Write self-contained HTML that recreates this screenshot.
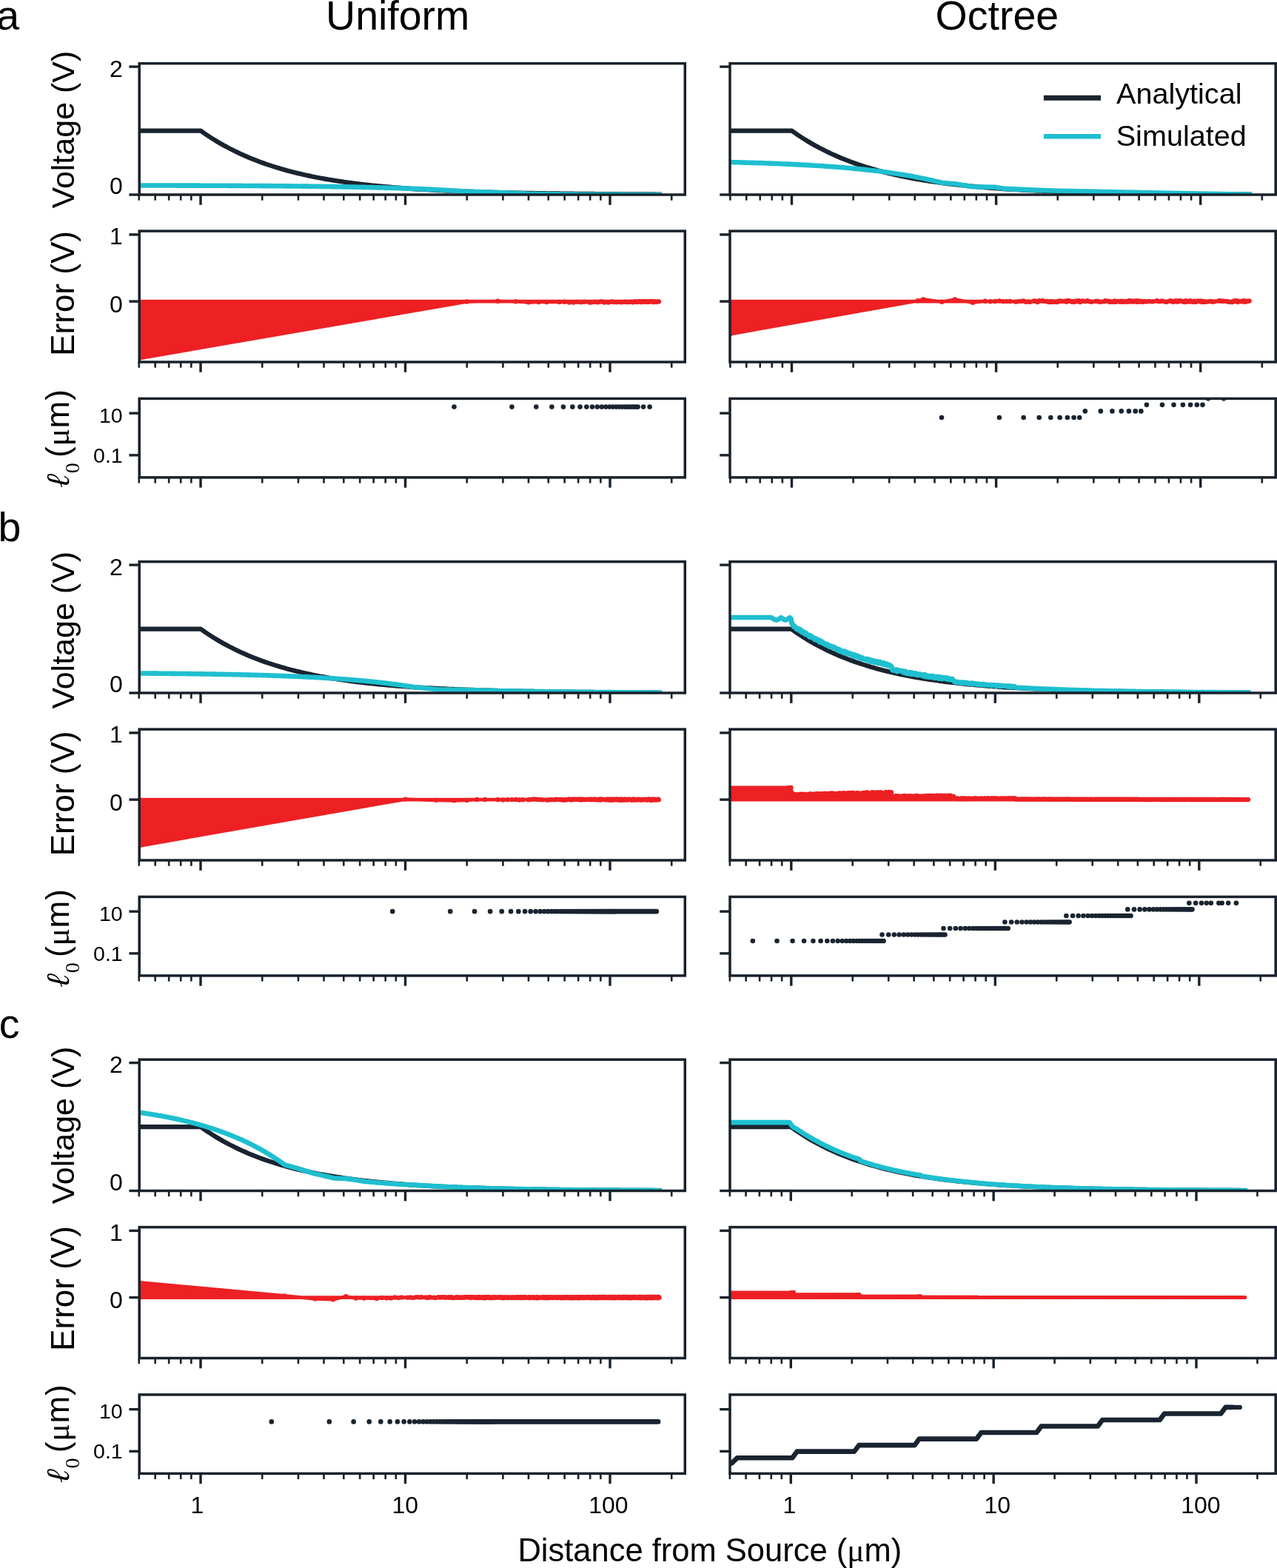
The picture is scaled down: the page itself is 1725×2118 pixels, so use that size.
<!DOCTYPE html>
<html><head><meta charset="utf-8"><title>Figure</title>
<style>html,body{margin:0;padding:0;background:#fff;overflow:hidden}svg{display:block}</style>
</head><body>
<svg width="1725" height="2118" viewBox="0 0 1725 2118"><defs><clipPath id="c00V"><rect x="188.2" y="85.7" width="737.1" height="177.3"/></clipPath><clipPath id="c00E"><rect x="188.2" y="312.1" width="737.1" height="176.9"/></clipPath><clipPath id="c00L"><rect x="188.2" y="538.4" width="737.1" height="106.5"/></clipPath><clipPath id="c01V"><rect x="188.2" y="758.7" width="737.1" height="177.3"/></clipPath><clipPath id="c01E"><rect x="188.2" y="985.1" width="737.1" height="176.9"/></clipPath><clipPath id="c01L"><rect x="188.2" y="1211.4" width="737.1" height="106.5"/></clipPath><clipPath id="c02V"><rect x="188.2" y="1431.2" width="737.1" height="177.3"/></clipPath><clipPath id="c02E"><rect x="188.2" y="1657.6" width="737.1" height="176.9"/></clipPath><clipPath id="c02L"><rect x="188.2" y="1883.9" width="737.1" height="106.5"/></clipPath><clipPath id="c10V"><rect x="986" y="85.7" width="737.2" height="177.3"/></clipPath><clipPath id="c10E"><rect x="986" y="312.1" width="737.2" height="176.9"/></clipPath><clipPath id="c10L"><rect x="986" y="538.4" width="737.2" height="106.5"/></clipPath><clipPath id="c11V"><rect x="986" y="758.7" width="737.2" height="177.3"/></clipPath><clipPath id="c11E"><rect x="986" y="985.1" width="737.2" height="176.9"/></clipPath><clipPath id="c11L"><rect x="986" y="1211.4" width="737.2" height="106.5"/></clipPath><clipPath id="c12V"><rect x="986" y="1431.2" width="737.2" height="177.3"/></clipPath><clipPath id="c12E"><rect x="986" y="1657.6" width="737.2" height="176.9"/></clipPath><clipPath id="c12L"><rect x="986" y="1883.9" width="737.2" height="106.5"/></clipPath></defs><rect width="100%" height="100%" fill="#fff"/><g clip-path="url(#c00V)">
<polyline points="187.77,176.55 271,176.55 274.87,179.29 278.74,181.95 282.62,184.52 286.49,187.01 290.36,189.42 294.23,191.76 298.1,194.02 301.98,196.21 305.85,198.33 309.72,200.38 313.59,202.36 317.46,204.29 321.34,206.15 325.21,207.96 329.08,209.7 332.95,211.39 336.82,213.03 340.7,214.62 344.57,216.15 348.44,217.64 352.31,219.08 356.18,220.47 360.05,221.82 363.93,223.13 367.8,224.39 371.67,225.62 375.54,226.8 379.41,227.95 383.29,229.06 387.16,230.14 391.03,231.18 394.9,232.19 398.77,233.17 402.65,234.12 406.52,235.03 410.39,235.92 414.26,236.78 418.13,237.61 422.01,238.42 425.88,239.2 429.75,239.95 433.62,240.68 437.49,241.39 441.37,242.08 445.24,242.74 449.11,243.38 452.98,244.01 456.85,244.61 460.73,245.19 464.6,245.76 468.47,246.3 472.34,246.83 476.21,247.35 480.09,247.84 483.96,248.33 487.83,248.79 491.7,249.24 495.57,249.68 499.45,250.1 503.32,250.51 507.19,250.91 511.06,251.29 514.93,251.66 518.8,252.02 522.68,252.37 526.55,252.71 530.42,253.03 534.29,253.35 538.16,253.66 542.04,253.95 545.91,254.24 549.78,254.52 553.65,254.79 557.52,255.05 561.4,255.3 565.27,255.54 569.14,255.78 573.01,256.01 576.88,256.23 580.76,256.45 584.63,256.65 588.5,256.86 592.37,257.05 596.24,257.24 600.12,257.42 603.99,257.6 607.86,257.77 611.73,257.94 615.6,258.1 619.48,258.25 623.35,258.4 627.22,258.55 631.09,258.69 634.96,258.83 638.84,258.96 642.71,259.09 646.58,259.21 650.45,259.33 654.32,259.45 658.19,259.56 662.07,259.67 665.94,259.78 669.81,259.88 673.68,259.98 677.55,260.07 681.43,260.17 685.3,260.26 689.17,260.34 693.04,260.43 696.91,260.51 700.79,260.59 704.66,260.66 708.53,260.74 712.4,260.81 716.27,260.88 720.15,260.95 724.02,261.01 727.89,261.08 731.76,261.14 735.63,261.2 739.51,261.25 743.38,261.31 747.25,261.36 751.12,261.41 754.99,261.46 758.87,261.51 762.74,261.56 766.61,261.61 770.48,261.65 774.35,261.69 778.23,261.73 782.1,261.77 785.97,261.81 789.84,261.85 793.71,261.89 797.59,261.92 801.46,261.96 805.33,261.99 809.2,262.02 813.07,262.05 816.94,262.08 820.82,262.11 824.69,262.14 828.56,262.17 832.43,262.19 836.3,262.22 840.18,262.24 844.05,262.27 847.92,262.29 851.79,262.31 855.66,262.34 859.54,262.36 863.41,262.38 867.28,262.4 871.15,262.42 875.02,262.43 878.9,262.45 882.77,262.47 886.64,262.49 890.51,262.5" fill="none" stroke="#1a2430" stroke-width="6.2" stroke-linejoin="round" stroke-linecap="square"/>
<polyline points="187.77,250.46 188.94,250.47 190.11,250.47 191.28,250.47 192.46,250.47 193.63,250.48 194.8,250.48 195.98,250.48 197.15,250.48 198.32,250.48 199.5,250.49 200.67,250.49 201.84,250.49 203.02,250.49 204.19,250.5 205.36,250.5 206.54,250.5 207.71,250.5 208.88,250.51 210.06,250.51 211.23,250.51 212.4,250.51 213.58,250.52 214.75,250.52 215.92,250.52 217.1,250.52 218.27,250.53 219.44,250.53 220.61,250.53 221.79,250.53 222.96,250.54 224.13,250.54 225.31,250.54 226.48,250.54 227.65,250.55 228.83,250.55 230,250.55 231.17,250.56 232.35,250.56 233.52,250.56 234.69,250.57 235.87,250.57 237.04,250.57 238.21,250.57 239.39,250.58 240.56,250.58 241.73,250.58 242.91,250.59 244.08,250.59 245.25,250.59 246.43,250.6 247.6,250.6 248.77,250.6 249.94,250.61 251.12,250.61 252.29,250.61 253.46,250.62 254.64,250.62 255.81,250.63 256.98,250.63 258.16,250.63 259.33,250.64 260.5,250.64 261.68,250.64 262.85,250.65 264.02,250.65 265.2,250.66 266.37,250.66 267.54,250.66 268.72,250.67 269.89,250.67 271.06,250.68 272.24,250.68 273.41,250.68 274.58,250.69 275.76,250.69 276.93,250.7 278.1,250.7 279.27,250.71 280.45,250.71 281.62,250.71 282.79,250.72 283.97,250.72 285.14,250.73 286.31,250.73 287.49,250.74 288.66,250.74 289.83,250.75 291.01,250.75 292.18,250.76 293.35,250.76 294.53,250.77 295.7,250.77 296.87,250.78 298.05,250.78 299.22,250.79 300.39,250.79 301.57,250.8 302.74,250.8 303.91,250.81 305.09,250.81 306.26,250.82 307.43,250.82 308.6,250.83 309.78,250.84 310.95,250.84 312.12,250.85 313.3,250.85 314.47,250.86 315.64,250.86 316.82,250.87 317.99,250.88 319.16,250.88 320.34,250.89 321.51,250.9 322.68,250.9 323.86,250.91 325.03,250.91 326.2,250.92 327.38,250.93 328.55,250.93 329.72,250.94 330.9,250.95 332.07,250.95 333.24,250.96 334.42,250.97 335.59,250.98 336.76,250.98 337.93,250.99 339.11,251 340.28,251 341.45,251.01 342.63,251.02 343.8,251.03 344.97,251.03 346.15,251.04 347.32,251.05 348.49,251.06 349.67,251.07 350.84,251.07 352.01,251.08 353.19,251.09 354.36,251.1 355.53,251.11 356.71,251.11 357.88,251.12 359.05,251.13 360.23,251.14 361.4,251.15 362.57,251.16 363.75,251.17 364.92,251.17 366.09,251.18 367.26,251.19 368.44,251.2 369.61,251.21 370.78,251.22 371.96,251.23 373.13,251.24 374.3,251.25 375.48,251.26 376.65,251.27 377.82,251.28 379,251.29 380.17,251.3 381.34,251.31 382.52,251.32 383.69,251.33 384.86,251.34 386.04,251.35 387.21,251.36 388.38,251.37 389.56,251.38 390.73,251.4 391.9,251.41 393.08,251.42 394.25,251.43 395.42,251.44 396.59,251.45 397.77,251.46 398.94,251.48 400.11,251.49 401.29,251.5 402.46,251.51 403.63,251.53 404.81,251.54 405.98,251.55 407.15,251.56 408.33,251.58 409.5,251.59 410.67,251.6 411.85,251.62 413.02,251.63 414.19,251.64 415.37,251.66 416.54,251.67 417.71,251.68 418.89,251.7 420.06,251.71 421.23,251.73 422.41,251.74 423.58,251.75 424.75,251.77 425.92,251.78 427.1,251.8 428.27,251.81 429.44,251.83 430.62,251.85 431.79,251.86 432.96,251.88 434.14,251.89 435.31,251.91 436.48,251.93 437.66,251.94 438.83,251.96 440,251.97 441.18,251.99 442.35,252.01 443.52,252.03 444.7,252.04 445.87,252.06 447.04,252.08 448.22,252.1 449.39,252.11 450.56,252.13 451.74,252.15 452.91,252.17 454.08,252.19 455.25,252.21 456.43,252.23 457.6,252.25 458.77,252.27 459.95,252.29 461.12,252.31 462.29,252.33 463.47,252.35 464.64,252.37 465.81,252.39 466.99,252.41 468.16,252.43 469.33,252.45 470.51,252.47 471.68,252.49 472.85,252.52 474.03,252.54 475.2,252.56 476.37,252.58 477.55,252.61 478.72,252.63 479.89,252.65 481.07,252.68 482.24,252.7 483.41,252.72 484.58,252.75 485.76,252.77 486.93,252.8 488.1,252.82 489.28,252.85 490.45,252.87 491.62,252.9 492.8,252.92 493.97,252.95 495.14,252.98 496.32,253 497.49,253.03 498.66,253.06 499.84,253.09 501.01,253.11 502.18,253.14 503.36,253.17 504.53,253.2 505.7,253.23 506.88,253.26 508.05,253.29 509.22,253.32 510.4,253.35 511.57,253.38 512.74,253.41 513.91,253.44 515.09,253.47 516.26,253.5 517.43,253.53 518.61,253.57 519.78,253.6 520.95,253.63 522.13,253.66 523.3,253.7 524.47,253.73 525.65,253.77 526.82,253.8 527.99,253.83 529.17,253.87 530.34,253.9 531.51,253.94 532.69,253.98 533.86,254.01 535.03,254.05 536.21,254.09 537.38,254.13 538.55,254.16 539.73,254.2 540.9,254.24 542.07,254.28 543.24,254.32 544.42,254.36 545.59,254.4 546.76,254.44 547.94,254.48 549.11,254.52 550.28,254.56 551.46,254.61 552.63,254.65 553.8,254.69 554.98,254.74 556.15,254.78 557.32,254.82 558.5,254.87 559.67,254.92 560.84,254.96 562.02,255.01 563.19,255.05 564.36,255.1 565.54,255.15 566.71,255.2 567.88,255.24 569.06,255.29 570.23,255.34 571.4,255.39 572.57,255.44 573.75,255.49 574.92,255.55 576.09,255.6 577.27,255.65 578.44,255.7 579.61,255.76 580.79,255.81 581.96,255.87 583.13,255.92 584.31,255.98 585.48,256.03 586.65,256.09 587.83,256.15 589,256.2 590.17,256.26 591.35,256.32 592.52,256.38 593.69,256.44 594.87,256.5 596.04,256.56 597.21,256.63 598.39,256.69 599.56,256.75 600.73,256.82 601.9,256.88 603.08,256.94 604.25,257.01 605.42,257.08 606.6,257.14 607.77,257.21 608.94,257.28 610.12,257.35 611.29,257.42 612.46,257.49 613.64,257.56 614.81,257.63 615.98,257.7 617.16,257.78 618.33,257.85 619.5,257.93 620.68,258 621.85,258.08 623.02,258.15 624.2,258.23 625.37,258.31 626.54,258.39 627.72,258.47 628.89,258.55 630.06,258.63 630.73,258.68 631.23,258.69 632.41,258.72 633.58,258.75 634.75,258.78 635.93,258.82 637.1,258.85 638.27,258.88 639.45,258.91 640.62,258.94 641.79,258.98 642.97,259.01 644.14,259.05 645.31,259.08 646.49,259.11 647.66,259.15 648.83,259.18 650.01,259.22 651.18,259.26 652.35,259.29 653.53,259.33 654.7,259.36 655.87,259.4 657.05,259.44 658.22,259.48 659.39,259.52 660.56,259.56 661.74,259.59 662.91,259.63 664.08,259.67 665.26,259.71 666.43,259.75 667.6,259.8 668.78,259.84 669.95,259.88 671.12,259.92 672.3,259.96 673.47,260.01 674.64,260.05 675.82,260.1 676.99,260.14 678.16,260.18 679.34,260.23 680.51,260.28 681.68,260.32 682.86,260.37 684.03,260.42 685.2,260.46 686.38,260.51 687.55,260.56 688.72,260.61 689.89,260.66 691.07,260.71 692.24,260.76 693.41,260.81 694.59,260.86 695.76,260.91 696.93,260.97 698.11,261.02 699.28,261.07 700.45,261.13 701.63,261.18 702.8,261.24 703.97,261.29 705.15,261.35 706.32,261.41 707.49,261.46 708.67,261.52 709.84,261.58 711.01,261.64 712.19,261.7 713.36,261.76 713.97,261.79 714.53,261.8 715.71,261.81 716.88,261.83 718.05,261.84 719.22,261.85 720.4,261.87 721.57,261.88 722.74,261.9 723.92,261.91 725.09,261.93 726.26,261.95 727.44,261.96 728.61,261.98 729.78,261.99 730.96,262.01 732.13,262.02 733.3,262.04 734.48,262.06 735.65,262.07 736.82,262.09 738,262.11 739.17,262.13 740.34,262.14 741.52,262.16 742.69,262.18 743.86,262.2 745.04,262.22 746.21,262.23 747.38,262.25 748.55,262.27 749.73,262.29 750.9,262.31 752.07,262.33 753.25,262.35 754.42,262.37 755.59,262.39 756.77,262.41 757.94,262.43 759.11,262.45 760.29,262.47 761.46,262.49 762.63,262.51 763.81,262.52 764.98,262.53 766.15,262.54 767.33,262.55 768.5,262.56 769.67,262.58 770.85,262.59 772.02,262.6 773.19,262.61 774.37,262.62 775.54,262.63 776.71,262.64 777.88,262.66 779.06,262.67 780.23,262.68 781.4,262.69 782.58,262.71 783.75,262.72 784.92,262.73 786.1,262.74 787.27,262.76 788.44,262.77 789.62,262.78 790.79,262.8 791.96,262.81 793.14,262.82 794.31,262.84 795.48,262.85 796.66,262.86 797.2,262.87 797.83,262.87 799,262.87 800.18,262.87 801.35,262.88 802.52,262.88 803.7,262.88 804.87,262.88 806.04,262.88 807.21,262.89 808.39,262.89 809.56,262.89 810.73,262.89 811.91,262.89 813.08,262.89 814.25,262.9 815.43,262.9 816.6,262.9 817.77,262.9 818.95,262.9 820.12,262.91 821.29,262.91 822.47,262.91 823.64,262.91 824.81,262.91 825.99,262.91 827.16,262.92 828.33,262.92 829.51,262.92 830.68,262.92 831.85,262.92 833.03,262.92 834.2,262.92 835.37,262.92 836.54,262.92 837.72,262.92 838.89,262.92 840.06,262.92 841.24,262.92 842.41,262.93 843.58,262.93 844.76,262.93 845.89,262.93 847.1,262.93 848.28,262.93 849.45,262.93 850.62,262.93 851.8,262.93 852.97,262.93 854.14,262.93 855.32,262.93 856.49,262.93 857.66,262.93 858.84,262.93 860.01,262.94 861.18,262.94 862.36,262.94 863.53,262.94 864.4,262.94 865.87,262.94 867.05,262.94 868.22,262.94 869.39,262.94 870.57,262.94 871.74,262.94 872.91,262.94 874.09,262.94 875.26,262.94 876.43,262.94 877.61,262.94 878.78,262.95 879.95,262.95 880.44,262.95 881.13,262.95 882.3,262.95 883.47,262.95 884.65,262.95 885.82,262.95 886.99,262.95 888.17,262.95 889.34,262.95 890.51,262.95" fill="none" stroke="#1ebfcf" stroke-width="6.6" stroke-linejoin="round" stroke-linecap="square"/>
</g>
<g clip-path="url(#c00E)">
<polygon points="187.77,407.1 187.77,484.22 630.73,407.5 672.35,406.75 696.7,407.29 713.97,408.36 727.37,408.04 738.31,408.07 755.59,407.89 762.66,407.78 768.98,408.52 774.71,408.58 779.93,407.7 784.74,408.14 789.19,407.79 797.2,408.63 800.84,408.12 804.28,407.8 807.52,408.31 810.6,407.51 813.53,407.54 816.32,408.47 821.55,408.44 824,407.87 826.35,407.42 828.62,408.01 832.91,408.16 834.95,407.92 838.82,408.33 840.67,408.11 842.46,407.86 844.2,407.79 845.89,408.07 847.54,408.06 849.14,408.06 852.22,407.79 853.7,407.96 855.15,408.24 856.56,407.35 857.94,407.65 859.29,407.55 860.61,408.04 863.17,407.15 864.4,407.29 865.62,408.08 866.81,407.85 867.97,407.42 869.12,407.43 870.24,407.18 872.42,407.73 873.48,407.28 874.53,407.45 875.56,407.84 877.56,407.52 878.53,407.2 880.44,407.23 881.37,407.6 882.29,407.5 883.19,408.1 884.08,407.87 884.96,407.27 885.82,407.68 887.51,407.93 888.34,407.52 889.16,407.35 889.96,407.38 889.96,407.1" fill="#ed2024" stroke="#ed2024" stroke-width="4.6" stroke-linejoin="round"/>
<circle cx="187.77" cy="484.22" r="3.2" fill="#ed2024"/>
<circle cx="630.73" cy="407.5" r="3.2" fill="#ed2024"/>
<circle cx="672.35" cy="406.75" r="3.2" fill="#ed2024"/>
<circle cx="696.7" cy="407.29" r="3.2" fill="#ed2024"/>
<circle cx="713.97" cy="408.36" r="3.2" fill="#ed2024"/>
<circle cx="727.37" cy="408.04" r="3.2" fill="#ed2024"/>
<circle cx="738.31" cy="408.07" r="3.2" fill="#ed2024"/>
<circle cx="755.59" cy="407.89" r="3.2" fill="#ed2024"/>
<circle cx="762.66" cy="407.78" r="3.2" fill="#ed2024"/>
<circle cx="768.98" cy="408.52" r="3.2" fill="#ed2024"/>
<circle cx="774.71" cy="408.58" r="3.2" fill="#ed2024"/>
<circle cx="779.93" cy="407.7" r="3.2" fill="#ed2024"/>
<circle cx="784.74" cy="408.14" r="3.2" fill="#ed2024"/>
<circle cx="789.19" cy="407.79" r="3.2" fill="#ed2024"/>
<circle cx="797.2" cy="408.63" r="3.2" fill="#ed2024"/>
<circle cx="800.84" cy="408.12" r="3.2" fill="#ed2024"/>
<circle cx="804.28" cy="407.8" r="3.2" fill="#ed2024"/>
<circle cx="807.52" cy="408.31" r="3.2" fill="#ed2024"/>
<circle cx="810.6" cy="407.51" r="3.2" fill="#ed2024"/>
<circle cx="813.53" cy="407.54" r="3.2" fill="#ed2024"/>
<circle cx="816.32" cy="408.47" r="3.2" fill="#ed2024"/>
<circle cx="821.55" cy="408.44" r="3.2" fill="#ed2024"/>
<circle cx="824" cy="407.87" r="3.2" fill="#ed2024"/>
<circle cx="826.35" cy="407.42" r="3.2" fill="#ed2024"/>
<circle cx="828.62" cy="408.01" r="3.2" fill="#ed2024"/>
<circle cx="832.91" cy="408.16" r="3.2" fill="#ed2024"/>
<circle cx="834.95" cy="407.92" r="3.2" fill="#ed2024"/>
<circle cx="838.82" cy="408.33" r="3.2" fill="#ed2024"/>
<circle cx="840.67" cy="408.11" r="3.2" fill="#ed2024"/>
<circle cx="842.46" cy="407.86" r="3.2" fill="#ed2024"/>
<circle cx="844.2" cy="407.79" r="3.2" fill="#ed2024"/>
<circle cx="845.89" cy="408.07" r="3.2" fill="#ed2024"/>
<circle cx="847.54" cy="408.06" r="3.2" fill="#ed2024"/>
<circle cx="849.14" cy="408.06" r="3.2" fill="#ed2024"/>
<circle cx="852.22" cy="407.79" r="3.2" fill="#ed2024"/>
<circle cx="853.7" cy="407.96" r="3.2" fill="#ed2024"/>
<circle cx="855.15" cy="408.24" r="3.2" fill="#ed2024"/>
<circle cx="856.56" cy="407.35" r="3.2" fill="#ed2024"/>
<circle cx="857.94" cy="407.65" r="3.2" fill="#ed2024"/>
<circle cx="859.29" cy="407.55" r="3.2" fill="#ed2024"/>
<circle cx="860.61" cy="408.04" r="3.2" fill="#ed2024"/>
<circle cx="863.17" cy="407.15" r="3.2" fill="#ed2024"/>
<circle cx="864.4" cy="407.29" r="3.2" fill="#ed2024"/>
<circle cx="865.62" cy="408.08" r="3.2" fill="#ed2024"/>
<circle cx="866.81" cy="407.85" r="3.2" fill="#ed2024"/>
<circle cx="867.97" cy="407.42" r="3.2" fill="#ed2024"/>
<circle cx="869.12" cy="407.43" r="3.2" fill="#ed2024"/>
<circle cx="870.24" cy="407.18" r="3.2" fill="#ed2024"/>
<circle cx="872.42" cy="407.73" r="3.2" fill="#ed2024"/>
<circle cx="873.48" cy="407.28" r="3.2" fill="#ed2024"/>
<circle cx="874.53" cy="407.45" r="3.2" fill="#ed2024"/>
<circle cx="875.56" cy="407.84" r="3.2" fill="#ed2024"/>
<circle cx="877.56" cy="407.52" r="3.2" fill="#ed2024"/>
<circle cx="878.53" cy="407.2" r="3.2" fill="#ed2024"/>
<polyline points="880.44,407.23 881.37,407.6 882.29,407.5" fill="none" stroke="#ed2024" stroke-width="6.4" stroke-linecap="round" stroke-linejoin="round"/>
<polyline points="883.19,408.1 884.08,407.87" fill="none" stroke="#ed2024" stroke-width="6.4" stroke-linecap="round" stroke-linejoin="round"/>
<polyline points="884.96,407.27 885.82,407.68" fill="none" stroke="#ed2024" stroke-width="6.4" stroke-linecap="round" stroke-linejoin="round"/>
<polyline points="887.51,407.93 888.34,407.52 889.16,407.35 889.96,407.38" fill="none" stroke="#ed2024" stroke-width="6.4" stroke-linecap="round" stroke-linejoin="round"/>
</g>
<g clip-path="url(#c00L)">
<circle cx="613.46" cy="549.62" r="3.3" fill="#1a2430"/>
<circle cx="691.47" cy="549.62" r="3.3" fill="#1a2430"/>
<circle cx="724.29" cy="549.62" r="3.3" fill="#1a2430"/>
<circle cx="745.39" cy="549.62" r="3.3" fill="#1a2430"/>
<circle cx="760.97" cy="549.62" r="3.3" fill="#1a2430"/>
<circle cx="773.33" cy="549.62" r="3.3" fill="#1a2430"/>
<circle cx="783.57" cy="549.62" r="3.3" fill="#1a2430"/>
<circle cx="792.32" cy="549.62" r="3.3" fill="#1a2430"/>
<circle cx="799.95" cy="549.62" r="3.3" fill="#1a2430"/>
<circle cx="806.73" cy="549.62" r="3.3" fill="#1a2430"/>
<circle cx="812.81" cy="549.62" r="3.3" fill="#1a2430"/>
<circle cx="818.34" cy="549.62" r="3.3" fill="#1a2430"/>
<circle cx="823.4" cy="549.62" r="3.3" fill="#1a2430"/>
<circle cx="828.06" cy="549.62" r="3.3" fill="#1a2430"/>
<circle cx="832.39" cy="549.62" r="3.3" fill="#1a2430"/>
<circle cx="836.43" cy="549.62" r="3.3" fill="#1a2430"/>
<circle cx="840.21" cy="549.62" r="3.3" fill="#1a2430"/>
<circle cx="843.77" cy="549.62" r="3.3" fill="#1a2430"/>
<circle cx="847.13" cy="549.62" r="3.3" fill="#1a2430"/>
<circle cx="850.31" cy="549.62" r="3.3" fill="#1a2430"/>
<circle cx="853.33" cy="549.62" r="3.3" fill="#1a2430"/>
<circle cx="856.21" cy="549.62" r="3.3" fill="#1a2430"/>
<circle cx="858.96" cy="549.62" r="3.3" fill="#1a2430"/>
<circle cx="861.58" cy="549.62" r="3.3" fill="#1a2430"/>
<circle cx="869.11" cy="549.62" r="3.3" fill="#1a2430"/>
<circle cx="877.63" cy="549.62" r="3.3" fill="#1a2430"/>
</g>
<g clip-path="url(#c01V)">
<polyline points="187.77,849.55 271,849.55 274.87,852.29 278.74,854.95 282.62,857.52 286.49,860.01 290.36,862.42 294.23,864.76 298.1,867.02 301.98,869.21 305.85,871.33 309.72,873.38 313.59,875.36 317.46,877.29 321.34,879.15 325.21,880.96 329.08,882.7 332.95,884.39 336.82,886.03 340.7,887.62 344.57,889.15 348.44,890.64 352.31,892.08 356.18,893.47 360.05,894.82 363.93,896.13 367.8,897.39 371.67,898.62 375.54,899.8 379.41,900.95 383.29,902.06 387.16,903.14 391.03,904.18 394.9,905.19 398.77,906.17 402.65,907.12 406.52,908.03 410.39,908.92 414.26,909.78 418.13,910.61 422.01,911.42 425.88,912.2 429.75,912.95 433.62,913.68 437.49,914.39 441.37,915.08 445.24,915.74 449.11,916.38 452.98,917.01 456.85,917.61 460.73,918.19 464.6,918.76 468.47,919.3 472.34,919.83 476.21,920.35 480.09,920.84 483.96,921.33 487.83,921.79 491.7,922.24 495.57,922.68 499.45,923.1 503.32,923.51 507.19,923.91 511.06,924.29 514.93,924.66 518.8,925.02 522.68,925.37 526.55,925.71 530.42,926.03 534.29,926.35 538.16,926.66 542.04,926.95 545.91,927.24 549.78,927.52 553.65,927.79 557.52,928.05 561.4,928.3 565.27,928.54 569.14,928.78 573.01,929.01 576.88,929.23 580.76,929.45 584.63,929.65 588.5,929.86 592.37,930.05 596.24,930.24 600.12,930.42 603.99,930.6 607.86,930.77 611.73,930.94 615.6,931.1 619.48,931.25 623.35,931.4 627.22,931.55 631.09,931.69 634.96,931.83 638.84,931.96 642.71,932.09 646.58,932.21 650.45,932.33 654.32,932.45 658.19,932.56 662.07,932.67 665.94,932.78 669.81,932.88 673.68,932.98 677.55,933.07 681.43,933.17 685.3,933.26 689.17,933.34 693.04,933.43 696.91,933.51 700.79,933.59 704.66,933.66 708.53,933.74 712.4,933.81 716.27,933.88 720.15,933.95 724.02,934.01 727.89,934.08 731.76,934.14 735.63,934.2 739.51,934.25 743.38,934.31 747.25,934.36 751.12,934.41 754.99,934.46 758.87,934.51 762.74,934.56 766.61,934.61 770.48,934.65 774.35,934.69 778.23,934.73 782.1,934.77 785.97,934.81 789.84,934.85 793.71,934.89 797.59,934.92 801.46,934.96 805.33,934.99 809.2,935.02 813.07,935.05 816.94,935.08 820.82,935.11 824.69,935.14 828.56,935.17 832.43,935.19 836.3,935.22 840.18,935.24 844.05,935.27 847.92,935.29 851.79,935.31 855.66,935.34 859.54,935.36 863.41,935.38 867.28,935.4 871.15,935.42 875.02,935.43 878.9,935.45 882.77,935.47 886.64,935.49 890.51,935.5" fill="none" stroke="#1a2430" stroke-width="6.2" stroke-linejoin="round" stroke-linecap="square"/>
<polyline points="187.77,909.46 188.94,909.47 190.11,909.48 191.28,909.49 192.46,909.5 193.63,909.5 194.8,909.51 195.98,909.52 197.15,909.53 198.32,909.54 199.5,909.55 200.67,909.56 201.84,909.57 203.02,909.58 204.19,909.59 205.36,909.6 206.54,909.61 207.71,909.62 208.88,909.63 210.06,909.64 211.23,909.65 212.4,909.66 213.58,909.67 214.75,909.68 215.92,909.69 217.1,909.7 218.27,909.72 219.44,909.73 220.61,909.74 221.79,909.75 222.96,909.76 224.13,909.77 225.31,909.78 226.48,909.8 227.65,909.81 228.83,909.82 230,909.83 231.17,909.85 232.35,909.86 233.52,909.87 234.69,909.88 235.87,909.9 237.04,909.91 238.21,909.92 239.39,909.94 240.56,909.95 241.73,909.96 242.91,909.98 244.08,909.99 245.25,910 246.43,910.02 247.6,910.03 248.77,910.05 249.94,910.06 251.12,910.07 252.29,910.09 253.46,910.1 254.64,910.12 255.81,910.13 256.98,910.15 258.16,910.17 259.33,910.18 260.5,910.2 261.68,910.21 262.85,910.23 264.02,910.24 265.2,910.26 266.37,910.28 267.54,910.29 268.72,910.31 269.89,910.33 271.06,910.35 272.24,910.36 273.41,910.38 274.58,910.4 275.76,910.42 276.93,910.43 278.1,910.45 279.27,910.47 280.45,910.49 281.62,910.51 282.79,910.53 283.97,910.55 285.14,910.57 286.31,910.59 287.49,910.61 288.66,910.63 289.83,910.65 291.01,910.67 292.18,910.69 293.35,910.71 294.53,910.73 295.7,910.75 296.87,910.77 298.05,910.79 299.22,910.81 300.39,910.84 301.57,910.86 302.74,910.88 303.91,910.9 305.09,910.93 306.26,910.95 307.43,910.97 308.6,911 309.78,911.02 310.95,911.04 312.12,911.07 313.3,911.09 314.47,911.12 315.64,911.14 316.82,911.17 317.99,911.19 319.16,911.22 320.34,911.24 321.51,911.27 322.68,911.3 323.86,911.32 325.03,911.35 326.2,911.38 327.38,911.41 328.55,911.43 329.72,911.46 330.9,911.49 332.07,911.52 333.24,911.55 334.42,911.58 335.59,911.61 336.76,911.64 337.93,911.67 339.11,911.7 340.28,911.73 341.45,911.76 342.63,911.79 343.8,911.82 344.97,911.85 346.15,911.88 347.32,911.92 348.49,911.95 349.67,911.98 350.84,912.02 352.01,912.05 353.19,912.08 354.36,912.12 355.53,912.15 356.71,912.19 357.88,912.22 359.05,912.26 360.23,912.3 361.4,912.33 362.57,912.37 363.75,912.41 364.92,912.44 366.09,912.48 367.26,912.52 368.44,912.56 369.61,912.6 370.78,912.64 371.96,912.68 373.13,912.72 374.3,912.76 375.48,912.8 376.65,912.84 377.82,912.88 379,912.93 380.17,912.97 381.34,913.01 382.52,913.05 383.69,913.1 384.86,913.14 386.04,913.19 387.21,913.23 388.38,913.28 389.56,913.32 390.73,913.37 391.9,913.42 393.08,913.47 394.25,913.51 395.42,913.56 396.59,913.61 397.77,913.66 398.94,913.71 400.11,913.76 401.29,913.81 402.46,913.86 403.63,913.92 404.81,913.97 405.98,914.02 407.15,914.07 408.33,914.13 409.5,914.18 410.67,914.24 411.85,914.29 413.02,914.35 414.19,914.41 415.37,914.46 416.54,914.52 417.71,914.58 418.89,914.64 420.06,914.7 421.23,914.76 422.41,914.82 423.58,914.88 424.75,914.94 425.92,915.01 427.1,915.07 428.27,915.13 429.44,915.2 430.62,915.26 431.79,915.33 432.96,915.39 434.14,915.46 435.31,915.53 436.48,915.6 437.66,915.67 438.83,915.73 440,915.81 441.18,915.88 442.35,915.95 443.52,916.02 444.7,916.09 445.87,916.17 447.04,916.24 448.22,916.32 449.39,916.39 450.56,916.47 451.74,916.55 452.91,916.63 454.08,916.7 455.25,916.78 456.43,916.86 457.6,916.95 458.77,917.03 459.95,917.11 461.12,917.2 462.29,917.28 463.47,917.37 464.64,917.45 465.81,917.54 466.99,917.63 468.16,917.72 469.33,917.81 470.51,917.9 471.68,917.99 472.85,918.08 474.03,918.17 475.2,918.27 476.37,918.36 477.55,918.46 478.72,918.56 479.89,918.65 481.07,918.75 482.24,918.85 483.41,918.95 484.58,919.06 485.76,919.16 486.93,919.26 488.1,919.37 489.28,919.47 490.45,919.58 491.62,919.69 492.8,919.8 493.97,919.91 495.14,920.02 496.32,920.13 497.49,920.24 498.66,920.36 499.84,920.47 501.01,920.59 502.18,920.71 503.36,920.83 504.53,920.95 505.7,921.07 506.88,921.19 508.05,921.32 509.22,921.44 510.4,921.57 511.57,921.7 512.74,921.82 513.91,921.95 515.09,922.09 516.26,922.22 517.43,922.35 518.61,922.49 519.78,922.62 520.95,922.76 522.13,922.9 523.3,923.04 524.47,923.18 525.65,923.33 526.82,923.47 527.99,923.62 529.17,923.77 530.34,923.92 531.51,924.07 532.69,924.22 533.86,924.37 535.03,924.53 536.21,924.68 537.38,924.84 538.55,925 539.73,925.16 540.9,925.33 542.07,925.49 543.24,925.66 544.42,925.82 545.59,925.99 546.76,926.16 547.94,926.34 549.11,926.51 550.28,926.69 551.46,926.87 552.63,927.05 553.8,927.23 554.98,927.41 556.15,927.59 557.32,927.78 558.5,927.97 559.67,928.16 560.84,928.29 562.02,928.39 563.19,928.5 564.36,928.6 565.54,928.71 566.71,928.82 567.88,928.92 569.06,929.03 570.23,929.14 571.4,929.26 572.57,929.37 573.75,929.48 574.92,929.6 576.09,929.71 577.27,929.83 578.44,929.95 579.61,930.07 580.79,930.19 581.96,930.31 583.13,930.43 584.31,930.56 585.48,930.68 586.65,930.81 587.83,930.94 589,931.07 590.17,931.2 591.35,931.33 592.12,931.42 592.52,931.42 593.69,931.44 594.87,931.46 596.04,931.47 597.21,931.49 598.39,931.5 599.56,931.52 600.73,931.54 601.9,931.55 603.08,931.57 604.25,931.59 605.42,931.61 606.6,931.62 607.77,931.64 608.94,931.66 610.12,931.68 611.29,931.69 612.46,931.71 613.64,931.73 614.81,931.75 615.98,931.77 617.16,931.79 618.33,931.81 619.5,931.83 620.68,931.85 621.85,931.87 623.02,931.89 624.2,931.91 625.37,931.93 626.54,931.95 627.72,931.97 628.89,931.99 630.06,932.01 630.73,932.02 631.23,932.03 632.41,932.06 633.58,932.09 634.75,932.11 635.93,932.14 637.1,932.16 638.27,932.19 639.45,932.22 640.62,932.25 641.79,932.27 642.97,932.3 644.14,932.33 645.31,932.36 646.49,932.39 647.66,932.42 648.83,932.45 650.01,932.47 651.18,932.5 652.35,932.53 653.53,932.57 654.7,932.6 655.87,932.63 657.05,932.66 658.22,932.69 659.39,932.72 660.56,932.75 661.74,932.79 662.91,932.82 664.08,932.85 665.26,932.89 666.43,932.92 667.6,932.96 668.78,932.99 669.95,933.02 671.12,933.06 672.3,933.1 673.47,933.13 674.64,933.17 675.82,933.2 676.99,933.24 678.16,933.28 679.34,933.32 680.51,933.33 681.68,933.35 682.86,933.37 684.03,933.38 685.2,933.4 686.38,933.41 687.55,933.43 688.72,933.45 689.89,933.46 691.07,933.48 692.24,933.5 693.41,933.51 694.59,933.53 695.76,933.55 696.93,933.56 698.11,933.58 699.28,933.6 700.45,933.62 701.63,933.64 702.8,933.65 703.97,933.67 705.15,933.69 706.32,933.71 707.49,933.73 708.67,933.75 709.84,933.77 711.01,933.79 712.19,933.81 713.36,933.83 713.97,933.84 714.53,933.85 715.71,933.86 716.88,933.88 718.05,933.9 719.22,933.92 720.4,933.93 721.57,933.95 722.74,933.97 723.92,933.99 725.09,934.01 726.26,934.03 727.44,934.04 728.61,934.06 729.78,934.08 730.96,934.1 732.13,934.12 733.3,934.14 734.48,934.16 735.65,934.18 736.82,934.2 738,934.22 739.17,934.24 740.34,934.26 740.77,934.27 741.52,934.28 742.69,934.29 743.86,934.31 745.04,934.32 746.21,934.34 747.38,934.35 748.55,934.37 749.73,934.38 750.9,934.4 752.07,934.41 753.25,934.43 754.42,934.44 755.59,934.46 756.77,934.48 757.94,934.49 759.11,934.51 760.29,934.53 761.46,934.54 762.63,934.56 763.81,934.57 764.98,934.58 766.15,934.6 767.33,934.61 768.5,934.62 769.67,934.63 770.85,934.65 772.02,934.66 773.19,934.67 774.37,934.69 775.54,934.7 776.71,934.71 777.88,934.73 779.06,934.74 780.23,934.75 781.17,934.76 782.58,934.78 783.75,934.79 784.92,934.8 786.1,934.81 787.27,934.82 788.44,934.83 789.62,934.84 790.79,934.86 791.96,934.87 793.14,934.88 794.31,934.89 795.48,934.9 796.66,934.91 797.2,934.92 797.83,934.92 799,934.93 800.18,934.94 801.35,934.95 802.52,934.96 803.7,934.97 804.87,934.98 806.04,934.99 807.21,935 808.39,935.01 809.56,935.02 810.73,935.03 811.35,935.04 811.91,935.04 813.08,935.05 814.25,935.06 815.43,935.07 816.6,935.08 817.77,935.09 818.95,935.1 820.12,935.1 821.29,935.11 822.47,935.12 823.64,935.13 824.81,935.14 825.99,935.15 827.16,935.16 828.33,935.16 829.51,935.17 830.68,935.18 831.85,935.19 833.03,935.2 834.2,935.21 835.37,935.21 836.54,935.22 837.72,935.23 838.89,935.24 840.06,935.24 841.24,935.25 842.41,935.26 843.58,935.26 844.76,935.27 845.89,935.28 847.1,935.29 848.28,935.29 849.45,935.3 850.62,935.31 851.8,935.31 852.97,935.32 854.14,935.33 855.32,935.33 856.49,935.34 857.66,935.35 858.84,935.35 860.01,935.36 861.18,935.36 862.36,935.37 863.53,935.38 864.4,935.38 865.87,935.39 867.05,935.4 868.22,935.4 869.39,935.41 870.57,935.41 871.74,935.42 872.69,935.42 874.09,935.43 875.26,935.44 876.43,935.44 877.61,935.45 878.78,935.45 879.95,935.46 880.44,935.46 881.13,935.46 882.3,935.47 883.47,935.47 884.65,935.48 885.82,935.48 886.99,935.49 887.72,935.49 888.17,935.49 889.34,935.5 890.51,935.5" fill="none" stroke="#1ebfcf" stroke-width="6.6" stroke-linejoin="round" stroke-linecap="square"/>
</g>
<g clip-path="url(#c01E)">
<polygon points="187.77,1080.1 187.77,1142.61 547.5,1079.61 589.12,1080.86 613.46,1081.33 630.73,1080.91 644.13,1079.94 655.08,1079.99 672.35,1080.08 679.42,1080.52 685.75,1080.13 691.47,1080.08 696.7,1080.07 701.5,1080.5 705.95,1080.19 713.97,1080.22 717.61,1079.85 721.04,1079.54 724.29,1079.59 727.37,1080.03 730.3,1080.14 733.09,1080.33 738.31,1080.59 740.77,1080.61 743.12,1080.13 745.39,1080.29 749.68,1080.22 751.71,1079.66 755.59,1080.06 757.43,1080.02 759.23,1080.38 760.97,1080.61 762.66,1080.29 764.3,1080.49 765.91,1080.08 768.98,1079.55 770.47,1079.9 771.91,1080.44 773.33,1079.67 774.71,1079.77 776.06,1079.84 777.38,1079.65 779.93,1079.81 781.17,1079.79 782.38,1080.26 783.57,1079.58 784.74,1079.6 785.88,1080.46 787,1079.82 789.19,1079.86 790.25,1080.14 791.29,1080.06 792.32,1080.11 794.32,1079.64 795.3,1080.1 797.2,1079.74 798.14,1080.26 799.05,1079.68 799.95,1079.67 800.84,1080.14 801.72,1080.02 802.58,1079.64 804.28,1079.85 805.1,1080.11 805.92,1080.4 806.73,1080.29 807.52,1079.88 808.31,1080.46 809.08,1079.66 810.6,1080.35 811.35,1079.65 812.08,1080.31 812.81,1079.6 813.53,1079.88 814.24,1080.09 814.94,1080.08 816.32,1079.93 817,1080 817.67,1080.3 818.34,1080.41 819.64,1080.08 820.28,1079.63 821.55,1079.96 822.17,1080.56 822.79,1079.75 823.4,1079.85 824,1079.66 824.6,1080.43 825.19,1079.83 826.35,1080.58 826.93,1079.93 827.5,1080.34 828.06,1080.39 828.62,1079.69 829.17,1080.52 829.72,1080.07 831.34,1079.72 831.87,1080.37 832.39,1080.41 832.91,1079.69 833.43,1080.18 833.94,1079.86 834.95,1080.61 835.45,1080.25 835.94,1080.45 836.43,1079.91 837.4,1080.55 837.88,1079.61 838.82,1080.61 839.29,1079.85 839.75,1080.62 840.21,1080.36 840.67,1079.76 841.12,1080.47 841.57,1080.44 842.46,1079.89 842.9,1080.22 843.34,1080.59 843.77,1079.57 844.2,1080.48 844.63,1080.6 845.05,1080.27 845.89,1079.98 846.31,1079.84 846.72,1080.52 847.13,1080.28 847.54,1080.61 847.94,1080.15 848.34,1079.81 849.14,1079.84 849.92,1079.82 851.08,1079.88 852.22,1080.4 852.59,1079.92 853.33,1080.53 854.07,1079.69 854.43,1080.5 855.15,1080.01 855.86,1080.08 856.21,1080.49 856.56,1079.6 856.91,1080.36 857.94,1080.19 858.28,1080.62 858.62,1080.04 858.96,1080.49 859.62,1080.6 860.61,1080.54 860.94,1079.95 861.58,1079.58 862.22,1079.63 863.17,1080.39 863.79,1080.37 864.4,1079.97 865.01,1079.87 865.62,1080.36 866.21,1080.07 866.51,1080.64 867.1,1080.2 867.97,1079.86 868.26,1080.38 868.83,1080.44 869.4,1080.41 870.24,1080.14 870.79,1079.95 871.07,1080.41 871.61,1079.66 872.42,1079.85 872.96,1080.09 873.48,1080.59 874.01,1080.07 874.53,1080.44 875.04,1079.77 875.3,1080.24 875.81,1079.64 876.81,1080.33 877.06,1079.58 877.31,1080.24 877.8,1079.9 878.05,1080.53 878.53,1080.31 878.77,1079.73 879.25,1080.62 879.73,1080.15 880.44,1080.12 880.91,1080 881.14,1080.56 881.6,1080.24 881.83,1079.63 882.29,1080.56 882.51,1079.82 882.74,1080.43 882.97,1080.02 883.41,1080.14 884.08,1080.21 884.52,1080.51 884.96,1079.72 885.39,1079.6 885.82,1079.89 886.03,1080.61 886.25,1079.93 886.88,1079.86 887.51,1080.25 887.93,1079.78 888.13,1080.35 888.54,1080.12 888.75,1079.61 889.16,1079.77 889.56,1079.74 889.76,1080.32 890.16,1080.11 890.16,1080.1" fill="#ed2024" stroke="#ed2024" stroke-width="4.6" stroke-linejoin="round"/>
<circle cx="187.77" cy="1142.61" r="3.2" fill="#ed2024"/>
<circle cx="547.5" cy="1079.61" r="3.2" fill="#ed2024"/>
<circle cx="589.12" cy="1080.86" r="3.2" fill="#ed2024"/>
<circle cx="613.46" cy="1081.33" r="3.2" fill="#ed2024"/>
<circle cx="630.73" cy="1080.91" r="3.2" fill="#ed2024"/>
<circle cx="644.13" cy="1079.94" r="3.2" fill="#ed2024"/>
<circle cx="655.08" cy="1079.99" r="3.2" fill="#ed2024"/>
<circle cx="672.35" cy="1080.08" r="3.2" fill="#ed2024"/>
<circle cx="679.42" cy="1080.52" r="3.2" fill="#ed2024"/>
<circle cx="685.75" cy="1080.13" r="3.2" fill="#ed2024"/>
<circle cx="691.47" cy="1080.08" r="3.2" fill="#ed2024"/>
<circle cx="696.7" cy="1080.07" r="3.2" fill="#ed2024"/>
<circle cx="701.5" cy="1080.5" r="3.2" fill="#ed2024"/>
<circle cx="705.95" cy="1080.19" r="3.2" fill="#ed2024"/>
<circle cx="713.97" cy="1080.22" r="3.2" fill="#ed2024"/>
<circle cx="717.61" cy="1079.85" r="3.2" fill="#ed2024"/>
<circle cx="721.04" cy="1079.54" r="3.2" fill="#ed2024"/>
<circle cx="724.29" cy="1079.59" r="3.2" fill="#ed2024"/>
<circle cx="727.37" cy="1080.03" r="3.2" fill="#ed2024"/>
<circle cx="730.3" cy="1080.14" r="3.2" fill="#ed2024"/>
<circle cx="733.09" cy="1080.33" r="3.2" fill="#ed2024"/>
<circle cx="738.31" cy="1080.59" r="3.2" fill="#ed2024"/>
<circle cx="740.77" cy="1080.61" r="3.2" fill="#ed2024"/>
<circle cx="743.12" cy="1080.13" r="3.2" fill="#ed2024"/>
<circle cx="745.39" cy="1080.29" r="3.2" fill="#ed2024"/>
<circle cx="749.68" cy="1080.22" r="3.2" fill="#ed2024"/>
<circle cx="751.71" cy="1079.66" r="3.2" fill="#ed2024"/>
<circle cx="755.59" cy="1080.06" r="3.2" fill="#ed2024"/>
<circle cx="757.43" cy="1080.02" r="3.2" fill="#ed2024"/>
<circle cx="759.23" cy="1080.38" r="3.2" fill="#ed2024"/>
<circle cx="760.97" cy="1080.61" r="3.2" fill="#ed2024"/>
<circle cx="762.66" cy="1080.29" r="3.2" fill="#ed2024"/>
<circle cx="764.3" cy="1080.49" r="3.2" fill="#ed2024"/>
<circle cx="765.91" cy="1080.08" r="3.2" fill="#ed2024"/>
<circle cx="768.98" cy="1079.55" r="3.2" fill="#ed2024"/>
<circle cx="770.47" cy="1079.9" r="3.2" fill="#ed2024"/>
<circle cx="771.91" cy="1080.44" r="3.2" fill="#ed2024"/>
<circle cx="773.33" cy="1079.67" r="3.2" fill="#ed2024"/>
<circle cx="774.71" cy="1079.77" r="3.2" fill="#ed2024"/>
<circle cx="776.06" cy="1079.84" r="3.2" fill="#ed2024"/>
<circle cx="777.38" cy="1079.65" r="3.2" fill="#ed2024"/>
<circle cx="779.93" cy="1079.81" r="3.2" fill="#ed2024"/>
<circle cx="781.17" cy="1079.79" r="3.2" fill="#ed2024"/>
<circle cx="782.38" cy="1080.26" r="3.2" fill="#ed2024"/>
<circle cx="783.57" cy="1079.58" r="3.2" fill="#ed2024"/>
<circle cx="784.74" cy="1079.6" r="3.2" fill="#ed2024"/>
<circle cx="785.88" cy="1080.46" r="3.2" fill="#ed2024"/>
<circle cx="787" cy="1079.82" r="3.2" fill="#ed2024"/>
<circle cx="789.19" cy="1079.86" r="3.2" fill="#ed2024"/>
<circle cx="790.25" cy="1080.14" r="3.2" fill="#ed2024"/>
<circle cx="791.29" cy="1080.06" r="3.2" fill="#ed2024"/>
<circle cx="792.32" cy="1080.11" r="3.2" fill="#ed2024"/>
<circle cx="794.32" cy="1079.64" r="3.2" fill="#ed2024"/>
<circle cx="795.3" cy="1080.1" r="3.2" fill="#ed2024"/>
<circle cx="797.2" cy="1079.74" r="3.2" fill="#ed2024"/>
<circle cx="798.14" cy="1080.26" r="3.2" fill="#ed2024"/>
<polyline points="799.05,1079.68 799.95,1079.67 800.84,1080.14 801.72,1080.02 802.58,1079.64" fill="none" stroke="#ed2024" stroke-width="6.4" stroke-linecap="round" stroke-linejoin="round"/>
<polyline points="804.28,1079.85 805.1,1080.11 805.92,1080.4 806.73,1080.29 807.52,1079.88 808.31,1080.46" fill="none" stroke="#ed2024" stroke-width="6.4" stroke-linecap="round" stroke-linejoin="round"/>
<circle cx="809.08" cy="1079.66" r="3.2" fill="#ed2024"/>
<polyline points="810.6,1080.35 811.35,1079.65 812.08,1080.31 812.81,1079.6 813.53,1079.88 814.24,1080.09 814.94,1080.08" fill="none" stroke="#ed2024" stroke-width="6.4" stroke-linecap="round" stroke-linejoin="round"/>
<polyline points="816.32,1079.93 817,1080 817.67,1080.3 818.34,1080.41" fill="none" stroke="#ed2024" stroke-width="6.4" stroke-linecap="round" stroke-linejoin="round"/>
<polyline points="819.64,1080.08 820.28,1079.63" fill="none" stroke="#ed2024" stroke-width="6.4" stroke-linecap="round" stroke-linejoin="round"/>
<polyline points="821.55,1079.96 822.17,1080.56 822.79,1079.75 823.4,1079.85 824,1079.66 824.6,1080.43 825.19,1079.83" fill="none" stroke="#ed2024" stroke-width="6.4" stroke-linecap="round" stroke-linejoin="round"/>
<polyline points="826.35,1080.58 826.93,1079.93 827.5,1080.34 828.06,1080.39 828.62,1079.69 829.17,1080.52 829.72,1080.07" fill="none" stroke="#ed2024" stroke-width="6.4" stroke-linecap="round" stroke-linejoin="round"/>
<polyline points="831.34,1079.72 831.87,1080.37 832.39,1080.41 832.91,1079.69 833.43,1080.18 833.94,1079.86" fill="none" stroke="#ed2024" stroke-width="6.4" stroke-linecap="round" stroke-linejoin="round"/>
<polyline points="834.95,1080.61 835.94,1080.45 836.43,1079.91" fill="none" stroke="#ed2024" stroke-width="6.4" stroke-linecap="round" stroke-linejoin="round"/>
<circle cx="837.4" cy="1080.55" r="3.2" fill="#ed2024"/>
<circle cx="837.88" cy="1079.61" r="3.2" fill="#ed2024"/>
<polyline points="838.82,1080.61 839.29,1079.85 839.75,1080.62" fill="none" stroke="#ed2024" stroke-width="6.4" stroke-linecap="round" stroke-linejoin="round"/>
<polyline points="840.67,1079.76 841.12,1080.47" fill="none" stroke="#ed2024" stroke-width="6.4" stroke-linecap="round" stroke-linejoin="round"/>
<circle cx="842.46" cy="1079.89" r="3.2" fill="#ed2024"/>
<circle cx="843.34" cy="1080.59" r="3.2" fill="#ed2024"/>
<polyline points="843.77,1079.57 844.2,1080.48 845.05,1080.27 845.89,1079.98 846.72,1080.52 847.54,1080.61" fill="none" stroke="#ed2024" stroke-width="6.4" stroke-linecap="round" stroke-linejoin="round"/>
<polyline points="848.34,1079.81 849.14,1079.84 849.92,1079.82" fill="none" stroke="#ed2024" stroke-width="6.4" stroke-linecap="round" stroke-linejoin="round"/>
<circle cx="851.08" cy="1079.88" r="3.2" fill="#ed2024"/>
<circle cx="852.22" cy="1080.4" r="3.2" fill="#ed2024"/>
<circle cx="853.33" cy="1080.53" r="3.2" fill="#ed2024"/>
<polyline points="854.07,1079.69 854.43,1080.5 855.15,1080.01 855.86,1080.08 856.56,1079.6 856.91,1080.36" fill="none" stroke="#ed2024" stroke-width="6.4" stroke-linecap="round" stroke-linejoin="round"/>
<polyline points="857.94,1080.19 858.62,1080.04" fill="none" stroke="#ed2024" stroke-width="6.4" stroke-linecap="round" stroke-linejoin="round"/>
<polyline points="859.62,1080.6 860.61,1080.54 860.94,1079.95 861.58,1079.58 862.22,1079.63" fill="none" stroke="#ed2024" stroke-width="6.4" stroke-linecap="round" stroke-linejoin="round"/>
<polyline points="863.17,1080.39 863.79,1080.37 864.4,1079.97 865.01,1079.87 865.62,1080.36 866.21,1080.07 866.51,1080.64 867.1,1080.2 867.97,1079.86 868.26,1080.38 868.83,1080.44 869.4,1080.41 870.24,1080.14 870.79,1079.95 871.61,1079.66 872.42,1079.85 872.96,1080.09 873.48,1080.59 874.01,1080.07 874.53,1080.44 875.04,1079.77 875.81,1079.64" fill="none" stroke="#ed2024" stroke-width="6.4" stroke-linecap="round" stroke-linejoin="round"/>
<polyline points="876.81,1080.33 877.06,1079.58 877.31,1080.24 878.05,1080.53" fill="none" stroke="#ed2024" stroke-width="6.4" stroke-linecap="round" stroke-linejoin="round"/>
<polyline points="878.77,1079.73 879.25,1080.62" fill="none" stroke="#ed2024" stroke-width="6.4" stroke-linecap="round" stroke-linejoin="round"/>
<polyline points="880.44,1080.12 881.14,1080.56" fill="none" stroke="#ed2024" stroke-width="6.4" stroke-linecap="round" stroke-linejoin="round"/>
<circle cx="881.83" cy="1079.63" r="3.2" fill="#ed2024"/>
<polyline points="882.29,1080.56 882.51,1079.82 882.74,1080.43 883.41,1080.14 884.08,1080.21 884.96,1079.72 885.82,1079.89 886.03,1080.61 886.25,1079.93 886.88,1079.86 887.51,1080.25 888.13,1080.35 888.75,1079.61 889.56,1079.74 889.76,1080.32" fill="none" stroke="#ed2024" stroke-width="6.4" stroke-linecap="round" stroke-linejoin="round"/>
</g>
<g clip-path="url(#c01L)">
<circle cx="530.23" cy="1231.15" r="3.3" fill="#1a2430"/>
<circle cx="608.24" cy="1231.15" r="3.3" fill="#1a2430"/>
<circle cx="641.05" cy="1231.15" r="3.3" fill="#1a2430"/>
<circle cx="662.15" cy="1231.15" r="3.3" fill="#1a2430"/>
<circle cx="677.73" cy="1231.15" r="3.3" fill="#1a2430"/>
<circle cx="690.09" cy="1231.15" r="3.3" fill="#1a2430"/>
<circle cx="700.34" cy="1231.15" r="3.3" fill="#1a2430"/>
<circle cx="709.09" cy="1231.15" r="3.3" fill="#1a2430"/>
<circle cx="716.72" cy="1231.15" r="3.3" fill="#1a2430"/>
<circle cx="723.49" cy="1231.15" r="3.3" fill="#1a2430"/>
<circle cx="729.58" cy="1231.15" r="3.3" fill="#1a2430"/>
<circle cx="735.1" cy="1231.15" r="3.3" fill="#1a2430"/>
<circle cx="740.16" cy="1231.15" r="3.3" fill="#1a2430"/>
<circle cx="744.83" cy="1231.15" r="3.3" fill="#1a2430"/>
<circle cx="749.16" cy="1231.15" r="3.3" fill="#1a2430"/>
<circle cx="753.19" cy="1231.15" r="3.3" fill="#1a2430"/>
<circle cx="756.98" cy="1231.15" r="3.3" fill="#1a2430"/>
<circle cx="760.54" cy="1231.15" r="3.3" fill="#1a2430"/>
<circle cx="763.9" cy="1231.15" r="3.3" fill="#1a2430"/>
<circle cx="767.08" cy="1231.15" r="3.3" fill="#1a2430"/>
<circle cx="770.1" cy="1231.15" r="3.3" fill="#1a2430"/>
<circle cx="772.98" cy="1231.15" r="3.3" fill="#1a2430"/>
<circle cx="775.72" cy="1231.15" r="3.3" fill="#1a2430"/>
<circle cx="778.35" cy="1231.15" r="3.3" fill="#1a2430"/>
<circle cx="780.86" cy="1231.15" r="3.3" fill="#1a2430"/>
<circle cx="783.28" cy="1231.15" r="3.3" fill="#1a2430"/>
<circle cx="785.6" cy="1231.15" r="3.3" fill="#1a2430"/>
<circle cx="787.83" cy="1231.15" r="3.3" fill="#1a2430"/>
<circle cx="789.99" cy="1231.15" r="3.3" fill="#1a2430"/>
<circle cx="792.07" cy="1231.15" r="3.3" fill="#1a2430"/>
<circle cx="794.08" cy="1231.15" r="3.3" fill="#1a2430"/>
<circle cx="796.02" cy="1231.15" r="3.3" fill="#1a2430"/>
<circle cx="797.9" cy="1231.15" r="3.3" fill="#1a2430"/>
<circle cx="799.73" cy="1231.15" r="3.3" fill="#1a2430"/>
<circle cx="801.5" cy="1231.15" r="3.3" fill="#1a2430"/>
<circle cx="803.22" cy="1231.15" r="3.3" fill="#1a2430"/>
<circle cx="804.9" cy="1231.15" r="3.3" fill="#1a2430"/>
<circle cx="806.53" cy="1231.15" r="3.3" fill="#1a2430"/>
<circle cx="808.11" cy="1231.15" r="3.3" fill="#1a2430"/>
<circle cx="809.66" cy="1231.15" r="3.3" fill="#1a2430"/>
<circle cx="811.16" cy="1231.15" r="3.3" fill="#1a2430"/>
<circle cx="812.63" cy="1231.15" r="3.3" fill="#1a2430"/>
<circle cx="814.07" cy="1231.15" r="3.3" fill="#1a2430"/>
<circle cx="815.47" cy="1231.15" r="3.3" fill="#1a2430"/>
<circle cx="816.83" cy="1231.15" r="3.3" fill="#1a2430"/>
<circle cx="818.17" cy="1231.15" r="3.3" fill="#1a2430"/>
<circle cx="819.48" cy="1231.15" r="3.3" fill="#1a2430"/>
<circle cx="820.76" cy="1231.15" r="3.3" fill="#1a2430"/>
<circle cx="822.02" cy="1231.15" r="3.3" fill="#1a2430"/>
<circle cx="823.24" cy="1231.15" r="3.3" fill="#1a2430"/>
<circle cx="824.45" cy="1231.15" r="3.3" fill="#1a2430"/>
<circle cx="825.63" cy="1231.15" r="3.3" fill="#1a2430"/>
<circle cx="826.79" cy="1231.15" r="3.3" fill="#1a2430"/>
<circle cx="827.92" cy="1231.15" r="3.3" fill="#1a2430"/>
<circle cx="829.04" cy="1231.15" r="3.3" fill="#1a2430"/>
<circle cx="830.13" cy="1231.15" r="3.3" fill="#1a2430"/>
<polyline points="831.21,1231.15 832.26,1231.15 833.3,1231.15 834.32,1231.15 835.32,1231.15 836.31,1231.15 837.28,1231.15 838.23,1231.15 839.17,1231.15 840.1,1231.15 841.01,1231.15 841.91,1231.15 842.79,1231.15 843.66,1231.15 844.52,1231.15 845.37,1231.15 846.21,1231.15 847.03,1231.15 847.84,1231.15 848.64,1231.15 849.44,1231.15 850.22,1231.15 850.99,1231.15 851.75,1231.15 852.5,1231.15 853.24,1231.15 853.98,1231.15 854.7,1231.15 855.42,1231.15 856.12,1231.15 856.82,1231.15 857.51,1231.15 858.2,1231.15 858.87,1231.15 859.54,1231.15 860.2,1231.15 860.86,1231.15 861.5,1231.15 862.14,1231.15 862.77,1231.15 863.4,1231.15 864.02,1231.15 864.63,1231.15 865.24,1231.15 865.84,1231.15 866.44,1231.15 867.03,1231.15 867.61,1231.15 868.19,1231.15 868.76,1231.15 869.33,1231.15 869.89,1231.15 870.45,1231.15 871,1231.15 871.54,1231.15 872.09,1231.15 872.62,1231.15 873.15,1231.15 873.68,1231.15 874.2,1231.15 874.72,1231.15 875.24,1231.15 875.75,1231.15 876.25,1231.15 876.75,1231.15 877.74,1231.15 878.71,1231.15 879.67,1231.15 880.61,1231.15 881.54,1231.15 882.46,1231.15 883.36,1231.15 884.24,1231.15 885.12,1231.15 885.98,1231.15 886.83,1231.15" fill="none" stroke="#1a2430" stroke-width="6.6" stroke-linecap="round" stroke-linejoin="round"/>
</g>
<g clip-path="url(#c02V)">
<polyline points="187.77,1522.05 271,1522.05 274.87,1524.79 278.74,1527.45 282.62,1530.02 286.49,1532.51 290.36,1534.92 294.23,1537.26 298.1,1539.52 301.98,1541.71 305.85,1543.83 309.72,1545.88 313.59,1547.86 317.46,1549.79 321.34,1551.65 325.21,1553.46 329.08,1555.2 332.95,1556.89 336.82,1558.53 340.7,1560.12 344.57,1561.65 348.44,1563.14 352.31,1564.58 356.18,1565.97 360.05,1567.32 363.93,1568.63 367.8,1569.89 371.67,1571.12 375.54,1572.3 379.41,1573.45 383.29,1574.56 387.16,1575.64 391.03,1576.68 394.9,1577.69 398.77,1578.67 402.65,1579.62 406.52,1580.53 410.39,1581.42 414.26,1582.28 418.13,1583.11 422.01,1583.92 425.88,1584.7 429.75,1585.45 433.62,1586.18 437.49,1586.89 441.37,1587.58 445.24,1588.24 449.11,1588.88 452.98,1589.51 456.85,1590.11 460.73,1590.69 464.6,1591.26 468.47,1591.8 472.34,1592.33 476.21,1592.85 480.09,1593.34 483.96,1593.83 487.83,1594.29 491.7,1594.74 495.57,1595.18 499.45,1595.6 503.32,1596.01 507.19,1596.41 511.06,1596.79 514.93,1597.16 518.8,1597.52 522.68,1597.87 526.55,1598.21 530.42,1598.53 534.29,1598.85 538.16,1599.16 542.04,1599.45 545.91,1599.74 549.78,1600.02 553.65,1600.29 557.52,1600.55 561.4,1600.8 565.27,1601.04 569.14,1601.28 573.01,1601.51 576.88,1601.73 580.76,1601.95 584.63,1602.15 588.5,1602.36 592.37,1602.55 596.24,1602.74 600.12,1602.92 603.99,1603.1 607.86,1603.27 611.73,1603.44 615.6,1603.6 619.48,1603.75 623.35,1603.9 627.22,1604.05 631.09,1604.19 634.96,1604.33 638.84,1604.46 642.71,1604.59 646.58,1604.71 650.45,1604.83 654.32,1604.95 658.19,1605.06 662.07,1605.17 665.94,1605.28 669.81,1605.38 673.68,1605.48 677.55,1605.57 681.43,1605.67 685.3,1605.76 689.17,1605.84 693.04,1605.93 696.91,1606.01 700.79,1606.09 704.66,1606.16 708.53,1606.24 712.4,1606.31 716.27,1606.38 720.15,1606.45 724.02,1606.51 727.89,1606.58 731.76,1606.64 735.63,1606.7 739.51,1606.75 743.38,1606.81 747.25,1606.86 751.12,1606.91 754.99,1606.96 758.87,1607.01 762.74,1607.06 766.61,1607.11 770.48,1607.15 774.35,1607.19 778.23,1607.23 782.1,1607.27 785.97,1607.31 789.84,1607.35 793.71,1607.39 797.59,1607.42 801.46,1607.46 805.33,1607.49 809.2,1607.52 813.07,1607.55 816.94,1607.58 820.82,1607.61 824.69,1607.64 828.56,1607.67 832.43,1607.69 836.3,1607.72 840.18,1607.74 844.05,1607.77 847.92,1607.79 851.79,1607.81 855.66,1607.84 859.54,1607.86 863.41,1607.88 867.28,1607.9 871.15,1607.92 875.02,1607.93 878.9,1607.95 882.77,1607.97 886.64,1607.99 890.51,1608" fill="none" stroke="#1a2430" stroke-width="6.2" stroke-linejoin="round" stroke-linecap="square"/>
<polyline points="187.77,1502.6 188.94,1502.77 190.11,1502.94 191.28,1503.11 192.46,1503.28 193.63,1503.45 194.8,1503.63 195.98,1503.81 197.15,1503.99 198.32,1504.17 199.5,1504.35 200.67,1504.53 201.84,1504.72 203.02,1504.91 204.19,1505.1 205.36,1505.29 206.54,1505.49 207.71,1505.68 208.88,1505.88 210.06,1506.08 211.23,1506.28 212.4,1506.48 213.58,1506.69 214.75,1506.9 215.92,1507.11 217.1,1507.32 218.27,1507.53 219.44,1507.75 220.61,1507.97 221.79,1508.19 222.96,1508.41 224.13,1508.63 225.31,1508.86 226.48,1509.09 227.65,1509.32 228.83,1509.55 230,1509.79 231.17,1510.03 232.35,1510.27 233.52,1510.51 234.69,1510.76 235.87,1511 237.04,1511.25 238.21,1511.51 239.39,1511.76 240.56,1512.02 241.73,1512.28 242.91,1512.54 244.08,1512.81 245.25,1513.07 246.43,1513.35 247.6,1513.62 248.77,1513.89 249.94,1514.17 251.12,1514.45 252.29,1514.74 253.46,1515.02 254.64,1515.31 255.81,1515.61 256.98,1515.9 258.16,1516.2 259.33,1516.5 260.5,1516.8 261.68,1517.11 262.85,1517.42 264.02,1517.73 265.2,1518.05 266.37,1518.37 267.54,1518.69 268.72,1519.02 269.89,1519.35 271.06,1519.68 272.24,1520.01 273.41,1520.35 274.58,1520.69 275.76,1521.04 276.93,1521.39 278.1,1521.74 279.27,1522.09 280.45,1522.45 281.62,1522.82 282.79,1523.18 283.97,1523.55 285.14,1523.92 286.31,1524.3 287.49,1524.68 288.66,1525.07 289.83,1525.45 291.01,1525.85 292.18,1526.24 293.35,1526.64 294.53,1527.05 295.7,1527.45 296.87,1527.86 298.05,1528.28 299.22,1528.7 300.39,1529.12 301.57,1529.55 302.74,1529.98 303.91,1530.42 305.09,1530.86 306.26,1531.31 307.43,1531.75 308.6,1532.21 309.78,1532.67 310.95,1533.13 312.12,1533.6 313.3,1534.07 314.47,1534.54 315.64,1535.03 316.82,1535.51 317.99,1536 319.16,1536.5 320.34,1537 321.51,1537.5 322.68,1538.01 323.86,1538.53 325.03,1539.05 326.2,1539.57 327.38,1540.11 328.55,1540.64 329.72,1541.18 330.9,1541.73 332.07,1542.28 333.24,1542.84 334.42,1543.4 335.59,1543.97 336.76,1544.54 337.93,1545.12 339.11,1545.71 340.28,1546.3 341.45,1546.89 342.63,1547.5 343.8,1548.1 344.97,1548.72 346.15,1549.34 347.32,1549.96 348.49,1550.6 349.67,1551.24 350.84,1551.88 352.01,1552.53 353.19,1553.19 354.36,1553.85 355.53,1554.52 356.71,1555.2 357.88,1555.89 359.05,1556.58 360.23,1557.27 361.4,1557.98 362.57,1558.69 363.75,1559.41 364.92,1560.13 366.09,1560.87 367.26,1561.6 368.44,1562.35 369.61,1563.11 370.78,1563.87 371.96,1564.64 373.13,1565.41 374.3,1566.2 375.48,1566.99 376.65,1567.79 377.82,1568.6 379,1569.41 380.17,1570.24 381.34,1571.07 382.52,1571.91 383.69,1572.75 384.81,1573.57 386.04,1573.88 387.21,1574.19 388.38,1574.49 389.56,1574.8 390.73,1575.11 391.9,1575.42 393.08,1575.74 394.25,1576.06 395.42,1576.38 396.59,1576.7 397.77,1577.03 398.94,1577.36 400.11,1577.7 401.29,1578.04 402.46,1578.38 403.63,1578.72 404.81,1579.07 405.98,1579.43 407.15,1579.78 408.33,1580.14 409.5,1580.5 410.67,1580.87 411.85,1581.24 413.02,1581.61 414.19,1581.99 415.37,1582.37 416.54,1582.75 417.71,1583.14 418.89,1583.53 420.06,1583.93 421.23,1584.33 422.41,1584.73 423.14,1584.99 423.58,1585.08 424.75,1585.32 425.92,1585.57 427.1,1585.82 428.27,1586.07 429.44,1586.32 430.62,1586.58 431.79,1586.83 432.96,1587.1 434.14,1587.36 435.31,1587.63 436.48,1587.89 437.66,1588.17 438.83,1588.44 440,1588.72 441.18,1589 442.35,1589.28 443.52,1589.56 444.7,1589.85 445.87,1590.14 447.04,1590.44 448.22,1590.73 449.39,1591.03 450.56,1591.34 451.08,1591.47 451.74,1591.49 452.91,1591.52 454.08,1591.55 455.25,1591.58 456.43,1591.61 457.6,1591.64 458.77,1591.68 459.95,1591.71 461.12,1591.74 462.29,1591.78 463.47,1591.81 464.64,1591.84 465.81,1591.88 466.64,1591.9 468.16,1592.11 469.33,1592.28 470.51,1592.44 471.68,1592.61 472.85,1592.78 474.03,1592.95 475.2,1593.12 476.37,1593.3 477.55,1593.47 478.72,1593.65 479.89,1593.83 481.07,1594.01 482.24,1594.19 483.41,1594.38 484.58,1594.57 485.76,1594.75 486.93,1594.94 488.1,1595.14 489.28,1595.33 490.45,1595.53 491.62,1595.72 492.8,1595.86 493.97,1595.96 495.14,1596.06 496.32,1596.17 497.49,1596.27 498.66,1596.38 499.84,1596.49 501.01,1596.6 502.18,1596.71 503.36,1596.82 504.53,1596.93 505.7,1597.04 506.88,1597.15 508.05,1597.27 509.22,1597.39 509.71,1597.43 510.4,1597.48 511.57,1597.57 512.74,1597.65 513.91,1597.73 515.09,1597.82 516.26,1597.91 517.43,1597.99 518.61,1598.08 519.78,1598.17 520.95,1598.26 522.13,1598.35 523.3,1598.44 524.47,1598.54 525.65,1598.63 526.82,1598.72 527.98,1598.82 529.17,1598.89 530.34,1598.96 531.51,1599.04 532.69,1599.11 533.86,1599.19 535.03,1599.26 536.21,1599.34 537.38,1599.42 538.55,1599.49 539.73,1599.57 540.9,1599.65 542.07,1599.73 543.24,1599.81 544.42,1599.9 545.59,1599.98 546.76,1600.06 547.94,1600.15 549.11,1600.23 549.88,1600.29 550.28,1600.15 551.46,1600.12 552.63,1600.19 553.8,1600.26 554.98,1600.32 556.15,1600.39 557.32,1600.46 558.5,1600.53 559.67,1600.6 560.84,1600.68 562.02,1600.75 563.19,1600.82 564.36,1600.89 565.54,1600.97 566.71,1601.04 567.88,1601.12 569.06,1601.2 570.23,1601.27 571.4,1601.35 572.57,1601.43 573.75,1601.51 574.92,1601.59 576.09,1601.67 577.27,1601.75 578.44,1601.81 579.61,1601.86 580.79,1601.92 581.96,1601.98 583.13,1602.03 584.31,1602.09 585.48,1602.15 586.65,1602.21 587.83,1602.27 589,1602.33 590.17,1602.39 591.35,1602.45 592.52,1602.51 593.69,1602.58 594.87,1602.64 596.04,1602.7 597.21,1602.77 598.39,1602.83 599.22,1602.88 600.73,1602.94 601.9,1602.99 603.08,1603.04 604.25,1603.09 605.42,1603.14 606.6,1603.19 607.77,1603.24 608.94,1603.29 610.12,1603.34 611.29,1603.39 612.46,1603.44 613.64,1603.49 614.81,1603.55 615.98,1603.6 617.16,1603.66 617.74,1603.68 618.33,1603.7 619.5,1603.75 620.68,1603.79 621.85,1603.83 623.02,1603.87 624.2,1603.92 625.37,1603.96 626.54,1604 627.72,1604.05 628.89,1604.09 630.06,1604.14 631.23,1604.18 632.41,1604.23 633.58,1604.28 634.75,1604.32 635.93,1604.35 637.1,1604.39 638.27,1604.43 639.45,1604.47 640.62,1604.51 641.79,1604.54 642.97,1604.58 644.14,1604.62 645.31,1604.66 646.49,1604.7 647.66,1604.74 648.83,1604.78 650.01,1604.81 651.18,1604.85 652.35,1604.88 653.53,1604.91 654.7,1604.95 655.87,1604.98 657.05,1605.02 658.22,1605.06 659.39,1605.09 660.56,1605.13 661.74,1605.16 662.91,1605.19 664.08,1605.22 665.26,1605.25 666.43,1605.28 667.6,1605.31 668.78,1605.35 669.95,1605.38 671.12,1605.41 672.01,1605.43 673.47,1605.47 674.64,1605.5 675.82,1605.53 676.99,1605.55 678.16,1605.58 679.34,1605.61 680.51,1605.64 681.68,1605.67 682.46,1605.69 684.03,1605.72 685.2,1605.75 686.38,1605.78 687.55,1605.8 688.72,1605.83 689.89,1605.86 691.07,1605.88 692.07,1605.91 693.41,1605.93 694.59,1605.96 695.76,1605.98 696.93,1606.01 698.11,1606.03 699.28,1606.06 700.45,1606.08 700.97,1606.09 701.63,1606.1 702.8,1606.13 703.97,1606.15 705.15,1606.17 706.32,1606.19 707.49,1606.22 708.67,1606.24 709.26,1606.25 709.84,1606.26 711.01,1606.28 712.19,1606.3 713.36,1606.33 714.53,1606.35 715.71,1606.37 716.88,1606.39 718.05,1606.41 719.22,1606.43 720.4,1606.45 721.57,1606.47 722.74,1606.49 723.92,1606.51 725.09,1606.53 726.26,1606.55 727.44,1606.57 728.61,1606.59 729.78,1606.6 730.96,1606.62 732.13,1606.64 733.3,1606.66 734.48,1606.68 735.65,1606.69 736.82,1606.71 737.64,1606.73 739.17,1606.75 740.34,1606.76 741.52,1606.78 742.69,1606.8 743.8,1606.81 745.04,1606.83 746.21,1606.85 747.38,1606.86 748.55,1606.88 749.66,1606.89 750.9,1606.91 752.07,1606.93 753.25,1606.94 754.42,1606.96 755.25,1606.97 756.77,1606.99 757.94,1607 759.11,1607.02 760.29,1607.03 761.46,1607.04 762.63,1607.06 763.81,1607.07 764.98,1607.09 765.69,1607.1 766.15,1607.1 767.33,1607.11 768.5,1607.13 769.67,1607.14 770.6,1607.15 772.02,1607.17 773.19,1607.18 774.37,1607.19 775.31,1607.2 776.71,1607.22 777.88,1607.23 779.06,1607.24 779.84,1607.25 781.4,1607.27 782.58,1607.28 783.75,1607.29 784.21,1607.3 784.92,1607.3 786.1,1607.31 787.27,1607.33 788.42,1607.34 789.62,1607.35 790.79,1607.36 791.96,1607.37 792.49,1607.38 793.14,1607.38 794.31,1607.39 795.48,1607.4 796.43,1607.41 797.83,1607.42 799,1607.44 800.18,1607.45 801.35,1607.46 802.52,1607.47 803.7,1607.48 804.87,1607.49 806.04,1607.5 807.21,1607.51 808.39,1607.52 809.56,1607.52 810.73,1607.53 811.91,1607.54 813.08,1607.55 814.25,1607.56 815.43,1607.57 816.6,1607.58 817.67,1607.59 818.95,1607.6 820.12,1607.61 820.88,1607.61 821.29,1607.62 822.47,1607.62 823.64,1607.63 824.81,1607.64 825.99,1607.65 827.04,1607.66 828.33,1607.67 829.51,1607.67 830,1607.68 830.68,1607.68 831.85,1607.69 832.89,1607.7 834.2,1607.71 835.37,1607.71 836.54,1607.72 837.72,1607.73 838.48,1607.73 838.89,1607.74 840.06,1607.74 841.18,1607.75 842.41,1607.76 843.58,1607.77 844.76,1607.77 845.93,1607.78 846.4,1607.78 847.1,1607.79 848.28,1607.79 848.93,1607.8 849.45,1607.8 850.62,1607.81 851.41,1607.81 852.97,1607.82 853.83,1607.83 855.32,1607.83 856.21,1607.84 857.66,1607.85 858.54,1607.85 860.01,1607.86 860.83,1607.86 862.36,1607.87 863.07,1607.88 863.53,1607.88 864.7,1607.88 865.28,1607.89 865.87,1607.89 867.05,1607.9 868.22,1607.9 869.39,1607.91 870.57,1607.91 871.65,1607.92 872.91,1607.92 873.71,1607.93 875.26,1607.94 875.72,1607.94 876.43,1607.94 877.61,1607.95 878.78,1607.95 879.66,1607.96 881.13,1607.96 881.58,1607.96 882.3,1607.97 883.47,1607.97 884.65,1607.98 885.34,1607.98 885.82,1607.98 886.99,1607.99 888.17,1607.99 888.98,1608 890.51,1608" fill="none" stroke="#1ebfcf" stroke-width="6.6" stroke-linejoin="round" stroke-linecap="square"/>
</g>
<g clip-path="url(#c02E)">
<polygon points="187.77,1752.6 187.77,1732.31 384.07,1750.35 425.68,1754.4 450.03,1755.31 467.3,1751.25 480.7,1753.5 491.65,1753.5 508.92,1753.94 515.99,1752.89 522.32,1753.41 528.04,1753.4 533.26,1752.46 538.07,1752.96 542.52,1752.52 550.54,1752.63 554.18,1752.4 557.61,1752.9 560.85,1752.36 563.93,1752.1 566.86,1752.48 569.66,1752.26 574.88,1752.38 577.33,1753.07 579.69,1752.3 581.95,1752.47 586.24,1752.76 588.28,1753.05 592.15,1752.16 594,1752.59 595.79,1752.33 597.53,1752.17 599.22,1752.37 600.87,1752.13 602.47,1752.7 605.55,1752.25 607.03,1752.63 608.48,1752.1 609.89,1752.16 611.27,1753.01 612.62,1752.97 613.94,1752.89 616.5,1752.09 617.74,1752.67 618.95,1752.46 620.14,1752.8 621.3,1752.58 622.45,1752.71 623.57,1752.74 625.75,1752.49 626.82,1752.49 627.86,1752.14 628.89,1752.39 630.89,1752.12 631.86,1752.21 633.77,1752.07 634.7,1752.41 635.62,1752.96 636.52,1752.2 637.41,1752.09 638.29,1752.15 639.15,1752.51 640.84,1752.35 641.67,1752.9 642.49,1752.23 643.29,1752.51 644.09,1752.82 644.87,1753.06 645.65,1752.21 647.17,1752.07 647.91,1753.05 648.65,1752.27 649.38,1752.69 650.1,1752.97 650.81,1752.82 651.51,1752.3 652.89,1752.19 653.57,1753.08 654.24,1752.47 654.9,1753.08 656.21,1752.35 656.85,1752.77 658.11,1752.18 658.74,1752.07 659.35,1752.59 659.96,1752.06 660.57,1752.81 661.16,1753.06 661.75,1752.49 662.92,1753.1 663.5,1752.92 664.06,1752.69 664.63,1752.47 665.19,1752.96 665.74,1753.09 666.29,1752.19 667.9,1752.79 668.43,1752.1 668.96,1752.16 669.48,1752.73 669.99,1752.64 670.5,1752.57 671.51,1752.44 672.01,1752.5 672.51,1752.53 673,1752.47 673.96,1752.12 674.44,1752.59 675.39,1752.67 675.85,1752.36 676.32,1752.88 676.78,1752.81 677.24,1752.08 677.69,1752.57 678.14,1752.54 679.03,1753.12 679.47,1752.69 679.9,1752.51 680.34,1753.12 680.77,1752.47 681.2,1752.45 681.62,1753.07 682.46,1752.46 682.87,1752.64 683.29,1752.4 683.7,1752.76 684.1,1752.37 684.51,1752.34 684.91,1753.11 685.71,1753.07 686.1,1752.41 686.88,1752.86 687.65,1752.64 688.79,1752.79 689.53,1752.8 690.27,1752.49 691,1752.73 691.71,1752.3 692.07,1753.11 692.43,1752.52 693.13,1752.8 693.82,1752.27 694.51,1752.88 695.19,1752.67 695.86,1753.03 696.52,1752.78 697.18,1752.24 697.5,1752.66 697.83,1752.21 698.15,1752.95 698.79,1752.77 699.73,1752.18 700.04,1752.65 700.66,1753.01 700.97,1752.57 701.58,1752.27 702.18,1752.23 702.48,1752.94 703.08,1752.27 703.67,1752.27 703.96,1752.76 704.54,1753 705.11,1752.28 705.4,1752.84 705.96,1752.69 706.8,1752.7 707.08,1752.14 707.36,1752.97 708.18,1752.12 708.99,1752.07 709.26,1752.67 709.52,1752.11 710.05,1752.9 710.31,1752.33 711.09,1752.42 711.61,1752.83 712.12,1752.89 712.63,1752.5 713.38,1752.83 713.63,1752.26 713.88,1753.09 714.12,1752.16 714.61,1752.14 715.1,1752.17 715.58,1752.52 715.82,1753.13 716.3,1752.33 716.53,1752.95 717.01,1752.82 717.47,1752.57 717.94,1752.12 718.4,1752.77 718.85,1752.87 719.08,1752.21 719.31,1752.62 719.76,1752.76 720.2,1752.56 720.64,1752.26 720.87,1752.95 721.08,1752.28 721.52,1752.27 721.96,1753.13 722.39,1752.46 722.81,1753.09 723.45,1752.85 724.08,1752.68 724.49,1752.3 724.7,1753.14 725.11,1753 725.72,1753.07 725.92,1752.08 726.33,1753.05 726.53,1752.6 727.32,1752.76 727.91,1752.75 728.5,1753.01 728.88,1752.54 729.46,1753.05 730.03,1752.74 730.59,1752.29 730.78,1752.73 730.96,1752.27 731.33,1752.67 731.89,1752.6 732.43,1752.39 732.79,1752.87 733.33,1752.39 733.51,1753.06 734.04,1752.19 734.39,1752.73 734.75,1752.17 735.09,1752.86 735.61,1753.01 735.78,1752.26 736.3,1752.18 736.8,1752.35 737.14,1753.03 737.47,1752.5 737.64,1753.14 737.97,1752.3 738.14,1753.09 738.96,1752.19 739.12,1752.95 739.44,1752.23 739.6,1753.01 739.77,1752.23 740.25,1752.23 740.88,1752.28 741.04,1753.1 741.35,1752.31 741.82,1753.02 741.97,1752.33 742.28,1753.07 742.74,1752.53 743.2,1752.95 743.5,1752.47 743.95,1752.71 744.4,1752.76 744.99,1752.6 745.14,1752.09 745.28,1752.69 745.72,1752.97 745.87,1752.39 746.3,1752.41 746.73,1752.44 747.02,1752.98 747.44,1752.33 747.86,1752.66 748.42,1752.85 748.84,1752.8 749.11,1752.39 749.52,1752.82 749.66,1752.38 750.2,1752.51 750.74,1752.91 751.27,1752.95 751.8,1752.3 751.93,1752.98 752.06,1752.07 752.19,1752.62 752.71,1752.24 753.23,1752.36 753.74,1752.35 754.12,1752.89 754.5,1752.36 755,1752.22 755.12,1752.88 755.74,1752.38 756.11,1752.86 756.23,1752.2 756.35,1752.8 756.84,1752.35 756.96,1753.05 757.2,1752.24 757.32,1752.82 757.8,1752.41 757.91,1753.13 758.27,1752.67 758.74,1752.51 758.86,1752.11 758.97,1752.72 759.55,1752.42 759.67,1753.02 759.78,1752.18 760.01,1753.04 760.13,1752.12 760.24,1752.74 760.47,1752.31 760.7,1752.82 760.81,1752.41 761.15,1752.85 761.37,1752.32 761.93,1753.02 762.04,1752.61 762.48,1752.41 762.7,1752.94 762.81,1752.44 763.14,1752.95 763.25,1752.18 763.46,1753.01 763.57,1752.13 763.68,1752.99 764,1752.36 764.43,1752.65 764.85,1753.07 764.96,1752.37 765.38,1752.34 765.49,1752.75 765.9,1752.2 766.01,1753.1 766.11,1752.59 766.52,1752.76 766.93,1752.31 767.03,1752.76 767.14,1752.22 767.34,1753.02 767.74,1752.3 767.94,1752.94 768.35,1752.34 768.94,1752.98 769.24,1752.57 769.73,1752.29 769.82,1753.11 769.92,1752.27 770.21,1752.73 770.69,1752.46 771.26,1752.62 771.55,1753.14 771.74,1752.31 772.21,1752.64 772.49,1753.1 772.58,1752.6 773.04,1752.1 773.23,1752.99 773.32,1752.28 773.59,1753.09 773.96,1752.56 774.05,1752.13 774.23,1752.79 774.32,1752.2 774.5,1753 774.68,1752.21 775.13,1752.34 775.22,1752.77 775.31,1752.27 775.75,1752.32 775.92,1753.02 776.36,1752.97 776.54,1752.38 776.88,1752.81 777.14,1752.32 777.31,1752.95 777.49,1752.17 777.74,1752.74 778.17,1753.14 778.42,1752.29 778.51,1752.99 778.93,1752.7 779.18,1753.11 779.42,1752.61 779.51,1753.08 779.76,1752.66 780,1753.09 780.41,1753.11 780.49,1752.1 780.57,1752.9 780.9,1752.47 781.14,1753.01 781.3,1752.35 781.38,1752.84 781.46,1752.29 781.86,1752.82 782.1,1752.26 782.34,1752.77 782.57,1752.09 782.73,1752.5 782.81,1753.14 783.28,1753.08 783.36,1752.43 783.59,1752.92 783.67,1752.09 783.74,1752.62 783.9,1752.15 784.05,1753.1 784.28,1752.48 784.43,1753.05 784.59,1752.22 784.66,1753.02 784.97,1752.4 785.19,1752.95 785.27,1752.34 785.72,1752.75 786.02,1752.3 786.16,1752.85 786.31,1752.36 786.75,1752.97 786.83,1752.37 786.9,1753.12 786.97,1752.64 787.27,1753.04 787.41,1752.23 787.85,1752.65 787.92,1752.17 788.06,1752.78 788.42,1752.11 788.49,1753.03 788.56,1752.53 788.63,1753.02 788.77,1752.44 788.92,1752.88 789.13,1752.44 789.27,1753.13 789.48,1752.09 789.55,1752.9 789.83,1752.3 790.18,1752.94 790.39,1752.25 790.45,1753.02 790.66,1752.09 790.73,1752.93 790.8,1752.17 790.87,1753.05 790.94,1752.64 791.34,1752.45 791.75,1752.66 791.89,1752.24 792.22,1752.92 792.42,1752.35 792.49,1753.06 792.62,1752.62 792.76,1753.06 792.82,1752.54 793.29,1752.76 793.35,1752.06 793.42,1752.78 793.81,1752.13 794.33,1752.56 794.46,1752.11 794.65,1752.62 794.91,1752.06 795.04,1752.82 795.1,1752.13 795.16,1752.94 795.36,1752.36 795.42,1752.82 795.67,1752.33 795.74,1752.84 795.99,1752.34 796.18,1752.83 796.61,1752.98 796.68,1752.32 797.05,1752.74 797.48,1752.75 797.54,1752.22 797.6,1752.83 797.73,1752.18 797.91,1752.82 798.03,1752.27 798.15,1753.13 798.33,1752.57 798.51,1753.09 798.64,1752.31 799,1753.1 799.18,1752.67 799.41,1753.09 799.47,1752.55 799.53,1753.04 799.77,1752.27 799.83,1752.69 799.95,1753.09 800.06,1752.68 800.3,1752.15 800.42,1752.87 800.53,1752.32 800.88,1752.84 801.17,1752.17 801.29,1752.63 801.4,1752.14 801.63,1752.69 801.97,1752.07 802.09,1752.55 802.43,1752.1 802.54,1752.97 802.77,1752.22 803.05,1753.11 803.1,1752.52 803.49,1753.03 803.55,1752.42 803.99,1752.93 804.05,1752.14 804.1,1752.95 804.21,1752.24 804.32,1752.8 804.43,1752.11 804.54,1752.8 804.86,1752.08 804.92,1753.06 805.19,1752.57 805.51,1753.14 805.67,1752.1 805.73,1753.07 805.83,1752.62 806.05,1753.09 806.15,1752.1 806.21,1752.98 806.26,1752.16 806.31,1752.95 806.37,1752.07 806.63,1752.99 806.74,1752.32 806.79,1752.95 806.95,1752.25 807.05,1753.09 807.16,1752.1 807.21,1752.56 807.36,1753.03 807.47,1752.07 807.52,1752.84 807.83,1752.15 807.88,1753.06 807.99,1752.12 808.19,1752.87 808.29,1752.11 808.35,1752.62 808.55,1753.12 808.65,1752.33 809.06,1752.56 809.26,1752.13 809.41,1752.95 809.46,1752.1 809.56,1752.96 809.81,1752.08 809.86,1752.7 809.91,1752.2 809.96,1753.02 810.06,1752.2 810.46,1753.04 810.56,1752.56 810.66,1752.98 810.71,1752.49 811.1,1752.08 811.34,1752.83 811.39,1752.08 811.44,1752.85 811.59,1752.35 811.63,1752.77 811.83,1752.09 811.88,1752.65 812.12,1752.19 812.26,1752.66 812.36,1753.07 812.5,1752.22 812.6,1753.08 812.64,1752.22 812.69,1752.73 812.74,1752.08 812.79,1752.74 813.02,1752.18 813.07,1752.67 813.12,1752.2 813.26,1752.75 813.64,1752.19 813.73,1752.98 813.87,1752.48 813.92,1752.99 814.2,1752.56 814.24,1752.14 814.29,1752.56 814.52,1752.15 814.57,1752.66 814.75,1752.19 814.8,1752.73 814.89,1752.18 814.98,1752.83 815.12,1752.25 815.21,1753.05 815.39,1752.24 815.49,1752.94 815.71,1752.46 815.89,1753.04 815.94,1752.08 816.03,1753.05 816.12,1752.33 816.25,1753.07 816.34,1752.62 816.48,1752.17 816.61,1752.78 816.75,1752.18 816.79,1752.92 816.97,1752.45 817.01,1753.11 817.06,1752.13 817.1,1752.57 817.19,1753.05 817.32,1752.63 817.37,1752.21 817.45,1752.83 817.5,1752.08 817.63,1752.57 817.76,1752.17 817.85,1753 817.89,1752.57 818.11,1752.16 818.24,1752.92 818.5,1752.2 818.54,1752.91 818.59,1752.25 818.76,1753.01 818.8,1752.15 818.85,1752.71 819.15,1752.22 819.27,1753.08 819.57,1752.39 819.7,1753.02 819.83,1752.53 820.12,1752.95 820.16,1752.33 820.46,1753.08 820.5,1752.29 820.75,1752.85 820.79,1752.17 820.88,1752.9 820.92,1752.26 821.04,1752.77 821.08,1752.06 821.12,1752.62 821.41,1753.02 821.46,1752.57 821.91,1752.92 822.07,1752.32 822.15,1752.81 822.19,1752.18 822.48,1752.83 822.56,1752.41 822.8,1752.87 822.84,1752.39 823,1753.02 823.04,1752.54 823.2,1752.95 823.4,1752.52 823.44,1753.03 823.52,1752.62 823.72,1753.03 823.76,1752.56 823.8,1752.14 823.88,1752.58 824.03,1753.07 824.15,1752.12 824.19,1753.01 824.27,1752.12 824.31,1752.63 824.47,1752.1 824.51,1752.94 824.58,1752.52 824.66,1752.93 824.74,1752.07 824.94,1753.03 824.97,1752.38 825.05,1752.9 825.13,1752.09 825.21,1752.79 825.25,1752.32 825.28,1752.96 825.32,1752.42 825.36,1752.85 825.52,1752.2 825.71,1752.68 825.75,1752.27 825.82,1752.86 826.05,1752.45 826.13,1752.91 826.17,1752.32 826.36,1752.74 826.51,1752.33 826.58,1752.92 826.66,1752.08 826.77,1752.62 827.19,1752.18 827.22,1752.99 827.37,1752.29 827.41,1752.72 827.48,1752.07 827.52,1752.48 827.67,1753.14 827.74,1752.38 827.78,1752.96 827.97,1752.09 828,1753.03 828.04,1752.27 828.11,1752.72 828.15,1752.27 828.3,1752.79 828.41,1752.27 828.44,1752.77 828.85,1752.83 829.14,1752.32 829.43,1752.81 829.5,1752.28 829.57,1753.03 829.61,1752.14 829.75,1752.67 829.82,1752.06 829.86,1752.96 829.96,1752.06 830,1753.01 830.04,1752.6 830.14,1752.14 830.18,1752.69 830.25,1753.13 830.29,1752.63 830.32,1753.14 830.36,1752.37 830.53,1753.09 830.57,1752.41 830.6,1752.81 830.89,1752.1 830.92,1753.09 830.96,1752.1 830.99,1752.93 831.1,1752.33 831.27,1753.05 831.31,1752.41 831.45,1753.13 831.55,1752.41 831.86,1753.11 831.97,1752.34 832,1752.86 832.14,1752.44 832.31,1752.92 832.48,1752.51 832.59,1752.94 832.83,1752.18 832.89,1752.77 833.03,1752.35 833.17,1752.85 833.4,1752.45 833.47,1753.03 833.5,1752.31 833.6,1752.73 833.94,1752.15 833.97,1752.93 834.01,1752.18 834.17,1752.99 834.21,1752.3 834.27,1753.01 834.31,1752.5 834.54,1752.98 834.64,1752.24 834.67,1752.68 834.8,1752.14 834.84,1752.87 834.94,1752.11 834.97,1752.8 835.03,1752.08 835.07,1752.84 835.17,1752.18 835.2,1752.88 835.26,1752.13 835.3,1752.89 835.33,1752.17 835.36,1752.78 835.69,1752.23 835.85,1753.06 836.01,1752.09 836.11,1752.54 836.14,1753.02 836.27,1752.16 836.3,1752.85 836.37,1752.12 836.4,1752.92 836.46,1752.14 836.49,1752.8 836.59,1752.17 836.62,1752.71 836.91,1753.11 836.97,1752.2 837,1752.77 837.35,1752.3 837.54,1753.01 837.61,1752.22 837.67,1752.73 837.76,1752.23 837.79,1752.73 838.23,1752.08 838.26,1753.02 838.29,1752.2 838.33,1752.95 838.36,1752.28 838.39,1752.86 838.51,1752.23 838.64,1753.08 838.76,1752.32 839.07,1753.05 839.1,1752.18 839.13,1753.04 839.22,1752.24 839.25,1752.84 839.28,1752.42 839.31,1753.11 839.37,1752.37 839.4,1753.1 839.46,1752.59 839.5,1752.13 839.53,1752.91 839.56,1752.38 839.74,1753.13 839.8,1752.56 839.86,1752.09 839.89,1752.91 839.98,1752.51 840.01,1753 840.04,1752.22 840.07,1752.66 840.28,1752.21 840.31,1752.84 840.43,1752.17 840.46,1752.67 840.82,1752.14 840.94,1752.7 840.97,1752.1 841,1752.68 841.21,1752.12 841.27,1752.65 841.53,1752.24 841.56,1752.93 841.62,1752.29 841.65,1752.82 841.68,1752.22 841.71,1753.06 841.77,1752.62 842.03,1753.14 842.15,1752.11 842.18,1752.65 842.38,1753.14 842.41,1752.67 842.47,1753.09 842.5,1752.29 842.56,1752.8 842.73,1752.21 842.82,1752.77 843.13,1752.22 843.19,1752.88 843.25,1752.37 843.31,1753.07 843.33,1752.33 843.36,1752.89 843.39,1752.06 843.42,1752.99 843.53,1752.21 843.65,1752.98 843.73,1752.38 843.76,1753.08 843.79,1752.14 843.99,1752.85 844.1,1752.28 844.16,1753.04 844.19,1752.34 844.38,1753.1 844.47,1752.68 844.55,1752.19 844.69,1752.76 844.75,1752.33 844.83,1752.74 844.94,1752.19 844.97,1753.14 845,1752.44 845.11,1752.93 845.14,1752.52 845.19,1752.1 845.28,1752.51 845.36,1752.96 845.41,1752.25 845.55,1752.72 845.74,1752.25 845.77,1752.76 845.83,1752.16 845.88,1752.73 846.07,1752.08 846.18,1752.84 846.24,1752.35 846.37,1752.91 846.4,1752.36 846.65,1753.02 846.67,1752.52 846.7,1752.12 846.83,1753.11 846.86,1752.28 846.94,1752.8 847.1,1752.13 847.18,1752.63 847.34,1752.21 847.45,1753.05 847.48,1752.25 847.51,1753.13 847.53,1752.53 847.59,1753.08 847.66,1752.18 847.72,1752.8 847.74,1752.26 847.77,1752.76 847.8,1752.17 847.82,1752.71 847.9,1752.09 847.93,1753.06 848.01,1752.31 848.04,1753.02 848.09,1752.55 848.38,1752.07 848.43,1753.14 848.56,1752.28 848.59,1752.92 848.64,1752.31 848.67,1752.96 848.72,1752.08 848.75,1752.65 848.77,1752.17 848.85,1752.92 848.88,1752.29 848.93,1752.69 849.09,1752.24 849.14,1752.93 849.24,1752.18 849.27,1752.6 849.42,1752.18 849.45,1753.08 849.47,1752.2 849.58,1752.76 849.78,1752.29 850.04,1753.11 850.12,1752.64 850.19,1752.09 850.22,1752.52 850.37,1752.1 850.4,1752.85 850.45,1752.28 850.57,1752.7 850.78,1752.14 850.8,1753.11 850.83,1752.09 850.85,1752.88 850.88,1752.25 851.03,1752.83 851.05,1752.24 851.08,1753.02 851.1,1752.18 851.18,1753.07 851.2,1752.12 851.23,1752.8 851.41,1752.37 851.6,1752.87 851.7,1752.34 851.73,1752.79 852.03,1752.1 852.05,1752.72 852.1,1752.1 852.2,1752.57 852.42,1752.16 852.5,1752.99 852.52,1752.38 852.62,1753.14 852.67,1752.09 852.69,1752.74 852.89,1752.07 852.91,1752.56 853.11,1753.05 853.15,1752.09 853.2,1752.86 853.3,1752.23 853.4,1752.97 853.49,1752.37 853.54,1752.82 853.57,1752.34 853.61,1752.83 853.66,1752.29 853.69,1753.06 853.76,1752.5 853.78,1752.94 853.88,1752.48 854,1752.97 854.05,1752.1 854.07,1752.7 854.33,1752.11 854.45,1752.81 854.59,1752.33 854.62,1752.92 854.64,1752.37 854.71,1753.1 854.76,1752.07 854.78,1753.05 854.81,1752.26 854.9,1753.07 854.93,1752.46 854.95,1753.13 854.97,1752.22 855,1752.81 855.02,1752.14 855.09,1752.99 855.18,1752.32 855.21,1753.04 855.3,1752.21 855.33,1752.87 855.47,1752.12 855.49,1752.77 855.54,1752.21 855.56,1752.88 855.63,1752.24 855.65,1752.8 855.68,1752.18 855.72,1752.74 855.82,1752.2 855.84,1752.66 855.95,1752.2 856,1753 856.02,1752.54 856.32,1752.96 856.37,1752.46 856.44,1753.02 856.46,1752.08 856.49,1752.97 856.55,1752.07 856.62,1753.06 856.67,1752.22 856.69,1752.71 856.74,1753.13 856.76,1752.29 856.81,1753.09 856.83,1752.65 856.85,1752.17 856.87,1752.78 856.94,1752.3 857.1,1752.93 857.13,1752.4 857.22,1752.81 857.28,1752.15 857.31,1752.74 857.35,1752.08 857.4,1752.59 857.58,1752.15 857.6,1752.81 857.65,1752.17 857.67,1752.95 857.94,1752.17 857.96,1753.05 858.03,1752.22 858.07,1752.86 858.12,1752.06 858.14,1753.02 858.25,1752.21 858.27,1752.84 858.32,1752.28 858.36,1753.06 858.41,1752.42 858.43,1753.05 858.45,1752.57 858.47,1752.98 858.5,1752.49 858.65,1753.08 858.74,1752.59 858.85,1752.16 858.89,1752.76 859.01,1752.19 859.03,1752.69 859.09,1752.1 859.16,1752.88 859.33,1752.33 859.49,1753.12 859.53,1752.23 859.55,1752.64 859.62,1752.1 859.66,1752.76 859.86,1752.32 859.9,1752.82 859.95,1752.25 859.97,1752.66 860.03,1753.08 860.05,1752.68 860.08,1752.16 860.16,1752.97 860.29,1752.45 860.31,1753.12 860.33,1752.61 860.55,1753.08 860.57,1752.58 860.98,1752.49 861,1753.04 861.02,1752.5 861.06,1752.08 861.11,1753 861.15,1752.39 861.19,1753.02 861.21,1752.19 861.44,1752.81 861.59,1752.21 861.72,1752.93 861.74,1752.27 861.76,1753 861.78,1752.16 861.85,1752.84 861.93,1752.39 861.95,1753.04 861.99,1752.19 862.01,1752.68 862.18,1753.11 862.22,1752.25 862.26,1753.01 862.33,1752.22 862.35,1752.74 862.45,1752.31 862.49,1753.14 862.51,1752.22 862.53,1752.81 862.6,1752.33 862.62,1752.73 862.7,1752.24 862.74,1752.92 862.76,1752.32 862.83,1752.88 862.87,1752.13 862.93,1753 862.95,1752.3 863.01,1752.86 863.03,1752.3 863.05,1752.82 863.07,1752.29 863.16,1753.01 863.18,1752.43 863.24,1753.09 863.34,1752.06 863.42,1753 863.48,1752.11 863.67,1752.68 863.69,1753.11 863.77,1752.5 863.85,1753.04 863.89,1752.58 863.93,1752.12 863.97,1753.06 864.03,1752.13 864.13,1753.14 864.15,1752.16 864.17,1752.78 864.26,1752.33 864.3,1752.81 864.36,1752.36 864.4,1752.97 864.46,1752.53 864.64,1752.12 864.66,1752.57 864.68,1753.12 864.72,1752.32 864.84,1753.02 864.88,1752.49 864.9,1752.06 864.96,1752.92 864.98,1752.48 865.06,1752.88 865.1,1752.35 865.3,1752.92 865.34,1752.36 865.38,1753.09 865.47,1752.35 865.51,1752.94 865.53,1752.51 865.73,1752.94 865.75,1752.11 865.79,1752.55 865.91,1753.06 865.93,1752.55 865.97,1753.03 865.99,1752.08 866.01,1752.74 866.05,1752.06 866.08,1752.85 866.14,1752.18 866.32,1752.83 866.36,1752.25 866.42,1753.13 866.46,1752.44 866.57,1752.98 866.59,1752.57 866.63,1752.15 866.69,1752.86 866.73,1752.08 866.77,1753.04 866.84,1752.35 866.86,1752.79 866.88,1752.38 866.94,1753.1 866.98,1752.4 867.15,1753.02 867.19,1752.13 867.21,1752.78 867.25,1752.2 867.32,1752.63 867.38,1753.06 867.46,1752.56 867.5,1753.06 867.52,1752.45 867.54,1753.03 867.61,1752.63 867.65,1752.12 867.67,1752.75 867.69,1752.24 867.71,1752.66 867.76,1752.23 867.78,1752.84 867.84,1752.07 867.9,1753.09 867.92,1752.65 867.94,1752.11 867.99,1752.74 868.07,1752.32 868.09,1752.95 868.11,1752.18 868.13,1752.85 868.14,1752.39 868.2,1752.88 868.24,1752.46 868.39,1752.95 868.43,1752.5 868.5,1752.92 868.67,1752.3 868.73,1752.91 868.77,1752.11 868.8,1753.05 868.86,1752.1 868.88,1752.59 868.91,1753.03 868.95,1752.18 869.05,1752.8 869.21,1752.17 869.29,1752.76 869.34,1752.29 869.36,1752.81 869.44,1752.23 869.45,1752.76 869.51,1752.18 869.55,1752.95 869.57,1752.46 869.58,1753 869.62,1752.47 869.64,1753.03 869.69,1752.51 870.1,1752.53 870.15,1752.94 870.17,1752.42 870.19,1753.02 870.21,1752.56 870.3,1752.08 870.32,1752.89 870.34,1752.16 870.37,1752.63 870.43,1753.1 870.45,1752.21 870.46,1752.89 870.63,1752.32 870.68,1752.74 870.83,1752.32 870.88,1752.76 870.95,1752.29 871.03,1753.02 871.04,1752.39 871.08,1752.99 871.1,1752.48 871.12,1752.94 871.21,1752.22 871.3,1752.98 871.31,1752.22 871.37,1752.78 871.6,1752.37 871.76,1752.77 871.81,1752.36 871.87,1752.81 871.96,1752.31 872.01,1753.08 872.03,1752.1 872.05,1752.96 872.06,1752.1 872.12,1752.9 872.19,1752.16 872.26,1752.75 872.29,1752.3 872.31,1752.76 872.45,1752.28 872.49,1752.69 872.61,1753.1 872.63,1752.69 872.66,1752.22 872.77,1752.82 872.91,1752.36 872.93,1752.87 872.96,1752.33 873.01,1752.93 873.03,1752.17 873.1,1752.61 873.15,1753.08 873.17,1752.11 873.19,1752.9 873.24,1752.13 873.27,1752.56 873.31,1752.15 873.34,1752.86 873.38,1752.43 873.43,1752.9 873.5,1752.27 873.55,1752.98 873.57,1752.51 873.6,1753.04 873.64,1752.28 873.71,1752.89 873.72,1752.06 873.78,1752.54 873.79,1753.13 873.86,1752.67 874.03,1752.11 874.1,1753.02 874.12,1752.43 874.14,1752.88 874.15,1752.13 874.17,1752.6 874.26,1753.03 874.27,1752.26 874.32,1752.67 874.34,1753.11 874.41,1752.27 874.44,1752.74 874.48,1752.27 874.51,1753.13 874.53,1752.33 874.65,1753.02 874.66,1752.28 874.7,1752.7 874.78,1752.14 874.8,1752.63 874.82,1752.2 874.83,1752.94 874.94,1752.28 874.95,1752.74 875.02,1752.19 875.09,1752.68 875.14,1752.07 875.21,1752.53 875.24,1753.06 875.26,1752.21 875.29,1752.7 875.47,1753.13 875.52,1752.37 875.56,1753.12 875.62,1752.31 875.64,1752.89 875.66,1752.08 875.67,1752.83 875.77,1752.3 875.82,1753.08 875.86,1752.14 875.87,1752.87 875.96,1752.43 876.01,1752.86 876.06,1752.37 876.07,1753.01 876.12,1752.33 876.16,1752.99 876.17,1752.07 876.22,1752.79 876.26,1752.1 876.27,1752.66 876.31,1752.08 876.34,1752.95 876.42,1752.18 876.47,1752.63 876.59,1752.2 876.67,1752.95 876.7,1752.23 876.72,1752.76 876.78,1752.25 876.8,1752.78 876.83,1752.26 876.85,1753.04 876.96,1752.31 877.06,1753.06 877.09,1752.66 877.11,1753.11 877.13,1752.3 877.14,1752.84 877.17,1752.3 877.21,1752.85 877.37,1752.29 877.4,1752.7 877.43,1753.11 877.45,1752.31 877.47,1752.86 877.52,1752.33 877.56,1752.86 877.6,1752.18 877.63,1752.76 877.69,1752.18 877.73,1752.94 877.74,1752.44 877.76,1752.93 877.77,1752.33 877.79,1752.73 877.98,1752.08 878,1752.66 878.03,1752.21 878.08,1752.85 878.11,1752.23 878.18,1752.98 878.22,1752.58 878.34,1753.03 878.35,1752.29 878.4,1752.7 878.5,1752.11 878.51,1752.74 878.64,1752.25 878.65,1752.81 878.69,1752.09 878.72,1753.13 878.73,1752.69 878.77,1752.07 878.78,1752.76 878.88,1752.17 878.89,1752.59 878.97,1752.15 878.99,1752.89 879,1752.11 879.02,1752.83 879.05,1752.36 879.19,1753.08 879.24,1752.56 879.27,1753.08 879.29,1752.26 879.3,1752.79 879.32,1752.16 879.36,1752.74 879.41,1752.25 879.47,1752.87 879.62,1752.13 879.65,1752.88 879.66,1752.47 879.68,1753.1 879.69,1752.24 879.76,1752.68 879.79,1752.26 879.8,1752.8 879.86,1752.15 879.88,1752.84 879.97,1752.3 879.99,1752.89 880.02,1752.13 880.1,1753.1 880.11,1752.09 880.13,1752.53 880.14,1752.98 880.16,1752.07 880.18,1753.01 880.19,1752.08 880.22,1753.11 880.25,1752.63 880.38,1752.11 880.42,1753 880.44,1752.15 880.47,1752.83 880.52,1752.29 880.55,1752.79 880.65,1752.37 880.68,1752.91 880.71,1752.43 880.76,1752.94 880.79,1752.07 880.84,1752.85 880.85,1752.34 880.9,1752.75 880.99,1752.34 881.04,1752.83 881.1,1752.32 881.11,1752.76 881.14,1752.23 881.16,1752.67 881.23,1752.22 881.3,1752.73 881.34,1752.27 881.39,1752.91 881.4,1752.46 881.42,1753.06 881.45,1752.21 881.46,1752.95 881.48,1752.52 881.58,1753.07 881.6,1752.07 881.61,1752.81 881.63,1752.21 881.64,1752.7 881.72,1752.3 881.75,1752.96 881.81,1752.22 881.83,1752.95 881.86,1752.5 882.13,1752.91 882.19,1752.14 882.2,1753.04 882.23,1752.63 882.38,1753.14 882.44,1752.24 882.45,1752.76 882.54,1752.18 882.56,1753.1 882.6,1752.45 882.62,1753 882.66,1752.53 882.68,1753.07 882.72,1752.16 882.74,1753.13 882.78,1752.48 882.8,1752.89 882.84,1752.07 882.86,1752.53 882.9,1752.95 882.93,1752.3 883.03,1752.71 883.06,1752.11 883.09,1752.63 883.27,1753.06 883.3,1752.07 883.31,1752.87 883.33,1752.27 883.36,1753.13 883.39,1752.58 883.43,1752.12 883.47,1752.82 883.5,1752.15 883.53,1752.58 883.55,1753.08 883.59,1752.4 883.65,1752.84 883.77,1752.43 883.8,1752.94 883.83,1752.31 883.85,1752.89 883.9,1752.24 883.91,1752.98 883.97,1752.26 883.99,1752.73 884,1753.14 884.03,1752.58 884.07,1752.98 884.09,1752.22 884.12,1752.85 884.22,1752.43 884.26,1752.83 884.41,1752.24 884.45,1753.06 884.46,1752.35 884.54,1752.88 884.55,1752.33 884.58,1752.76 884.59,1752.28 884.61,1752.78 884.72,1752.3 884.75,1752.84 884.77,1752.21 884.82,1752.9 884.84,1752.12 884.91,1752.8 884.94,1752.17 884.95,1752.83 885.04,1752.12 885.05,1753.13 885.07,1752.71 885.14,1752.24 885.24,1752.71 885.38,1752.08 885.39,1752.78 885.46,1752.3 885.52,1752.74 885.58,1752.1 885.59,1753 885.62,1752.31 885.63,1752.88 885.85,1752.14 885.89,1752.73 885.96,1752.12 885.97,1753.06 886,1752.65 886.03,1753.13 886.04,1752.51 886.14,1753.05 886.16,1752.43 886.23,1752.92 886.28,1752.11 886.3,1752.89 886.31,1752.21 886.34,1752.98 886.35,1752.39 886.41,1753 886.48,1752.23 886.53,1752.97 886.59,1752.18 886.6,1752.61 886.63,1752.09 886.64,1752.79 886.7,1752.22 886.71,1752.68 886.78,1752.16 886.81,1752.67 886.84,1752.2 886.85,1752.64 886.92,1753.05 886.93,1752.33 886.95,1753.03 886.96,1752.13 886.98,1752.96 887.05,1752.44 887.07,1753.04 887.14,1752.58 887.22,1752.14 887.25,1752.81 887.27,1752.3 887.29,1752.94 887.31,1752.29 887.33,1753.1 887.35,1752.41 887.44,1753.02 887.49,1752.26 887.55,1752.78 887.57,1752.17 887.6,1753.12 887.61,1752.55 887.62,1753.04 887.68,1752.38 887.69,1752.95 887.81,1752.07 887.83,1752.94 887.84,1752.32 887.91,1753.07 887.95,1752.24 888,1753.11 888.02,1752.23 888.03,1752.71 888.05,1752.29 888.07,1752.76 888.13,1752.13 888.21,1752.67 888.25,1752.08 888.29,1752.96 888.34,1752.53 888.44,1752.95 888.47,1752.08 888.53,1752.9 888.6,1752.08 888.61,1752.52 888.67,1753.04 888.77,1752.46 888.79,1753 888.83,1752.31 888.86,1752.84 888.9,1752.39 888.91,1753.13 888.94,1752.21 888.96,1752.82 889.11,1752.32 889.15,1752.81 889.18,1752.31 889.24,1752.77 889.26,1752.36 889.31,1752.82 889.34,1752.2 889.42,1752.75 889.43,1752.21 889.46,1752.7 889.56,1752.1 889.57,1752.53 889.61,1753.13 889.63,1752.39 889.93,1753.03 889.94,1752.16 889.97,1753.11 890,1752.23 890.05,1752.7 890.1,1752.16 890.14,1753.09 890.18,1752.2 890.23,1752.68 890.36,1752.21 890.38,1752.73 890.39,1752.26 890.4,1752.82 890.44,1752.28 890.46,1753.04 890.48,1752.07 890.51,1752.63 890.51,1752.6" fill="#ed2024" stroke="#ed2024" stroke-width="4.6" stroke-linejoin="round"/>
<circle cx="187.77" cy="1732.31" r="3.2" fill="#ed2024"/>
<circle cx="384.07" cy="1750.35" r="3.2" fill="#ed2024"/>
<circle cx="425.68" cy="1754.4" r="3.2" fill="#ed2024"/>
<circle cx="450.03" cy="1755.31" r="3.2" fill="#ed2024"/>
<circle cx="467.3" cy="1751.25" r="3.2" fill="#ed2024"/>
<circle cx="480.7" cy="1753.5" r="3.2" fill="#ed2024"/>
<circle cx="491.65" cy="1753.5" r="3.2" fill="#ed2024"/>
<circle cx="508.92" cy="1753.94" r="3.2" fill="#ed2024"/>
<circle cx="515.99" cy="1752.89" r="3.2" fill="#ed2024"/>
<circle cx="522.32" cy="1753.41" r="3.2" fill="#ed2024"/>
<circle cx="528.04" cy="1753.4" r="3.2" fill="#ed2024"/>
<circle cx="533.26" cy="1752.46" r="3.2" fill="#ed2024"/>
<circle cx="538.07" cy="1752.96" r="3.2" fill="#ed2024"/>
<circle cx="542.52" cy="1752.52" r="3.2" fill="#ed2024"/>
<circle cx="550.54" cy="1752.63" r="3.2" fill="#ed2024"/>
<circle cx="554.18" cy="1752.4" r="3.2" fill="#ed2024"/>
<circle cx="557.61" cy="1752.9" r="3.2" fill="#ed2024"/>
<circle cx="560.85" cy="1752.36" r="3.2" fill="#ed2024"/>
<circle cx="563.93" cy="1752.1" r="3.2" fill="#ed2024"/>
<circle cx="566.86" cy="1752.48" r="3.2" fill="#ed2024"/>
<circle cx="569.66" cy="1752.26" r="3.2" fill="#ed2024"/>
<circle cx="574.88" cy="1752.38" r="3.2" fill="#ed2024"/>
<circle cx="577.33" cy="1753.07" r="3.2" fill="#ed2024"/>
<circle cx="579.69" cy="1752.3" r="3.2" fill="#ed2024"/>
<circle cx="581.95" cy="1752.47" r="3.2" fill="#ed2024"/>
<circle cx="586.24" cy="1752.76" r="3.2" fill="#ed2024"/>
<circle cx="588.28" cy="1753.05" r="3.2" fill="#ed2024"/>
<circle cx="592.15" cy="1752.16" r="3.2" fill="#ed2024"/>
<circle cx="594" cy="1752.59" r="3.2" fill="#ed2024"/>
<circle cx="595.79" cy="1752.33" r="3.2" fill="#ed2024"/>
<circle cx="597.53" cy="1752.17" r="3.2" fill="#ed2024"/>
<circle cx="599.22" cy="1752.37" r="3.2" fill="#ed2024"/>
<circle cx="600.87" cy="1752.13" r="3.2" fill="#ed2024"/>
<circle cx="602.47" cy="1752.7" r="3.2" fill="#ed2024"/>
<circle cx="605.55" cy="1752.25" r="3.2" fill="#ed2024"/>
<circle cx="607.03" cy="1752.63" r="3.2" fill="#ed2024"/>
<circle cx="608.48" cy="1752.1" r="3.2" fill="#ed2024"/>
<circle cx="609.89" cy="1752.16" r="3.2" fill="#ed2024"/>
<circle cx="611.27" cy="1753.01" r="3.2" fill="#ed2024"/>
<circle cx="612.62" cy="1752.97" r="3.2" fill="#ed2024"/>
<circle cx="613.94" cy="1752.89" r="3.2" fill="#ed2024"/>
<circle cx="616.5" cy="1752.09" r="3.2" fill="#ed2024"/>
<circle cx="617.74" cy="1752.67" r="3.2" fill="#ed2024"/>
<circle cx="618.95" cy="1752.46" r="3.2" fill="#ed2024"/>
<circle cx="620.14" cy="1752.8" r="3.2" fill="#ed2024"/>
<circle cx="621.3" cy="1752.58" r="3.2" fill="#ed2024"/>
<circle cx="622.45" cy="1752.71" r="3.2" fill="#ed2024"/>
<circle cx="623.57" cy="1752.74" r="3.2" fill="#ed2024"/>
<circle cx="625.75" cy="1752.49" r="3.2" fill="#ed2024"/>
<circle cx="626.82" cy="1752.49" r="3.2" fill="#ed2024"/>
<circle cx="627.86" cy="1752.14" r="3.2" fill="#ed2024"/>
<circle cx="628.89" cy="1752.39" r="3.2" fill="#ed2024"/>
<polyline points="630.89,1752.12 631.86,1752.21" fill="none" stroke="#ed2024" stroke-width="6.4" stroke-linecap="round" stroke-linejoin="round"/>
<polyline points="633.77,1752.07 634.7,1752.41" fill="none" stroke="#ed2024" stroke-width="6.4" stroke-linecap="round" stroke-linejoin="round"/>
<circle cx="635.62" cy="1752.96" r="3.2" fill="#ed2024"/>
<polyline points="636.52,1752.2 637.41,1752.09 638.29,1752.15 639.15,1752.51" fill="none" stroke="#ed2024" stroke-width="6.4" stroke-linecap="round" stroke-linejoin="round"/>
<polyline points="640.84,1752.35 641.67,1752.9" fill="none" stroke="#ed2024" stroke-width="6.4" stroke-linecap="round" stroke-linejoin="round"/>
<polyline points="642.49,1752.23 643.29,1752.51 644.09,1752.82 644.87,1753.06" fill="none" stroke="#ed2024" stroke-width="6.4" stroke-linecap="round" stroke-linejoin="round"/>
<circle cx="645.65" cy="1752.21" r="3.2" fill="#ed2024"/>
<circle cx="647.17" cy="1752.07" r="3.2" fill="#ed2024"/>
<circle cx="647.91" cy="1753.05" r="3.2" fill="#ed2024"/>
<polyline points="648.65,1752.27 649.38,1752.69 650.1,1752.97 650.81,1752.82 651.51,1752.3" fill="none" stroke="#ed2024" stroke-width="6.4" stroke-linecap="round" stroke-linejoin="round"/>
<circle cx="652.89" cy="1752.19" r="3.2" fill="#ed2024"/>
<polyline points="653.57,1753.08 654.24,1752.47 654.9,1753.08" fill="none" stroke="#ed2024" stroke-width="6.4" stroke-linecap="round" stroke-linejoin="round"/>
<polyline points="656.21,1752.35 656.85,1752.77" fill="none" stroke="#ed2024" stroke-width="6.4" stroke-linecap="round" stroke-linejoin="round"/>
<polyline points="658.11,1752.18 658.74,1752.07 659.35,1752.59 659.96,1752.06 660.57,1752.81 661.16,1753.06 661.75,1752.49" fill="none" stroke="#ed2024" stroke-width="6.4" stroke-linecap="round" stroke-linejoin="round"/>
<polyline points="662.92,1753.1 663.5,1752.92 664.06,1752.69 664.63,1752.47 665.19,1752.96 665.74,1753.09" fill="none" stroke="#ed2024" stroke-width="6.4" stroke-linecap="round" stroke-linejoin="round"/>
<circle cx="666.29" cy="1752.19" r="3.2" fill="#ed2024"/>
<polyline points="667.9,1752.79 668.43,1752.1 668.96,1752.16 669.48,1752.73 669.99,1752.64 670.5,1752.57 671.51,1752.44 672.51,1752.53" fill="none" stroke="#ed2024" stroke-width="6.4" stroke-linecap="round" stroke-linejoin="round"/>
<circle cx="673.96" cy="1752.12" r="3.2" fill="#ed2024"/>
<polyline points="675.39,1752.67 676.32,1752.88" fill="none" stroke="#ed2024" stroke-width="6.4" stroke-linecap="round" stroke-linejoin="round"/>
<polyline points="677.24,1752.08 678.14,1752.54" fill="none" stroke="#ed2024" stroke-width="6.4" stroke-linecap="round" stroke-linejoin="round"/>
<circle cx="679.03" cy="1753.12" r="3.2" fill="#ed2024"/>
<polyline points="679.9,1752.51 680.34,1753.12 680.77,1752.47" fill="none" stroke="#ed2024" stroke-width="6.4" stroke-linecap="round" stroke-linejoin="round"/>
<circle cx="681.62" cy="1753.07" r="3.2" fill="#ed2024"/>
<polyline points="682.46,1752.46 683.29,1752.4 684.1,1752.37" fill="none" stroke="#ed2024" stroke-width="6.4" stroke-linecap="round" stroke-linejoin="round"/>
<polyline points="684.91,1753.11 685.71,1753.07 686.1,1752.41 686.88,1752.86 687.65,1752.64" fill="none" stroke="#ed2024" stroke-width="6.4" stroke-linecap="round" stroke-linejoin="round"/>
<polyline points="688.79,1752.79 689.53,1752.8 690.27,1752.49 691,1752.73 691.71,1752.3 692.07,1753.11 692.43,1752.52 693.13,1752.8 693.82,1752.27 694.51,1752.88 695.19,1752.67 695.86,1753.03 696.52,1752.78 697.18,1752.24 697.83,1752.21 698.15,1752.95 698.79,1752.77" fill="none" stroke="#ed2024" stroke-width="6.4" stroke-linecap="round" stroke-linejoin="round"/>
<circle cx="699.73" cy="1752.18" r="3.2" fill="#ed2024"/>
<circle cx="700.66" cy="1753.01" r="3.2" fill="#ed2024"/>
<polyline points="701.58,1752.27 702.18,1752.23 702.48,1752.94 703.08,1752.27 703.67,1752.27" fill="none" stroke="#ed2024" stroke-width="6.4" stroke-linecap="round" stroke-linejoin="round"/>
<polyline points="704.54,1753 705.11,1752.28 705.4,1752.84 705.96,1752.69 706.8,1752.7 707.08,1752.14 707.36,1752.97" fill="none" stroke="#ed2024" stroke-width="6.4" stroke-linecap="round" stroke-linejoin="round"/>
<polyline points="708.18,1752.12 708.99,1752.07 709.26,1752.67 709.52,1752.11 710.05,1752.9 710.31,1752.33 711.09,1752.42 711.61,1752.83 712.12,1752.89 712.63,1752.5 713.38,1752.83 713.63,1752.26 713.88,1753.09 714.12,1752.16 715.1,1752.17" fill="none" stroke="#ed2024" stroke-width="6.4" stroke-linecap="round" stroke-linejoin="round"/>
<polyline points="715.82,1753.13 716.3,1752.33 716.53,1752.95 717.47,1752.57 718.4,1752.77 719.08,1752.21 719.76,1752.76 720.64,1752.26 720.87,1752.95 721.08,1752.28" fill="none" stroke="#ed2024" stroke-width="6.4" stroke-linecap="round" stroke-linejoin="round"/>
<polyline points="721.96,1753.13 722.39,1752.46 722.81,1753.09 723.45,1752.85 724.08,1752.68 724.7,1753.14" fill="none" stroke="#ed2024" stroke-width="6.4" stroke-linecap="round" stroke-linejoin="round"/>
<polyline points="725.72,1753.07 725.92,1752.08" fill="none" stroke="#ed2024" stroke-width="6.4" stroke-linecap="round" stroke-linejoin="round"/>
<circle cx="726.33" cy="1753.05" r="3.2" fill="#ed2024"/>
<polyline points="727.32,1752.76 727.91,1752.75 728.5,1753.01 729.46,1753.05 730.03,1752.74 730.59,1752.29 731.33,1752.67 731.89,1752.6 732.43,1752.39 733.33,1752.39 733.51,1753.06 734.04,1752.19 734.39,1752.73 734.75,1752.17 735.09,1752.86 735.61,1753.01 735.78,1752.26 736.3,1752.18 736.8,1752.35 737.14,1753.03 737.47,1752.5 737.64,1753.14 737.97,1752.3 738.14,1753.09" fill="none" stroke="#ed2024" stroke-width="6.4" stroke-linecap="round" stroke-linejoin="round"/>
<polyline points="738.96,1752.19 739.12,1752.95 739.44,1752.23 739.6,1753.01 739.77,1752.23" fill="none" stroke="#ed2024" stroke-width="6.4" stroke-linecap="round" stroke-linejoin="round"/>
<polyline points="740.88,1752.28 741.04,1753.1 741.35,1752.31 741.82,1753.02 741.97,1752.33 742.28,1753.07 742.74,1752.53 743.5,1752.47 744.4,1752.76 744.99,1752.6 745.14,1752.09 745.28,1752.69 745.87,1752.39 746.73,1752.44 747.02,1752.98 747.44,1752.33" fill="none" stroke="#ed2024" stroke-width="6.4" stroke-linecap="round" stroke-linejoin="round"/>
<polyline points="748.42,1752.85 749.11,1752.39 749.66,1752.38 750.2,1752.51 750.74,1752.91 751.27,1752.95 751.8,1752.3 751.93,1752.98 752.06,1752.07 752.19,1752.62 752.71,1752.24 753.23,1752.36 753.74,1752.35 754.12,1752.89 754.5,1752.36 755,1752.22 755.12,1752.88 755.74,1752.38 756.35,1752.8 756.96,1753.05 757.2,1752.24 757.32,1752.82 757.91,1753.13" fill="none" stroke="#ed2024" stroke-width="6.4" stroke-linecap="round" stroke-linejoin="round"/>
<polyline points="758.74,1752.51 759.55,1752.42 759.67,1753.02 759.78,1752.18 760.01,1753.04 760.13,1752.12 760.24,1752.74 760.81,1752.41 761.37,1752.32 761.93,1753.02 762.48,1752.41 762.7,1752.94 762.81,1752.44 763.14,1752.95 763.25,1752.18 763.46,1753.01 763.57,1752.13 763.68,1752.99 764,1752.36" fill="none" stroke="#ed2024" stroke-width="6.4" stroke-linecap="round" stroke-linejoin="round"/>
<polyline points="764.85,1753.07 764.96,1752.37 765.49,1752.75 765.9,1752.2 766.01,1753.1 766.11,1752.59 766.93,1752.31 767.34,1753.02 767.74,1752.3 767.94,1752.94 768.35,1752.34 768.94,1752.98" fill="none" stroke="#ed2024" stroke-width="6.4" stroke-linecap="round" stroke-linejoin="round"/>
<polyline points="769.73,1752.29 769.82,1753.11 769.92,1752.27 770.69,1752.46 771.26,1752.62 771.55,1753.14 771.74,1752.31" fill="none" stroke="#ed2024" stroke-width="6.4" stroke-linecap="round" stroke-linejoin="round"/>
<polyline points="772.49,1753.1 772.58,1752.6 773.23,1752.99 773.32,1752.28 773.59,1753.09 773.96,1752.56 774.5,1753 774.68,1752.21 775.22,1752.77 775.31,1752.27 775.92,1753.02 776.54,1752.38 777.14,1752.32 777.31,1752.95 777.49,1752.17 777.74,1752.74 778.42,1752.29 778.51,1752.99 779.18,1753.11 779.42,1752.61 780,1753.09" fill="none" stroke="#ed2024" stroke-width="6.4" stroke-linecap="round" stroke-linejoin="round"/>
<polyline points="780.49,1752.1 780.57,1752.9 781.14,1753.01 781.3,1752.35 781.86,1752.82 782.1,1752.26 782.34,1752.77 782.57,1752.09" fill="none" stroke="#ed2024" stroke-width="6.4" stroke-linecap="round" stroke-linejoin="round"/>
<polyline points="782.81,1753.14 783.36,1752.43 783.9,1752.15 784.05,1753.1 784.28,1752.48 784.43,1753.05 784.59,1752.22 784.66,1753.02 784.97,1752.4 785.19,1752.95 785.27,1752.34 786.02,1752.3 786.16,1752.85 786.75,1752.97 786.83,1752.37 786.9,1753.12" fill="none" stroke="#ed2024" stroke-width="6.4" stroke-linecap="round" stroke-linejoin="round"/>
<polyline points="787.41,1752.23 787.92,1752.17 788.06,1752.78 788.42,1752.11 788.49,1753.03 788.56,1752.53 789.13,1752.44 789.27,1753.13" fill="none" stroke="#ed2024" stroke-width="6.4" stroke-linecap="round" stroke-linejoin="round"/>
<polyline points="789.48,1752.09 789.55,1752.9 789.83,1752.3 790.18,1752.94 790.39,1752.25 790.45,1753.02 790.66,1752.09 790.73,1752.93 790.8,1752.17 790.87,1753.05 791.34,1752.45 791.89,1752.24 792.22,1752.92 792.42,1752.35 792.49,1753.06 792.82,1752.54 793.35,1752.06 793.42,1752.78 793.81,1752.13 794.33,1752.56 794.91,1752.06 795.04,1752.82 795.1,1752.13 795.16,1752.94 795.36,1752.36 795.99,1752.34 796.61,1752.98 796.68,1752.32 797.48,1752.75 797.54,1752.22 797.6,1752.83 797.73,1752.18 797.91,1752.82 798.03,1752.27 798.15,1753.13 798.33,1752.57 798.51,1753.09 798.64,1752.31 799,1753.1 799.47,1752.55 799.95,1753.09 800.3,1752.15 800.42,1752.87 800.53,1752.32 800.88,1752.84 801.17,1752.17 801.63,1752.69 801.97,1752.07" fill="none" stroke="#ed2024" stroke-width="6.4" stroke-linecap="round" stroke-linejoin="round"/>
<polyline points="802.54,1752.97 802.77,1752.22 803.05,1753.11 803.1,1752.52 803.49,1753.03 803.55,1752.42 803.99,1752.93 804.05,1752.14 804.1,1752.95 804.21,1752.24 804.32,1752.8 804.43,1752.11 804.54,1752.8 804.86,1752.08 804.92,1753.06 805.51,1753.14" fill="none" stroke="#ed2024" stroke-width="6.4" stroke-linecap="round" stroke-linejoin="round"/>
<polyline points="805.67,1752.1 805.73,1753.07" fill="none" stroke="#ed2024" stroke-width="6.4" stroke-linecap="round" stroke-linejoin="round"/>
<polyline points="806.15,1752.1 806.21,1752.98 806.26,1752.16 806.31,1752.95 806.37,1752.07 806.63,1752.99 806.74,1752.32 806.79,1752.95 806.95,1752.25 807.05,1753.09 807.16,1752.1 807.36,1753.03 807.47,1752.07 807.52,1752.84 807.83,1752.15 807.88,1753.06 807.99,1752.12 808.19,1752.87 808.29,1752.11 808.35,1752.62 808.55,1753.12 808.65,1752.33 809.26,1752.13 809.41,1752.95 809.46,1752.1 809.56,1752.96 809.81,1752.08 809.86,1752.7 809.91,1752.2 809.96,1753.02 810.06,1752.2 810.46,1753.04 810.71,1752.49 811.34,1752.83 811.39,1752.08 811.44,1752.85 811.59,1752.35 812.12,1752.19 812.36,1753.07 812.5,1752.22 812.6,1753.08 812.64,1752.22 812.69,1752.73 812.74,1752.08 812.79,1752.74 813.02,1752.18 813.26,1752.75 813.64,1752.19 813.73,1752.98 813.87,1752.48 813.92,1752.99 814.24,1752.14 814.57,1752.66 815.12,1752.25 815.21,1753.05 815.39,1752.24 815.49,1752.94 815.94,1752.08 816.03,1753.05 816.12,1752.33 816.25,1753.07 816.48,1752.17 816.61,1752.78 816.75,1752.18 816.79,1752.92 817.06,1752.13 817.19,1753.05 817.37,1752.21 817.45,1752.83 817.5,1752.08 817.85,1753 818.11,1752.16 818.24,1752.92 818.5,1752.2 818.54,1752.91 818.59,1752.25 818.76,1753.01 818.8,1752.15 818.85,1752.71 819.57,1752.39 819.7,1753.02 820.16,1752.33 820.46,1753.08 820.5,1752.29 820.75,1752.85 820.79,1752.17 820.88,1752.9 820.92,1752.26 821.04,1752.77 821.08,1752.06 821.12,1752.62 821.91,1752.92 822.07,1752.32 822.48,1752.83 823,1753.02 823.4,1752.52 823.44,1753.03 823.8,1752.14 824.03,1753.07 824.15,1752.12 824.19,1753.01 824.27,1752.12 824.31,1752.63 824.47,1752.1 824.51,1752.94 824.74,1752.07 824.94,1753.03 824.97,1752.38 825.05,1752.9 825.13,1752.09 825.21,1752.79 825.52,1752.2 825.82,1752.86 826.17,1752.32 826.58,1752.92 826.66,1752.08 826.77,1752.62 827.37,1752.29 827.67,1753.14 827.74,1752.38 827.78,1752.96 827.97,1752.09 828,1753.03 828.04,1752.27 828.3,1752.79 828.41,1752.27 828.85,1752.83 829.14,1752.32 829.57,1753.03 829.61,1752.14 829.75,1752.67 829.82,1752.06 829.86,1752.96 829.96,1752.06 830,1753.01 830.14,1752.14 830.18,1752.69 830.89,1752.1 830.92,1753.09 830.96,1752.1 830.99,1752.93 831.1,1752.33 831.27,1753.05 831.31,1752.41 831.45,1753.13 831.55,1752.41 831.86,1753.11 831.97,1752.34 832,1752.86 832.59,1752.94 832.83,1752.18 832.89,1752.77 833.4,1752.45 833.47,1753.03 833.5,1752.31 833.97,1752.93 834.01,1752.18 834.17,1752.99 834.21,1752.3 834.27,1753.01 834.31,1752.5 834.84,1752.87 834.94,1752.11 834.97,1752.8 835.03,1752.08 835.07,1752.84 835.17,1752.18 835.2,1752.88 835.26,1752.13 835.3,1752.89 835.33,1752.17 835.36,1752.78 835.69,1752.23 835.85,1753.06 836.01,1752.09 836.14,1753.02 836.27,1752.16 836.3,1752.85 836.37,1752.12 836.4,1752.92 836.46,1752.14 836.49,1752.8 836.59,1752.17 836.62,1752.71 836.97,1752.2 837,1752.77 837.54,1753.01 837.61,1752.22 837.67,1752.73 837.76,1752.23 837.79,1752.73 838.23,1752.08 838.26,1753.02 838.29,1752.2 838.33,1752.95 838.36,1752.28 838.39,1752.86 838.51,1752.23 838.64,1753.08 838.76,1752.32 839.07,1753.05 839.1,1752.18 839.13,1753.04 839.22,1752.24 839.25,1752.84 839.5,1752.13 839.53,1752.91 839.56,1752.38 839.74,1753.13 839.8,1752.56 840.31,1752.84 840.43,1752.17 840.94,1752.7 840.97,1752.1 841,1752.68 841.21,1752.12 841.27,1752.65 841.77,1752.62 842.03,1753.14" fill="none" stroke="#ed2024" stroke-width="6.4" stroke-linecap="round" stroke-linejoin="round"/>
<polyline points="842.15,1752.11 842.18,1752.65 842.73,1752.21 842.82,1752.77 843.13,1752.22 843.19,1752.88 843.25,1752.37 843.31,1753.07 843.33,1752.33 843.36,1752.89 843.39,1752.06 843.42,1752.99 843.53,1752.21 843.65,1752.98 843.73,1752.38 843.76,1753.08 843.79,1752.14 843.99,1752.85 844.1,1752.28 844.16,1753.04 844.19,1752.34 844.38,1753.1 844.55,1752.19 844.69,1752.76 844.94,1752.19 844.97,1753.14 845,1752.44 845.36,1752.96 845.41,1752.25 845.77,1752.76 845.83,1752.16 845.88,1752.73 846.07,1752.08 846.18,1752.84 846.7,1752.12 846.83,1753.11 846.86,1752.28 846.94,1752.8 847.1,1752.13 847.45,1753.05 847.48,1752.25 847.51,1753.13 847.53,1752.53 847.59,1753.08 847.66,1752.18 847.72,1752.8 847.74,1752.26 847.93,1753.06 848.01,1752.31 848.04,1753.02 848.38,1752.07" fill="none" stroke="#ed2024" stroke-width="6.4" stroke-linecap="round" stroke-linejoin="round"/>
<polyline points="848.43,1753.14 848.56,1752.28 848.59,1752.92 848.64,1752.31 848.67,1752.96 848.72,1752.08 848.75,1752.65 849.27,1752.6 849.78,1752.29 850.04,1753.11" fill="none" stroke="#ed2024" stroke-width="6.4" stroke-linecap="round" stroke-linejoin="round"/>
<polyline points="850.19,1752.09 850.4,1752.85 850.45,1752.28 850.8,1753.11 850.83,1752.09 850.85,1752.88 850.88,1752.25 851.03,1752.83 851.05,1752.24 851.08,1753.02 851.1,1752.18 851.18,1753.07 851.2,1752.12 851.23,1752.8" fill="none" stroke="#ed2024" stroke-width="6.4" stroke-linecap="round" stroke-linejoin="round"/>
<polyline points="852.03,1752.1 852.05,1752.72 852.1,1752.1 852.5,1752.99 852.52,1752.38 852.62,1753.14" fill="none" stroke="#ed2024" stroke-width="6.4" stroke-linecap="round" stroke-linejoin="round"/>
<polyline points="852.67,1752.09 852.69,1752.74 852.89,1752.07 853.11,1753.05 853.15,1752.09 853.2,1752.86 853.3,1752.23 853.4,1752.97 853.49,1752.37 853.69,1753.06 853.76,1752.5 854.33,1752.11 854.45,1752.81 854.76,1752.07 854.78,1753.05 854.81,1752.26 854.9,1753.07 854.93,1752.46 854.95,1753.13 854.97,1752.22 855,1752.81 855.02,1752.14 855.09,1752.99 855.18,1752.32 855.21,1753.04 855.3,1752.21 855.33,1752.87 855.47,1752.12 855.49,1752.77 855.54,1752.21 855.56,1752.88 855.63,1752.24 855.65,1752.8 855.68,1752.18 855.72,1752.74 855.82,1752.2 856,1753 856.37,1752.46 856.44,1753.02 856.46,1752.08 856.49,1752.97 856.55,1752.07 856.62,1753.06 856.67,1752.22 856.74,1753.13 856.76,1752.29 856.81,1753.09 856.85,1752.17 856.87,1752.78 857.28,1752.15 857.31,1752.74 857.35,1752.08 857.4,1752.59 857.94,1752.17 857.96,1753.05 858.03,1752.22 858.07,1752.86 858.12,1752.06 858.14,1753.02 858.25,1752.21 858.27,1752.84 858.32,1752.28 858.36,1753.06 858.41,1752.42 858.43,1753.05 858.5,1752.49 858.65,1753.08 858.85,1752.16 858.89,1752.76 859.01,1752.19 859.03,1752.69 859.09,1752.1 859.16,1752.88 859.33,1752.33 859.49,1753.12 859.53,1752.23 859.66,1752.76 859.95,1752.25 860.03,1753.08 860.08,1752.16 860.16,1752.97 860.29,1752.45 860.31,1753.12 860.33,1752.61 860.98,1752.49 861,1753.04 861.02,1752.5 861.19,1753.02 861.21,1752.19 861.44,1752.81 861.59,1752.21 861.72,1752.93 861.74,1752.27 861.76,1753 861.78,1752.16 861.85,1752.84 861.99,1752.19 862.18,1753.11 862.22,1752.25 862.26,1753.01 862.33,1752.22 862.35,1752.74 862.51,1752.22 862.53,1752.81 862.7,1752.24 862.74,1752.92 862.76,1752.32 862.83,1752.88 862.87,1752.13 862.93,1753 862.95,1752.3 863.01,1752.86 863.03,1752.3 863.05,1752.82 863.07,1752.29 863.16,1753.01 863.18,1752.43 863.24,1753.09" fill="none" stroke="#ed2024" stroke-width="6.4" stroke-linecap="round" stroke-linejoin="round"/>
<polyline points="863.34,1752.06 863.42,1753 863.48,1752.11 863.67,1752.68 863.93,1752.12 863.97,1753.06 864.03,1752.13 864.13,1753.14 864.15,1752.16 864.17,1752.78 864.64,1752.12 864.68,1753.12 864.72,1752.32 864.84,1753.02 864.88,1752.49 865.38,1753.09 865.47,1752.35 865.51,1752.94 865.75,1752.11 865.91,1753.06 865.93,1752.55 866.42,1753.13 866.46,1752.44 866.57,1752.98 866.63,1752.15 866.69,1752.86 866.73,1752.08 866.77,1753.04 866.84,1752.35 866.94,1753.1 866.98,1752.4 867.15,1753.02 867.19,1752.13 867.21,1752.78 867.25,1752.2 867.38,1753.06 867.52,1752.45 867.54,1753.03 867.65,1752.12 867.67,1752.75 867.69,1752.24 867.78,1752.84 867.84,1752.07 867.9,1753.09 867.94,1752.11 867.99,1752.74 868.11,1752.18 868.13,1752.85 868.67,1752.3 868.73,1752.91 868.77,1752.11 868.8,1753.05 868.86,1752.1 868.91,1753.03 868.95,1752.18 869.05,1752.8 869.21,1752.17 869.29,1752.76 869.44,1752.23 869.45,1752.76 869.51,1752.18 869.55,1752.95 870.1,1752.53 870.43,1753.1 870.45,1752.21 870.46,1752.89 870.63,1752.32 871.03,1753.02 871.04,1752.39 871.08,1752.99 871.1,1752.48 871.6,1752.37 872.01,1753.08 872.03,1752.1 872.05,1752.96 872.06,1752.1 872.12,1752.9 872.19,1752.16 872.26,1752.75 872.66,1752.22 872.77,1752.82 873.03,1752.17 873.15,1753.08 873.17,1752.11 873.19,1752.9 873.24,1752.13 873.34,1752.86 873.5,1752.27 873.55,1752.98 873.64,1752.28 873.71,1752.89 873.72,1752.06" fill="none" stroke="#ed2024" stroke-width="6.4" stroke-linecap="round" stroke-linejoin="round"/>
<circle cx="873.79" cy="1753.13" r="3.2" fill="#ed2024"/>
<polyline points="874.03,1752.11 874.1,1753.02 874.12,1752.43 874.26,1753.03 874.27,1752.26 874.34,1753.11 874.41,1752.27 874.51,1753.13 874.53,1752.33 874.65,1753.02 874.66,1752.28 874.83,1752.94 874.94,1752.28 875.24,1753.06 875.26,1752.21 875.47,1753.13 875.52,1752.37 875.56,1753.12 875.62,1752.31 875.64,1752.89 875.66,1752.08 875.67,1752.83 875.77,1752.3 875.82,1753.08 875.86,1752.14 875.87,1752.87 876.06,1752.37 876.07,1753.01 876.12,1752.33 876.16,1752.99 876.17,1752.07 876.22,1752.79 876.26,1752.1 876.27,1752.66 876.31,1752.08 876.34,1752.95 876.42,1752.18 876.67,1752.95 876.7,1752.23 876.72,1752.76 876.78,1752.25 876.8,1752.78 876.83,1752.26 876.85,1753.04 876.96,1752.31 877.06,1753.06 877.13,1752.3 877.14,1752.84 877.17,1752.3 877.21,1752.85 877.37,1752.29 877.43,1753.11 877.45,1752.31 877.47,1752.86 877.52,1752.33 877.56,1752.86 877.6,1752.18 877.63,1752.76 877.69,1752.18 877.73,1752.94 877.74,1752.44 878.18,1752.98 878.35,1752.29 878.65,1752.81 878.69,1752.09" fill="none" stroke="#ed2024" stroke-width="6.4" stroke-linecap="round" stroke-linejoin="round"/>
<circle cx="878.72" cy="1753.13" r="3.2" fill="#ed2024"/>
<polyline points="878.77,1752.07 878.78,1752.76 878.88,1752.17 878.99,1752.89 879,1752.11 879.02,1752.83 879.29,1752.26 879.3,1752.79 879.32,1752.16 879.36,1752.74 879.62,1752.13 879.65,1752.88 879.69,1752.24 879.8,1752.8 879.86,1752.15 879.88,1752.84 879.97,1752.3 879.99,1752.89 880.02,1752.13 880.1,1753.1 880.11,1752.09 880.14,1752.98 880.16,1752.07 880.18,1753.01 880.19,1752.08" fill="none" stroke="#ed2024" stroke-width="6.4" stroke-linecap="round" stroke-linejoin="round"/>
<polyline points="880.22,1753.11 880.38,1752.11 880.42,1753 880.44,1752.15 880.47,1752.83 880.52,1752.29 880.68,1752.91 880.79,1752.07 880.84,1752.85 880.85,1752.34 881.39,1752.91 881.45,1752.21 881.46,1752.95 881.6,1752.07 881.61,1752.81 881.63,1752.21 881.75,1752.96 881.81,1752.22 881.83,1752.95 882.19,1752.14 882.2,1753.04 882.44,1752.24 882.45,1752.76 882.54,1752.18 882.56,1753.1 882.6,1752.45 882.62,1753 882.72,1752.16 882.74,1753.13 882.78,1752.48 883.27,1753.06 883.3,1752.07 883.31,1752.87 883.33,1752.27 883.36,1753.13 883.39,1752.58 883.9,1752.24 883.91,1752.98 883.97,1752.26 884,1753.14 884.03,1752.58 884.54,1752.88 884.55,1752.33 884.75,1752.84 884.77,1752.21 884.82,1752.9 884.84,1752.12 884.91,1752.8 884.94,1752.17 884.95,1752.83 885.04,1752.12 885.05,1753.13 885.14,1752.24 885.39,1752.78 885.58,1752.1 885.59,1753 885.62,1752.31 885.63,1752.88 885.85,1752.14 885.89,1752.73 885.96,1752.12 885.97,1753.06 886.04,1752.51 886.14,1753.05 886.16,1752.43 886.34,1752.98 886.35,1752.39 886.41,1753 886.48,1752.23 886.53,1752.97 886.59,1752.18 886.64,1752.79 886.7,1752.22 886.92,1753.05 886.93,1752.33 886.95,1753.03 886.96,1752.13 886.98,1752.96 887.05,1752.44 887.07,1753.04 887.22,1752.14 887.25,1752.81 887.27,1752.3 887.29,1752.94 887.31,1752.29 887.33,1753.1 887.35,1752.41 887.44,1753.02 887.49,1752.26 887.55,1752.78 887.57,1752.17 887.6,1753.12 887.61,1752.55 887.91,1753.07 887.95,1752.24 888,1753.11 888.02,1752.23 888.07,1752.76 888.13,1752.13 888.21,1752.67 888.25,1752.08 888.29,1752.96 888.47,1752.08 888.53,1752.9 888.6,1752.08 888.67,1753.04 888.77,1752.46 888.79,1753 888.83,1752.31 888.86,1752.84 888.94,1752.21 888.96,1752.82 889.11,1752.32 889.61,1753.13 889.63,1752.39 889.93,1753.03 889.94,1752.16 889.97,1753.11 890,1752.23 890.14,1753.09 890.18,1752.2 890.38,1752.73 890.48,1752.07 890.51,1752.63" fill="none" stroke="#ed2024" stroke-width="6.4" stroke-linecap="round" stroke-linejoin="round"/>
</g>
<g clip-path="url(#c02L)">
<circle cx="366.79" cy="1920.41" r="3.3" fill="#1a2430"/>
<circle cx="444.8" cy="1920.41" r="3.3" fill="#1a2430"/>
<circle cx="477.62" cy="1920.41" r="3.3" fill="#1a2430"/>
<circle cx="498.72" cy="1920.41" r="3.3" fill="#1a2430"/>
<circle cx="514.3" cy="1920.41" r="3.3" fill="#1a2430"/>
<circle cx="526.66" cy="1920.41" r="3.3" fill="#1a2430"/>
<circle cx="536.9" cy="1920.41" r="3.3" fill="#1a2430"/>
<circle cx="545.65" cy="1920.41" r="3.3" fill="#1a2430"/>
<circle cx="553.29" cy="1920.41" r="3.3" fill="#1a2430"/>
<circle cx="560.06" cy="1920.41" r="3.3" fill="#1a2430"/>
<circle cx="566.14" cy="1920.41" r="3.3" fill="#1a2430"/>
<circle cx="571.67" cy="1920.41" r="3.3" fill="#1a2430"/>
<circle cx="576.73" cy="1920.41" r="3.3" fill="#1a2430"/>
<circle cx="581.39" cy="1920.41" r="3.3" fill="#1a2430"/>
<circle cx="585.72" cy="1920.41" r="3.3" fill="#1a2430"/>
<circle cx="589.76" cy="1920.41" r="3.3" fill="#1a2430"/>
<circle cx="593.54" cy="1920.41" r="3.3" fill="#1a2430"/>
<circle cx="597.1" cy="1920.41" r="3.3" fill="#1a2430"/>
<circle cx="600.46" cy="1920.41" r="3.3" fill="#1a2430"/>
<circle cx="603.64" cy="1920.41" r="3.3" fill="#1a2430"/>
<circle cx="606.67" cy="1920.41" r="3.3" fill="#1a2430"/>
<circle cx="609.54" cy="1920.41" r="3.3" fill="#1a2430"/>
<circle cx="612.29" cy="1920.41" r="3.3" fill="#1a2430"/>
<circle cx="614.91" cy="1920.41" r="3.3" fill="#1a2430"/>
<circle cx="617.43" cy="1920.41" r="3.3" fill="#1a2430"/>
<circle cx="619.84" cy="1920.41" r="3.3" fill="#1a2430"/>
<circle cx="622.16" cy="1920.41" r="3.3" fill="#1a2430"/>
<circle cx="624.4" cy="1920.41" r="3.3" fill="#1a2430"/>
<circle cx="626.55" cy="1920.41" r="3.3" fill="#1a2430"/>
<circle cx="628.63" cy="1920.41" r="3.3" fill="#1a2430"/>
<circle cx="630.64" cy="1920.41" r="3.3" fill="#1a2430"/>
<circle cx="632.59" cy="1920.41" r="3.3" fill="#1a2430"/>
<circle cx="634.47" cy="1920.41" r="3.3" fill="#1a2430"/>
<circle cx="636.3" cy="1920.41" r="3.3" fill="#1a2430"/>
<circle cx="638.07" cy="1920.41" r="3.3" fill="#1a2430"/>
<circle cx="639.79" cy="1920.41" r="3.3" fill="#1a2430"/>
<circle cx="641.46" cy="1920.41" r="3.3" fill="#1a2430"/>
<circle cx="643.09" cy="1920.41" r="3.3" fill="#1a2430"/>
<circle cx="644.68" cy="1920.41" r="3.3" fill="#1a2430"/>
<circle cx="646.22" cy="1920.41" r="3.3" fill="#1a2430"/>
<circle cx="647.73" cy="1920.41" r="3.3" fill="#1a2430"/>
<circle cx="649.2" cy="1920.41" r="3.3" fill="#1a2430"/>
<circle cx="650.63" cy="1920.41" r="3.3" fill="#1a2430"/>
<circle cx="652.03" cy="1920.41" r="3.3" fill="#1a2430"/>
<circle cx="653.4" cy="1920.41" r="3.3" fill="#1a2430"/>
<circle cx="654.74" cy="1920.41" r="3.3" fill="#1a2430"/>
<circle cx="656.05" cy="1920.41" r="3.3" fill="#1a2430"/>
<circle cx="657.33" cy="1920.41" r="3.3" fill="#1a2430"/>
<circle cx="658.58" cy="1920.41" r="3.3" fill="#1a2430"/>
<circle cx="659.81" cy="1920.41" r="3.3" fill="#1a2430"/>
<circle cx="661.01" cy="1920.41" r="3.3" fill="#1a2430"/>
<circle cx="662.19" cy="1920.41" r="3.3" fill="#1a2430"/>
<circle cx="663.35" cy="1920.41" r="3.3" fill="#1a2430"/>
<circle cx="664.49" cy="1920.41" r="3.3" fill="#1a2430"/>
<circle cx="665.6" cy="1920.41" r="3.3" fill="#1a2430"/>
<circle cx="666.7" cy="1920.41" r="3.3" fill="#1a2430"/>
<polyline points="667.77,1920.41 668.83,1920.41 669.86,1920.41 670.88,1920.41 671.89,1920.41 672.87,1920.41 673.84,1920.41 674.8,1920.41 675.74,1920.41 676.66,1920.41 677.58,1920.41 678.47,1920.41 679.36,1920.41 680.23,1920.41 681.09,1920.41 681.94,1920.41 682.77,1920.41 683.6,1920.41 684.41,1920.41 685.21,1920.41 686,1920.41 686.78,1920.41 687.55,1920.41 688.31,1920.41 689.07,1920.41 689.81,1920.41 690.54,1920.41 691.27,1920.41 691.98,1920.41 692.69,1920.41 693.39,1920.41 694.08,1920.41 694.76,1920.41 695.44,1920.41 696.11,1920.41 696.77,1920.41 697.42,1920.41 698.07,1920.41 698.71,1920.41 699.34,1920.41 699.97,1920.41 700.59,1920.41 701.2,1920.41 701.81,1920.41 702.41,1920.41 703,1920.41 703.59,1920.41 704.18,1920.41 704.75,1920.41 705.33,1920.41 705.89,1920.41 706.46,1920.41 707.01,1920.41 707.56,1920.41 708.11,1920.41 708.65,1920.41 709.19,1920.41 709.72,1920.41 710.25,1920.41 710.77,1920.41 711.29,1920.41 711.8,1920.41 712.31,1920.41 712.82,1920.41 713.32,1920.41 714.31,1920.41 715.28,1920.41 716.24,1920.41 717.18,1920.41 718.11,1920.41 719.02,1920.41 719.92,1920.41 720.81,1920.41 721.68,1920.41 722.55,1920.41 723.4,1920.41 724.23,1920.41 725.06,1920.41 725.87,1920.41 726.68,1920.41 727.47,1920.41 728.25,1920.41 729.03,1920.41 729.79,1920.41 730.54,1920.41 731.29,1920.41 732.02,1920.41 732.75,1920.41 733.47,1920.41 734.18,1920.41 734.88,1920.41 735.57,1920.41 736.25,1920.41 736.93,1920.41 737.6,1920.41 738.26,1920.41 738.92,1920.41 739.56,1920.41 740.21,1920.41 740.84,1920.41 741.47,1920.41 742.09,1920.41 742.7,1920.41 743.31,1920.41 743.91,1920.41 744.51,1920.41 745.1,1920.41 745.68,1920.41 746.26,1920.41 746.84,1920.41 747.41,1920.41 747.97,1920.41 748.53,1920.41 749.08,1920.41 749.63,1920.41 750.17,1920.41 750.71,1920.41 751.24,1920.41 751.77,1920.41 752.29,1920.41 752.81,1920.41 753.32,1920.41 753.83,1920.41 754.34,1920.41 754.84,1920.41 755.59,1920.41 756.32,1920.41 757.05,1920.41 757.77,1920.41 758.48,1920.41 759.18,1920.41 759.87,1920.41 760.56,1920.41 761.23,1920.41 761.9,1920.41 762.57,1920.41 763.22,1920.41 763.87,1920.41 764.51,1920.41 765.14,1920.41 765.77,1920.41 766.39,1920.41 767.01,1920.41 767.62,1920.41 768.22,1920.41 768.82,1920.41 769.41,1920.41 769.99,1920.41 770.57,1920.41 771.15,1920.41 771.71,1920.41 772.28,1920.41 772.84,1920.41 773.39,1920.41 773.94,1920.41 774.48,1920.41 775.02,1920.41 775.55,1920.41 776.08,1920.41 776.6,1920.41 777.12,1920.41 777.64,1920.41 778.15,1920.41 778.65,1920.41 779.15,1920.41 779.82,1920.41 780.47,1920.41 781.12,1920.41 781.76,1920.41 782.4,1920.41 783.03,1920.41 783.65,1920.41 784.26,1920.41 784.87,1920.41 785.47,1920.41 786.07,1920.41 786.66,1920.41 787.25,1920.41 787.83,1920.41 788.4,1920.41 788.97,1920.41 789.53,1920.41 790.09,1920.41 790.64,1920.41 791.19,1920.41 791.73,1920.41 792.27,1920.41 792.81,1920.41 793.33,1920.41 793.86,1920.41 794.38,1920.41 794.89,1920.41 795.4,1920.41 795.91,1920.41 796.41,1920.41 797.03,1920.41 797.65,1920.41 798.26,1920.41 798.86,1920.41 799.46,1920.41 800.05,1920.41 800.63,1920.41 801.21,1920.41 801.79,1920.41 802.36,1920.41 802.92,1920.41 803.48,1920.41 804.03,1920.41 804.58,1920.41 805.12,1920.41 805.66,1920.41 806.19,1920.41 806.72,1920.41 807.25,1920.41 807.77,1920.41 808.28,1920.41 808.79,1920.41 809.3,1920.41 809.8,1920.41 810.4,1920.41 810.99,1920.41 811.57,1920.41 812.15,1920.41 812.73,1920.41 813.3,1920.41 813.86,1920.41 814.42,1920.41 814.97,1920.41 815.52,1920.41 816.06,1920.41 816.6,1920.41 817.13,1920.41 817.66,1920.41 818.19,1920.41 818.71,1920.41 819.22,1920.41 819.73,1920.41 820.24,1920.41 820.74,1920.41 821.32,1920.41 821.9,1920.41 822.47,1920.41 823.03,1920.41 823.59,1920.41 824.14,1920.41 824.69,1920.41 825.24,1920.41 825.77,1920.41 826.31,1920.41 826.84,1920.41 827.36,1920.41 827.88,1920.41 828.4,1920.41 828.91,1920.41 829.42,1920.41 829.92,1920.41 830.49,1920.41 831.05,1920.41 831.61,1920.41 832.17,1920.41 832.72,1920.41 833.26,1920.41 833.8,1920.41 834.33,1920.41 834.86,1920.41 835.39,1920.41 835.91,1920.41 836.42,1920.41 836.93,1920.41 837.44,1920.41 837.94,1920.41 838.5,1920.41 839.06,1920.41 839.61,1920.41 840.15,1920.41 840.7,1920.41 841.23,1920.41 841.76,1920.41 842.29,1920.41 842.81,1920.41 843.33,1920.41 843.84,1920.41 844.35,1920.41 844.85,1920.41 845.41,1920.41 845.96,1920.41 846.5,1920.41 847.04,1920.41 847.58,1920.41 848.11,1920.41 848.64,1920.41 849.16,1920.41 849.67,1920.41 850.19,1920.41 850.69,1920.41 851.2,1920.41 851.75,1920.41 852.29,1920.41 852.83,1920.41 853.37,1920.41 853.9,1920.41 854.42,1920.41 854.94,1920.41 855.46,1920.41 855.97,1920.41 856.48,1920.41 856.98,1920.41 857.53,1920.41 858.07,1920.41 858.6,1920.41 859.13,1920.41 859.66,1920.41 860.18,1920.41 860.69,1920.41 861.21,1920.41 861.71,1920.41 862.22,1920.41 862.76,1920.41 863.29,1920.41 863.82,1920.41 864.35,1920.41 864.87,1920.41 865.39,1920.41 865.9,1920.41 866.41,1920.41 866.92,1920.41 867.42,1920.41 867.95,1920.41 868.48,1920.41 869,1920.41 869.52,1920.41 870.04,1920.41 870.55,1920.41 871.06,1920.41 871.56,1920.41 872.09,1920.41 872.62,1920.41 873.15,1920.41 873.67,1920.41 874.18,1920.41 874.69,1920.41 875.2,1920.41 875.7,1920.41 876.24,1920.41 876.76,1920.41 877.28,1920.41 877.8,1920.41 878.32,1920.41 878.82,1920.41 879.33,1920.41 879.83,1920.41 880.36,1920.41 880.88,1920.41 881.4,1920.41 881.91,1920.41 882.42,1920.41 882.93,1920.41 883.43,1920.41 883.95,1920.41 884.47,1920.41 884.99,1920.41 885.5,1920.41 886.01,1920.41 886.51,1920.41 887.04,1920.41 887.56,1920.41 888.08,1920.41 888.6,1920.41 889.11,1920.41" fill="none" stroke="#1a2430" stroke-width="6.6" stroke-linecap="round" stroke-linejoin="round"/>
</g>
<g clip-path="url(#c10V)">
<polyline points="986.39,176.55 1069.5,176.55 1073.37,179.29 1077.23,181.95 1081.1,184.52 1084.97,187.01 1088.83,189.42 1092.7,191.76 1096.56,194.02 1100.43,196.21 1104.3,198.33 1108.16,200.38 1112.03,202.36 1115.9,204.29 1119.76,206.15 1123.63,207.96 1127.5,209.7 1131.36,211.39 1135.23,213.03 1139.09,214.62 1142.96,216.15 1146.83,217.64 1150.69,219.08 1154.56,220.47 1158.43,221.82 1162.29,223.13 1166.16,224.39 1170.03,225.62 1173.89,226.8 1177.76,227.95 1181.62,229.06 1185.49,230.14 1189.36,231.18 1193.22,232.19 1197.09,233.17 1200.96,234.12 1204.82,235.03 1208.69,235.92 1212.55,236.78 1216.42,237.61 1220.29,238.42 1224.15,239.2 1228.02,239.95 1231.89,240.68 1235.75,241.39 1239.62,242.08 1243.49,242.74 1247.35,243.38 1251.22,244.01 1255.08,244.61 1258.95,245.19 1262.82,245.76 1266.68,246.3 1270.55,246.83 1274.42,247.35 1278.28,247.84 1282.15,248.33 1286.02,248.79 1289.88,249.24 1293.75,249.68 1297.61,250.1 1301.48,250.51 1305.35,250.91 1309.21,251.29 1313.08,251.66 1316.95,252.02 1320.81,252.37 1324.68,252.71 1328.55,253.03 1332.41,253.35 1336.28,253.66 1340.14,253.95 1344.01,254.24 1347.88,254.52 1351.74,254.79 1355.61,255.05 1359.48,255.3 1363.34,255.54 1367.21,255.78 1371.08,256.01 1374.94,256.23 1378.81,256.45 1382.67,256.65 1386.54,256.86 1390.41,257.05 1394.27,257.24 1398.14,257.42 1402.01,257.6 1405.87,257.77 1409.74,257.94 1413.6,258.1 1417.47,258.25 1421.34,258.4 1425.2,258.55 1429.07,258.69 1432.94,258.83 1436.8,258.96 1440.67,259.09 1444.54,259.21 1448.4,259.33 1452.27,259.45 1456.13,259.56 1460,259.67 1463.87,259.78 1467.73,259.88 1471.6,259.98 1475.47,260.07 1479.33,260.17 1483.2,260.26 1487.07,260.34 1490.93,260.43 1494.8,260.51 1498.66,260.59 1502.53,260.66 1506.4,260.74 1510.26,260.81 1514.13,260.88 1518,260.95 1521.86,261.01 1525.73,261.08 1529.6,261.14 1533.46,261.2 1537.33,261.25 1541.19,261.31 1545.06,261.36 1548.93,261.41 1552.79,261.46 1556.66,261.51 1560.53,261.56 1564.39,261.61 1568.26,261.65 1572.13,261.69 1575.99,261.73 1579.86,261.77 1583.72,261.81 1587.59,261.85 1591.46,261.89 1595.32,261.92 1599.19,261.96 1603.06,261.99 1606.92,262.02 1610.79,262.05 1614.66,262.08 1618.52,262.11 1622.39,262.14 1626.25,262.17 1630.12,262.19 1633.99,262.22 1637.85,262.24 1641.72,262.27 1645.59,262.29 1649.45,262.31 1653.32,262.34 1657.18,262.36 1661.05,262.38 1664.92,262.4 1668.78,262.42 1672.65,262.43 1676.52,262.45 1680.38,262.47 1684.25,262.49 1688.12,262.5" fill="none" stroke="#1a2430" stroke-width="6.2" stroke-linejoin="round" stroke-linecap="square"/>
<polyline points="986.39,219.08 991.24,219.2 996.1,219.32 1000.96,219.45 1005.82,219.58 1010.68,219.72 1015.54,219.86 1020.4,220.01 1025.25,220.16 1030.11,220.32 1034.97,220.49 1039.83,220.66 1044.69,220.85 1049.55,221.04 1054.41,221.23 1059.26,221.44 1064.12,221.65 1068.98,221.87 1073.84,222.11 1078.7,222.35 1083.56,222.6 1088.41,222.86 1093.27,223.13 1098.13,223.42 1102.99,223.71 1107.85,224.02 1112.71,224.34 1117.57,224.67 1122.42,225.02 1127.28,225.38 1132.14,225.76 1137,226.15 1141.86,226.56 1146.72,226.99 1151.58,227.43 1156.43,227.89 1161.29,228.37 1166.15,228.87 1171.01,229.39 1175.87,229.94 1180.73,230.5 1185.59,231.09 1190.44,231.7 1195.3,232.34 1200.16,233.01 1205.02,233.7 1209.88,234.42 1214.74,235.17 1219.6,235.95 1224.45,236.77 1229.31,237.61 1234.17,238.5 1239.03,239.42 1243.89,240.37 1248.75,241.37 1253.6,242.41 1258.46,243.49 1263.32,244.61 1268.18,245.79 1273.04,247.01 1290.3,248.2 1313.5,252.2 1343.6,252.8 1357.5,254.9 1395,256.6 1430,257.8 1480,258.7 1550,260.2 1620,261.6 1687.7,262.7" fill="none" stroke="#1ebfcf" stroke-width="6.6" stroke-linejoin="round" stroke-linecap="square"/>
</g>
<g clip-path="url(#c10E)">
<polygon points="986.39,407.1 986.39,451.3 1239.85,406.2 1247.16,404.39 1272.38,407.82 1289.82,404.39 1313.95,408.72 1330.82,406.74 1337.86,407.19 1344.18,406.99 1349.89,406.33 1355.11,407.16 1359.91,407.09 1364.35,406.94 1372.36,407.67 1375.99,407.08 1379.42,406.87 1382.66,406.57 1385.74,407.83 1388.66,407.45 1391.45,407.84 1396.67,406.54 1399.11,406.75 1401.47,407.93 1403.73,406.23 1408.01,406.26 1410.04,406.82 1413.91,406.89 1415.76,407.72 1417.55,407.97 1419.29,407.05 1420.98,407.89 1422.62,407.66 1424.22,407.57 1427.29,407.95 1428.77,407.17 1430.22,407.21 1431.63,406.48 1433.01,407.07 1434.35,406.85 1435.67,407.1 1438.22,406.81 1439.46,407.18 1440.67,407.5 1441.86,406.2 1443.02,406.21 1444.16,406.49 1445.29,406.73 1447.47,407.43 1448.53,407.59 1449.57,407.48 1450.59,407.88 1452.59,406.62 1453.57,407.28 1455.47,406.47 1456.4,407.3 1457.32,406.27 1458.22,406.47 1459.11,408 1459.98,407.62 1462.53,406.36 1465.77,407.15 1468.85,406.23 1471.77,407.29 1474.56,407.87 1479.78,406.87 1482.23,406.6 1484.58,407.52 1486.84,407.84 1491.13,407.4 1493.16,406.26 1497.03,406.63 1498.87,407.79 1500.66,407.56 1502.4,407.82 1504.09,407.89 1505.73,406.56 1507.33,407.68 1510.41,406.99 1511.89,407.19 1513.33,407.66 1514.74,406.68 1516.12,407.77 1517.47,406.84 1518.79,407.79 1521.34,407.24 1522.57,407.62 1523.79,407.52 1524.97,406.25 1526.14,406.55 1527.28,407.45 1528.4,406.41 1530.58,407.62 1531.64,407.29 1532.68,406.46 1533.71,406.84 1535.71,407.82 1536.68,406.22 1538.59,407.62 1539.52,407.54 1540.43,406.61 1541.33,407.41 1542.22,407.47 1543.1,407.87 1543.96,407.84 1545.65,406.95 1548.89,407.56 1551.96,406.92 1554.89,407.33 1557.68,407.18 1562.9,406.27 1565.34,407.13 1567.69,406.97 1569.96,406.44 1574.24,407.67 1576.27,407.72 1580.14,406.36 1581.99,406.53 1583.78,407.55 1585.52,407.66 1587.2,406.67 1588.85,406.31 1590.45,407.65 1593.52,406.29 1595,406.41 1596.45,406.91 1597.86,407.24 1599.24,407.81 1600.58,407.93 1601.9,406.27 1604.45,407.57 1605.69,406.73 1606.9,407.54 1608.09,406.52 1609.25,406.93 1610.39,407.47 1611.51,407.69 1613.69,406.7 1614.76,407.88 1615.8,407.59 1616.82,406.99 1618.82,406.46 1619.8,406.89 1621.7,407.5 1622.63,406.35 1623.54,407.63 1624.45,407.97 1625.33,407.52 1626.21,407.2 1627.07,407.89 1628.76,407.68 1632,407.34 1635.08,406.97 1638,407.76 1640.79,407.35 1646.01,406.39 1648.46,406.23 1650.81,406.82 1653.07,406.76 1657.36,406.95 1659.39,407.75 1663.26,407.94 1665.1,407.97 1666.89,406.36 1668.63,406.74 1670.32,406.27 1671.96,407.96 1673.56,406.85 1676.64,407.13 1678.12,406.68 1679.56,407.43 1680.97,406.2 1682.35,407.87 1683.7,407.02 1685.01,406.67 1687.57,406.38 1687.57,407.1" fill="#ed2024" stroke="#ed2024" stroke-width="4.6" stroke-linejoin="round"/>
<circle cx="986.39" cy="451.3" r="3.2" fill="#ed2024"/>
<circle cx="1239.85" cy="406.2" r="3.2" fill="#ed2024"/>
<circle cx="1247.16" cy="404.39" r="3.2" fill="#ed2024"/>
<circle cx="1272.38" cy="407.82" r="3.2" fill="#ed2024"/>
<circle cx="1289.82" cy="404.39" r="3.2" fill="#ed2024"/>
<circle cx="1313.95" cy="408.72" r="3.2" fill="#ed2024"/>
<circle cx="1330.82" cy="406.74" r="3.2" fill="#ed2024"/>
<circle cx="1337.86" cy="407.19" r="3.2" fill="#ed2024"/>
<circle cx="1344.18" cy="406.99" r="3.2" fill="#ed2024"/>
<circle cx="1349.89" cy="406.33" r="3.2" fill="#ed2024"/>
<circle cx="1355.11" cy="407.16" r="3.2" fill="#ed2024"/>
<circle cx="1359.91" cy="407.09" r="3.2" fill="#ed2024"/>
<circle cx="1364.35" cy="406.94" r="3.2" fill="#ed2024"/>
<circle cx="1372.36" cy="407.67" r="3.2" fill="#ed2024"/>
<circle cx="1375.99" cy="407.08" r="3.2" fill="#ed2024"/>
<circle cx="1379.42" cy="406.87" r="3.2" fill="#ed2024"/>
<circle cx="1382.66" cy="406.57" r="3.2" fill="#ed2024"/>
<circle cx="1385.74" cy="407.83" r="3.2" fill="#ed2024"/>
<circle cx="1388.66" cy="407.45" r="3.2" fill="#ed2024"/>
<circle cx="1391.45" cy="407.84" r="3.2" fill="#ed2024"/>
<circle cx="1396.67" cy="406.54" r="3.2" fill="#ed2024"/>
<circle cx="1399.11" cy="406.75" r="3.2" fill="#ed2024"/>
<circle cx="1401.47" cy="407.93" r="3.2" fill="#ed2024"/>
<circle cx="1403.73" cy="406.23" r="3.2" fill="#ed2024"/>
<circle cx="1408.01" cy="406.26" r="3.2" fill="#ed2024"/>
<circle cx="1410.04" cy="406.82" r="3.2" fill="#ed2024"/>
<circle cx="1413.91" cy="406.89" r="3.2" fill="#ed2024"/>
<circle cx="1415.76" cy="407.72" r="3.2" fill="#ed2024"/>
<circle cx="1417.55" cy="407.97" r="3.2" fill="#ed2024"/>
<circle cx="1419.29" cy="407.05" r="3.2" fill="#ed2024"/>
<circle cx="1420.98" cy="407.89" r="3.2" fill="#ed2024"/>
<circle cx="1422.62" cy="407.66" r="3.2" fill="#ed2024"/>
<circle cx="1424.22" cy="407.57" r="3.2" fill="#ed2024"/>
<circle cx="1427.29" cy="407.95" r="3.2" fill="#ed2024"/>
<circle cx="1428.77" cy="407.17" r="3.2" fill="#ed2024"/>
<circle cx="1430.22" cy="407.21" r="3.2" fill="#ed2024"/>
<circle cx="1431.63" cy="406.48" r="3.2" fill="#ed2024"/>
<circle cx="1433.01" cy="407.07" r="3.2" fill="#ed2024"/>
<circle cx="1434.35" cy="406.85" r="3.2" fill="#ed2024"/>
<circle cx="1435.67" cy="407.1" r="3.2" fill="#ed2024"/>
<circle cx="1438.22" cy="406.81" r="3.2" fill="#ed2024"/>
<circle cx="1439.46" cy="407.18" r="3.2" fill="#ed2024"/>
<circle cx="1440.67" cy="407.5" r="3.2" fill="#ed2024"/>
<circle cx="1441.86" cy="406.2" r="3.2" fill="#ed2024"/>
<circle cx="1443.02" cy="406.21" r="3.2" fill="#ed2024"/>
<circle cx="1444.16" cy="406.49" r="3.2" fill="#ed2024"/>
<circle cx="1445.29" cy="406.73" r="3.2" fill="#ed2024"/>
<circle cx="1447.47" cy="407.43" r="3.2" fill="#ed2024"/>
<circle cx="1448.53" cy="407.59" r="3.2" fill="#ed2024"/>
<circle cx="1449.57" cy="407.48" r="3.2" fill="#ed2024"/>
<circle cx="1450.59" cy="407.88" r="3.2" fill="#ed2024"/>
<circle cx="1452.59" cy="406.62" r="3.2" fill="#ed2024"/>
<circle cx="1453.57" cy="407.28" r="3.2" fill="#ed2024"/>
<circle cx="1455.47" cy="406.47" r="3.2" fill="#ed2024"/>
<circle cx="1456.4" cy="407.3" r="3.2" fill="#ed2024"/>
<polyline points="1457.32,406.27 1458.22,406.47" fill="none" stroke="#ed2024" stroke-width="6.4" stroke-linecap="round" stroke-linejoin="round"/>
<polyline points="1459.11,408 1459.98,407.62" fill="none" stroke="#ed2024" stroke-width="6.4" stroke-linecap="round" stroke-linejoin="round"/>
<circle cx="1462.53" cy="406.36" r="3.2" fill="#ed2024"/>
<circle cx="1465.77" cy="407.15" r="3.2" fill="#ed2024"/>
<circle cx="1468.85" cy="406.23" r="3.2" fill="#ed2024"/>
<circle cx="1471.77" cy="407.29" r="3.2" fill="#ed2024"/>
<circle cx="1474.56" cy="407.87" r="3.2" fill="#ed2024"/>
<circle cx="1479.78" cy="406.87" r="3.2" fill="#ed2024"/>
<circle cx="1482.23" cy="406.6" r="3.2" fill="#ed2024"/>
<circle cx="1484.58" cy="407.52" r="3.2" fill="#ed2024"/>
<circle cx="1486.84" cy="407.84" r="3.2" fill="#ed2024"/>
<circle cx="1491.13" cy="407.4" r="3.2" fill="#ed2024"/>
<circle cx="1493.16" cy="406.26" r="3.2" fill="#ed2024"/>
<circle cx="1497.03" cy="406.63" r="3.2" fill="#ed2024"/>
<circle cx="1498.87" cy="407.79" r="3.2" fill="#ed2024"/>
<circle cx="1500.66" cy="407.56" r="3.2" fill="#ed2024"/>
<circle cx="1502.4" cy="407.82" r="3.2" fill="#ed2024"/>
<circle cx="1504.09" cy="407.89" r="3.2" fill="#ed2024"/>
<circle cx="1505.73" cy="406.56" r="3.2" fill="#ed2024"/>
<circle cx="1507.33" cy="407.68" r="3.2" fill="#ed2024"/>
<circle cx="1510.41" cy="406.99" r="3.2" fill="#ed2024"/>
<circle cx="1511.89" cy="407.19" r="3.2" fill="#ed2024"/>
<circle cx="1513.33" cy="407.66" r="3.2" fill="#ed2024"/>
<circle cx="1514.74" cy="406.68" r="3.2" fill="#ed2024"/>
<circle cx="1516.12" cy="407.77" r="3.2" fill="#ed2024"/>
<circle cx="1517.47" cy="406.84" r="3.2" fill="#ed2024"/>
<circle cx="1518.79" cy="407.79" r="3.2" fill="#ed2024"/>
<circle cx="1521.34" cy="407.24" r="3.2" fill="#ed2024"/>
<circle cx="1522.57" cy="407.62" r="3.2" fill="#ed2024"/>
<circle cx="1523.79" cy="407.52" r="3.2" fill="#ed2024"/>
<circle cx="1524.97" cy="406.25" r="3.2" fill="#ed2024"/>
<circle cx="1526.14" cy="406.55" r="3.2" fill="#ed2024"/>
<circle cx="1527.28" cy="407.45" r="3.2" fill="#ed2024"/>
<circle cx="1528.4" cy="406.41" r="3.2" fill="#ed2024"/>
<circle cx="1530.58" cy="407.62" r="3.2" fill="#ed2024"/>
<circle cx="1531.64" cy="407.29" r="3.2" fill="#ed2024"/>
<circle cx="1532.68" cy="406.46" r="3.2" fill="#ed2024"/>
<circle cx="1533.71" cy="406.84" r="3.2" fill="#ed2024"/>
<circle cx="1535.71" cy="407.82" r="3.2" fill="#ed2024"/>
<circle cx="1536.68" cy="406.22" r="3.2" fill="#ed2024"/>
<polyline points="1538.59,407.62 1539.52,407.54" fill="none" stroke="#ed2024" stroke-width="6.4" stroke-linecap="round" stroke-linejoin="round"/>
<circle cx="1540.43" cy="406.61" r="3.2" fill="#ed2024"/>
<polyline points="1541.33,407.41 1542.22,407.47 1543.1,407.87 1543.96,407.84" fill="none" stroke="#ed2024" stroke-width="6.4" stroke-linecap="round" stroke-linejoin="round"/>
<circle cx="1545.65" cy="406.95" r="3.2" fill="#ed2024"/>
<circle cx="1548.89" cy="407.56" r="3.2" fill="#ed2024"/>
<circle cx="1551.96" cy="406.92" r="3.2" fill="#ed2024"/>
<circle cx="1554.89" cy="407.33" r="3.2" fill="#ed2024"/>
<circle cx="1557.68" cy="407.18" r="3.2" fill="#ed2024"/>
<circle cx="1562.9" cy="406.27" r="3.2" fill="#ed2024"/>
<circle cx="1565.34" cy="407.13" r="3.2" fill="#ed2024"/>
<circle cx="1567.69" cy="406.97" r="3.2" fill="#ed2024"/>
<circle cx="1569.96" cy="406.44" r="3.2" fill="#ed2024"/>
<circle cx="1574.24" cy="407.67" r="3.2" fill="#ed2024"/>
<circle cx="1576.27" cy="407.72" r="3.2" fill="#ed2024"/>
<circle cx="1580.14" cy="406.36" r="3.2" fill="#ed2024"/>
<circle cx="1581.99" cy="406.53" r="3.2" fill="#ed2024"/>
<circle cx="1583.78" cy="407.55" r="3.2" fill="#ed2024"/>
<circle cx="1585.52" cy="407.66" r="3.2" fill="#ed2024"/>
<circle cx="1587.2" cy="406.67" r="3.2" fill="#ed2024"/>
<circle cx="1588.85" cy="406.31" r="3.2" fill="#ed2024"/>
<circle cx="1590.45" cy="407.65" r="3.2" fill="#ed2024"/>
<circle cx="1593.52" cy="406.29" r="3.2" fill="#ed2024"/>
<circle cx="1595" cy="406.41" r="3.2" fill="#ed2024"/>
<circle cx="1596.45" cy="406.91" r="3.2" fill="#ed2024"/>
<circle cx="1597.86" cy="407.24" r="3.2" fill="#ed2024"/>
<circle cx="1599.24" cy="407.81" r="3.2" fill="#ed2024"/>
<circle cx="1600.58" cy="407.93" r="3.2" fill="#ed2024"/>
<circle cx="1601.9" cy="406.27" r="3.2" fill="#ed2024"/>
<circle cx="1604.45" cy="407.57" r="3.2" fill="#ed2024"/>
<circle cx="1605.69" cy="406.73" r="3.2" fill="#ed2024"/>
<circle cx="1606.9" cy="407.54" r="3.2" fill="#ed2024"/>
<circle cx="1608.09" cy="406.52" r="3.2" fill="#ed2024"/>
<circle cx="1609.25" cy="406.93" r="3.2" fill="#ed2024"/>
<circle cx="1610.39" cy="407.47" r="3.2" fill="#ed2024"/>
<circle cx="1611.51" cy="407.69" r="3.2" fill="#ed2024"/>
<circle cx="1613.69" cy="406.7" r="3.2" fill="#ed2024"/>
<circle cx="1614.76" cy="407.88" r="3.2" fill="#ed2024"/>
<circle cx="1615.8" cy="407.59" r="3.2" fill="#ed2024"/>
<circle cx="1616.82" cy="406.99" r="3.2" fill="#ed2024"/>
<circle cx="1618.82" cy="406.46" r="3.2" fill="#ed2024"/>
<circle cx="1619.8" cy="406.89" r="3.2" fill="#ed2024"/>
<circle cx="1621.7" cy="407.5" r="3.2" fill="#ed2024"/>
<circle cx="1622.63" cy="406.35" r="3.2" fill="#ed2024"/>
<polyline points="1623.54,407.63 1624.45,407.97 1625.33,407.52 1626.21,407.2" fill="none" stroke="#ed2024" stroke-width="6.4" stroke-linecap="round" stroke-linejoin="round"/>
<circle cx="1627.07" cy="407.89" r="3.2" fill="#ed2024"/>
<circle cx="1628.76" cy="407.68" r="3.2" fill="#ed2024"/>
<circle cx="1632" cy="407.34" r="3.2" fill="#ed2024"/>
<circle cx="1635.08" cy="406.97" r="3.2" fill="#ed2024"/>
<circle cx="1638" cy="407.76" r="3.2" fill="#ed2024"/>
<circle cx="1640.79" cy="407.35" r="3.2" fill="#ed2024"/>
<circle cx="1646.01" cy="406.39" r="3.2" fill="#ed2024"/>
<circle cx="1648.46" cy="406.23" r="3.2" fill="#ed2024"/>
<circle cx="1650.81" cy="406.82" r="3.2" fill="#ed2024"/>
<circle cx="1653.07" cy="406.76" r="3.2" fill="#ed2024"/>
<circle cx="1657.36" cy="406.95" r="3.2" fill="#ed2024"/>
<circle cx="1659.39" cy="407.75" r="3.2" fill="#ed2024"/>
<circle cx="1663.26" cy="407.94" r="3.2" fill="#ed2024"/>
<circle cx="1665.1" cy="407.97" r="3.2" fill="#ed2024"/>
<circle cx="1666.89" cy="406.36" r="3.2" fill="#ed2024"/>
<circle cx="1668.63" cy="406.74" r="3.2" fill="#ed2024"/>
<circle cx="1670.32" cy="406.27" r="3.2" fill="#ed2024"/>
<circle cx="1671.96" cy="407.96" r="3.2" fill="#ed2024"/>
<circle cx="1673.56" cy="406.85" r="3.2" fill="#ed2024"/>
<circle cx="1676.64" cy="407.13" r="3.2" fill="#ed2024"/>
<circle cx="1678.12" cy="406.68" r="3.2" fill="#ed2024"/>
<circle cx="1679.56" cy="407.43" r="3.2" fill="#ed2024"/>
<circle cx="1680.97" cy="406.2" r="3.2" fill="#ed2024"/>
<circle cx="1682.35" cy="407.87" r="3.2" fill="#ed2024"/>
<circle cx="1683.7" cy="407.02" r="3.2" fill="#ed2024"/>
<circle cx="1685.01" cy="406.67" r="3.2" fill="#ed2024"/>
<circle cx="1687.57" cy="406.38" r="3.2" fill="#ed2024"/>
</g>
<g clip-path="url(#c10L)">
<circle cx="1271.99" cy="563.94" r="3.3" fill="#1a2430"/>
<circle cx="1349.89" cy="563.94" r="3.3" fill="#1a2430"/>
<circle cx="1382.66" cy="563.94" r="3.3" fill="#1a2430"/>
<circle cx="1403.73" cy="563.94" r="3.3" fill="#1a2430"/>
<circle cx="1419.29" cy="563.94" r="3.3" fill="#1a2430"/>
<circle cx="1431.63" cy="563.94" r="3.3" fill="#1a2430"/>
<circle cx="1441.86" cy="563.94" r="3.3" fill="#1a2430"/>
<circle cx="1450.59" cy="563.94" r="3.3" fill="#1a2430"/>
<circle cx="1458.22" cy="563.94" r="3.3" fill="#1a2430"/>
<circle cx="1465.77" cy="555.4" r="3.3" fill="#1a2430"/>
<circle cx="1486.84" cy="555.4" r="3.3" fill="#1a2430"/>
<circle cx="1502.4" cy="555.4" r="3.3" fill="#1a2430"/>
<circle cx="1514.74" cy="555.4" r="3.3" fill="#1a2430"/>
<circle cx="1524.97" cy="555.4" r="3.3" fill="#1a2430"/>
<circle cx="1533.71" cy="555.4" r="3.3" fill="#1a2430"/>
<circle cx="1541.33" cy="555.4" r="3.3" fill="#1a2430"/>
<circle cx="1548.89" cy="546.87" r="3.3" fill="#1a2430"/>
<circle cx="1569.96" cy="546.87" r="3.3" fill="#1a2430"/>
<circle cx="1585.52" cy="546.87" r="3.3" fill="#1a2430"/>
<circle cx="1597.86" cy="546.87" r="3.3" fill="#1a2430"/>
<circle cx="1608.09" cy="546.87" r="3.3" fill="#1a2430"/>
<circle cx="1616.82" cy="546.87" r="3.3" fill="#1a2430"/>
<circle cx="1624.45" cy="546.87" r="3.3" fill="#1a2430"/>
<circle cx="1632" cy="538.33" r="3.3" fill="#1a2430"/>
<circle cx="1653.07" cy="538.33" r="3.3" fill="#1a2430"/>
</g>
<g clip-path="url(#c11V)">
<polyline points="985.87,849.55 1068.8,849.55 1072.66,852.29 1076.52,854.95 1080.37,857.52 1084.23,860.01 1088.09,862.42 1091.95,864.76 1095.81,867.02 1099.66,869.21 1103.52,871.33 1107.38,873.38 1111.24,875.36 1115.1,877.29 1118.95,879.15 1122.81,880.96 1126.67,882.7 1130.53,884.39 1134.39,886.03 1138.24,887.62 1142.1,889.15 1145.96,890.64 1149.82,892.08 1153.67,893.47 1157.53,894.82 1161.39,896.13 1165.25,897.39 1169.11,898.62 1172.96,899.8 1176.82,900.95 1180.68,902.06 1184.54,903.14 1188.4,904.18 1192.25,905.19 1196.11,906.17 1199.97,907.12 1203.83,908.03 1207.69,908.92 1211.54,909.78 1215.4,910.61 1219.26,911.42 1223.12,912.2 1226.98,912.95 1230.83,913.68 1234.69,914.39 1238.55,915.08 1242.41,915.74 1246.27,916.38 1250.12,917.01 1253.98,917.61 1257.84,918.19 1261.7,918.76 1265.56,919.3 1269.41,919.83 1273.27,920.35 1277.13,920.84 1280.99,921.33 1284.84,921.79 1288.7,922.24 1292.56,922.68 1296.42,923.1 1300.28,923.51 1304.13,923.91 1307.99,924.29 1311.85,924.66 1315.71,925.02 1319.57,925.37 1323.42,925.71 1327.28,926.03 1331.14,926.35 1335,926.66 1338.86,926.95 1342.71,927.24 1346.57,927.52 1350.43,927.79 1354.29,928.05 1358.15,928.3 1362,928.54 1365.86,928.78 1369.72,929.01 1373.58,929.23 1377.44,929.45 1381.29,929.65 1385.15,929.86 1389.01,930.05 1392.87,930.24 1396.73,930.42 1400.58,930.6 1404.44,930.77 1408.3,930.94 1412.16,931.1 1416.02,931.25 1419.87,931.4 1423.73,931.55 1427.59,931.69 1431.45,931.83 1435.3,931.96 1439.16,932.09 1443.02,932.21 1446.88,932.33 1450.74,932.45 1454.59,932.56 1458.45,932.67 1462.31,932.78 1466.17,932.88 1470.03,932.98 1473.88,933.07 1477.74,933.17 1481.6,933.26 1485.46,933.34 1489.32,933.43 1493.17,933.51 1497.03,933.59 1500.89,933.66 1504.75,933.74 1508.61,933.81 1512.46,933.88 1516.32,933.95 1520.18,934.01 1524.04,934.08 1527.9,934.14 1531.75,934.2 1535.61,934.25 1539.47,934.31 1543.33,934.36 1547.19,934.41 1551.04,934.46 1554.9,934.51 1558.76,934.56 1562.62,934.61 1566.48,934.65 1570.33,934.69 1574.19,934.73 1578.05,934.77 1581.91,934.81 1585.76,934.85 1589.62,934.89 1593.48,934.92 1597.34,934.96 1601.2,934.99 1605.05,935.02 1608.91,935.05 1612.77,935.08 1616.63,935.11 1620.49,935.14 1624.34,935.17 1628.2,935.19 1632.06,935.22 1635.92,935.24 1639.78,935.27 1643.63,935.29 1647.49,935.31 1651.35,935.34 1655.21,935.36 1659.07,935.38 1662.92,935.4 1666.78,935.42 1670.64,935.43 1674.5,935.45 1678.36,935.47 1682.21,935.49 1686.07,935.5" fill="none" stroke="#1a2430" stroke-width="6.2" stroke-linejoin="round" stroke-linecap="square"/>
<polyline points="985.87,833.99 986.5,833.99 987.14,833.99 987.78,833.99 988.41,833.99 989.05,833.99 989.69,833.99 990.33,833.99 990.96,833.99 991.6,833.99 992.24,833.99 992.87,833.99 993.51,833.99 994.15,833.99 994.79,833.99 995.42,833.99 996.06,833.99 996.7,833.99 997.33,833.99 997.97,833.99 998.61,833.99 999.25,833.99 999.88,833.99 1000.52,833.99 1001.16,833.99 1001.79,833.99 1002.43,833.99 1003.07,833.99 1003.71,833.99 1004.34,833.99 1004.98,833.99 1005.62,833.99 1006.25,833.99 1006.89,833.99 1007.53,833.99 1008.17,833.99 1008.8,833.99 1009.44,833.99 1010.08,833.99 1010.71,833.99 1011.35,833.99 1011.99,833.99 1012.63,833.99 1013.26,833.99 1013.9,833.99 1014.54,833.99 1015.17,833.99 1015.81,833.99 1016.45,833.99 1017.09,833.99 1017.72,833.99 1018.36,833.99 1019,833.99 1019.63,833.99 1020.27,833.99 1020.91,833.99 1021.55,833.99 1022.18,833.99 1022.82,833.99 1023.46,833.99 1024.09,833.99 1024.73,833.99 1025.37,833.99 1026.01,833.99 1026.64,833.99 1027.28,833.99 1027.92,833.99 1028.55,833.99 1029.19,833.99 1029.83,833.99 1030.47,833.99 1031.1,833.99 1031.74,833.99 1032.38,833.99 1033.01,833.99 1033.65,833.99 1034.29,833.99 1034.93,833.99 1035.56,833.99 1036.2,833.99 1036.84,833.99 1037.47,833.99 1038.11,833.99 1038.75,833.99 1039.39,833.99 1040.02,833.99 1040.66,833.99 1041.3,833.99 1041.93,833.99 1042.57,834.36 1043.21,834.87 1043.85,835.35 1044.48,835.81 1045.12,836.23 1045.76,836.6 1046.39,836.92 1047.03,837.16 1047.67,837.34 1048.3,837.43 1048.94,837.44 1049.58,837.37 1050.22,837.21 1050.85,836.98 1051.49,836.66 1052.13,836.28 1052.76,835.84 1053.4,835.35 1054.04,834.81 1054.68,834.26 1055.31,834.29 1055.95,834.85 1056.59,835.39 1057.22,835.89 1057.86,836.35 1058.5,836.74 1059.14,837.05 1059.77,837.28 1060.41,837.41 1061.05,837.45 1061.68,837.38 1062.32,837.2 1062.96,836.93 1063.6,836.57 1064.23,836.13 1064.87,835.61 1065.51,835.04 1066.14,834.44 1066.78,834.16 1067.42,834.78 1068.06,835.38 1068.69,835.93 1069.33,841.78 1069.97,841.77 1070.6,843.37 1071.24,845.13 1071.88,846.29 1072.52,845.13 1073.15,845.52 1073.79,846.76 1074.43,847.21 1075.06,848.38 1075.7,849.45 1076.34,848.85 1076.98,848.67 1077.61,850.51 1078.25,848.92 1078.89,850.89 1079.52,851.29 1080.16,852.22 1080.8,849.99 1081.44,851.1 1082.07,851.13 1082.71,852.24 1083.35,854.24 1083.98,853.82 1084.62,853.74 1085.26,855.19 1085.9,853.26 1086.53,855.26 1087.17,856.23 1087.81,854.78 1088.44,857.07 1089.08,855.23 1089.72,856.91 1090.36,857.01 1090.99,857.96 1091.63,857.93 1092.27,859.12 1092.9,859.9 1093.54,857.97 1094.18,860.07 1094.82,858.92 1095.45,860.86 1096.09,859.11 1096.73,859.67 1097.36,860.4 1098,860.73 1098.64,861.58 1099.28,861.51 1099.91,863.53 1100.55,862.89 1101.19,862.26 1101.82,864.33 1102.46,862.66 1103.1,863.1 1103.74,864.75 1104.37,865.2 1105.01,865.29 1105.65,865.8 1106.28,864.43 1106.92,866.44 1107.56,867.75 1108.2,867.89 1108.83,866.48 1109.47,866.03 1110.11,867.72 1110.74,868.04 1111.38,868.19 1112.02,867.95 1112.65,869.71 1113.29,868.94 1113.93,869.39 1114.57,869.51 1115.2,871.03 1115.84,871.36 1116.48,871.16 1117.11,869.85 1117.75,871.75 1118.39,871.35 1119.03,872.44 1119.66,873.29 1120.3,873.68 1120.94,871.9 1121.57,872.28 1122.21,873.68 1122.85,873.1 1123.49,873.4 1124.12,873.06 1124.76,873.17 1125.4,874.97 1126.03,873.63 1126.67,873.98 1127.31,875.27 1127.95,874.73 1128.58,876.08 1129.22,876.67 1129.86,877.28 1130.49,875.81 1131.13,878.04 1131.77,878.56 1132.41,876.78 1133.04,877.12 1133.68,878.18 1134.32,877.45 1134.95,879.88 1135.59,879.56 1136.23,879.72 1136.87,879.61 1137.5,880.54 1138.14,881.07 1138.78,880.57 1139.41,879.25 1140.05,879.26 1140.69,880.16 1141.33,881.13 1141.96,882 1142.6,880.28 1143.24,881.71 1143.87,881.38 1144.51,883.55 1145.15,883.27 1145.79,881.77 1146.42,882.11 1147.06,882.1 1147.7,883.1 1148.33,883.81 1148.97,883.6 1149.61,883.08 1150.25,884.8 1150.88,884.39 1151.52,885.32 1152.16,884.18 1152.79,886.49 1153.43,884.83 1154.07,884.3 1154.71,887.09 1155.34,885.72 1155.98,885.79 1156.62,885.42 1157.25,886.37 1157.89,887.48 1158.53,887.27 1159.17,885.95 1159.8,886.29 1160.44,888.63 1161.08,888.94 1161.71,889.14 1162.35,889.52 1162.99,888.55 1163.63,889.6 1164.26,887.78 1164.9,888.56 1165.54,890.21 1166.17,889.26 1166.81,890.05 1167.45,889.77 1168.09,890.71 1168.72,891.05 1169.36,891.18 1170,890.83 1170.63,890.09 1171.27,890.72 1171.91,892.29 1172.55,890.63 1173.18,890.36 1173.82,890.82 1174.46,890.95 1175.09,893.29 1175.73,892.2 1176.37,893.48 1177.01,891.72 1177.64,893.52 1178.28,892.21 1178.92,893.64 1179.55,892.59 1180.19,893.81 1180.83,894.73 1181.46,893.94 1182.1,894.32 1182.74,892.85 1183.38,894.69 1184.01,894.28 1184.65,894.31 1185.29,893.37 1185.92,895.88 1186.56,894.64 1187.2,895.06 1187.84,894.59 1188.47,894.1 1189.11,896.07 1189.75,895.15 1190.38,895.78 1191.02,895.84 1191.66,897.37 1192.3,895.44 1192.93,895.14 1193.57,897.01 1194.21,897.26 1194.84,895.54 1195.48,898.13 1196.12,898.37 1196.76,898.52 1197.39,896.61 1198.03,896.91 1198.67,897.91 1199.3,897.57 1199.94,899.38 1200.58,897.79 1201.22,898.48 1201.85,898.42 1202.49,898.91 1203.13,899.01 1203.76,899.63 1204.4,900.25 1205.04,904.6 1205.68,905.26 1206.31,904.14 1206.95,903.97 1207.59,904.36 1208.22,905.24 1208.86,905.99 1209.5,905.71 1210.14,905.57 1210.77,905.3 1211.41,904.52 1212.05,907.08 1212.68,906.13 1213.32,906.23 1213.96,905.73 1214.6,905.39 1215.23,905.82 1215.87,906.38 1216.51,906.14 1217.14,906.52 1217.78,906.12 1218.42,906.69 1219.06,906.86 1219.69,908.2 1220.33,906.46 1220.97,908.06 1221.6,907.55 1222.24,907.09 1222.88,906.83 1223.52,906.88 1224.15,909.72 1224.79,908.99 1225.43,909.11 1226.06,909.01 1226.7,909.81 1227.34,908.8 1227.98,910.22 1228.61,909.72 1229.25,908.07 1229.89,908.74 1230.52,909.63 1231.16,910.72 1231.8,908.49 1232.44,909.3 1233.07,910.79 1233.71,910.54 1234.35,909.8 1234.98,909.8 1235.62,911.07 1236.26,909.27 1236.9,911.12 1237.53,911.42 1238.17,909.89 1238.81,911.91 1239.44,910.55 1240.08,911.99 1240.72,910.99 1241.36,911.98 1241.99,911.81 1242.63,910.36 1243.27,911.77 1243.9,911.95 1244.54,911.56 1245.18,912.59 1245.81,912.98 1246.45,912.5 1247.09,912.91 1247.73,913.24 1248.36,911.2 1249,913.86 1249.64,911.81 1250.27,911.56 1250.91,912.29 1251.55,914.28 1252.19,913.04 1252.82,914.42 1253.46,912.94 1254.1,912.77 1254.73,914.14 1255.37,914.87 1256.01,913.48 1256.65,914.82 1257.28,914.31 1257.92,914 1258.56,912.87 1259.19,914.41 1259.83,915.15 1260.47,913.42 1261.11,913.42 1261.74,914.32 1262.38,915.74 1263.02,915.44 1263.65,914.93 1264.29,914.6 1264.93,915.59 1265.57,914.08 1266.2,914.05 1266.84,913.9 1267.48,914.1 1268.11,916.58 1268.75,915.1 1269.39,916.57 1270.03,914.38 1270.66,914.88 1271.3,914.93 1271.94,916.59 1272.57,917.02 1273.21,915.01 1273.85,915.67 1274.49,915.71 1275.12,916.2 1275.76,915.36 1276.4,916.72 1277.03,916.98 1277.67,916.83 1278.31,917.05 1278.95,916.22 1279.58,915.56 1280.22,917.9 1280.86,917.99 1281.49,916.83 1282.13,916.44 1282.77,917.87 1283.41,917.72 1284.04,918.37 1284.68,918.5 1285.32,917.3 1285.95,916.86 1286.59,917.01 1287.23,918.44 1287.87,918.66 1288.5,919.73 1289.14,920.89 1289.78,921.32 1290.41,920.61 1291.05,920.89 1291.69,921.24 1292.33,921.93 1292.96,920.96 1293.6,921.88 1294.24,922.18 1294.87,921.82 1295.51,921.64 1296.15,921.57 1296.79,922.27 1297.42,921.59 1298.06,921.96 1298.7,922.48 1299.33,921.6 1299.97,921.72 1300.61,921.65 1301.25,922.03 1301.88,922.73 1302.52,922.02 1303.16,921.91 1303.79,922.48 1304.43,922.02 1305.07,922 1305.71,922.87 1306.34,922.16 1306.98,922.23 1307.62,922.49 1308.25,923.63 1308.89,923.22 1309.53,922.92 1310.17,922.99 1310.8,922.84 1311.44,923.05 1312.08,923.78 1312.71,922.78 1313.35,923.38 1313.99,922.96 1314.62,923.95 1315.26,922.91 1315.9,923.58 1316.54,923.33 1317.17,923.44 1317.81,923.3 1318.45,924.07 1319.08,924.51 1319.72,924.12 1320.36,924.49 1321,924.04 1321.63,923.72 1322.27,924.4 1322.91,924.77 1323.54,924.97 1324.18,924.47 1324.82,924.31 1325.46,925.12 1326.09,924.29 1326.73,924.97 1327.37,925.17 1328,924.08 1328.64,924.69 1329.28,924.23 1329.92,924.81 1330.55,925.4 1331.19,925.28 1331.83,925.08 1332.46,924.83 1333.1,924.7 1333.74,924.77 1334.38,924.96 1335.01,925.56 1335.65,925.36 1336.29,925.48 1336.92,925.37 1337.56,925.73 1338.2,925.4 1338.84,925.55 1339.47,926.19 1340.11,925.14 1340.75,925.52 1341.38,925.26 1342.02,925.4 1342.66,925.45 1343.3,925.13 1343.93,926.03 1344.57,926.05 1345.21,926.63 1345.84,925.76 1346.48,925.92 1347.12,925.97 1347.76,925.43 1348.39,926.58 1349.03,926.58 1349.67,925.92 1350.3,925.86 1350.94,926.35 1351.58,926.99 1352.22,926.59 1352.85,926 1353.49,926.5 1354.13,926.59 1354.76,926.73 1355.4,926.44 1356.04,926.52 1356.68,926.43 1357.31,926.23 1357.95,926.43 1358.59,926.99 1359.22,927.2 1359.86,926.5 1360.5,926.52 1361.14,926.37 1361.77,927.42 1362.41,926.56 1363.05,926.54 1363.68,927.7 1364.32,927.42 1364.96,927.01 1365.6,927.72 1366.23,926.81 1366.87,927.63 1367.51,927.08 1368.14,927.66 1368.78,927.8 1369.42,927.85 1370.06,927.48 1370.69,927.22 1371.33,927.94 1371.97,928.56 1372.6,928.72 1373.24,928.64 1373.88,928.78 1374.52,928.87 1375.15,928.93 1375.79,928.99 1376.43,928.81 1377.06,928.94 1377.7,929.08 1378.34,928.85 1378.98,928.97 1379.61,929.22 1380.25,929.01 1380.89,929.09 1381.52,929.18 1382.16,929.19 1382.8,929.07 1383.43,929.3 1384.07,929.25 1384.71,929.28 1385.35,929.41 1385.98,929.45 1386.62,929.34 1387.26,929.41 1387.89,929.51 1388.53,929.52 1389.17,929.65 1389.81,929.49 1390.44,929.79 1391.08,929.6 1391.72,929.7 1392.35,929.81 1392.99,929.72 1393.63,929.75 1394.27,929.95 1394.9,929.85 1395.54,929.99 1396.18,929.8 1396.81,929.99 1397.45,930.02 1398.09,930.09 1398.73,930.18 1399.36,930.16 1400,930.2 1400.64,930.07 1401.27,930.02 1401.91,930.27 1402.55,930.33 1403.19,930.22 1403.82,930.39 1404.46,930.32 1405.1,930.23 1405.73,930.45 1406.37,930.3 1407.01,930.39 1407.65,930.57 1408.28,930.54 1408.92,930.45 1409.56,930.65 1410.19,930.64 1410.83,930.54 1411.47,930.48 1412.11,930.61 1412.74,930.59 1413.38,930.84 1414.02,930.77 1414.65,930.79 1415.29,930.61 1415.93,930.83 1416.57,930.7 1417.2,930.99 1417.84,930.85 1418.48,930.74 1419.11,930.81 1419.75,930.9 1420.39,931.07 1421.03,930.83 1421.66,931.15 1422.3,930.87 1422.94,930.96 1423.57,931 1424.21,931.09 1424.85,931.24 1425.49,931.21 1426.12,931.12 1426.76,931.15 1427.4,931.26 1428.03,931.14 1428.67,931.42 1429.31,931.37 1429.95,931.46 1430.58,931.4 1431.22,931.26 1431.86,931.3 1432.49,931.53 1433.13,931.5 1433.77,931.59 1434.41,931.42 1435.04,931.52 1435.68,931.61 1436.32,931.59 1436.95,931.44 1437.59,931.61 1438.23,931.54 1438.87,931.59 1439.5,931.66 1440.14,931.65 1440.78,931.74 1441.41,931.82 1442.05,931.74 1442.69,931.82 1443.33,931.84 1443.96,931.91 1444.6,931.68 1445.24,931.87 1445.87,931.96 1446.51,932.04 1447.15,932 1447.78,931.79 1448.42,932 1449.06,931.9 1449.7,932.07 1450.33,931.95 1450.97,932.04 1451.61,931.96 1452.24,932.05 1452.88,932.12 1453.52,932.17 1454.16,932.17 1454.79,932.11 1455.43,932.17 1456.07,932.27 1456.7,932.34 1457.34,932.16 1457.98,932.2 1458.62,932.46 1459.25,932.29 1459.89,932.28 1460.53,932.33 1461.16,932.25 1461.8,932.29 1462.44,932.53 1463.08,932.29 1463.71,932.54 1464.35,932.54 1464.99,932.35 1465.62,932.65 1466.26,932.58 1466.9,932.52 1467.54,932.66 1468.17,932.68 1468.81,932.51 1469.45,932.59 1470.08,932.57 1470.72,932.57 1471.36,932.55 1472,932.56 1472.63,932.6 1473.27,932.57 1473.91,932.75 1474.54,932.7 1475.18,932.78 1475.82,932.63 1476.46,932.76 1477.09,932.85 1477.73,932.79 1478.37,932.93 1479,933 1479.64,932.93 1480.28,933.03 1480.92,933.09 1481.55,933.08 1482.19,932.97 1482.83,932.88 1483.46,933.14 1484.1,932.95 1484.74,933.15 1485.38,933.02 1486.01,933.11 1486.65,933.08 1487.29,933 1487.92,933.12 1488.56,933.14 1489.2,933.04 1489.84,933.26 1490.47,933.2 1491.11,933.09 1491.75,933.06 1492.38,933.02 1493.02,933.28 1493.66,933.17 1494.3,933.29 1494.93,933.17 1495.57,933.14 1496.21,933.4 1496.84,933.34 1497.48,933.15 1498.12,933.36 1498.76,933.28 1499.39,933.23 1500.03,933.43 1500.67,933.27 1501.3,933.55 1501.94,933.44 1502.58,933.52 1503.22,933.47 1503.85,933.53 1504.49,933.6 1505.13,933.35 1505.76,933.58 1506.4,933.45 1507.04,933.47 1507.68,933.38 1508.31,933.4 1508.95,933.49 1509.59,933.65 1510.22,933.46 1510.86,933.7 1511.5,933.43 1512.14,933.66 1512.77,933.69 1513.41,933.71 1514.05,933.66 1514.68,933.54 1515.32,933.53 1515.96,933.57 1516.59,933.59 1517.23,933.77 1517.87,933.76 1518.51,933.77 1519.14,933.74 1519.78,933.6 1520.42,933.57 1521.05,933.89 1521.69,933.6 1522.33,933.63 1522.97,933.8 1523.6,933.73 1524.24,933.71 1524.88,933.93 1525.51,933.79 1526.15,933.67 1526.79,933.72 1527.43,933.72 1528.06,934.01 1528.7,933.81 1529.34,933.9 1529.97,933.76 1530.61,934.03 1531.25,933.91 1531.89,934.06 1532.52,933.84 1533.16,933.88 1533.8,934.13 1534.43,934.04 1535.07,934.11 1535.71,933.95 1536.35,933.96 1536.98,934.25 1537.62,933.95 1538.26,933.96 1538.89,934.15 1539.53,934.11 1540.17,934.2 1540.81,934.12 1541.44,934.2 1542.08,934.2 1542.72,934.1 1543.35,934.3 1543.99,934.28 1544.63,934.12 1545.27,934.32 1545.9,934.38 1546.54,934.1 1547.18,934.37 1547.81,934.29 1548.45,934.33 1549.09,934.36 1549.73,934.34 1550.36,934.28 1551,934.44 1551.64,934.3 1552.27,934.48 1552.91,934.48 1553.55,934.44 1554.19,934.44 1554.82,934.41 1555.46,934.44 1556.1,934.26 1556.73,934.33 1557.37,934.4 1558.01,934.31 1558.65,934.34 1559.28,934.48 1559.92,934.39 1560.56,934.35 1561.19,934.43 1561.83,934.36 1562.47,934.41 1563.11,934.32 1563.74,934.56 1564.38,934.42 1565.02,934.33 1565.65,934.49 1566.29,934.37 1566.93,934.65 1567.57,934.44 1568.2,934.61 1568.84,934.45 1569.48,934.57 1570.11,934.54 1570.75,934.65 1571.39,934.65 1572.03,934.45 1572.66,934.53 1573.3,934.55 1573.94,934.73 1574.57,934.68 1575.21,934.45 1575.85,934.72 1576.49,934.61 1577.12,934.57 1577.76,934.64 1578.4,934.63 1579.03,934.49 1579.67,934.57 1580.31,934.76 1580.94,934.7 1581.58,934.71 1582.22,934.63 1582.86,934.64 1583.49,934.79 1584.13,934.65 1584.77,934.74 1585.4,934.89 1586.04,934.8 1586.68,934.78 1587.32,934.85 1587.95,934.69 1588.59,934.59 1589.23,934.62 1589.86,934.73 1590.5,934.66 1591.14,934.79 1591.78,934.76 1592.41,934.66 1593.05,934.96 1593.69,934.86 1594.32,934.86 1594.96,934.88 1595.6,934.85 1596.24,934.99 1596.87,934.78 1597.51,934.69 1598.15,934.95 1598.78,934.97 1599.42,934.92 1600.06,934.77 1600.7,934.97 1601.33,934.79 1601.97,935 1602.61,934.86 1603.24,934.83 1603.88,934.85 1604.52,935.06 1605.16,934.76 1605.79,934.81 1606.43,934.94 1607.07,934.81 1607.7,934.91 1608.34,935.06 1608.98,934.99 1609.62,934.85 1610.25,934.98 1610.89,935.13 1611.53,935.09 1612.16,935.09 1612.8,934.96 1613.44,934.95 1614.08,935.02 1614.71,935.04 1615.35,934.85 1615.99,935.07 1616.62,934.96 1617.26,935.13 1617.9,935.03 1618.54,935.15 1619.17,935.18 1619.81,935.11 1620.45,935.19 1621.08,935.1 1621.72,935.01 1622.36,935.05 1623,934.97 1623.63,935.09 1624.27,935.23 1624.91,935.01 1625.54,935.13 1626.18,935.02 1626.82,934.94 1627.46,935.1 1628.09,935.2 1628.73,935.17 1629.37,935.13 1630,935.2 1630.64,935.28 1631.28,935.18 1631.92,935.09 1632.55,935.04 1633.19,935.07 1633.83,935.03 1634.46,935.06 1635.1,935.2 1635.74,935.13 1636.38,935.34 1637.01,935.09 1637.65,935.12 1638.29,935.28 1638.92,935.21 1639.56,935.29 1640.2,935.11 1640.84,935.24 1641.47,935.12 1642.11,935.08 1642.75,935.13 1643.38,935.28 1644.02,935.29 1644.66,935.09 1645.3,935.11 1645.93,935.36 1646.57,935.3 1647.21,935.16 1647.84,935.18 1648.48,935.35 1649.12,935.29 1649.75,935.12 1650.39,935.43 1651.03,935.37 1651.67,935.24 1652.3,935.16 1652.94,935.15 1653.58,935.32 1654.21,935.21 1654.85,935.15 1655.49,935.38 1656.13,935.42 1656.76,935.41 1657.4,935.23 1658.04,935.46 1658.67,935.32 1659.31,935.2 1659.95,935.45 1660.59,935.31 1661.22,935.35 1661.86,935.2 1662.5,935.36 1663.13,935.37 1663.77,935.23 1664.41,935.29 1665.05,935.5 1665.68,935.28 1666.32,935.42 1666.96,935.23 1667.59,935.24 1668.23,935.4 1668.87,935.43 1669.51,935.5 1670.14,935.49 1670.78,935.52 1671.42,935.53 1672.05,935.34 1672.69,935.58 1673.33,935.4 1673.97,935.4 1674.6,935.36 1675.24,935.42 1675.88,935.3 1676.51,935.53 1677.15,935.59 1677.79,935.43 1678.43,935.54 1679.06,935.3 1679.7,935.32 1680.34,935.41 1680.97,935.36 1681.61,935.57 1682.25,935.49 1682.89,935.53 1683.52,935.54 1684.16,935.54 1684.8,935.5 1685.43,935.45 1686.07,935.67" fill="none" stroke="#1ebfcf" stroke-width="6.6" stroke-linejoin="round" stroke-linecap="square"/>
</g>
<g clip-path="url(#c11E)">
<polygon points="985.87,1080.1 985.87,1064.77 986.65,1064.77 987.42,1064.77 988.2,1064.77 988.98,1064.77 989.76,1064.77 990.54,1064.77 991.32,1064.77 992.1,1064.77 992.88,1064.77 993.65,1064.77 994.43,1064.77 995.21,1064.77 995.99,1064.77 996.77,1064.77 997.55,1064.77 998.33,1064.77 999.11,1064.77 999.89,1064.77 1000.66,1064.77 1001.44,1064.77 1002.22,1064.77 1003,1064.77 1003.78,1064.77 1004.56,1064.77 1005.34,1064.77 1006.12,1064.77 1006.9,1064.77 1007.67,1064.77 1008.45,1064.77 1009.23,1064.77 1010.01,1064.77 1010.79,1064.77 1011.57,1064.77 1012.35,1064.77 1013.13,1064.77 1013.91,1064.77 1014.68,1064.77 1015.46,1064.77 1016.24,1064.77 1017.02,1064.77 1017.8,1064.77 1018.58,1064.77 1019.36,1064.77 1020.14,1064.77 1020.92,1064.77 1021.69,1064.77 1022.47,1064.77 1023.25,1064.77 1024.03,1064.77 1024.81,1064.77 1025.59,1064.77 1026.37,1064.77 1027.15,1064.77 1027.93,1064.77 1028.7,1064.77 1029.48,1064.77 1030.26,1064.77 1031.04,1064.77 1031.82,1064.77 1032.6,1064.77 1033.38,1064.77 1034.16,1064.77 1034.94,1064.77 1035.71,1064.77 1036.49,1064.77 1037.27,1064.77 1038.05,1064.77 1038.83,1064.77 1039.61,1064.77 1040.39,1064.77 1041.17,1064.77 1041.94,1064.77 1042.72,1064.77 1043.5,1064.77 1044.28,1064.77 1045.06,1064.77 1045.84,1064.77 1046.62,1064.77 1047.4,1064.77 1048.18,1064.77 1048.95,1064.77 1049.73,1064.77 1050.51,1064.77 1051.29,1064.77 1052.07,1064.77 1052.85,1064.77 1053.63,1064.77 1054.41,1064.77 1055.19,1064.77 1055.96,1064.77 1056.74,1064.77 1057.52,1064.77 1058.3,1064.77 1059.08,1064.77 1059.86,1064.77 1060.64,1064.77 1061.42,1064.77 1062.2,1064.77 1062.97,1064.77 1063.75,1064.77 1064.53,1064.77 1065.31,1063.86 1066.09,1063.86 1066.87,1063.86 1067.65,1063.86 1068.43,1063.86 1069.21,1070.82 1069.98,1072.48 1070.76,1072.14 1071.54,1073.85 1072.32,1074.24 1073.1,1074.05 1073.88,1073.97 1074.66,1072.89 1075.44,1074.06 1076.22,1073.88 1076.99,1074.17 1077.77,1073.51 1078.55,1073.94 1079.33,1073.69 1080.11,1072.99 1080.89,1072.65 1081.67,1072.79 1082.45,1074.15 1083.23,1073.54 1084,1072.71 1084.78,1074.1 1085.56,1073.79 1086.34,1073.27 1087.12,1073.44 1087.9,1072.79 1088.68,1072.83 1089.46,1073.25 1090.23,1073.6 1091.01,1073.62 1091.79,1073.54 1092.57,1073.87 1093.35,1072.81 1094.13,1073.67 1094.91,1072.39 1095.69,1072.79 1096.47,1073.79 1097.24,1073.01 1098.02,1072.81 1098.8,1073.76 1099.58,1072.98 1100.36,1073.75 1101.14,1072.46 1101.92,1073.76 1102.7,1072.65 1103.48,1072.02 1104.25,1072.25 1105.03,1073.29 1105.81,1072.75 1106.59,1073.41 1107.37,1073.05 1108.15,1072.13 1108.93,1072.19 1109.71,1073.57 1110.49,1072.91 1111.26,1072.44 1112.04,1073.23 1112.82,1072.12 1113.6,1071.95 1114.38,1072.52 1115.16,1072.83 1115.94,1071.97 1116.72,1072.54 1117.5,1073.08 1118.27,1072.91 1119.05,1073.09 1119.83,1071.9 1120.61,1072.45 1121.39,1072.11 1122.17,1071.88 1122.95,1071.59 1123.73,1072.93 1124.51,1072.54 1125.28,1071.71 1126.06,1071.89 1126.84,1072.52 1127.62,1072.04 1128.4,1072.82 1129.18,1072.86 1129.96,1073.03 1130.74,1072.44 1131.52,1072.68 1132.29,1072.17 1133.07,1071.37 1133.85,1072.77 1134.63,1072.05 1135.41,1071.5 1136.19,1071.94 1136.97,1072.05 1137.75,1071.61 1138.52,1072.89 1139.3,1071.26 1140.08,1071.7 1140.86,1071.47 1141.64,1071.42 1142.42,1072.66 1143.2,1072.7 1143.98,1072.49 1144.76,1071.91 1145.53,1071.14 1146.31,1071.17 1147.09,1072.01 1147.87,1071.63 1148.65,1071.41 1149.43,1072.1 1150.21,1070.97 1150.99,1071.01 1151.77,1071.36 1152.54,1071.04 1153.32,1071.2 1154.1,1071.44 1154.88,1071.99 1155.66,1072.04 1156.44,1072.1 1157.22,1072.39 1158,1070.87 1158.78,1071.94 1159.55,1072.4 1160.33,1071.87 1161.11,1072.22 1161.89,1071.61 1162.67,1071.79 1163.45,1072.05 1164.23,1071.51 1165.01,1071.6 1165.79,1071.68 1166.56,1070.87 1167.34,1071.73 1168.12,1071.31 1168.9,1070.7 1169.68,1070.55 1170.46,1071.54 1171.24,1072.1 1172.02,1070.51 1172.8,1071.24 1173.57,1071.74 1174.35,1071.88 1175.13,1071.67 1175.91,1071.53 1176.69,1071.81 1177.47,1071.94 1178.25,1070.29 1179.03,1070.57 1179.81,1071.78 1180.58,1071.12 1181.36,1070.55 1182.14,1071.05 1182.92,1071.78 1183.7,1071.3 1184.48,1071.21 1185.26,1070.26 1186.04,1070.82 1186.81,1071.02 1187.59,1070.7 1188.37,1071.69 1189.15,1070.57 1189.93,1070.34 1190.71,1070.56 1191.49,1071.08 1192.27,1071.19 1193.05,1071.65 1193.82,1071.51 1194.6,1071.37 1195.38,1070.83 1196.16,1070.25 1196.94,1071.2 1197.72,1070.74 1198.5,1070.44 1199.28,1070.44 1200.06,1071.47 1200.83,1069.9 1201.61,1070.46 1202.39,1070.93 1203.17,1071.02 1203.95,1070.23 1204.73,1075.29 1205.51,1076.31 1206.29,1076.2 1207.07,1075.92 1207.84,1076.58 1208.62,1076.17 1209.4,1075.28 1210.18,1075.89 1210.96,1075.43 1211.74,1076.39 1212.52,1075.33 1213.3,1075.48 1214.08,1076.43 1214.85,1075.9 1215.63,1075.63 1216.41,1075.81 1217.19,1075.76 1217.97,1076.38 1218.75,1075.83 1219.53,1076.16 1220.31,1075.39 1221.09,1076.12 1221.86,1075.06 1222.64,1075.75 1223.42,1076.35 1224.2,1076.02 1224.98,1076.51 1225.76,1075.45 1226.54,1076.64 1227.32,1075.66 1228.1,1076.17 1228.87,1075.35 1229.65,1076.47 1230.43,1075.51 1231.21,1075.44 1231.99,1076.27 1232.77,1076.44 1233.55,1076.01 1234.33,1075.53 1235.1,1076.19 1235.88,1076.62 1236.66,1075.87 1237.44,1075.22 1238.22,1076.34 1239,1074.98 1239.78,1075.72 1240.56,1076.32 1241.34,1076.42 1242.11,1075.94 1242.89,1075.75 1243.67,1076.27 1244.45,1076.42 1245.23,1075.69 1246.01,1076.11 1246.79,1075.77 1247.57,1075.76 1248.35,1075.32 1249.12,1075.52 1249.9,1076.12 1250.68,1076.2 1251.46,1075.02 1252.24,1076.41 1253.02,1076.28 1253.8,1076.36 1254.58,1075.05 1255.36,1075.53 1256.13,1074.86 1256.91,1075.37 1257.69,1075.87 1258.47,1075.7 1259.25,1075.17 1260.03,1076.03 1260.81,1075.03 1261.59,1075.71 1262.37,1076.34 1263.14,1075.81 1263.92,1075.43 1264.7,1076.14 1265.48,1074.81 1266.26,1074.77 1267.04,1075.48 1267.82,1074.8 1268.6,1075.16 1269.38,1075.42 1270.15,1076.07 1270.93,1074.69 1271.71,1074.74 1272.49,1075.54 1273.27,1075.65 1274.05,1076.18 1274.83,1075.23 1275.61,1074.82 1276.39,1075.62 1277.16,1075.78 1277.94,1075.21 1278.72,1074.9 1279.5,1075.97 1280.28,1075.77 1281.06,1075.14 1281.84,1076.17 1282.62,1074.82 1283.39,1075.68 1284.17,1074.78 1284.95,1075.43 1285.73,1075.92 1286.51,1076.17 1287.29,1076 1288.07,1075.74 1288.85,1078.3 1289.63,1078.23 1290.4,1078.51 1291.18,1078.91 1291.96,1078.59 1292.74,1078.53 1293.52,1078.85 1294.3,1079.09 1295.08,1078.75 1295.86,1078.96 1296.64,1078.99 1297.41,1078.81 1298.19,1079.08 1298.97,1078.37 1299.75,1078.9 1300.53,1078.36 1301.31,1078.5 1302.09,1079.13 1302.87,1078.35 1303.65,1078.43 1304.42,1078.67 1305.2,1078.36 1305.98,1078.71 1306.76,1079.1 1307.54,1078.99 1308.32,1078.85 1309.1,1078.37 1309.88,1078.39 1310.66,1079.01 1311.43,1078.8 1312.21,1079.01 1312.99,1078.9 1313.77,1078.79 1314.55,1078.74 1315.33,1078.96 1316.11,1078.52 1316.89,1078.88 1317.67,1078.31 1318.44,1078.67 1319.22,1078.71 1320,1078.41 1320.78,1078.78 1321.56,1078.85 1322.34,1078.96 1323.12,1078.81 1323.9,1078.86 1324.68,1078.43 1325.45,1078.75 1326.23,1078.45 1327.01,1078.82 1327.79,1078.99 1328.57,1078.79 1329.35,1078.71 1330.13,1078.26 1330.91,1078.87 1331.68,1078.86 1332.46,1078.9 1333.24,1078.82 1334.02,1078.2 1334.8,1078.22 1335.58,1078.83 1336.36,1078.98 1337.14,1078.6 1337.92,1078.51 1338.69,1078.92 1339.47,1078.65 1340.25,1078.35 1341.03,1079.01 1341.81,1078.38 1342.59,1078.41 1343.37,1078.32 1344.15,1078.58 1344.93,1078.6 1345.7,1078.55 1346.48,1078.87 1347.26,1078.54 1348.04,1078.78 1348.82,1078.71 1349.6,1078.94 1350.38,1078.84 1351.16,1078.93 1351.94,1078.51 1352.71,1078.77 1353.49,1078.49 1354.27,1078.53 1355.05,1078.76 1355.83,1078.85 1356.61,1078.44 1357.39,1078.37 1358.17,1078.36 1358.95,1078.51 1359.72,1078.45 1360.5,1078.93 1361.28,1078.68 1362.06,1078.25 1362.84,1078.61 1363.62,1078.85 1364.4,1078.57 1365.18,1078.21 1365.96,1078.84 1366.73,1078.83 1367.51,1078.49 1368.29,1078.17 1369.07,1078.58 1369.85,1078.7 1370.63,1078.25 1371.41,1078.83 1372.19,1079.6 1372.97,1079.54 1373.74,1079.49 1374.52,1079.48 1375.3,1079.6 1376.08,1079.61 1376.86,1079.59 1377.64,1079.65 1378.42,1079.62 1379.2,1079.51 1379.97,1079.46 1380.75,1079.62 1381.53,1079.66 1382.31,1079.52 1383.09,1079.47 1383.87,1079.51 1384.65,1079.59 1385.43,1079.52 1386.21,1079.52 1386.98,1079.52 1387.76,1079.58 1388.54,1079.47 1389.32,1079.52 1390.1,1079.64 1390.88,1079.59 1391.66,1079.67 1392.44,1079.61 1393.22,1079.51 1393.99,1079.59 1394.77,1079.58 1395.55,1079.52 1396.33,1079.67 1397.11,1079.62 1397.89,1079.59 1398.67,1079.59 1399.45,1079.55 1400.23,1079.5 1401,1079.53 1401.78,1079.58 1402.56,1079.55 1403.34,1079.59 1404.12,1079.49 1404.9,1079.57 1405.68,1079.58 1406.46,1079.62 1407.24,1079.62 1408.01,1079.54 1408.79,1079.63 1409.57,1079.51 1410.35,1079.55 1411.13,1079.5 1411.91,1079.56 1412.69,1079.59 1413.47,1079.63 1414.25,1079.71 1415.02,1079.57 1415.8,1079.55 1416.58,1079.56 1417.36,1079.55 1418.14,1079.71 1418.92,1079.57 1419.7,1079.66 1420.48,1079.64 1421.26,1079.53 1422.03,1079.63 1422.81,1079.62 1423.59,1079.71 1424.37,1079.69 1425.15,1079.68 1425.93,1079.68 1426.71,1079.61 1427.49,1079.72 1428.26,1079.71 1429.04,1079.71 1429.82,1079.57 1430.6,1079.52 1431.38,1079.57 1432.16,1079.62 1432.94,1079.71 1433.72,1079.57 1434.5,1079.71 1435.27,1079.72 1436.05,1079.63 1436.83,1079.55 1437.61,1079.67 1438.39,1079.55 1439.17,1079.67 1439.95,1079.53 1440.73,1079.58 1441.51,1079.56 1442.28,1079.53 1443.06,1079.57 1443.84,1079.7 1444.62,1079.64 1445.4,1079.63 1446.18,1079.59 1446.96,1079.7 1447.74,1079.63 1448.52,1079.69 1449.29,1079.71 1450.07,1079.66 1450.85,1079.58 1451.63,1079.63 1452.41,1079.68 1453.19,1079.71 1453.97,1079.77 1454.75,1079.76 1455.53,1079.79 1456.3,1079.78 1457.08,1079.8 1457.86,1079.79 1458.64,1079.71 1459.42,1079.72 1460.2,1079.72 1460.98,1079.66 1461.76,1079.71 1462.54,1079.83 1463.31,1079.77 1464.09,1079.75 1464.87,1079.7 1465.65,1079.75 1466.43,1079.84 1467.21,1079.76 1467.99,1079.72 1468.77,1079.69 1469.55,1079.77 1470.32,1079.82 1471.1,1079.86 1471.88,1079.76 1472.66,1079.71 1473.44,1079.84 1474.22,1079.76 1475,1079.74 1475.78,1079.75 1476.56,1079.82 1477.33,1079.85 1478.11,1079.87 1478.89,1079.81 1479.67,1079.68 1480.45,1079.79 1481.23,1079.66 1482.01,1079.7 1482.79,1079.75 1483.56,1079.78 1484.34,1079.76 1485.12,1079.7 1485.9,1079.81 1486.68,1079.85 1487.46,1079.69 1488.24,1079.75 1489.02,1079.8 1489.8,1079.8 1490.57,1079.87 1491.35,1079.77 1492.13,1079.72 1492.91,1079.78 1493.69,1079.74 1494.47,1079.73 1495.25,1079.82 1496.03,1079.76 1496.81,1079.68 1497.58,1079.74 1498.36,1079.86 1499.14,1079.75 1499.92,1079.76 1500.7,1079.73 1501.48,1079.75 1502.26,1079.7 1503.04,1079.69 1503.82,1079.86 1504.59,1079.8 1505.37,1079.89 1506.15,1079.69 1506.93,1079.88 1507.71,1079.81 1508.49,1079.77 1509.27,1079.81 1510.05,1079.87 1510.83,1079.8 1511.6,1079.86 1512.38,1079.8 1513.16,1079.76 1513.94,1079.85 1514.72,1079.82 1515.5,1079.78 1516.28,1079.8 1517.06,1079.74 1517.84,1079.72 1518.61,1079.71 1519.39,1079.88 1520.17,1079.82 1520.95,1079.89 1521.73,1079.77 1522.51,1079.84 1523.29,1079.74 1524.07,1079.82 1524.85,1079.75 1525.62,1079.92 1526.4,1079.79 1527.18,1079.84 1527.96,1079.75 1528.74,1079.91 1529.52,1079.91 1530.3,1079.78 1531.08,1079.86 1531.85,1079.84 1532.63,1079.85 1533.41,1079.72 1534.19,1079.8 1534.97,1079.76 1535.75,1079.75 1536.53,1079.75 1537.31,1079.93 1538.09,1079.97 1538.86,1079.92 1539.64,1079.84 1540.42,1079.84 1541.2,1079.93 1541.98,1079.84 1542.76,1079.87 1543.54,1080.03 1544.32,1079.9 1545.1,1079.86 1545.87,1080.03 1546.65,1079.96 1547.43,1079.9 1548.21,1079.93 1548.99,1079.93 1549.77,1080.02 1550.55,1079.99 1551.33,1079.86 1552.11,1079.97 1552.88,1079.94 1553.66,1079.92 1554.44,1079.99 1555.22,1079.96 1556,1079.94 1556.78,1079.86 1557.56,1079.87 1558.34,1080.01 1559.12,1079.94 1559.89,1079.89 1560.67,1079.86 1561.45,1079.94 1562.23,1079.92 1563.01,1079.92 1563.79,1079.91 1564.57,1079.86 1565.35,1079.85 1566.13,1079.85 1566.9,1080.03 1567.68,1079.91 1568.46,1079.98 1569.24,1080 1570.02,1080.04 1570.8,1079.87 1571.58,1079.87 1572.36,1079.95 1573.14,1079.96 1573.91,1080.02 1574.69,1079.87 1575.47,1079.91 1576.25,1080.03 1577.03,1079.95 1577.81,1079.86 1578.59,1080.02 1579.37,1079.99 1580.14,1080 1580.92,1080 1581.7,1080.05 1582.48,1079.94 1583.26,1080.03 1584.04,1079.93 1584.82,1079.98 1585.6,1079.9 1586.38,1079.92 1587.15,1079.9 1587.93,1080.05 1588.71,1079.91 1589.49,1079.92 1590.27,1080.02 1591.05,1080.09 1591.83,1080.07 1592.61,1079.92 1593.39,1079.88 1594.16,1080.08 1594.94,1080.04 1595.72,1080 1596.5,1080.08 1597.28,1079.95 1598.06,1079.91 1598.84,1079.91 1599.62,1080.06 1600.4,1079.9 1601.17,1079.93 1601.95,1080.06 1602.73,1079.91 1603.51,1079.9 1604.29,1079.91 1605.07,1079.94 1605.85,1079.93 1606.63,1079.99 1607.41,1080.1 1608.18,1079.96 1608.96,1080 1609.74,1080.07 1610.52,1080.08 1611.3,1079.92 1612.08,1079.91 1612.86,1080.1 1613.64,1080.11 1614.42,1079.96 1615.19,1080.05 1615.97,1079.93 1616.75,1080.01 1617.53,1079.96 1618.31,1080.11 1619.09,1079.95 1619.87,1080.07 1620.65,1080.03 1621.43,1080.02 1622.2,1080.05 1622.98,1080.07 1623.76,1080.03 1624.54,1080.11 1625.32,1080.09 1626.1,1080.1 1626.88,1079.94 1627.66,1080.06 1628.43,1079.92 1629.21,1079.94 1629.99,1080.1 1630.77,1079.95 1631.55,1079.92 1632.33,1080.04 1633.11,1080.03 1633.89,1079.99 1634.67,1080.03 1635.44,1080.08 1636.22,1079.98 1637,1080.09 1637.78,1080.06 1638.56,1080.14 1639.34,1080.07 1640.12,1079.97 1640.9,1080.12 1641.68,1080.11 1642.45,1080.06 1643.23,1080.09 1644.01,1080.15 1644.79,1080.14 1645.57,1080.11 1646.35,1079.98 1647.13,1079.99 1647.91,1079.98 1648.69,1080.01 1649.46,1079.94 1650.24,1080.1 1651.02,1080.01 1651.8,1080.06 1652.58,1079.95 1653.36,1080.07 1654.14,1080.01 1654.92,1080 1655.7,1079.96 1656.47,1080 1657.25,1080.1 1658.03,1080.03 1658.81,1080 1659.59,1079.97 1660.37,1080.12 1661.15,1080.02 1661.93,1080.02 1662.71,1080.14 1663.48,1080.15 1664.26,1080.06 1665.04,1080.05 1665.82,1080.11 1666.6,1080.05 1667.38,1080.15 1668.16,1080.06 1668.94,1080.07 1669.72,1080.01 1670.49,1080.03 1671.27,1080.17 1672.05,1080.07 1672.83,1080.16 1673.61,1080.08 1674.39,1080.05 1675.17,1080.04 1675.95,1080.19 1676.72,1080.08 1677.5,1080.16 1678.28,1080.09 1679.06,1080.09 1679.84,1080.09 1680.62,1080.04 1681.4,1080.14 1682.18,1080.1 1682.96,1080.15 1683.73,1080.16 1684.51,1080.07 1685.29,1080.17 1686.07,1080.04 1686.07,1080.1" fill="#ed2024" stroke="#ed2024" stroke-width="4.6" stroke-linejoin="round"/>
<polyline points="985.87,1064.77 986.65,1064.77 987.42,1064.77 988.2,1064.77 988.98,1064.77 989.76,1064.77 990.54,1064.77 991.32,1064.77 992.1,1064.77 992.88,1064.77 993.65,1064.77 994.43,1064.77 995.21,1064.77 995.99,1064.77 996.77,1064.77 997.55,1064.77 998.33,1064.77 999.11,1064.77 999.89,1064.77 1000.66,1064.77 1001.44,1064.77 1002.22,1064.77 1003,1064.77 1003.78,1064.77 1004.56,1064.77 1005.34,1064.77 1006.12,1064.77 1006.9,1064.77 1007.67,1064.77 1008.45,1064.77 1009.23,1064.77 1010.01,1064.77 1010.79,1064.77 1011.57,1064.77 1012.35,1064.77 1013.13,1064.77 1013.91,1064.77 1014.68,1064.77 1015.46,1064.77 1016.24,1064.77 1017.02,1064.77 1017.8,1064.77 1018.58,1064.77 1019.36,1064.77 1020.14,1064.77 1020.92,1064.77 1021.69,1064.77 1022.47,1064.77 1023.25,1064.77 1024.03,1064.77 1024.81,1064.77 1025.59,1064.77 1026.37,1064.77 1027.15,1064.77 1027.93,1064.77 1028.7,1064.77 1029.48,1064.77 1030.26,1064.77 1031.04,1064.77 1031.82,1064.77 1032.6,1064.77 1033.38,1064.77 1034.16,1064.77 1034.94,1064.77 1035.71,1064.77 1036.49,1064.77 1037.27,1064.77 1038.05,1064.77 1038.83,1064.77 1039.61,1064.77 1040.39,1064.77 1041.17,1064.77 1041.94,1064.77 1042.72,1064.77 1043.5,1064.77 1044.28,1064.77 1045.06,1064.77 1045.84,1064.77 1046.62,1064.77 1047.4,1064.77 1048.18,1064.77 1048.95,1064.77 1049.73,1064.77 1050.51,1064.77 1051.29,1064.77 1052.07,1064.77 1052.85,1064.77 1053.63,1064.77 1054.41,1064.77 1055.19,1064.77 1055.96,1064.77 1056.74,1064.77 1057.52,1064.77 1058.3,1064.77 1059.08,1064.77 1059.86,1064.77 1060.64,1064.77 1061.42,1064.77 1062.2,1064.77 1062.97,1064.77 1063.75,1064.77 1064.53,1064.77" fill="none" stroke="#ed2024" stroke-width="6.4" stroke-linecap="round" stroke-linejoin="round"/>
<polyline points="1065.31,1063.86 1066.09,1063.86 1066.87,1063.86 1067.65,1063.86 1068.43,1063.86" fill="none" stroke="#ed2024" stroke-width="6.4" stroke-linecap="round" stroke-linejoin="round"/>
<circle cx="1069.21" cy="1070.82" r="3.2" fill="#ed2024"/>
<polyline points="1069.98,1072.48 1070.76,1072.14" fill="none" stroke="#ed2024" stroke-width="6.4" stroke-linecap="round" stroke-linejoin="round"/>
<polyline points="1071.54,1073.85 1072.32,1074.24 1073.1,1074.05 1073.88,1073.97" fill="none" stroke="#ed2024" stroke-width="6.4" stroke-linecap="round" stroke-linejoin="round"/>
<circle cx="1074.66" cy="1072.89" r="3.2" fill="#ed2024"/>
<polyline points="1075.44,1074.06 1076.22,1073.88 1076.99,1074.17 1077.77,1073.51 1078.55,1073.94 1079.33,1073.69" fill="none" stroke="#ed2024" stroke-width="6.4" stroke-linecap="round" stroke-linejoin="round"/>
<polyline points="1080.11,1072.99 1080.89,1072.65 1081.67,1072.79" fill="none" stroke="#ed2024" stroke-width="6.4" stroke-linecap="round" stroke-linejoin="round"/>
<polyline points="1082.45,1074.15 1083.23,1073.54" fill="none" stroke="#ed2024" stroke-width="6.4" stroke-linecap="round" stroke-linejoin="round"/>
<circle cx="1084" cy="1072.71" r="3.2" fill="#ed2024"/>
<polyline points="1084.78,1074.1 1085.56,1073.79 1086.34,1073.27 1087.12,1073.44 1087.9,1072.79 1088.68,1072.83 1089.46,1073.25 1090.23,1073.6 1091.01,1073.62 1091.79,1073.54 1092.57,1073.87" fill="none" stroke="#ed2024" stroke-width="6.4" stroke-linecap="round" stroke-linejoin="round"/>
<circle cx="1093.35" cy="1072.81" r="3.2" fill="#ed2024"/>
<circle cx="1094.13" cy="1073.67" r="3.2" fill="#ed2024"/>
<polyline points="1094.91,1072.39 1095.69,1072.79" fill="none" stroke="#ed2024" stroke-width="6.4" stroke-linecap="round" stroke-linejoin="round"/>
<circle cx="1096.47" cy="1073.79" r="3.2" fill="#ed2024"/>
<polyline points="1097.24,1073.01 1098.02,1072.81" fill="none" stroke="#ed2024" stroke-width="6.4" stroke-linecap="round" stroke-linejoin="round"/>
<circle cx="1098.8" cy="1073.76" r="3.2" fill="#ed2024"/>
<circle cx="1099.58" cy="1072.98" r="3.2" fill="#ed2024"/>
<circle cx="1100.36" cy="1073.75" r="3.2" fill="#ed2024"/>
<circle cx="1101.14" cy="1072.46" r="3.2" fill="#ed2024"/>
<circle cx="1101.92" cy="1073.76" r="3.2" fill="#ed2024"/>
<polyline points="1102.7,1072.65 1103.48,1072.02 1104.25,1072.25" fill="none" stroke="#ed2024" stroke-width="6.4" stroke-linecap="round" stroke-linejoin="round"/>
<polyline points="1105.03,1073.29 1105.81,1072.75" fill="none" stroke="#ed2024" stroke-width="6.4" stroke-linecap="round" stroke-linejoin="round"/>
<polyline points="1106.59,1073.41 1107.37,1073.05" fill="none" stroke="#ed2024" stroke-width="6.4" stroke-linecap="round" stroke-linejoin="round"/>
<polyline points="1108.15,1072.13 1108.93,1072.19" fill="none" stroke="#ed2024" stroke-width="6.4" stroke-linecap="round" stroke-linejoin="round"/>
<polyline points="1109.71,1073.57 1110.49,1072.91 1111.26,1072.44" fill="none" stroke="#ed2024" stroke-width="6.4" stroke-linecap="round" stroke-linejoin="round"/>
<circle cx="1112.04" cy="1073.23" r="3.2" fill="#ed2024"/>
<polyline points="1112.82,1072.12 1113.6,1071.95 1114.38,1072.52 1115.16,1072.83" fill="none" stroke="#ed2024" stroke-width="6.4" stroke-linecap="round" stroke-linejoin="round"/>
<polyline points="1115.94,1071.97 1116.72,1072.54 1117.5,1073.08 1118.27,1072.91 1119.05,1073.09" fill="none" stroke="#ed2024" stroke-width="6.4" stroke-linecap="round" stroke-linejoin="round"/>
<polyline points="1119.83,1071.9 1120.61,1072.45 1121.39,1072.11 1122.17,1071.88 1122.95,1071.59" fill="none" stroke="#ed2024" stroke-width="6.4" stroke-linecap="round" stroke-linejoin="round"/>
<polyline points="1123.73,1072.93 1124.51,1072.54" fill="none" stroke="#ed2024" stroke-width="6.4" stroke-linecap="round" stroke-linejoin="round"/>
<polyline points="1125.28,1071.71 1126.06,1071.89 1126.84,1072.52 1127.62,1072.04" fill="none" stroke="#ed2024" stroke-width="6.4" stroke-linecap="round" stroke-linejoin="round"/>
<polyline points="1128.4,1072.82 1129.18,1072.86 1129.96,1073.03 1130.74,1072.44 1131.52,1072.68 1132.29,1072.17" fill="none" stroke="#ed2024" stroke-width="6.4" stroke-linecap="round" stroke-linejoin="round"/>
<circle cx="1133.07" cy="1071.37" r="3.2" fill="#ed2024"/>
<circle cx="1133.85" cy="1072.77" r="3.2" fill="#ed2024"/>
<polyline points="1134.63,1072.05 1135.41,1071.5 1136.19,1071.94 1136.97,1072.05 1137.75,1071.61" fill="none" stroke="#ed2024" stroke-width="6.4" stroke-linecap="round" stroke-linejoin="round"/>
<circle cx="1138.52" cy="1072.89" r="3.2" fill="#ed2024"/>
<polyline points="1139.3,1071.26 1140.08,1071.7 1140.86,1071.47 1141.64,1071.42" fill="none" stroke="#ed2024" stroke-width="6.4" stroke-linecap="round" stroke-linejoin="round"/>
<polyline points="1142.42,1072.66 1143.2,1072.7 1143.98,1072.49 1144.76,1071.91" fill="none" stroke="#ed2024" stroke-width="6.4" stroke-linecap="round" stroke-linejoin="round"/>
<polyline points="1145.53,1071.14 1146.31,1071.17" fill="none" stroke="#ed2024" stroke-width="6.4" stroke-linecap="round" stroke-linejoin="round"/>
<polyline points="1147.09,1072.01 1147.87,1071.63 1148.65,1071.41" fill="none" stroke="#ed2024" stroke-width="6.4" stroke-linecap="round" stroke-linejoin="round"/>
<circle cx="1149.43" cy="1072.1" r="3.2" fill="#ed2024"/>
<polyline points="1150.21,1070.97 1150.99,1071.01 1151.77,1071.36 1152.54,1071.04 1153.32,1071.2 1154.1,1071.44 1154.88,1071.99 1155.66,1072.04 1156.44,1072.1 1157.22,1072.39" fill="none" stroke="#ed2024" stroke-width="6.4" stroke-linecap="round" stroke-linejoin="round"/>
<circle cx="1158" cy="1070.87" r="3.2" fill="#ed2024"/>
<polyline points="1158.78,1071.94 1159.55,1072.4 1160.33,1071.87 1161.11,1072.22 1161.89,1071.61 1162.67,1071.79 1163.45,1072.05 1164.23,1071.51 1165.01,1071.6 1165.79,1071.68" fill="none" stroke="#ed2024" stroke-width="6.4" stroke-linecap="round" stroke-linejoin="round"/>
<circle cx="1166.56" cy="1070.87" r="3.2" fill="#ed2024"/>
<polyline points="1167.34,1071.73 1168.12,1071.31 1168.9,1070.7 1169.68,1070.55" fill="none" stroke="#ed2024" stroke-width="6.4" stroke-linecap="round" stroke-linejoin="round"/>
<polyline points="1170.46,1071.54 1171.24,1072.1" fill="none" stroke="#ed2024" stroke-width="6.4" stroke-linecap="round" stroke-linejoin="round"/>
<circle cx="1172.02" cy="1070.51" r="3.2" fill="#ed2024"/>
<polyline points="1172.8,1071.24 1173.57,1071.74 1174.35,1071.88 1175.13,1071.67 1175.91,1071.53 1176.69,1071.81 1177.47,1071.94" fill="none" stroke="#ed2024" stroke-width="6.4" stroke-linecap="round" stroke-linejoin="round"/>
<polyline points="1178.25,1070.29 1179.03,1070.57" fill="none" stroke="#ed2024" stroke-width="6.4" stroke-linecap="round" stroke-linejoin="round"/>
<polyline points="1179.81,1071.78 1180.58,1071.12 1181.36,1070.55 1182.14,1071.05" fill="none" stroke="#ed2024" stroke-width="6.4" stroke-linecap="round" stroke-linejoin="round"/>
<polyline points="1182.92,1071.78 1183.7,1071.3 1184.48,1071.21" fill="none" stroke="#ed2024" stroke-width="6.4" stroke-linecap="round" stroke-linejoin="round"/>
<polyline points="1185.26,1070.26 1186.04,1070.82 1186.81,1071.02 1187.59,1070.7" fill="none" stroke="#ed2024" stroke-width="6.4" stroke-linecap="round" stroke-linejoin="round"/>
<circle cx="1188.37" cy="1071.69" r="3.2" fill="#ed2024"/>
<polyline points="1189.15,1070.57 1189.93,1070.34 1190.71,1070.56 1191.49,1071.08 1192.27,1071.19 1193.05,1071.65 1193.82,1071.51 1194.6,1071.37 1195.38,1070.83 1196.16,1070.25" fill="none" stroke="#ed2024" stroke-width="6.4" stroke-linecap="round" stroke-linejoin="round"/>
<polyline points="1196.94,1071.2 1197.72,1070.74 1198.5,1070.44 1199.28,1070.44" fill="none" stroke="#ed2024" stroke-width="6.4" stroke-linecap="round" stroke-linejoin="round"/>
<circle cx="1200.06" cy="1071.47" r="3.2" fill="#ed2024"/>
<polyline points="1200.83,1069.9 1201.61,1070.46 1202.39,1070.93 1203.17,1071.02" fill="none" stroke="#ed2024" stroke-width="6.4" stroke-linecap="round" stroke-linejoin="round"/>
<circle cx="1203.95" cy="1070.23" r="3.2" fill="#ed2024"/>
<circle cx="1204.73" cy="1075.29" r="3.2" fill="#ed2024"/>
<polyline points="1205.51,1076.31 1206.29,1076.2 1207.07,1075.92 1207.84,1076.58 1208.62,1076.17" fill="none" stroke="#ed2024" stroke-width="6.4" stroke-linecap="round" stroke-linejoin="round"/>
<polyline points="1209.4,1075.28 1210.18,1075.89 1210.96,1075.43" fill="none" stroke="#ed2024" stroke-width="6.4" stroke-linecap="round" stroke-linejoin="round"/>
<circle cx="1211.74" cy="1076.39" r="3.2" fill="#ed2024"/>
<polyline points="1212.52,1075.33 1213.3,1075.48" fill="none" stroke="#ed2024" stroke-width="6.4" stroke-linecap="round" stroke-linejoin="round"/>
<polyline points="1214.08,1076.43 1214.85,1075.9 1215.63,1075.63 1216.41,1075.81 1217.19,1075.76 1217.97,1076.38 1218.75,1075.83 1219.53,1076.16" fill="none" stroke="#ed2024" stroke-width="6.4" stroke-linecap="round" stroke-linejoin="round"/>
<circle cx="1220.31" cy="1075.39" r="3.2" fill="#ed2024"/>
<circle cx="1221.09" cy="1076.12" r="3.2" fill="#ed2024"/>
<circle cx="1221.86" cy="1075.06" r="3.2" fill="#ed2024"/>
<polyline points="1222.64,1075.75 1223.42,1076.35 1224.2,1076.02 1224.98,1076.51" fill="none" stroke="#ed2024" stroke-width="6.4" stroke-linecap="round" stroke-linejoin="round"/>
<circle cx="1225.76" cy="1075.45" r="3.2" fill="#ed2024"/>
<circle cx="1226.54" cy="1076.64" r="3.2" fill="#ed2024"/>
<polyline points="1227.32,1075.66 1228.1,1076.17" fill="none" stroke="#ed2024" stroke-width="6.4" stroke-linecap="round" stroke-linejoin="round"/>
<circle cx="1228.87" cy="1075.35" r="3.2" fill="#ed2024"/>
<circle cx="1229.65" cy="1076.47" r="3.2" fill="#ed2024"/>
<polyline points="1230.43,1075.51 1231.21,1075.44" fill="none" stroke="#ed2024" stroke-width="6.4" stroke-linecap="round" stroke-linejoin="round"/>
<polyline points="1231.99,1076.27 1232.77,1076.44 1233.55,1076.01 1234.33,1075.53" fill="none" stroke="#ed2024" stroke-width="6.4" stroke-linecap="round" stroke-linejoin="round"/>
<polyline points="1235.1,1076.19 1235.88,1076.62" fill="none" stroke="#ed2024" stroke-width="6.4" stroke-linecap="round" stroke-linejoin="round"/>
<polyline points="1236.66,1075.87 1237.44,1075.22" fill="none" stroke="#ed2024" stroke-width="6.4" stroke-linecap="round" stroke-linejoin="round"/>
<circle cx="1238.22" cy="1076.34" r="3.2" fill="#ed2024"/>
<circle cx="1239" cy="1074.98" r="3.2" fill="#ed2024"/>
<polyline points="1239.78,1075.72 1240.56,1076.32 1241.34,1076.42 1242.11,1075.94 1242.89,1075.75 1243.67,1076.27 1244.45,1076.42" fill="none" stroke="#ed2024" stroke-width="6.4" stroke-linecap="round" stroke-linejoin="round"/>
<polyline points="1245.23,1075.69 1246.01,1076.11 1246.79,1075.77 1247.57,1075.76 1248.35,1075.32 1249.12,1075.52 1249.9,1076.12 1250.68,1076.2" fill="none" stroke="#ed2024" stroke-width="6.4" stroke-linecap="round" stroke-linejoin="round"/>
<circle cx="1251.46" cy="1075.02" r="3.2" fill="#ed2024"/>
<polyline points="1252.24,1076.41 1253.02,1076.28 1253.8,1076.36" fill="none" stroke="#ed2024" stroke-width="6.4" stroke-linecap="round" stroke-linejoin="round"/>
<polyline points="1254.58,1075.05 1255.36,1075.53" fill="none" stroke="#ed2024" stroke-width="6.4" stroke-linecap="round" stroke-linejoin="round"/>
<polyline points="1256.13,1074.86 1256.91,1075.37 1257.69,1075.87 1258.47,1075.7 1259.25,1075.17" fill="none" stroke="#ed2024" stroke-width="6.4" stroke-linecap="round" stroke-linejoin="round"/>
<circle cx="1260.03" cy="1076.03" r="3.2" fill="#ed2024"/>
<circle cx="1260.81" cy="1075.03" r="3.2" fill="#ed2024"/>
<polyline points="1261.59,1075.71 1262.37,1076.34 1263.14,1075.81 1263.92,1075.43" fill="none" stroke="#ed2024" stroke-width="6.4" stroke-linecap="round" stroke-linejoin="round"/>
<circle cx="1264.7" cy="1076.14" r="3.2" fill="#ed2024"/>
<polyline points="1265.48,1074.81 1266.26,1074.77" fill="none" stroke="#ed2024" stroke-width="6.4" stroke-linecap="round" stroke-linejoin="round"/>
<circle cx="1267.04" cy="1075.48" r="3.2" fill="#ed2024"/>
<polyline points="1267.82,1074.8 1268.6,1075.16 1269.38,1075.42 1270.15,1076.07" fill="none" stroke="#ed2024" stroke-width="6.4" stroke-linecap="round" stroke-linejoin="round"/>
<polyline points="1270.93,1074.69 1271.71,1074.74" fill="none" stroke="#ed2024" stroke-width="6.4" stroke-linecap="round" stroke-linejoin="round"/>
<polyline points="1272.49,1075.54 1273.27,1075.65 1274.05,1076.18" fill="none" stroke="#ed2024" stroke-width="6.4" stroke-linecap="round" stroke-linejoin="round"/>
<polyline points="1274.83,1075.23 1275.61,1074.82" fill="none" stroke="#ed2024" stroke-width="6.4" stroke-linecap="round" stroke-linejoin="round"/>
<polyline points="1276.39,1075.62 1277.16,1075.78 1277.94,1075.21 1278.72,1074.9" fill="none" stroke="#ed2024" stroke-width="6.4" stroke-linecap="round" stroke-linejoin="round"/>
<polyline points="1279.5,1075.97 1280.28,1075.77 1281.06,1075.14" fill="none" stroke="#ed2024" stroke-width="6.4" stroke-linecap="round" stroke-linejoin="round"/>
<circle cx="1281.84" cy="1076.17" r="3.2" fill="#ed2024"/>
<circle cx="1282.62" cy="1074.82" r="3.2" fill="#ed2024"/>
<circle cx="1283.39" cy="1075.68" r="3.2" fill="#ed2024"/>
<polyline points="1284.17,1074.78 1284.95,1075.43 1285.73,1075.92 1286.51,1076.17 1287.29,1076 1288.07,1075.74" fill="none" stroke="#ed2024" stroke-width="6.4" stroke-linecap="round" stroke-linejoin="round"/>
<polyline points="1288.85,1078.3 1289.63,1078.23 1290.4,1078.51 1291.18,1078.91 1291.96,1078.59 1292.74,1078.53 1293.52,1078.85 1294.3,1079.09 1295.08,1078.75 1295.86,1078.96 1296.64,1078.99 1297.41,1078.81 1298.19,1079.08" fill="none" stroke="#ed2024" stroke-width="6.4" stroke-linecap="round" stroke-linejoin="round"/>
<polyline points="1298.97,1078.37 1299.75,1078.9 1300.53,1078.36 1301.31,1078.5 1302.09,1079.13" fill="none" stroke="#ed2024" stroke-width="6.4" stroke-linecap="round" stroke-linejoin="round"/>
<polyline points="1302.87,1078.35 1303.65,1078.43 1304.42,1078.67 1305.2,1078.36 1305.98,1078.71 1306.76,1079.1 1307.54,1078.99 1308.32,1078.85 1309.1,1078.37 1309.88,1078.39 1310.66,1079.01 1311.43,1078.8 1312.21,1079.01 1312.99,1078.9 1313.77,1078.79 1314.55,1078.74 1315.33,1078.96 1316.11,1078.52 1316.89,1078.88 1317.67,1078.31 1318.44,1078.67 1319.22,1078.71 1320,1078.41 1320.78,1078.78 1321.56,1078.85 1322.34,1078.96 1323.12,1078.81 1323.9,1078.86 1324.68,1078.43 1325.45,1078.75 1326.23,1078.45 1327.01,1078.82 1327.79,1078.99 1328.57,1078.79 1329.35,1078.71 1330.13,1078.26 1330.91,1078.87 1331.68,1078.86 1332.46,1078.9 1333.24,1078.82 1334.02,1078.2 1334.8,1078.22 1335.58,1078.83 1336.36,1078.98 1337.14,1078.6 1337.92,1078.51 1338.69,1078.92 1339.47,1078.65 1340.25,1078.35 1341.03,1079.01 1341.81,1078.38 1342.59,1078.41 1343.37,1078.32 1344.15,1078.58 1344.93,1078.6 1345.7,1078.55 1346.48,1078.87 1347.26,1078.54 1348.04,1078.78 1348.82,1078.71 1349.6,1078.94 1350.38,1078.84 1351.16,1078.93 1351.94,1078.51 1352.71,1078.77 1353.49,1078.49 1354.27,1078.53 1355.05,1078.76 1355.83,1078.85 1356.61,1078.44 1357.39,1078.37 1358.17,1078.36 1358.95,1078.51 1359.72,1078.45 1360.5,1078.93 1361.28,1078.68 1362.06,1078.25 1362.84,1078.61 1363.62,1078.85 1364.4,1078.57 1365.18,1078.21 1365.96,1078.84 1366.73,1078.83 1367.51,1078.49 1368.29,1078.17 1369.07,1078.58 1369.85,1078.7 1370.63,1078.25 1371.41,1078.83" fill="none" stroke="#ed2024" stroke-width="6.4" stroke-linecap="round" stroke-linejoin="round"/>
<polyline points="1372.19,1079.6 1372.97,1079.54 1373.74,1079.49 1374.52,1079.48 1375.3,1079.6 1376.08,1079.61 1376.86,1079.59 1377.64,1079.65 1378.42,1079.62 1379.2,1079.51 1379.97,1079.46 1380.75,1079.62 1381.53,1079.66 1382.31,1079.52 1383.09,1079.47 1383.87,1079.51 1384.65,1079.59 1385.43,1079.52 1386.21,1079.52 1386.98,1079.52 1387.76,1079.58 1388.54,1079.47 1389.32,1079.52 1390.1,1079.64 1390.88,1079.59 1391.66,1079.67 1392.44,1079.61 1393.22,1079.51 1393.99,1079.59 1394.77,1079.58 1395.55,1079.52 1396.33,1079.67 1397.11,1079.62 1397.89,1079.59 1398.67,1079.59 1399.45,1079.55 1400.23,1079.5 1401,1079.53 1401.78,1079.58 1402.56,1079.55 1403.34,1079.59 1404.12,1079.49 1404.9,1079.57 1405.68,1079.58 1406.46,1079.62 1407.24,1079.62 1408.01,1079.54 1408.79,1079.63 1409.57,1079.51 1410.35,1079.55 1411.13,1079.5 1411.91,1079.56 1412.69,1079.59 1413.47,1079.63 1414.25,1079.71 1415.02,1079.57 1415.8,1079.55 1416.58,1079.56 1417.36,1079.55 1418.14,1079.71 1418.92,1079.57 1419.7,1079.66 1420.48,1079.64 1421.26,1079.53 1422.03,1079.63 1422.81,1079.62 1423.59,1079.71 1424.37,1079.69 1425.15,1079.68 1425.93,1079.68 1426.71,1079.61 1427.49,1079.72 1428.26,1079.71 1429.04,1079.71 1429.82,1079.57 1430.6,1079.52 1431.38,1079.57 1432.16,1079.62 1432.94,1079.71 1433.72,1079.57 1434.5,1079.71 1435.27,1079.72 1436.05,1079.63 1436.83,1079.55 1437.61,1079.67 1438.39,1079.55 1439.17,1079.67 1439.95,1079.53 1440.73,1079.58 1441.51,1079.56 1442.28,1079.53 1443.06,1079.57 1443.84,1079.7 1444.62,1079.64 1445.4,1079.63 1446.18,1079.59 1446.96,1079.7 1447.74,1079.63 1448.52,1079.69 1449.29,1079.71 1450.07,1079.66 1450.85,1079.58 1451.63,1079.63 1452.41,1079.68 1453.19,1079.71 1453.97,1079.77 1454.75,1079.76 1455.53,1079.79 1456.3,1079.78 1457.08,1079.8 1457.86,1079.79 1458.64,1079.71 1459.42,1079.72 1460.2,1079.72 1460.98,1079.66 1461.76,1079.71 1462.54,1079.83 1463.31,1079.77 1464.09,1079.75 1464.87,1079.7 1465.65,1079.75 1466.43,1079.84 1467.21,1079.76 1467.99,1079.72 1468.77,1079.69 1469.55,1079.77 1470.32,1079.82 1471.1,1079.86 1471.88,1079.76 1472.66,1079.71 1473.44,1079.84 1474.22,1079.76 1475,1079.74 1475.78,1079.75 1476.56,1079.82 1477.33,1079.85 1478.11,1079.87 1478.89,1079.81 1479.67,1079.68 1480.45,1079.79 1481.23,1079.66 1482.01,1079.7 1482.79,1079.75 1483.56,1079.78 1484.34,1079.76 1485.12,1079.7 1485.9,1079.81 1486.68,1079.85 1487.46,1079.69 1488.24,1079.75 1489.02,1079.8 1489.8,1079.8 1490.57,1079.87 1491.35,1079.77 1492.13,1079.72 1492.91,1079.78 1493.69,1079.74 1494.47,1079.73 1495.25,1079.82 1496.03,1079.76 1496.81,1079.68 1497.58,1079.74 1498.36,1079.86 1499.14,1079.75 1499.92,1079.76 1500.7,1079.73 1501.48,1079.75 1502.26,1079.7 1503.04,1079.69 1503.82,1079.86 1504.59,1079.8 1505.37,1079.89 1506.15,1079.69 1506.93,1079.88 1507.71,1079.81 1508.49,1079.77 1509.27,1079.81 1510.05,1079.87 1510.83,1079.8 1511.6,1079.86 1512.38,1079.8 1513.16,1079.76 1513.94,1079.85 1514.72,1079.82 1515.5,1079.78 1516.28,1079.8 1517.06,1079.74 1517.84,1079.72 1518.61,1079.71 1519.39,1079.88 1520.17,1079.82 1520.95,1079.89 1521.73,1079.77 1522.51,1079.84 1523.29,1079.74 1524.07,1079.82 1524.85,1079.75 1525.62,1079.92 1526.4,1079.79 1527.18,1079.84 1527.96,1079.75 1528.74,1079.91 1529.52,1079.91 1530.3,1079.78 1531.08,1079.86 1531.85,1079.84 1532.63,1079.85 1533.41,1079.72 1534.19,1079.8 1534.97,1079.76 1535.75,1079.75 1536.53,1079.75 1537.31,1079.93 1538.09,1079.97 1538.86,1079.92 1539.64,1079.84 1540.42,1079.84 1541.2,1079.93 1541.98,1079.84 1542.76,1079.87 1543.54,1080.03 1544.32,1079.9 1545.1,1079.86 1545.87,1080.03 1546.65,1079.96 1547.43,1079.9 1548.21,1079.93 1548.99,1079.93 1549.77,1080.02 1550.55,1079.99 1551.33,1079.86 1552.11,1079.97 1552.88,1079.94 1553.66,1079.92 1554.44,1079.99 1555.22,1079.96 1556,1079.94 1556.78,1079.86 1557.56,1079.87 1558.34,1080.01 1559.12,1079.94 1559.89,1079.89 1560.67,1079.86 1561.45,1079.94 1562.23,1079.92 1563.01,1079.92 1563.79,1079.91 1564.57,1079.86 1565.35,1079.85 1566.13,1079.85 1566.9,1080.03 1567.68,1079.91 1568.46,1079.98 1569.24,1080 1570.02,1080.04 1570.8,1079.87 1571.58,1079.87 1572.36,1079.95 1573.14,1079.96 1573.91,1080.02 1574.69,1079.87 1575.47,1079.91 1576.25,1080.03 1577.03,1079.95 1577.81,1079.86 1578.59,1080.02 1579.37,1079.99 1580.14,1080 1580.92,1080 1581.7,1080.05 1582.48,1079.94 1583.26,1080.03 1584.04,1079.93 1584.82,1079.98 1585.6,1079.9 1586.38,1079.92 1587.15,1079.9 1587.93,1080.05 1588.71,1079.91 1589.49,1079.92 1590.27,1080.02 1591.05,1080.09 1591.83,1080.07 1592.61,1079.92 1593.39,1079.88 1594.16,1080.08 1594.94,1080.04 1595.72,1080 1596.5,1080.08 1597.28,1079.95 1598.06,1079.91 1598.84,1079.91 1599.62,1080.06 1600.4,1079.9 1601.17,1079.93 1601.95,1080.06 1602.73,1079.91 1603.51,1079.9 1604.29,1079.91 1605.07,1079.94 1605.85,1079.93 1606.63,1079.99 1607.41,1080.1 1608.18,1079.96 1608.96,1080 1609.74,1080.07 1610.52,1080.08 1611.3,1079.92 1612.08,1079.91 1612.86,1080.1 1613.64,1080.11 1614.42,1079.96 1615.19,1080.05 1615.97,1079.93 1616.75,1080.01 1617.53,1079.96 1618.31,1080.11 1619.09,1079.95 1619.87,1080.07 1620.65,1080.03 1621.43,1080.02 1622.2,1080.05 1622.98,1080.07 1623.76,1080.03 1624.54,1080.11 1625.32,1080.09 1626.1,1080.1 1626.88,1079.94 1627.66,1080.06 1628.43,1079.92 1629.21,1079.94 1629.99,1080.1 1630.77,1079.95 1631.55,1079.92 1632.33,1080.04 1633.11,1080.03 1633.89,1079.99 1634.67,1080.03 1635.44,1080.08 1636.22,1079.98 1637,1080.09 1637.78,1080.06 1638.56,1080.14 1639.34,1080.07 1640.12,1079.97 1640.9,1080.12 1641.68,1080.11 1642.45,1080.06 1643.23,1080.09 1644.01,1080.15 1644.79,1080.14 1645.57,1080.11 1646.35,1079.98 1647.13,1079.99 1647.91,1079.98 1648.69,1080.01 1649.46,1079.94 1650.24,1080.1 1651.02,1080.01 1651.8,1080.06 1652.58,1079.95 1653.36,1080.07 1654.14,1080.01 1654.92,1080 1655.7,1079.96 1656.47,1080 1657.25,1080.1 1658.03,1080.03 1658.81,1080 1659.59,1079.97 1660.37,1080.12 1661.15,1080.02 1661.93,1080.02 1662.71,1080.14 1663.48,1080.15 1664.26,1080.06 1665.04,1080.05 1665.82,1080.11 1666.6,1080.05 1667.38,1080.15 1668.16,1080.06 1668.94,1080.07 1669.72,1080.01 1670.49,1080.03 1671.27,1080.17 1672.05,1080.07 1672.83,1080.16 1673.61,1080.08 1674.39,1080.05 1675.17,1080.04 1675.95,1080.19 1676.72,1080.08 1677.5,1080.16 1678.28,1080.09 1679.06,1080.09 1679.84,1080.09 1680.62,1080.04 1681.4,1080.14 1682.18,1080.1 1682.96,1080.15 1683.73,1080.16 1684.51,1080.07 1685.29,1080.17 1686.07,1080.04" fill="none" stroke="#ed2024" stroke-width="6.4" stroke-linecap="round" stroke-linejoin="round"/>
</g>
<g clip-path="url(#c11L)">
<circle cx="1016.85" cy="1271.07" r="3.3" fill="#1a2430"/>
<circle cx="1049.54" cy="1271.07" r="3.3" fill="#1a2430"/>
<circle cx="1070.57" cy="1271.07" r="3.3" fill="#1a2430"/>
<circle cx="1086.09" cy="1271.07" r="3.3" fill="#1a2430"/>
<circle cx="1098.41" cy="1271.07" r="3.3" fill="#1a2430"/>
<circle cx="1108.61" cy="1271.07" r="3.3" fill="#1a2430"/>
<circle cx="1117.33" cy="1271.07" r="3.3" fill="#1a2430"/>
<circle cx="1124.94" cy="1271.07" r="3.3" fill="#1a2430"/>
<circle cx="1131.69" cy="1271.07" r="3.3" fill="#1a2430"/>
<circle cx="1137.75" cy="1271.07" r="3.3" fill="#1a2430"/>
<circle cx="1143.25" cy="1271.07" r="3.3" fill="#1a2430"/>
<circle cx="1148.29" cy="1271.07" r="3.3" fill="#1a2430"/>
<circle cx="1152.94" cy="1271.07" r="3.3" fill="#1a2430"/>
<circle cx="1157.26" cy="1271.07" r="3.3" fill="#1a2430"/>
<circle cx="1161.28" cy="1271.07" r="3.3" fill="#1a2430"/>
<circle cx="1165.05" cy="1271.07" r="3.3" fill="#1a2430"/>
<circle cx="1168.6" cy="1271.07" r="3.3" fill="#1a2430"/>
<circle cx="1171.94" cy="1271.07" r="3.3" fill="#1a2430"/>
<circle cx="1175.11" cy="1271.07" r="3.3" fill="#1a2430"/>
<circle cx="1178.12" cy="1271.07" r="3.3" fill="#1a2430"/>
<circle cx="1180.99" cy="1271.07" r="3.3" fill="#1a2430"/>
<circle cx="1183.73" cy="1271.07" r="3.3" fill="#1a2430"/>
<circle cx="1186.34" cy="1271.07" r="3.3" fill="#1a2430"/>
<circle cx="1188.85" cy="1271.07" r="3.3" fill="#1a2430"/>
<circle cx="1191.25" cy="1271.07" r="3.3" fill="#1a2430"/>
<circle cx="1191.55" cy="1262.54" r="3.3" fill="#1a2430"/>
<circle cx="1193.57" cy="1271.07" r="3.3" fill="#1a2430"/>
<circle cx="1200.26" cy="1262.54" r="3.3" fill="#1a2430"/>
<circle cx="1207.87" cy="1262.54" r="3.3" fill="#1a2430"/>
<circle cx="1214.62" cy="1262.54" r="3.3" fill="#1a2430"/>
<circle cx="1220.68" cy="1262.54" r="3.3" fill="#1a2430"/>
<circle cx="1226.19" cy="1262.54" r="3.3" fill="#1a2430"/>
<circle cx="1231.23" cy="1262.54" r="3.3" fill="#1a2430"/>
<circle cx="1235.88" cy="1262.54" r="3.3" fill="#1a2430"/>
<circle cx="1240.19" cy="1262.54" r="3.3" fill="#1a2430"/>
<circle cx="1244.21" cy="1262.54" r="3.3" fill="#1a2430"/>
<circle cx="1247.98" cy="1262.54" r="3.3" fill="#1a2430"/>
<circle cx="1251.53" cy="1262.54" r="3.3" fill="#1a2430"/>
<circle cx="1254.88" cy="1262.54" r="3.3" fill="#1a2430"/>
<circle cx="1258.05" cy="1262.54" r="3.3" fill="#1a2430"/>
<circle cx="1261.06" cy="1262.54" r="3.3" fill="#1a2430"/>
<circle cx="1263.93" cy="1262.54" r="3.3" fill="#1a2430"/>
<circle cx="1266.66" cy="1262.54" r="3.3" fill="#1a2430"/>
<circle cx="1269.28" cy="1262.54" r="3.3" fill="#1a2430"/>
<circle cx="1271.78" cy="1262.54" r="3.3" fill="#1a2430"/>
<circle cx="1274.19" cy="1262.54" r="3.3" fill="#1a2430"/>
<circle cx="1274.48" cy="1254.01" r="3.3" fill="#1a2430"/>
<circle cx="1276.5" cy="1262.54" r="3.3" fill="#1a2430"/>
<circle cx="1283.2" cy="1254.01" r="3.3" fill="#1a2430"/>
<circle cx="1290.81" cy="1254.01" r="3.3" fill="#1a2430"/>
<circle cx="1297.55" cy="1254.01" r="3.3" fill="#1a2430"/>
<circle cx="1303.62" cy="1254.01" r="3.3" fill="#1a2430"/>
<circle cx="1309.12" cy="1254.01" r="3.3" fill="#1a2430"/>
<circle cx="1314.16" cy="1254.01" r="3.3" fill="#1a2430"/>
<circle cx="1318.81" cy="1254.01" r="3.3" fill="#1a2430"/>
<circle cx="1323.12" cy="1254.01" r="3.3" fill="#1a2430"/>
<circle cx="1327.15" cy="1254.01" r="3.3" fill="#1a2430"/>
<circle cx="1330.92" cy="1254.01" r="3.3" fill="#1a2430"/>
<circle cx="1334.46" cy="1254.01" r="3.3" fill="#1a2430"/>
<circle cx="1337.81" cy="1254.01" r="3.3" fill="#1a2430"/>
<circle cx="1340.98" cy="1254.01" r="3.3" fill="#1a2430"/>
<circle cx="1343.99" cy="1254.01" r="3.3" fill="#1a2430"/>
<circle cx="1346.86" cy="1254.01" r="3.3" fill="#1a2430"/>
<circle cx="1349.59" cy="1254.01" r="3.3" fill="#1a2430"/>
<circle cx="1352.21" cy="1254.01" r="3.3" fill="#1a2430"/>
<circle cx="1354.72" cy="1254.01" r="3.3" fill="#1a2430"/>
<circle cx="1357.12" cy="1254.01" r="3.3" fill="#1a2430"/>
<circle cx="1357.42" cy="1245.47" r="3.3" fill="#1a2430"/>
<circle cx="1359.43" cy="1254.01" r="3.3" fill="#1a2430"/>
<circle cx="1361.66" cy="1254.01" r="3.3" fill="#1a2430"/>
<circle cx="1366.13" cy="1245.47" r="3.3" fill="#1a2430"/>
<circle cx="1373.74" cy="1245.47" r="3.3" fill="#1a2430"/>
<circle cx="1380.49" cy="1245.47" r="3.3" fill="#1a2430"/>
<circle cx="1386.55" cy="1245.47" r="3.3" fill="#1a2430"/>
<circle cx="1392.06" cy="1245.47" r="3.3" fill="#1a2430"/>
<circle cx="1397.1" cy="1245.47" r="3.3" fill="#1a2430"/>
<circle cx="1401.75" cy="1245.47" r="3.3" fill="#1a2430"/>
<circle cx="1406.06" cy="1245.47" r="3.3" fill="#1a2430"/>
<circle cx="1410.08" cy="1245.47" r="3.3" fill="#1a2430"/>
<circle cx="1413.85" cy="1245.47" r="3.3" fill="#1a2430"/>
<circle cx="1417.4" cy="1245.47" r="3.3" fill="#1a2430"/>
<circle cx="1420.75" cy="1245.47" r="3.3" fill="#1a2430"/>
<circle cx="1423.92" cy="1245.47" r="3.3" fill="#1a2430"/>
<circle cx="1426.93" cy="1245.47" r="3.3" fill="#1a2430"/>
<circle cx="1429.79" cy="1245.47" r="3.3" fill="#1a2430"/>
<circle cx="1432.53" cy="1245.47" r="3.3" fill="#1a2430"/>
<circle cx="1435.14" cy="1245.47" r="3.3" fill="#1a2430"/>
<circle cx="1437.65" cy="1245.47" r="3.3" fill="#1a2430"/>
<circle cx="1440.05" cy="1245.47" r="3.3" fill="#1a2430"/>
<circle cx="1440.35" cy="1236.94" r="3.3" fill="#1a2430"/>
<circle cx="1442.37" cy="1245.47" r="3.3" fill="#1a2430"/>
<circle cx="1444.59" cy="1245.47" r="3.3" fill="#1a2430"/>
<circle cx="1449.07" cy="1236.94" r="3.3" fill="#1a2430"/>
<circle cx="1456.67" cy="1236.94" r="3.3" fill="#1a2430"/>
<circle cx="1463.42" cy="1236.94" r="3.3" fill="#1a2430"/>
<circle cx="1469.48" cy="1236.94" r="3.3" fill="#1a2430"/>
<circle cx="1474.99" cy="1236.94" r="3.3" fill="#1a2430"/>
<circle cx="1480.03" cy="1236.94" r="3.3" fill="#1a2430"/>
<circle cx="1484.68" cy="1236.94" r="3.3" fill="#1a2430"/>
<circle cx="1488.99" cy="1236.94" r="3.3" fill="#1a2430"/>
<circle cx="1493.02" cy="1236.94" r="3.3" fill="#1a2430"/>
<circle cx="1496.79" cy="1236.94" r="3.3" fill="#1a2430"/>
<circle cx="1500.33" cy="1236.94" r="3.3" fill="#1a2430"/>
<circle cx="1503.68" cy="1236.94" r="3.3" fill="#1a2430"/>
<circle cx="1506.85" cy="1236.94" r="3.3" fill="#1a2430"/>
<circle cx="1509.86" cy="1236.94" r="3.3" fill="#1a2430"/>
<circle cx="1512.73" cy="1236.94" r="3.3" fill="#1a2430"/>
<circle cx="1515.46" cy="1236.94" r="3.3" fill="#1a2430"/>
<circle cx="1518.08" cy="1236.94" r="3.3" fill="#1a2430"/>
<circle cx="1520.58" cy="1236.94" r="3.3" fill="#1a2430"/>
<circle cx="1522.99" cy="1236.94" r="3.3" fill="#1a2430"/>
<circle cx="1523.28" cy="1228.4" r="3.3" fill="#1a2430"/>
<circle cx="1525.3" cy="1236.94" r="3.3" fill="#1a2430"/>
<circle cx="1527.53" cy="1236.94" r="3.3" fill="#1a2430"/>
<circle cx="1532" cy="1228.4" r="3.3" fill="#1a2430"/>
<circle cx="1539.61" cy="1228.4" r="3.3" fill="#1a2430"/>
<circle cx="1546.35" cy="1228.4" r="3.3" fill="#1a2430"/>
<circle cx="1552.42" cy="1228.4" r="3.3" fill="#1a2430"/>
<circle cx="1557.92" cy="1228.4" r="3.3" fill="#1a2430"/>
<circle cx="1562.96" cy="1228.4" r="3.3" fill="#1a2430"/>
<circle cx="1567.61" cy="1228.4" r="3.3" fill="#1a2430"/>
<circle cx="1571.93" cy="1228.4" r="3.3" fill="#1a2430"/>
<circle cx="1575.95" cy="1228.4" r="3.3" fill="#1a2430"/>
<circle cx="1579.72" cy="1228.4" r="3.3" fill="#1a2430"/>
<circle cx="1583.27" cy="1228.4" r="3.3" fill="#1a2430"/>
<circle cx="1586.61" cy="1228.4" r="3.3" fill="#1a2430"/>
<circle cx="1589.78" cy="1228.4" r="3.3" fill="#1a2430"/>
<circle cx="1592.79" cy="1228.4" r="3.3" fill="#1a2430"/>
<circle cx="1595.66" cy="1228.4" r="3.3" fill="#1a2430"/>
<circle cx="1598.4" cy="1228.4" r="3.3" fill="#1a2430"/>
<circle cx="1601.01" cy="1228.4" r="3.3" fill="#1a2430"/>
<circle cx="1603.52" cy="1228.4" r="3.3" fill="#1a2430"/>
<circle cx="1605.92" cy="1228.4" r="3.3" fill="#1a2430"/>
<circle cx="1606.3" cy="1219.87" r="3.3" fill="#1a2430"/>
<circle cx="1608.23" cy="1228.4" r="3.3" fill="#1a2430"/>
<circle cx="1610.46" cy="1228.4" r="3.3" fill="#1a2430"/>
<circle cx="1615.2" cy="1219.87" r="3.3" fill="#1a2430"/>
<circle cx="1623" cy="1219.87" r="3.3" fill="#1a2430"/>
<circle cx="1629.7" cy="1219.87" r="3.3" fill="#1a2430"/>
<circle cx="1635.8" cy="1219.87" r="3.3" fill="#1a2430"/>
<circle cx="1646.3" cy="1219.87" r="3.3" fill="#1a2430"/>
<circle cx="1650.7" cy="1219.87" r="3.3" fill="#1a2430"/>
<circle cx="1659.2" cy="1219.87" r="3.3" fill="#1a2430"/>
<circle cx="1669.9" cy="1219.87" r="3.3" fill="#1a2430"/>
</g>
<g clip-path="url(#c12V)">
<polyline points="985.86,1522.05 1068.3,1522.05 1072.13,1524.79 1075.97,1527.45 1079.8,1530.02 1083.64,1532.51 1087.47,1534.92 1091.31,1537.26 1095.14,1539.52 1098.98,1541.71 1102.81,1543.83 1106.65,1545.88 1110.48,1547.86 1114.32,1549.79 1118.15,1551.65 1121.99,1553.46 1125.82,1555.2 1129.66,1556.89 1133.49,1558.53 1137.33,1560.12 1141.16,1561.65 1145,1563.14 1148.83,1564.58 1152.67,1565.97 1156.5,1567.32 1160.34,1568.63 1164.17,1569.89 1168.01,1571.12 1171.84,1572.3 1175.68,1573.45 1179.51,1574.56 1183.35,1575.64 1187.18,1576.68 1191.01,1577.69 1194.85,1578.67 1198.68,1579.62 1202.52,1580.53 1206.35,1581.42 1210.19,1582.28 1214.02,1583.11 1217.86,1583.92 1221.69,1584.7 1225.53,1585.45 1229.36,1586.18 1233.2,1586.89 1237.03,1587.58 1240.87,1588.24 1244.7,1588.88 1248.54,1589.51 1252.37,1590.11 1256.21,1590.69 1260.04,1591.26 1263.88,1591.8 1267.71,1592.33 1271.55,1592.85 1275.38,1593.34 1279.22,1593.83 1283.05,1594.29 1286.89,1594.74 1290.72,1595.18 1294.56,1595.6 1298.39,1596.01 1302.23,1596.41 1306.06,1596.79 1309.89,1597.16 1313.73,1597.52 1317.56,1597.87 1321.4,1598.21 1325.23,1598.53 1329.07,1598.85 1332.9,1599.16 1336.74,1599.45 1340.57,1599.74 1344.41,1600.02 1348.24,1600.29 1352.08,1600.55 1355.91,1600.8 1359.75,1601.04 1363.58,1601.28 1367.42,1601.51 1371.25,1601.73 1375.09,1601.95 1378.92,1602.15 1382.76,1602.36 1386.59,1602.55 1390.43,1602.74 1394.26,1602.92 1398.1,1603.1 1401.93,1603.27 1405.77,1603.44 1409.6,1603.6 1413.44,1603.75 1417.27,1603.9 1421.11,1604.05 1424.94,1604.19 1428.77,1604.33 1432.61,1604.46 1436.44,1604.59 1440.28,1604.71 1444.11,1604.83 1447.95,1604.95 1451.78,1605.06 1455.62,1605.17 1459.45,1605.28 1463.29,1605.38 1467.12,1605.48 1470.96,1605.57 1474.79,1605.67 1478.63,1605.76 1482.46,1605.84 1486.3,1605.93 1490.13,1606.01 1493.97,1606.09 1497.8,1606.16 1501.64,1606.24 1505.47,1606.31 1509.31,1606.38 1513.14,1606.45 1516.98,1606.51 1520.81,1606.58 1524.65,1606.64 1528.48,1606.7 1532.32,1606.75 1536.15,1606.81 1539.99,1606.86 1543.82,1606.91 1547.66,1606.96 1551.49,1607.01 1555.32,1607.06 1559.16,1607.11 1562.99,1607.15 1566.83,1607.19 1570.66,1607.23 1574.5,1607.27 1578.33,1607.31 1582.17,1607.35 1586,1607.39 1589.84,1607.42 1593.67,1607.46 1597.51,1607.49 1601.34,1607.52 1605.18,1607.55 1609.01,1607.58 1612.85,1607.61 1616.68,1607.64 1620.52,1607.67 1624.35,1607.69 1628.19,1607.72 1632.02,1607.74 1635.86,1607.77 1639.69,1607.79 1643.53,1607.81 1647.36,1607.84 1651.2,1607.86 1655.03,1607.88 1658.87,1607.9 1662.7,1607.92 1666.54,1607.93 1670.37,1607.95 1674.2,1607.97 1678.04,1607.99 1681.87,1608" fill="none" stroke="#1a2430" stroke-width="6.2" stroke-linejoin="round" stroke-linecap="square"/>
<polyline points="985.86,1516.08 986.86,1516.08 987.85,1516.08 988.85,1516.08 989.85,1516.08 990.84,1516.08 991.84,1516.08 992.83,1516.08 993.83,1516.08 994.82,1516.08 995.82,1516.08 996.82,1516.08 997.81,1516.08 998.81,1516.08 999.8,1516.08 1000.8,1516.08 1001.79,1516.08 1002.79,1516.08 1003.79,1516.08 1004.78,1516.08 1005.78,1516.08 1006.77,1516.08 1007.77,1516.08 1008.76,1516.08 1009.76,1516.08 1010.76,1516.08 1011.75,1516.08 1012.75,1516.08 1013.74,1516.08 1014.74,1516.08 1015.73,1516.08 1016.73,1516.08 1017.73,1516.08 1018.72,1516.08 1019.72,1516.08 1020.71,1516.08 1021.71,1516.08 1022.7,1516.08 1023.7,1516.08 1024.7,1516.08 1025.69,1516.08 1026.69,1516.08 1027.68,1516.08 1028.68,1516.08 1029.67,1516.08 1030.67,1516.08 1031.67,1516.08 1032.66,1516.08 1033.66,1516.08 1034.65,1516.08 1035.65,1516.08 1036.64,1516.08 1037.64,1516.08 1038.64,1516.08 1039.63,1516.08 1040.63,1516.08 1041.62,1516.08 1042.62,1516.08 1043.61,1516.08 1044.61,1516.08 1045.61,1516.08 1046.6,1516.08 1047.6,1516.08 1048.59,1516.08 1049.59,1516.08 1050.59,1516.08 1051.58,1516.08 1052.58,1516.08 1053.57,1516.08 1054.57,1516.08 1055.56,1516.08 1056.56,1516.08 1057.56,1516.08 1058.55,1516.08 1059.55,1516.08 1060.54,1516.08 1061.54,1516.08 1062.53,1516.08 1063.53,1516.08 1064.53,1516.08 1065.52,1516.08 1066.52,1516.11 1067.51,1517.61 1068.51,1519.05 1069.5,1520.36 1070.5,1521.5 1071.5,1522.43 1072.49,1523.16 1073.49,1523.69 1074.48,1524.09 1075.48,1524.46 1076.47,1525.13 1077.47,1525.81 1078.47,1526.47 1079.46,1527.14 1080.46,1527.79 1081.45,1528.44 1082.45,1529.09 1083.44,1529.73 1084.44,1530.36 1085.44,1530.99 1086.43,1531.62 1087.43,1532.23 1088.42,1532.85 1089.42,1533.46 1090.41,1534.06 1091.41,1534.66 1092.41,1535.25 1093.4,1535.84 1094.4,1536.42 1095.39,1537 1096.39,1537.58 1097.38,1538.15 1098.38,1538.71 1099.38,1539.27 1100.37,1539.83 1101.37,1540.38 1102.36,1540.92 1103.36,1541.46 1104.35,1542 1105.35,1542.53 1106.35,1543.06 1107.34,1543.58 1108.34,1544.1 1109.33,1544.62 1110.33,1545.13 1111.32,1545.63 1112.32,1546.14 1113.32,1546.63 1114.31,1547.13 1115.31,1547.62 1116.3,1548.1 1117.3,1548.58 1118.29,1549.06 1119.29,1549.53 1120.29,1550 1121.28,1550.47 1122.28,1550.93 1123.27,1551.39 1124.27,1551.84 1125.26,1552.29 1126.26,1552.74 1127.26,1553.18 1128.25,1553.62 1129.25,1554.06 1130.24,1554.49 1131.24,1554.92 1132.23,1555.34 1133.23,1555.76 1134.23,1556.18 1135.22,1556.59 1136.22,1557 1137.21,1557.41 1138.21,1557.81 1139.2,1558.22 1140.2,1558.61 1141.2,1559.01 1142.19,1559.4 1143.19,1559.78 1144.18,1560.17 1145.18,1560.55 1146.17,1560.93 1147.17,1561.3 1148.17,1561.67 1149.16,1562.04 1150.16,1562.41 1151.15,1562.77 1152.15,1563.13 1153.14,1563.48 1154.14,1563.84 1155.14,1564.19 1156.13,1564.53 1157.13,1564.62 1158.12,1564.96 1159.12,1565.3 1160.11,1565.63 1161.11,1565.97 1162.11,1568.11 1163.1,1568.44 1164.1,1568.77 1165.09,1569.09 1166.09,1569.41 1167.08,1569.72 1168.08,1570.04 1169.08,1570.35 1170.07,1570.66 1171.07,1570.96 1172.06,1571.27 1173.06,1571.57 1174.05,1571.87 1175.05,1572.16 1176.05,1572.46 1177.04,1572.75 1178.04,1573.04 1179.03,1573.33 1180.03,1573.61 1181.02,1573.89 1182.02,1574.17 1183.02,1574.45 1184.01,1574.72 1185.01,1574.99 1186,1575.26 1187,1575.53 1188,1575.8 1188.99,1576.06 1189.99,1576.32 1190.98,1576.58 1191.98,1576.84 1192.97,1577.09 1193.97,1577.35 1194.97,1577.6 1195.96,1577.85 1196.96,1578.09 1197.95,1578.34 1198.95,1578.58 1199.94,1578.82 1200.94,1579.06 1201.94,1579.29 1202.93,1579.53 1203.93,1579.76 1204.92,1579.99 1205.92,1580.22 1206.91,1580.45 1207.91,1580.67 1208.91,1580.89 1209.9,1581.11 1210.9,1581.33 1211.89,1581.55 1212.89,1581.77 1213.88,1581.98 1214.88,1582.19 1215.88,1582.4 1216.87,1582.61 1217.87,1582.82 1218.86,1583.02 1219.86,1583.22 1220.85,1583.43 1221.85,1583.63 1222.85,1583.82 1223.84,1584.02 1224.84,1584.22 1225.83,1584.41 1226.83,1584.6 1227.82,1584.79 1228.82,1584.98 1229.82,1585.17 1230.81,1585.35 1231.81,1585.54 1232.8,1585.72 1233.8,1585.9 1234.79,1586.08 1235.79,1586.26 1236.79,1586.43 1237.78,1586.61 1238.78,1586.78 1239.77,1586.76 1240.77,1586.93 1241.76,1587.1 1242.76,1587.26 1243.76,1587.43 1244.75,1588.57 1245.75,1588.73 1246.74,1588.89 1247.74,1589.05 1248.73,1589.21 1249.73,1589.37 1250.73,1589.53 1251.72,1589.68 1252.72,1589.84 1253.71,1589.99 1254.71,1590.14 1255.7,1590.29 1256.7,1590.44 1257.7,1590.59 1258.69,1590.74 1259.69,1590.88 1260.68,1591.03 1261.68,1591.17 1262.67,1591.31 1263.67,1591.45 1264.67,1591.59 1265.66,1591.73 1266.66,1591.87 1267.65,1592 1268.65,1592.14 1269.64,1592.27 1270.64,1592.4 1271.64,1592.54 1272.63,1592.67 1273.63,1592.79 1274.62,1592.92 1275.62,1593.05 1276.61,1593.18 1277.61,1593.3 1278.61,1593.43 1279.6,1593.55 1280.6,1593.67 1281.59,1593.79 1282.59,1593.91 1283.58,1594.03 1284.58,1594.15 1285.58,1594.27 1286.57,1594.38 1287.57,1594.5 1288.56,1594.61 1289.56,1594.72 1290.55,1594.84 1291.55,1594.95 1292.55,1595.06 1293.54,1595.17 1294.54,1595.27 1295.53,1595.38 1296.53,1595.49 1297.52,1595.59 1298.52,1595.7 1299.52,1595.8 1300.51,1595.91 1301.51,1596.01 1302.5,1596.11 1303.5,1596.21 1304.49,1596.31 1305.49,1596.41 1306.49,1596.51 1307.48,1596.61 1308.48,1596.7 1309.47,1596.8 1310.47,1596.89 1311.46,1596.99 1312.46,1597.08 1313.46,1597.17 1314.45,1597.26 1315.45,1597.35 1316.44,1597.44 1317.44,1597.53 1318.43,1597.62 1319.43,1597.71 1320.43,1597.8 1321.42,1598.08 1322.42,1598.17 1323.41,1598.25 1324.41,1598.34 1325.41,1598.42 1326.4,1598.5 1327.4,1598.59 1328.39,1598.67 1329.39,1598.75 1330.38,1598.83 1331.38,1598.91 1332.38,1598.99 1333.37,1599.07 1334.37,1599.15 1335.36,1599.22 1336.36,1599.3 1337.35,1599.38 1338.35,1599.45 1339.35,1599.53 1340.34,1599.6 1341.34,1599.67 1342.33,1599.75 1343.33,1599.82 1344.32,1599.89 1345.32,1599.96 1346.32,1600.03 1347.31,1600.1 1348.31,1600.17 1349.3,1600.24 1350.3,1600.31 1351.29,1600.38 1352.29,1600.44 1353.29,1600.51 1354.28,1600.58 1355.28,1600.64 1356.27,1600.71 1357.27,1600.77 1358.26,1600.83 1359.26,1600.9 1360.26,1600.96 1361.25,1601.02 1362.25,1601.08 1363.24,1601.15 1364.24,1601.21 1365.23,1601.27 1366.23,1601.33 1367.23,1601.39 1368.22,1601.44 1369.22,1601.5 1370.21,1601.56 1371.21,1601.62 1372.2,1601.67 1373.2,1601.73 1374.2,1601.79 1375.19,1601.84 1376.19,1601.9 1377.18,1601.95 1378.18,1602.01 1379.17,1602.06 1380.17,1602.11 1381.17,1602.16 1382.16,1602.22 1383.16,1602.27 1384.15,1602.32 1385.15,1602.37 1386.14,1602.42 1387.14,1602.47 1388.14,1602.52 1389.13,1602.57 1390.13,1602.62 1391.12,1602.67 1392.12,1602.72 1393.11,1602.76 1394.11,1602.81 1395.11,1602.86 1396.1,1602.9 1397.1,1602.95 1398.09,1603 1399.09,1603.04 1400.08,1603.09 1401.08,1603.13 1402.08,1603.18 1403.07,1603.22 1404.07,1603.26 1405.06,1603.31 1406.06,1603.35 1407.05,1603.39 1408.05,1603.43 1409.05,1603.48 1410.04,1603.52 1411.04,1603.56 1412.03,1603.6 1413.03,1603.64 1414.02,1603.68 1415.02,1603.72 1416.02,1603.76 1417.01,1603.8 1418.01,1603.84 1419,1603.88 1420,1603.91 1420.99,1603.95 1421.99,1603.99 1422.99,1604.03 1423.98,1604.06 1424.98,1604.1 1425.97,1604.14 1426.97,1604.17 1427.96,1604.21 1428.96,1604.24 1429.96,1604.28 1430.95,1604.31 1431.95,1604.35 1432.94,1604.38 1433.94,1604.42 1434.93,1604.45 1435.93,1604.48 1436.93,1604.52 1437.92,1604.55 1438.92,1604.58 1439.91,1604.61 1440.91,1604.65 1441.9,1604.68 1442.9,1604.71 1443.9,1604.74 1444.89,1604.77 1445.89,1604.8 1446.88,1604.83 1447.88,1604.86 1448.87,1604.89 1449.87,1604.92 1450.87,1604.95 1451.86,1604.98 1452.86,1605.01 1453.85,1605.04 1454.85,1605.07 1455.84,1605.1 1456.84,1605.12 1457.84,1605.15 1458.83,1605.18 1459.83,1605.21 1460.82,1605.23 1461.82,1605.26 1462.82,1605.29 1463.81,1605.31 1464.81,1605.34 1465.8,1605.37 1466.8,1605.39 1467.79,1605.42 1468.79,1605.44 1469.79,1605.47 1470.78,1605.49 1471.78,1605.52 1472.77,1605.54 1473.77,1605.57 1474.76,1605.59 1475.76,1605.61 1476.76,1605.64 1477.75,1605.66 1478.75,1605.69 1479.74,1605.71 1480.74,1605.73 1481.73,1605.75 1482.73,1605.78 1483.73,1605.8 1484.72,1605.82 1485.72,1605.84 1486.71,1605.87 1487.71,1605.89 1488.7,1605.91 1489.7,1605.93 1490.7,1605.95 1491.69,1605.97 1492.69,1605.99 1493.68,1606.01 1494.68,1606.03 1495.67,1606.06 1496.67,1606.08 1497.67,1606.1 1498.66,1606.12 1499.66,1606.14 1500.65,1606.15 1501.65,1606.17 1502.64,1606.19 1503.64,1606.21 1504.64,1606.23 1505.63,1606.25 1506.63,1606.27 1507.62,1606.29 1508.62,1606.31 1509.61,1606.32 1510.61,1606.34 1511.61,1606.36 1512.6,1606.38 1513.6,1606.39 1514.59,1606.41 1515.59,1606.43 1516.58,1606.45 1517.58,1606.46 1518.58,1606.48 1519.57,1606.5 1520.57,1606.51 1521.56,1606.53 1522.56,1606.55 1523.55,1606.56 1524.55,1606.58 1525.55,1606.59 1526.54,1606.61 1527.54,1606.63 1528.53,1606.64 1529.53,1606.66 1530.52,1606.67 1531.52,1606.69 1532.52,1606.7 1533.51,1606.72 1534.51,1606.73 1535.5,1606.75 1536.5,1606.76 1537.49,1606.78 1538.49,1606.79 1539.49,1606.8 1540.48,1606.82 1541.48,1606.83 1542.47,1606.85 1543.47,1606.86 1544.46,1606.87 1545.46,1606.89 1546.46,1606.9 1547.45,1606.91 1548.45,1606.93 1549.44,1606.94 1550.44,1606.95 1551.43,1606.97 1552.43,1606.98 1553.43,1606.99 1554.42,1607 1555.42,1607.02 1556.41,1607.03 1557.41,1607.04 1558.4,1607.05 1559.4,1607.06 1560.4,1607.08 1561.39,1607.09 1562.39,1607.1 1563.38,1607.11 1564.38,1607.12 1565.37,1607.13 1566.37,1607.15 1567.37,1607.16 1568.36,1607.17 1569.36,1607.18 1570.35,1607.19 1571.35,1607.2 1572.34,1607.21 1573.34,1607.22 1574.34,1607.23 1575.33,1607.24 1576.33,1607.26 1577.32,1607.27 1578.32,1607.28 1579.31,1607.29 1580.31,1607.3 1581.31,1607.31 1582.3,1607.32 1583.3,1607.33 1584.29,1607.34 1585.29,1607.35 1586.28,1607.36 1587.28,1607.37 1588.28,1607.37 1589.27,1607.38 1590.27,1607.39 1591.26,1607.4 1592.26,1607.41 1593.25,1607.42 1594.25,1607.43 1595.25,1607.44 1596.24,1607.45 1597.24,1607.46 1598.23,1607.47 1599.23,1607.47 1600.22,1607.48 1601.22,1607.49 1602.22,1607.5 1603.21,1607.51 1604.21,1607.52 1605.2,1607.53 1606.2,1607.53 1607.2,1607.54 1608.19,1607.55 1609.19,1607.56 1610.18,1607.57 1611.18,1607.57 1612.17,1607.58 1613.17,1607.59 1614.17,1607.6 1615.16,1607.61 1616.16,1607.61 1617.15,1607.62 1618.15,1607.63 1619.14,1607.64 1620.14,1607.64 1621.14,1607.65 1622.13,1607.66 1623.13,1607.66 1624.12,1607.67 1625.12,1607.68 1626.11,1607.69 1627.11,1607.69 1628.11,1607.7 1629.1,1607.71 1630.1,1607.71 1631.09,1607.72 1632.09,1607.73 1633.08,1607.73 1634.08,1607.74 1635.08,1607.75 1636.07,1607.75 1637.07,1607.76 1638.06,1607.77 1639.06,1607.77 1640.05,1607.78 1641.05,1607.78 1642.05,1607.79 1643.04,1607.8 1644.04,1607.8 1645.03,1607.81 1646.03,1607.82 1647.02,1607.82 1648.02,1607.83 1649.02,1607.83 1650.01,1607.84 1651.01,1607.84 1652,1607.85 1653,1607.86 1653.99,1607.86 1654.99,1607.87 1655.99,1607.87 1656.98,1607.88 1657.98,1607.88 1658.97,1607.89 1659.97,1607.89 1660.96,1607.9 1661.96,1607.91 1662.96,1607.91 1663.95,1607.92 1664.95,1607.92 1665.94,1607.93 1666.94,1607.93 1667.93,1607.94 1668.93,1607.94 1669.93,1607.95 1670.92,1607.95 1671.92,1607.96 1672.91,1607.96 1673.91,1607.97 1674.9,1607.97 1675.9,1607.98 1676.9,1607.98 1677.89,1607.98 1678.89,1607.99 1679.88,1607.99 1680.88,1608 1681.87,1608" fill="none" stroke="#1ebfcf" stroke-width="6.6" stroke-linejoin="round" stroke-linecap="square"/>
</g>
<g clip-path="url(#c12E)">
<polygon points="985.86,1752.6 985.86,1746.11 986.86,1746.11 987.85,1746.11 988.85,1746.11 989.85,1746.11 990.84,1746.11 991.84,1746.11 992.83,1746.11 993.83,1746.11 994.82,1746.11 995.82,1746.11 996.82,1746.11 997.81,1746.11 998.81,1746.11 999.8,1746.11 1000.8,1746.11 1001.79,1746.11 1002.79,1746.11 1003.79,1746.11 1004.78,1746.11 1005.78,1746.11 1006.77,1746.11 1007.77,1746.11 1008.76,1746.11 1009.76,1746.11 1010.76,1746.11 1011.75,1746.11 1012.75,1746.11 1013.74,1746.11 1014.74,1746.11 1015.73,1746.11 1016.73,1746.11 1017.73,1746.11 1018.72,1746.11 1019.72,1746.11 1020.71,1746.11 1021.71,1746.11 1022.7,1746.11 1023.7,1746.11 1024.7,1746.11 1025.69,1746.11 1026.69,1746.11 1027.68,1746.11 1028.68,1746.11 1029.67,1746.11 1030.67,1746.11 1031.67,1746.11 1032.66,1746.11 1033.66,1746.11 1034.65,1746.11 1035.65,1746.11 1036.64,1746.11 1037.64,1746.11 1038.64,1746.11 1039.63,1746.11 1040.63,1746.11 1041.62,1746.11 1042.62,1746.11 1043.61,1746.11 1044.61,1746.11 1045.61,1746.11 1046.6,1746.11 1047.6,1746.11 1048.59,1746.11 1049.59,1746.11 1050.59,1746.11 1051.58,1746.11 1052.58,1746.11 1053.57,1746.11 1054.57,1746.11 1055.56,1746.11 1056.56,1746.11 1057.56,1746.11 1058.55,1746.11 1059.55,1746.11 1060.54,1746.11 1061.54,1746.11 1062.53,1746.11 1063.53,1746.11 1064.53,1746.11 1065.52,1746.11 1066.52,1746.11 1067.51,1746.11 1068.51,1745.38 1069.5,1745.38 1070.5,1745.38 1071.5,1745.38 1072.49,1745.38 1073.49,1748.9 1074.48,1748.9 1075.48,1748.9 1076.47,1748.9 1077.47,1748.9 1078.47,1748.9 1079.46,1748.9 1080.46,1748.9 1081.45,1748.9 1082.45,1748.9 1083.44,1748.9 1084.44,1748.9 1085.44,1748.9 1086.43,1748.9 1087.43,1748.9 1088.42,1748.9 1089.42,1748.9 1090.41,1748.9 1091.41,1748.9 1092.41,1748.9 1093.4,1748.9 1094.4,1748.9 1095.39,1748.9 1096.39,1748.9 1097.38,1748.9 1098.38,1748.9 1099.38,1748.9 1100.37,1748.9 1101.37,1748.9 1102.36,1748.9 1103.36,1748.9 1104.35,1748.9 1105.35,1748.9 1106.35,1748.9 1107.34,1748.9 1108.34,1748.9 1109.33,1748.9 1110.33,1748.9 1111.32,1748.9 1112.32,1748.9 1113.32,1748.9 1114.31,1748.9 1115.31,1748.9 1116.3,1748.9 1117.3,1748.9 1118.29,1748.9 1119.29,1748.9 1120.29,1748.9 1121.28,1748.9 1122.28,1748.9 1123.27,1748.9 1124.27,1748.9 1125.26,1748.9 1126.26,1748.9 1127.26,1748.9 1128.25,1748.9 1129.25,1748.9 1130.24,1748.9 1131.24,1748.9 1132.23,1748.9 1133.23,1748.9 1134.23,1748.9 1135.22,1748.9 1136.22,1748.9 1137.21,1748.9 1138.21,1748.9 1139.2,1748.9 1140.2,1748.9 1141.2,1748.9 1142.19,1748.9 1143.19,1748.9 1144.18,1748.9 1145.18,1748.9 1146.17,1748.9 1147.17,1748.9 1148.17,1748.9 1149.16,1748.9 1150.16,1748.9 1151.15,1748.9 1152.15,1748.9 1153.14,1748.9 1154.14,1748.9 1155.14,1748.9 1156.13,1748.9 1157.13,1748.54 1158.12,1748.54 1159.12,1748.54 1160.11,1748.54 1161.11,1748.54 1162.11,1751.07 1163.1,1751.07 1164.1,1751.07 1165.09,1751.07 1166.09,1751.07 1167.08,1751.07 1168.08,1751.07 1169.08,1751.07 1170.07,1751.07 1171.07,1751.07 1172.06,1751.07 1173.06,1751.07 1174.05,1751.07 1175.05,1751.07 1176.05,1751.07 1177.04,1751.07 1178.04,1751.07 1179.03,1751.07 1180.03,1751.07 1181.02,1751.07 1182.02,1751.07 1183.02,1751.07 1184.01,1751.07 1185.01,1751.07 1186,1751.07 1187,1751.07 1188,1751.07 1188.99,1751.07 1189.99,1751.07 1190.98,1751.07 1191.98,1751.07 1192.97,1751.07 1193.97,1751.07 1194.97,1751.07 1195.96,1751.07 1196.96,1751.07 1197.95,1751.07 1198.95,1751.07 1199.94,1751.07 1200.94,1751.07 1201.94,1751.07 1202.93,1751.07 1203.93,1751.07 1204.92,1751.07 1205.92,1751.07 1206.91,1751.07 1207.91,1751.07 1208.91,1751.07 1209.9,1751.07 1210.9,1751.07 1211.89,1751.07 1212.89,1751.07 1213.88,1751.07 1214.88,1751.07 1215.88,1751.07 1216.87,1751.07 1217.87,1751.07 1218.86,1751.07 1219.86,1751.07 1220.85,1751.07 1221.85,1751.07 1222.85,1751.07 1223.84,1751.07 1224.84,1751.07 1225.83,1751.07 1226.83,1751.07 1227.82,1751.07 1228.82,1751.07 1229.82,1751.07 1230.81,1751.07 1231.81,1751.07 1232.8,1751.07 1233.8,1751.07 1234.79,1751.07 1235.79,1751.07 1236.79,1751.07 1237.78,1751.07 1238.78,1751.07 1239.77,1750.8 1240.77,1750.8 1241.76,1750.8 1242.76,1750.8 1243.76,1750.8 1244.75,1752.15 1245.75,1752.15 1246.74,1752.15 1247.74,1752.15 1248.73,1752.15 1249.73,1752.15 1250.73,1752.15 1251.72,1752.15 1252.72,1752.15 1253.71,1752.15 1254.71,1752.15 1255.7,1752.15 1256.7,1752.15 1257.7,1752.15 1258.69,1752.15 1259.69,1752.15 1260.68,1752.15 1261.68,1752.15 1262.67,1752.15 1263.67,1752.15 1264.67,1752.15 1265.66,1752.15 1266.66,1752.15 1267.65,1752.15 1268.65,1752.15 1269.64,1752.15 1270.64,1752.15 1271.64,1752.15 1272.63,1752.15 1273.63,1752.15 1274.62,1752.15 1275.62,1752.15 1276.61,1752.15 1277.61,1752.15 1278.61,1752.15 1279.6,1752.15 1280.6,1752.15 1281.59,1752.15 1282.59,1752.15 1283.58,1752.15 1284.58,1752.15 1285.58,1752.15 1286.57,1752.15 1287.57,1752.15 1288.56,1752.15 1289.56,1752.15 1290.55,1752.15 1291.55,1752.15 1292.55,1752.15 1293.54,1752.15 1294.54,1752.15 1295.53,1752.15 1296.53,1752.15 1297.52,1752.15 1298.52,1752.15 1299.52,1752.15 1300.51,1752.15 1301.51,1752.15 1302.5,1752.15 1303.5,1752.15 1304.49,1752.15 1305.49,1752.15 1306.49,1752.15 1307.48,1752.15 1308.48,1752.15 1309.47,1752.15 1310.47,1752.15 1311.46,1752.15 1312.46,1752.15 1313.46,1752.15 1314.45,1752.15 1315.45,1752.15 1316.44,1752.15 1317.44,1752.15 1318.43,1752.15 1319.43,1752.15 1320.43,1752.15 1321.42,1752.42 1322.42,1752.42 1323.41,1752.42 1324.41,1752.42 1325.41,1752.42 1326.4,1752.42 1327.4,1752.42 1328.39,1752.42 1329.39,1752.42 1330.38,1752.42 1331.38,1752.42 1332.38,1752.43 1333.37,1752.43 1334.37,1752.43 1335.36,1752.43 1336.36,1752.43 1337.35,1752.43 1338.35,1752.43 1339.35,1752.43 1340.34,1752.43 1341.34,1752.43 1342.33,1752.43 1343.33,1752.43 1344.32,1752.43 1345.32,1752.43 1346.32,1752.43 1347.31,1752.43 1348.31,1752.43 1349.3,1752.43 1350.3,1752.43 1351.29,1752.43 1352.29,1752.44 1353.29,1752.44 1354.28,1752.44 1355.28,1752.44 1356.27,1752.44 1357.27,1752.44 1358.26,1752.44 1359.26,1752.44 1360.26,1752.44 1361.25,1752.44 1362.25,1752.44 1363.24,1752.44 1364.24,1752.44 1365.23,1752.44 1366.23,1752.44 1367.23,1752.44 1368.22,1752.44 1369.22,1752.44 1370.21,1752.44 1371.21,1752.44 1372.2,1752.45 1373.2,1752.45 1374.2,1752.45 1375.19,1752.45 1376.19,1752.45 1377.18,1752.45 1378.18,1752.45 1379.17,1752.45 1380.17,1752.45 1381.17,1752.45 1382.16,1752.45 1383.16,1752.45 1384.15,1752.45 1385.15,1752.45 1386.14,1752.45 1387.14,1752.45 1388.14,1752.45 1389.13,1752.45 1390.13,1752.45 1391.12,1752.45 1392.12,1752.45 1393.11,1752.46 1394.11,1752.46 1395.11,1752.46 1396.1,1752.46 1397.1,1752.46 1398.09,1752.46 1399.09,1752.46 1400.08,1752.46 1401.08,1752.46 1402.08,1752.46 1403.07,1752.46 1404.07,1752.46 1405.06,1752.46 1406.06,1752.46 1407.05,1752.46 1408.05,1752.46 1409.05,1752.46 1410.04,1752.46 1411.04,1752.46 1412.03,1752.46 1413.03,1752.47 1414.02,1752.47 1415.02,1752.47 1416.02,1752.47 1417.01,1752.47 1418.01,1752.47 1419,1752.47 1420,1752.47 1420.99,1752.47 1421.99,1752.47 1422.99,1752.47 1423.98,1752.47 1424.98,1752.47 1425.97,1752.47 1426.97,1752.47 1427.96,1752.47 1428.96,1752.47 1429.96,1752.47 1430.95,1752.47 1431.95,1752.47 1432.94,1752.48 1433.94,1752.48 1434.93,1752.48 1435.93,1752.48 1436.93,1752.48 1437.92,1752.48 1438.92,1752.48 1439.91,1752.48 1440.91,1752.48 1441.9,1752.48 1442.9,1752.48 1443.9,1752.48 1444.89,1752.48 1445.89,1752.48 1446.88,1752.48 1447.88,1752.48 1448.87,1752.48 1449.87,1752.48 1450.87,1752.48 1451.86,1752.48 1452.86,1752.49 1453.85,1752.49 1454.85,1752.49 1455.84,1752.49 1456.84,1752.49 1457.84,1752.49 1458.83,1752.49 1459.83,1752.49 1460.82,1752.49 1461.82,1752.49 1462.82,1752.49 1463.81,1752.49 1464.81,1752.49 1465.8,1752.49 1466.8,1752.49 1467.79,1752.49 1468.79,1752.49 1469.79,1752.49 1470.78,1752.49 1471.78,1752.49 1472.77,1752.5 1473.77,1752.5 1474.76,1752.5 1475.76,1752.5 1476.76,1752.5 1477.75,1752.5 1478.75,1752.5 1479.74,1752.5 1480.74,1752.5 1481.73,1752.5 1482.73,1752.5 1483.73,1752.5 1484.72,1752.5 1485.72,1752.5 1486.71,1752.5 1487.71,1752.5 1488.7,1752.5 1489.7,1752.5 1490.7,1752.5 1491.69,1752.5 1492.69,1752.51 1493.68,1752.51 1494.68,1752.51 1495.67,1752.51 1496.67,1752.51 1497.67,1752.51 1498.66,1752.51 1499.66,1752.51 1500.65,1752.51 1501.65,1752.51 1502.64,1752.51 1503.64,1752.51 1504.64,1752.51 1505.63,1752.51 1506.63,1752.51 1507.62,1752.51 1508.62,1752.51 1509.61,1752.51 1510.61,1752.51 1511.61,1752.51 1512.6,1752.52 1513.6,1752.52 1514.59,1752.52 1515.59,1752.52 1516.58,1752.52 1517.58,1752.52 1518.58,1752.52 1519.57,1752.52 1520.57,1752.52 1521.56,1752.52 1522.56,1752.52 1523.55,1752.52 1524.55,1752.52 1525.55,1752.52 1526.54,1752.52 1527.54,1752.52 1528.53,1752.52 1529.53,1752.52 1530.52,1752.52 1531.52,1752.52 1532.52,1752.53 1533.51,1752.53 1534.51,1752.53 1535.5,1752.53 1536.5,1752.53 1537.49,1752.53 1538.49,1752.53 1539.49,1752.53 1540.48,1752.53 1541.48,1752.53 1542.47,1752.53 1543.47,1752.53 1544.46,1752.53 1545.46,1752.53 1546.46,1752.53 1547.45,1752.53 1548.45,1752.53 1549.44,1752.53 1550.44,1752.53 1551.43,1752.53 1552.43,1752.54 1553.43,1752.54 1554.42,1752.54 1555.42,1752.54 1556.41,1752.54 1557.41,1752.54 1558.4,1752.54 1559.4,1752.54 1560.4,1752.54 1561.39,1752.54 1562.39,1752.54 1563.38,1752.54 1564.38,1752.54 1565.37,1752.54 1566.37,1752.54 1567.37,1752.54 1568.36,1752.54 1569.36,1752.54 1570.35,1752.54 1571.35,1752.54 1572.34,1752.55 1573.34,1752.55 1574.34,1752.55 1575.33,1752.55 1576.33,1752.55 1577.32,1752.55 1578.32,1752.55 1579.31,1752.55 1580.31,1752.55 1581.31,1752.55 1582.3,1752.55 1583.3,1752.55 1584.29,1752.55 1585.29,1752.55 1586.28,1752.55 1587.28,1752.55 1588.28,1752.55 1589.27,1752.55 1590.27,1752.55 1591.26,1752.55 1592.26,1752.56 1593.25,1752.56 1594.25,1752.56 1595.25,1752.56 1596.24,1752.56 1597.24,1752.56 1598.23,1752.56 1599.23,1752.56 1600.22,1752.56 1601.22,1752.56 1602.22,1752.56 1603.21,1752.56 1604.21,1752.56 1605.2,1752.56 1606.2,1752.56 1607.2,1752.56 1608.19,1752.56 1609.19,1752.56 1610.18,1752.56 1611.18,1752.56 1612.17,1752.57 1613.17,1752.57 1614.17,1752.57 1615.16,1752.57 1616.16,1752.57 1617.15,1752.57 1618.15,1752.57 1619.14,1752.57 1620.14,1752.57 1621.14,1752.57 1622.13,1752.57 1623.13,1752.57 1624.12,1752.57 1625.12,1752.57 1626.11,1752.57 1627.11,1752.57 1628.11,1752.57 1629.1,1752.57 1630.1,1752.57 1631.09,1752.57 1632.09,1752.58 1633.08,1752.58 1634.08,1752.58 1635.08,1752.58 1636.07,1752.58 1637.07,1752.58 1638.06,1752.58 1639.06,1752.58 1640.05,1752.58 1641.05,1752.58 1642.05,1752.58 1643.04,1752.58 1644.04,1752.58 1645.03,1752.58 1646.03,1752.58 1647.02,1752.58 1648.02,1752.58 1649.02,1752.58 1650.01,1752.58 1651.01,1752.58 1652,1752.59 1653,1752.59 1653.99,1752.59 1654.99,1752.59 1655.99,1752.59 1656.98,1752.59 1657.98,1752.59 1658.97,1752.59 1659.97,1752.59 1660.96,1752.59 1661.96,1752.59 1662.96,1752.59 1663.95,1752.59 1664.95,1752.59 1665.94,1752.59 1666.94,1752.59 1667.93,1752.59 1668.93,1752.59 1669.93,1752.59 1670.92,1752.59 1671.92,1752.6 1672.91,1752.6 1673.91,1752.6 1674.9,1752.6 1675.9,1752.6 1676.9,1752.6 1677.89,1752.6 1678.89,1752.6 1679.88,1752.6 1680.88,1752.6 1681.87,1752.6 1681.87,1752.6" fill="#ed2024" stroke="#ed2024" stroke-width="4.6" stroke-linejoin="round"/>
<circle cx="985.86" cy="1746.11" r="2.4" fill="#ed2024"/>
<circle cx="986.86" cy="1746.11" r="2.4" fill="#ed2024"/>
<circle cx="987.85" cy="1746.11" r="2.4" fill="#ed2024"/>
<circle cx="988.85" cy="1746.11" r="2.4" fill="#ed2024"/>
<circle cx="989.85" cy="1746.11" r="2.4" fill="#ed2024"/>
<circle cx="990.84" cy="1746.11" r="2.4" fill="#ed2024"/>
<circle cx="991.84" cy="1746.11" r="2.4" fill="#ed2024"/>
<circle cx="992.83" cy="1746.11" r="2.4" fill="#ed2024"/>
<circle cx="993.83" cy="1746.11" r="2.4" fill="#ed2024"/>
<circle cx="994.82" cy="1746.11" r="2.4" fill="#ed2024"/>
<circle cx="995.82" cy="1746.11" r="2.4" fill="#ed2024"/>
<circle cx="996.82" cy="1746.11" r="2.4" fill="#ed2024"/>
<circle cx="997.81" cy="1746.11" r="2.4" fill="#ed2024"/>
<circle cx="998.81" cy="1746.11" r="2.4" fill="#ed2024"/>
<circle cx="999.8" cy="1746.11" r="2.4" fill="#ed2024"/>
<circle cx="1000.8" cy="1746.11" r="2.4" fill="#ed2024"/>
<circle cx="1001.79" cy="1746.11" r="2.4" fill="#ed2024"/>
<circle cx="1002.79" cy="1746.11" r="2.4" fill="#ed2024"/>
<circle cx="1003.79" cy="1746.11" r="2.4" fill="#ed2024"/>
<circle cx="1004.78" cy="1746.11" r="2.4" fill="#ed2024"/>
<circle cx="1005.78" cy="1746.11" r="2.4" fill="#ed2024"/>
<circle cx="1006.77" cy="1746.11" r="2.4" fill="#ed2024"/>
<circle cx="1007.77" cy="1746.11" r="2.4" fill="#ed2024"/>
<circle cx="1008.76" cy="1746.11" r="2.4" fill="#ed2024"/>
<circle cx="1009.76" cy="1746.11" r="2.4" fill="#ed2024"/>
<circle cx="1010.76" cy="1746.11" r="2.4" fill="#ed2024"/>
<circle cx="1011.75" cy="1746.11" r="2.4" fill="#ed2024"/>
<circle cx="1012.75" cy="1746.11" r="2.4" fill="#ed2024"/>
<circle cx="1013.74" cy="1746.11" r="2.4" fill="#ed2024"/>
<circle cx="1014.74" cy="1746.11" r="2.4" fill="#ed2024"/>
<circle cx="1015.73" cy="1746.11" r="2.4" fill="#ed2024"/>
<circle cx="1016.73" cy="1746.11" r="2.4" fill="#ed2024"/>
<circle cx="1017.73" cy="1746.11" r="2.4" fill="#ed2024"/>
<circle cx="1018.72" cy="1746.11" r="2.4" fill="#ed2024"/>
<circle cx="1019.72" cy="1746.11" r="2.4" fill="#ed2024"/>
<circle cx="1020.71" cy="1746.11" r="2.4" fill="#ed2024"/>
<circle cx="1021.71" cy="1746.11" r="2.4" fill="#ed2024"/>
<circle cx="1022.7" cy="1746.11" r="2.4" fill="#ed2024"/>
<circle cx="1023.7" cy="1746.11" r="2.4" fill="#ed2024"/>
<circle cx="1024.7" cy="1746.11" r="2.4" fill="#ed2024"/>
<circle cx="1025.69" cy="1746.11" r="2.4" fill="#ed2024"/>
<circle cx="1026.69" cy="1746.11" r="2.4" fill="#ed2024"/>
<circle cx="1027.68" cy="1746.11" r="2.4" fill="#ed2024"/>
<circle cx="1028.68" cy="1746.11" r="2.4" fill="#ed2024"/>
<circle cx="1029.67" cy="1746.11" r="2.4" fill="#ed2024"/>
<circle cx="1030.67" cy="1746.11" r="2.4" fill="#ed2024"/>
<circle cx="1031.67" cy="1746.11" r="2.4" fill="#ed2024"/>
<circle cx="1032.66" cy="1746.11" r="2.4" fill="#ed2024"/>
<circle cx="1033.66" cy="1746.11" r="2.4" fill="#ed2024"/>
<circle cx="1034.65" cy="1746.11" r="2.4" fill="#ed2024"/>
<circle cx="1035.65" cy="1746.11" r="2.4" fill="#ed2024"/>
<circle cx="1036.64" cy="1746.11" r="2.4" fill="#ed2024"/>
<circle cx="1037.64" cy="1746.11" r="2.4" fill="#ed2024"/>
<circle cx="1038.64" cy="1746.11" r="2.4" fill="#ed2024"/>
<circle cx="1039.63" cy="1746.11" r="2.4" fill="#ed2024"/>
<circle cx="1040.63" cy="1746.11" r="2.4" fill="#ed2024"/>
<circle cx="1041.62" cy="1746.11" r="2.4" fill="#ed2024"/>
<circle cx="1042.62" cy="1746.11" r="2.4" fill="#ed2024"/>
<circle cx="1043.61" cy="1746.11" r="2.4" fill="#ed2024"/>
<circle cx="1044.61" cy="1746.11" r="2.4" fill="#ed2024"/>
<circle cx="1045.61" cy="1746.11" r="2.4" fill="#ed2024"/>
<circle cx="1046.6" cy="1746.11" r="2.4" fill="#ed2024"/>
<circle cx="1047.6" cy="1746.11" r="2.4" fill="#ed2024"/>
<circle cx="1048.59" cy="1746.11" r="2.4" fill="#ed2024"/>
<circle cx="1049.59" cy="1746.11" r="2.4" fill="#ed2024"/>
<circle cx="1050.59" cy="1746.11" r="2.4" fill="#ed2024"/>
<circle cx="1051.58" cy="1746.11" r="2.4" fill="#ed2024"/>
<circle cx="1052.58" cy="1746.11" r="2.4" fill="#ed2024"/>
<circle cx="1053.57" cy="1746.11" r="2.4" fill="#ed2024"/>
<circle cx="1054.57" cy="1746.11" r="2.4" fill="#ed2024"/>
<circle cx="1055.56" cy="1746.11" r="2.4" fill="#ed2024"/>
<circle cx="1056.56" cy="1746.11" r="2.4" fill="#ed2024"/>
<circle cx="1057.56" cy="1746.11" r="2.4" fill="#ed2024"/>
<circle cx="1058.55" cy="1746.11" r="2.4" fill="#ed2024"/>
<circle cx="1059.55" cy="1746.11" r="2.4" fill="#ed2024"/>
<circle cx="1060.54" cy="1746.11" r="2.4" fill="#ed2024"/>
<circle cx="1061.54" cy="1746.11" r="2.4" fill="#ed2024"/>
<circle cx="1062.53" cy="1746.11" r="2.4" fill="#ed2024"/>
<circle cx="1063.53" cy="1746.11" r="2.4" fill="#ed2024"/>
<circle cx="1064.53" cy="1746.11" r="2.4" fill="#ed2024"/>
<circle cx="1065.52" cy="1746.11" r="2.4" fill="#ed2024"/>
<circle cx="1066.52" cy="1746.11" r="2.4" fill="#ed2024"/>
<circle cx="1067.51" cy="1746.11" r="2.4" fill="#ed2024"/>
<circle cx="1068.51" cy="1745.38" r="2.4" fill="#ed2024"/>
<circle cx="1069.5" cy="1745.38" r="2.4" fill="#ed2024"/>
<circle cx="1070.5" cy="1745.38" r="2.4" fill="#ed2024"/>
<circle cx="1071.5" cy="1745.38" r="2.4" fill="#ed2024"/>
<circle cx="1072.49" cy="1745.38" r="2.4" fill="#ed2024"/>
<circle cx="1073.49" cy="1748.9" r="2.4" fill="#ed2024"/>
<circle cx="1074.48" cy="1748.9" r="2.4" fill="#ed2024"/>
<circle cx="1075.48" cy="1748.9" r="2.4" fill="#ed2024"/>
<circle cx="1076.47" cy="1748.9" r="2.4" fill="#ed2024"/>
<circle cx="1077.47" cy="1748.9" r="2.4" fill="#ed2024"/>
<circle cx="1078.47" cy="1748.9" r="2.4" fill="#ed2024"/>
<circle cx="1079.46" cy="1748.9" r="2.4" fill="#ed2024"/>
<circle cx="1080.46" cy="1748.9" r="2.4" fill="#ed2024"/>
<circle cx="1081.45" cy="1748.9" r="2.4" fill="#ed2024"/>
<circle cx="1082.45" cy="1748.9" r="2.4" fill="#ed2024"/>
<circle cx="1083.44" cy="1748.9" r="2.4" fill="#ed2024"/>
<circle cx="1084.44" cy="1748.9" r="2.4" fill="#ed2024"/>
<circle cx="1085.44" cy="1748.9" r="2.4" fill="#ed2024"/>
<circle cx="1086.43" cy="1748.9" r="2.4" fill="#ed2024"/>
<circle cx="1087.43" cy="1748.9" r="2.4" fill="#ed2024"/>
<circle cx="1088.42" cy="1748.9" r="2.4" fill="#ed2024"/>
<circle cx="1089.42" cy="1748.9" r="2.4" fill="#ed2024"/>
<circle cx="1090.41" cy="1748.9" r="2.4" fill="#ed2024"/>
<circle cx="1091.41" cy="1748.9" r="2.4" fill="#ed2024"/>
<circle cx="1092.41" cy="1748.9" r="2.4" fill="#ed2024"/>
<circle cx="1093.4" cy="1748.9" r="2.4" fill="#ed2024"/>
<circle cx="1094.4" cy="1748.9" r="2.4" fill="#ed2024"/>
<circle cx="1095.39" cy="1748.9" r="2.4" fill="#ed2024"/>
<circle cx="1096.39" cy="1748.9" r="2.4" fill="#ed2024"/>
<circle cx="1097.38" cy="1748.9" r="2.4" fill="#ed2024"/>
<circle cx="1098.38" cy="1748.9" r="2.4" fill="#ed2024"/>
<circle cx="1099.38" cy="1748.9" r="2.4" fill="#ed2024"/>
<circle cx="1100.37" cy="1748.9" r="2.4" fill="#ed2024"/>
<circle cx="1101.37" cy="1748.9" r="2.4" fill="#ed2024"/>
<circle cx="1102.36" cy="1748.9" r="2.4" fill="#ed2024"/>
<circle cx="1103.36" cy="1748.9" r="2.4" fill="#ed2024"/>
<circle cx="1104.35" cy="1748.9" r="2.4" fill="#ed2024"/>
<circle cx="1105.35" cy="1748.9" r="2.4" fill="#ed2024"/>
<circle cx="1106.35" cy="1748.9" r="2.4" fill="#ed2024"/>
<circle cx="1107.34" cy="1748.9" r="2.4" fill="#ed2024"/>
<circle cx="1108.34" cy="1748.9" r="2.4" fill="#ed2024"/>
<circle cx="1109.33" cy="1748.9" r="2.4" fill="#ed2024"/>
<circle cx="1110.33" cy="1748.9" r="2.4" fill="#ed2024"/>
<circle cx="1111.32" cy="1748.9" r="2.4" fill="#ed2024"/>
<circle cx="1112.32" cy="1748.9" r="2.4" fill="#ed2024"/>
<circle cx="1113.32" cy="1748.9" r="2.4" fill="#ed2024"/>
<circle cx="1114.31" cy="1748.9" r="2.4" fill="#ed2024"/>
<circle cx="1115.31" cy="1748.9" r="2.4" fill="#ed2024"/>
<circle cx="1116.3" cy="1748.9" r="2.4" fill="#ed2024"/>
<circle cx="1117.3" cy="1748.9" r="2.4" fill="#ed2024"/>
<circle cx="1118.29" cy="1748.9" r="2.4" fill="#ed2024"/>
<circle cx="1119.29" cy="1748.9" r="2.4" fill="#ed2024"/>
<circle cx="1120.29" cy="1748.9" r="2.4" fill="#ed2024"/>
<circle cx="1121.28" cy="1748.9" r="2.4" fill="#ed2024"/>
<circle cx="1122.28" cy="1748.9" r="2.4" fill="#ed2024"/>
<circle cx="1123.27" cy="1748.9" r="2.4" fill="#ed2024"/>
<circle cx="1124.27" cy="1748.9" r="2.4" fill="#ed2024"/>
<circle cx="1125.26" cy="1748.9" r="2.4" fill="#ed2024"/>
<circle cx="1126.26" cy="1748.9" r="2.4" fill="#ed2024"/>
<circle cx="1127.26" cy="1748.9" r="2.4" fill="#ed2024"/>
<circle cx="1128.25" cy="1748.9" r="2.4" fill="#ed2024"/>
<circle cx="1129.25" cy="1748.9" r="2.4" fill="#ed2024"/>
<circle cx="1130.24" cy="1748.9" r="2.4" fill="#ed2024"/>
<circle cx="1131.24" cy="1748.9" r="2.4" fill="#ed2024"/>
<circle cx="1132.23" cy="1748.9" r="2.4" fill="#ed2024"/>
<circle cx="1133.23" cy="1748.9" r="2.4" fill="#ed2024"/>
<circle cx="1134.23" cy="1748.9" r="2.4" fill="#ed2024"/>
<circle cx="1135.22" cy="1748.9" r="2.4" fill="#ed2024"/>
<circle cx="1136.22" cy="1748.9" r="2.4" fill="#ed2024"/>
<circle cx="1137.21" cy="1748.9" r="2.4" fill="#ed2024"/>
<circle cx="1138.21" cy="1748.9" r="2.4" fill="#ed2024"/>
<circle cx="1139.2" cy="1748.9" r="2.4" fill="#ed2024"/>
<circle cx="1140.2" cy="1748.9" r="2.4" fill="#ed2024"/>
<circle cx="1141.2" cy="1748.9" r="2.4" fill="#ed2024"/>
<circle cx="1142.19" cy="1748.9" r="2.4" fill="#ed2024"/>
<circle cx="1143.19" cy="1748.9" r="2.4" fill="#ed2024"/>
<circle cx="1144.18" cy="1748.9" r="2.4" fill="#ed2024"/>
<circle cx="1145.18" cy="1748.9" r="2.4" fill="#ed2024"/>
<circle cx="1146.17" cy="1748.9" r="2.4" fill="#ed2024"/>
<circle cx="1147.17" cy="1748.9" r="2.4" fill="#ed2024"/>
<circle cx="1148.17" cy="1748.9" r="2.4" fill="#ed2024"/>
<circle cx="1149.16" cy="1748.9" r="2.4" fill="#ed2024"/>
<circle cx="1150.16" cy="1748.9" r="2.4" fill="#ed2024"/>
<circle cx="1151.15" cy="1748.9" r="2.4" fill="#ed2024"/>
<circle cx="1152.15" cy="1748.9" r="2.4" fill="#ed2024"/>
<circle cx="1153.14" cy="1748.9" r="2.4" fill="#ed2024"/>
<circle cx="1154.14" cy="1748.9" r="2.4" fill="#ed2024"/>
<circle cx="1155.14" cy="1748.9" r="2.4" fill="#ed2024"/>
<circle cx="1156.13" cy="1748.9" r="2.4" fill="#ed2024"/>
<circle cx="1157.13" cy="1748.54" r="2.4" fill="#ed2024"/>
<circle cx="1158.12" cy="1748.54" r="2.4" fill="#ed2024"/>
<circle cx="1159.12" cy="1748.54" r="2.4" fill="#ed2024"/>
<circle cx="1160.11" cy="1748.54" r="2.4" fill="#ed2024"/>
<circle cx="1161.11" cy="1748.54" r="2.4" fill="#ed2024"/>
<circle cx="1162.11" cy="1751.07" r="2.4" fill="#ed2024"/>
<circle cx="1163.1" cy="1751.07" r="2.4" fill="#ed2024"/>
<circle cx="1164.1" cy="1751.07" r="2.4" fill="#ed2024"/>
<circle cx="1165.09" cy="1751.07" r="2.4" fill="#ed2024"/>
<circle cx="1166.09" cy="1751.07" r="2.4" fill="#ed2024"/>
<circle cx="1167.08" cy="1751.07" r="2.4" fill="#ed2024"/>
<circle cx="1168.08" cy="1751.07" r="2.4" fill="#ed2024"/>
<circle cx="1169.08" cy="1751.07" r="2.4" fill="#ed2024"/>
<circle cx="1170.07" cy="1751.07" r="2.4" fill="#ed2024"/>
<circle cx="1171.07" cy="1751.07" r="2.4" fill="#ed2024"/>
<circle cx="1172.06" cy="1751.07" r="2.4" fill="#ed2024"/>
<circle cx="1173.06" cy="1751.07" r="2.4" fill="#ed2024"/>
<circle cx="1174.05" cy="1751.07" r="2.4" fill="#ed2024"/>
<circle cx="1175.05" cy="1751.07" r="2.4" fill="#ed2024"/>
<circle cx="1176.05" cy="1751.07" r="2.4" fill="#ed2024"/>
<circle cx="1177.04" cy="1751.07" r="2.4" fill="#ed2024"/>
<circle cx="1178.04" cy="1751.07" r="2.4" fill="#ed2024"/>
<circle cx="1179.03" cy="1751.07" r="2.4" fill="#ed2024"/>
<circle cx="1180.03" cy="1751.07" r="2.4" fill="#ed2024"/>
<circle cx="1181.02" cy="1751.07" r="2.4" fill="#ed2024"/>
<circle cx="1182.02" cy="1751.07" r="2.4" fill="#ed2024"/>
<circle cx="1183.02" cy="1751.07" r="2.4" fill="#ed2024"/>
<circle cx="1184.01" cy="1751.07" r="2.4" fill="#ed2024"/>
<circle cx="1185.01" cy="1751.07" r="2.4" fill="#ed2024"/>
<circle cx="1186" cy="1751.07" r="2.4" fill="#ed2024"/>
<circle cx="1187" cy="1751.07" r="2.4" fill="#ed2024"/>
<circle cx="1188" cy="1751.07" r="2.4" fill="#ed2024"/>
<circle cx="1188.99" cy="1751.07" r="2.4" fill="#ed2024"/>
<circle cx="1189.99" cy="1751.07" r="2.4" fill="#ed2024"/>
<circle cx="1190.98" cy="1751.07" r="2.4" fill="#ed2024"/>
<circle cx="1191.98" cy="1751.07" r="2.4" fill="#ed2024"/>
<circle cx="1192.97" cy="1751.07" r="2.4" fill="#ed2024"/>
<circle cx="1193.97" cy="1751.07" r="2.4" fill="#ed2024"/>
<circle cx="1194.97" cy="1751.07" r="2.4" fill="#ed2024"/>
<circle cx="1195.96" cy="1751.07" r="2.4" fill="#ed2024"/>
<circle cx="1196.96" cy="1751.07" r="2.4" fill="#ed2024"/>
<circle cx="1197.95" cy="1751.07" r="2.4" fill="#ed2024"/>
<circle cx="1198.95" cy="1751.07" r="2.4" fill="#ed2024"/>
<circle cx="1199.94" cy="1751.07" r="2.4" fill="#ed2024"/>
<circle cx="1200.94" cy="1751.07" r="2.4" fill="#ed2024"/>
<circle cx="1201.94" cy="1751.07" r="2.4" fill="#ed2024"/>
<circle cx="1202.93" cy="1751.07" r="2.4" fill="#ed2024"/>
<circle cx="1203.93" cy="1751.07" r="2.4" fill="#ed2024"/>
<circle cx="1204.92" cy="1751.07" r="2.4" fill="#ed2024"/>
<circle cx="1205.92" cy="1751.07" r="2.4" fill="#ed2024"/>
<circle cx="1206.91" cy="1751.07" r="2.4" fill="#ed2024"/>
<circle cx="1207.91" cy="1751.07" r="2.4" fill="#ed2024"/>
<circle cx="1208.91" cy="1751.07" r="2.4" fill="#ed2024"/>
<circle cx="1209.9" cy="1751.07" r="2.4" fill="#ed2024"/>
<circle cx="1210.9" cy="1751.07" r="2.4" fill="#ed2024"/>
<circle cx="1211.89" cy="1751.07" r="2.4" fill="#ed2024"/>
<circle cx="1212.89" cy="1751.07" r="2.4" fill="#ed2024"/>
<circle cx="1213.88" cy="1751.07" r="2.4" fill="#ed2024"/>
<circle cx="1214.88" cy="1751.07" r="2.4" fill="#ed2024"/>
<circle cx="1215.88" cy="1751.07" r="2.4" fill="#ed2024"/>
<circle cx="1216.87" cy="1751.07" r="2.4" fill="#ed2024"/>
<circle cx="1217.87" cy="1751.07" r="2.4" fill="#ed2024"/>
<circle cx="1218.86" cy="1751.07" r="2.4" fill="#ed2024"/>
<circle cx="1219.86" cy="1751.07" r="2.4" fill="#ed2024"/>
<circle cx="1220.85" cy="1751.07" r="2.4" fill="#ed2024"/>
<circle cx="1221.85" cy="1751.07" r="2.4" fill="#ed2024"/>
<circle cx="1222.85" cy="1751.07" r="2.4" fill="#ed2024"/>
<circle cx="1223.84" cy="1751.07" r="2.4" fill="#ed2024"/>
<circle cx="1224.84" cy="1751.07" r="2.4" fill="#ed2024"/>
<circle cx="1225.83" cy="1751.07" r="2.4" fill="#ed2024"/>
<circle cx="1226.83" cy="1751.07" r="2.4" fill="#ed2024"/>
<circle cx="1227.82" cy="1751.07" r="2.4" fill="#ed2024"/>
<circle cx="1228.82" cy="1751.07" r="2.4" fill="#ed2024"/>
<circle cx="1229.82" cy="1751.07" r="2.4" fill="#ed2024"/>
<circle cx="1230.81" cy="1751.07" r="2.4" fill="#ed2024"/>
<circle cx="1231.81" cy="1751.07" r="2.4" fill="#ed2024"/>
<circle cx="1232.8" cy="1751.07" r="2.4" fill="#ed2024"/>
<circle cx="1233.8" cy="1751.07" r="2.4" fill="#ed2024"/>
<circle cx="1234.79" cy="1751.07" r="2.4" fill="#ed2024"/>
<circle cx="1235.79" cy="1751.07" r="2.4" fill="#ed2024"/>
<circle cx="1236.79" cy="1751.07" r="2.4" fill="#ed2024"/>
<circle cx="1237.78" cy="1751.07" r="2.4" fill="#ed2024"/>
<circle cx="1238.78" cy="1751.07" r="2.4" fill="#ed2024"/>
<circle cx="1239.77" cy="1750.8" r="2.4" fill="#ed2024"/>
<circle cx="1240.77" cy="1750.8" r="2.4" fill="#ed2024"/>
<circle cx="1241.76" cy="1750.8" r="2.4" fill="#ed2024"/>
<circle cx="1242.76" cy="1750.8" r="2.4" fill="#ed2024"/>
<circle cx="1243.76" cy="1750.8" r="2.4" fill="#ed2024"/>
<circle cx="1244.75" cy="1752.15" r="2.4" fill="#ed2024"/>
<circle cx="1245.75" cy="1752.15" r="2.4" fill="#ed2024"/>
<circle cx="1246.74" cy="1752.15" r="2.4" fill="#ed2024"/>
<circle cx="1247.74" cy="1752.15" r="2.4" fill="#ed2024"/>
<circle cx="1248.73" cy="1752.15" r="2.4" fill="#ed2024"/>
<circle cx="1249.73" cy="1752.15" r="2.4" fill="#ed2024"/>
<circle cx="1250.73" cy="1752.15" r="2.4" fill="#ed2024"/>
<circle cx="1251.72" cy="1752.15" r="2.4" fill="#ed2024"/>
<circle cx="1252.72" cy="1752.15" r="2.4" fill="#ed2024"/>
<circle cx="1253.71" cy="1752.15" r="2.4" fill="#ed2024"/>
<circle cx="1254.71" cy="1752.15" r="2.4" fill="#ed2024"/>
<circle cx="1255.7" cy="1752.15" r="2.4" fill="#ed2024"/>
<circle cx="1256.7" cy="1752.15" r="2.4" fill="#ed2024"/>
<circle cx="1257.7" cy="1752.15" r="2.4" fill="#ed2024"/>
<circle cx="1258.69" cy="1752.15" r="2.4" fill="#ed2024"/>
<circle cx="1259.69" cy="1752.15" r="2.4" fill="#ed2024"/>
<circle cx="1260.68" cy="1752.15" r="2.4" fill="#ed2024"/>
<circle cx="1261.68" cy="1752.15" r="2.4" fill="#ed2024"/>
<circle cx="1262.67" cy="1752.15" r="2.4" fill="#ed2024"/>
<circle cx="1263.67" cy="1752.15" r="2.4" fill="#ed2024"/>
<circle cx="1264.67" cy="1752.15" r="2.4" fill="#ed2024"/>
<circle cx="1265.66" cy="1752.15" r="2.4" fill="#ed2024"/>
<circle cx="1266.66" cy="1752.15" r="2.4" fill="#ed2024"/>
<circle cx="1267.65" cy="1752.15" r="2.4" fill="#ed2024"/>
<circle cx="1268.65" cy="1752.15" r="2.4" fill="#ed2024"/>
<circle cx="1269.64" cy="1752.15" r="2.4" fill="#ed2024"/>
<circle cx="1270.64" cy="1752.15" r="2.4" fill="#ed2024"/>
<circle cx="1271.64" cy="1752.15" r="2.4" fill="#ed2024"/>
<circle cx="1272.63" cy="1752.15" r="2.4" fill="#ed2024"/>
<circle cx="1273.63" cy="1752.15" r="2.4" fill="#ed2024"/>
<circle cx="1274.62" cy="1752.15" r="2.4" fill="#ed2024"/>
<circle cx="1275.62" cy="1752.15" r="2.4" fill="#ed2024"/>
<circle cx="1276.61" cy="1752.15" r="2.4" fill="#ed2024"/>
<circle cx="1277.61" cy="1752.15" r="2.4" fill="#ed2024"/>
<circle cx="1278.61" cy="1752.15" r="2.4" fill="#ed2024"/>
<circle cx="1279.6" cy="1752.15" r="2.4" fill="#ed2024"/>
<circle cx="1280.6" cy="1752.15" r="2.4" fill="#ed2024"/>
<circle cx="1281.59" cy="1752.15" r="2.4" fill="#ed2024"/>
<circle cx="1282.59" cy="1752.15" r="2.4" fill="#ed2024"/>
<circle cx="1283.58" cy="1752.15" r="2.4" fill="#ed2024"/>
<circle cx="1284.58" cy="1752.15" r="2.4" fill="#ed2024"/>
<circle cx="1285.58" cy="1752.15" r="2.4" fill="#ed2024"/>
<circle cx="1286.57" cy="1752.15" r="2.4" fill="#ed2024"/>
<circle cx="1287.57" cy="1752.15" r="2.4" fill="#ed2024"/>
<circle cx="1288.56" cy="1752.15" r="2.4" fill="#ed2024"/>
<circle cx="1289.56" cy="1752.15" r="2.4" fill="#ed2024"/>
<circle cx="1290.55" cy="1752.15" r="2.4" fill="#ed2024"/>
<circle cx="1291.55" cy="1752.15" r="2.4" fill="#ed2024"/>
<circle cx="1292.55" cy="1752.15" r="2.4" fill="#ed2024"/>
<circle cx="1293.54" cy="1752.15" r="2.4" fill="#ed2024"/>
<circle cx="1294.54" cy="1752.15" r="2.4" fill="#ed2024"/>
<circle cx="1295.53" cy="1752.15" r="2.4" fill="#ed2024"/>
<circle cx="1296.53" cy="1752.15" r="2.4" fill="#ed2024"/>
<circle cx="1297.52" cy="1752.15" r="2.4" fill="#ed2024"/>
<circle cx="1298.52" cy="1752.15" r="2.4" fill="#ed2024"/>
<circle cx="1299.52" cy="1752.15" r="2.4" fill="#ed2024"/>
<circle cx="1300.51" cy="1752.15" r="2.4" fill="#ed2024"/>
<circle cx="1301.51" cy="1752.15" r="2.4" fill="#ed2024"/>
<circle cx="1302.5" cy="1752.15" r="2.4" fill="#ed2024"/>
<circle cx="1303.5" cy="1752.15" r="2.4" fill="#ed2024"/>
<circle cx="1304.49" cy="1752.15" r="2.4" fill="#ed2024"/>
<circle cx="1305.49" cy="1752.15" r="2.4" fill="#ed2024"/>
<circle cx="1306.49" cy="1752.15" r="2.4" fill="#ed2024"/>
<circle cx="1307.48" cy="1752.15" r="2.4" fill="#ed2024"/>
<circle cx="1308.48" cy="1752.15" r="2.4" fill="#ed2024"/>
<circle cx="1309.47" cy="1752.15" r="2.4" fill="#ed2024"/>
<circle cx="1310.47" cy="1752.15" r="2.4" fill="#ed2024"/>
<circle cx="1311.46" cy="1752.15" r="2.4" fill="#ed2024"/>
<circle cx="1312.46" cy="1752.15" r="2.4" fill="#ed2024"/>
<circle cx="1313.46" cy="1752.15" r="2.4" fill="#ed2024"/>
<circle cx="1314.45" cy="1752.15" r="2.4" fill="#ed2024"/>
<circle cx="1315.45" cy="1752.15" r="2.4" fill="#ed2024"/>
<circle cx="1316.44" cy="1752.15" r="2.4" fill="#ed2024"/>
<circle cx="1317.44" cy="1752.15" r="2.4" fill="#ed2024"/>
<circle cx="1318.43" cy="1752.15" r="2.4" fill="#ed2024"/>
<circle cx="1319.43" cy="1752.15" r="2.4" fill="#ed2024"/>
<circle cx="1320.43" cy="1752.15" r="2.4" fill="#ed2024"/>
<circle cx="1321.42" cy="1752.42" r="2.4" fill="#ed2024"/>
<circle cx="1322.42" cy="1752.42" r="2.4" fill="#ed2024"/>
<circle cx="1323.41" cy="1752.42" r="2.4" fill="#ed2024"/>
<circle cx="1324.41" cy="1752.42" r="2.4" fill="#ed2024"/>
<circle cx="1325.41" cy="1752.42" r="2.4" fill="#ed2024"/>
<circle cx="1326.4" cy="1752.42" r="2.4" fill="#ed2024"/>
<circle cx="1327.4" cy="1752.42" r="2.4" fill="#ed2024"/>
<circle cx="1328.39" cy="1752.42" r="2.4" fill="#ed2024"/>
<circle cx="1329.39" cy="1752.42" r="2.4" fill="#ed2024"/>
<circle cx="1330.38" cy="1752.42" r="2.4" fill="#ed2024"/>
<circle cx="1331.38" cy="1752.42" r="2.4" fill="#ed2024"/>
<circle cx="1332.38" cy="1752.43" r="2.4" fill="#ed2024"/>
<circle cx="1333.37" cy="1752.43" r="2.4" fill="#ed2024"/>
<circle cx="1334.37" cy="1752.43" r="2.4" fill="#ed2024"/>
<circle cx="1335.36" cy="1752.43" r="2.4" fill="#ed2024"/>
<circle cx="1336.36" cy="1752.43" r="2.4" fill="#ed2024"/>
<circle cx="1337.35" cy="1752.43" r="2.4" fill="#ed2024"/>
<circle cx="1338.35" cy="1752.43" r="2.4" fill="#ed2024"/>
<circle cx="1339.35" cy="1752.43" r="2.4" fill="#ed2024"/>
<circle cx="1340.34" cy="1752.43" r="2.4" fill="#ed2024"/>
<circle cx="1341.34" cy="1752.43" r="2.4" fill="#ed2024"/>
<circle cx="1342.33" cy="1752.43" r="2.4" fill="#ed2024"/>
<circle cx="1343.33" cy="1752.43" r="2.4" fill="#ed2024"/>
<circle cx="1344.32" cy="1752.43" r="2.4" fill="#ed2024"/>
<circle cx="1345.32" cy="1752.43" r="2.4" fill="#ed2024"/>
<circle cx="1346.32" cy="1752.43" r="2.4" fill="#ed2024"/>
<circle cx="1347.31" cy="1752.43" r="2.4" fill="#ed2024"/>
<circle cx="1348.31" cy="1752.43" r="2.4" fill="#ed2024"/>
<circle cx="1349.3" cy="1752.43" r="2.4" fill="#ed2024"/>
<circle cx="1350.3" cy="1752.43" r="2.4" fill="#ed2024"/>
<circle cx="1351.29" cy="1752.43" r="2.4" fill="#ed2024"/>
<circle cx="1352.29" cy="1752.44" r="2.4" fill="#ed2024"/>
<circle cx="1353.29" cy="1752.44" r="2.4" fill="#ed2024"/>
<circle cx="1354.28" cy="1752.44" r="2.4" fill="#ed2024"/>
<circle cx="1355.28" cy="1752.44" r="2.4" fill="#ed2024"/>
<circle cx="1356.27" cy="1752.44" r="2.4" fill="#ed2024"/>
<circle cx="1357.27" cy="1752.44" r="2.4" fill="#ed2024"/>
<circle cx="1358.26" cy="1752.44" r="2.4" fill="#ed2024"/>
<circle cx="1359.26" cy="1752.44" r="2.4" fill="#ed2024"/>
<circle cx="1360.26" cy="1752.44" r="2.4" fill="#ed2024"/>
<circle cx="1361.25" cy="1752.44" r="2.4" fill="#ed2024"/>
<circle cx="1362.25" cy="1752.44" r="2.4" fill="#ed2024"/>
<circle cx="1363.24" cy="1752.44" r="2.4" fill="#ed2024"/>
<circle cx="1364.24" cy="1752.44" r="2.4" fill="#ed2024"/>
<circle cx="1365.23" cy="1752.44" r="2.4" fill="#ed2024"/>
<circle cx="1366.23" cy="1752.44" r="2.4" fill="#ed2024"/>
<circle cx="1367.23" cy="1752.44" r="2.4" fill="#ed2024"/>
<circle cx="1368.22" cy="1752.44" r="2.4" fill="#ed2024"/>
<circle cx="1369.22" cy="1752.44" r="2.4" fill="#ed2024"/>
<circle cx="1370.21" cy="1752.44" r="2.4" fill="#ed2024"/>
<circle cx="1371.21" cy="1752.44" r="2.4" fill="#ed2024"/>
<circle cx="1372.2" cy="1752.45" r="2.4" fill="#ed2024"/>
<circle cx="1373.2" cy="1752.45" r="2.4" fill="#ed2024"/>
<circle cx="1374.2" cy="1752.45" r="2.4" fill="#ed2024"/>
<circle cx="1375.19" cy="1752.45" r="2.4" fill="#ed2024"/>
<circle cx="1376.19" cy="1752.45" r="2.4" fill="#ed2024"/>
<circle cx="1377.18" cy="1752.45" r="2.4" fill="#ed2024"/>
<circle cx="1378.18" cy="1752.45" r="2.4" fill="#ed2024"/>
<circle cx="1379.17" cy="1752.45" r="2.4" fill="#ed2024"/>
<circle cx="1380.17" cy="1752.45" r="2.4" fill="#ed2024"/>
<circle cx="1381.17" cy="1752.45" r="2.4" fill="#ed2024"/>
<circle cx="1382.16" cy="1752.45" r="2.4" fill="#ed2024"/>
<circle cx="1383.16" cy="1752.45" r="2.4" fill="#ed2024"/>
<circle cx="1384.15" cy="1752.45" r="2.4" fill="#ed2024"/>
<circle cx="1385.15" cy="1752.45" r="2.4" fill="#ed2024"/>
<circle cx="1386.14" cy="1752.45" r="2.4" fill="#ed2024"/>
<circle cx="1387.14" cy="1752.45" r="2.4" fill="#ed2024"/>
<circle cx="1388.14" cy="1752.45" r="2.4" fill="#ed2024"/>
<circle cx="1389.13" cy="1752.45" r="2.4" fill="#ed2024"/>
<circle cx="1390.13" cy="1752.45" r="2.4" fill="#ed2024"/>
<circle cx="1391.12" cy="1752.45" r="2.4" fill="#ed2024"/>
<circle cx="1392.12" cy="1752.45" r="2.4" fill="#ed2024"/>
<circle cx="1393.11" cy="1752.46" r="2.4" fill="#ed2024"/>
<circle cx="1394.11" cy="1752.46" r="2.4" fill="#ed2024"/>
<circle cx="1395.11" cy="1752.46" r="2.4" fill="#ed2024"/>
<circle cx="1396.1" cy="1752.46" r="2.4" fill="#ed2024"/>
<circle cx="1397.1" cy="1752.46" r="2.4" fill="#ed2024"/>
<circle cx="1398.09" cy="1752.46" r="2.4" fill="#ed2024"/>
<circle cx="1399.09" cy="1752.46" r="2.4" fill="#ed2024"/>
<circle cx="1400.08" cy="1752.46" r="2.4" fill="#ed2024"/>
<circle cx="1401.08" cy="1752.46" r="2.4" fill="#ed2024"/>
<circle cx="1402.08" cy="1752.46" r="2.4" fill="#ed2024"/>
<circle cx="1403.07" cy="1752.46" r="2.4" fill="#ed2024"/>
<circle cx="1404.07" cy="1752.46" r="2.4" fill="#ed2024"/>
<circle cx="1405.06" cy="1752.46" r="2.4" fill="#ed2024"/>
<circle cx="1406.06" cy="1752.46" r="2.4" fill="#ed2024"/>
<circle cx="1407.05" cy="1752.46" r="2.4" fill="#ed2024"/>
<circle cx="1408.05" cy="1752.46" r="2.4" fill="#ed2024"/>
<circle cx="1409.05" cy="1752.46" r="2.4" fill="#ed2024"/>
<circle cx="1410.04" cy="1752.46" r="2.4" fill="#ed2024"/>
<circle cx="1411.04" cy="1752.46" r="2.4" fill="#ed2024"/>
<circle cx="1412.03" cy="1752.46" r="2.4" fill="#ed2024"/>
<circle cx="1413.03" cy="1752.47" r="2.4" fill="#ed2024"/>
<circle cx="1414.02" cy="1752.47" r="2.4" fill="#ed2024"/>
<circle cx="1415.02" cy="1752.47" r="2.4" fill="#ed2024"/>
<circle cx="1416.02" cy="1752.47" r="2.4" fill="#ed2024"/>
<circle cx="1417.01" cy="1752.47" r="2.4" fill="#ed2024"/>
<circle cx="1418.01" cy="1752.47" r="2.4" fill="#ed2024"/>
<circle cx="1419" cy="1752.47" r="2.4" fill="#ed2024"/>
<circle cx="1420" cy="1752.47" r="2.4" fill="#ed2024"/>
<circle cx="1420.99" cy="1752.47" r="2.4" fill="#ed2024"/>
<circle cx="1421.99" cy="1752.47" r="2.4" fill="#ed2024"/>
<circle cx="1422.99" cy="1752.47" r="2.4" fill="#ed2024"/>
<circle cx="1423.98" cy="1752.47" r="2.4" fill="#ed2024"/>
<circle cx="1424.98" cy="1752.47" r="2.4" fill="#ed2024"/>
<circle cx="1425.97" cy="1752.47" r="2.4" fill="#ed2024"/>
<circle cx="1426.97" cy="1752.47" r="2.4" fill="#ed2024"/>
<circle cx="1427.96" cy="1752.47" r="2.4" fill="#ed2024"/>
<circle cx="1428.96" cy="1752.47" r="2.4" fill="#ed2024"/>
<circle cx="1429.96" cy="1752.47" r="2.4" fill="#ed2024"/>
<circle cx="1430.95" cy="1752.47" r="2.4" fill="#ed2024"/>
<circle cx="1431.95" cy="1752.47" r="2.4" fill="#ed2024"/>
<circle cx="1432.94" cy="1752.48" r="2.4" fill="#ed2024"/>
<circle cx="1433.94" cy="1752.48" r="2.4" fill="#ed2024"/>
<circle cx="1434.93" cy="1752.48" r="2.4" fill="#ed2024"/>
<circle cx="1435.93" cy="1752.48" r="2.4" fill="#ed2024"/>
<circle cx="1436.93" cy="1752.48" r="2.4" fill="#ed2024"/>
<circle cx="1437.92" cy="1752.48" r="2.4" fill="#ed2024"/>
<circle cx="1438.92" cy="1752.48" r="2.4" fill="#ed2024"/>
<circle cx="1439.91" cy="1752.48" r="2.4" fill="#ed2024"/>
<circle cx="1440.91" cy="1752.48" r="2.4" fill="#ed2024"/>
<circle cx="1441.9" cy="1752.48" r="2.4" fill="#ed2024"/>
<circle cx="1442.9" cy="1752.48" r="2.4" fill="#ed2024"/>
<circle cx="1443.9" cy="1752.48" r="2.4" fill="#ed2024"/>
<circle cx="1444.89" cy="1752.48" r="2.4" fill="#ed2024"/>
<circle cx="1445.89" cy="1752.48" r="2.4" fill="#ed2024"/>
<circle cx="1446.88" cy="1752.48" r="2.4" fill="#ed2024"/>
<circle cx="1447.88" cy="1752.48" r="2.4" fill="#ed2024"/>
<circle cx="1448.87" cy="1752.48" r="2.4" fill="#ed2024"/>
<circle cx="1449.87" cy="1752.48" r="2.4" fill="#ed2024"/>
<circle cx="1450.87" cy="1752.48" r="2.4" fill="#ed2024"/>
<circle cx="1451.86" cy="1752.48" r="2.4" fill="#ed2024"/>
<circle cx="1452.86" cy="1752.49" r="2.4" fill="#ed2024"/>
<circle cx="1453.85" cy="1752.49" r="2.4" fill="#ed2024"/>
<circle cx="1454.85" cy="1752.49" r="2.4" fill="#ed2024"/>
<circle cx="1455.84" cy="1752.49" r="2.4" fill="#ed2024"/>
<circle cx="1456.84" cy="1752.49" r="2.4" fill="#ed2024"/>
<circle cx="1457.84" cy="1752.49" r="2.4" fill="#ed2024"/>
<circle cx="1458.83" cy="1752.49" r="2.4" fill="#ed2024"/>
<circle cx="1459.83" cy="1752.49" r="2.4" fill="#ed2024"/>
<circle cx="1460.82" cy="1752.49" r="2.4" fill="#ed2024"/>
<circle cx="1461.82" cy="1752.49" r="2.4" fill="#ed2024"/>
<circle cx="1462.82" cy="1752.49" r="2.4" fill="#ed2024"/>
<circle cx="1463.81" cy="1752.49" r="2.4" fill="#ed2024"/>
<circle cx="1464.81" cy="1752.49" r="2.4" fill="#ed2024"/>
<circle cx="1465.8" cy="1752.49" r="2.4" fill="#ed2024"/>
<circle cx="1466.8" cy="1752.49" r="2.4" fill="#ed2024"/>
<circle cx="1467.79" cy="1752.49" r="2.4" fill="#ed2024"/>
<circle cx="1468.79" cy="1752.49" r="2.4" fill="#ed2024"/>
<circle cx="1469.79" cy="1752.49" r="2.4" fill="#ed2024"/>
<circle cx="1470.78" cy="1752.49" r="2.4" fill="#ed2024"/>
<circle cx="1471.78" cy="1752.49" r="2.4" fill="#ed2024"/>
<circle cx="1472.77" cy="1752.5" r="2.4" fill="#ed2024"/>
<circle cx="1473.77" cy="1752.5" r="2.4" fill="#ed2024"/>
<circle cx="1474.76" cy="1752.5" r="2.4" fill="#ed2024"/>
<circle cx="1475.76" cy="1752.5" r="2.4" fill="#ed2024"/>
<circle cx="1476.76" cy="1752.5" r="2.4" fill="#ed2024"/>
<circle cx="1477.75" cy="1752.5" r="2.4" fill="#ed2024"/>
<circle cx="1478.75" cy="1752.5" r="2.4" fill="#ed2024"/>
<circle cx="1479.74" cy="1752.5" r="2.4" fill="#ed2024"/>
<circle cx="1480.74" cy="1752.5" r="2.4" fill="#ed2024"/>
<circle cx="1481.73" cy="1752.5" r="2.4" fill="#ed2024"/>
<circle cx="1482.73" cy="1752.5" r="2.4" fill="#ed2024"/>
<circle cx="1483.73" cy="1752.5" r="2.4" fill="#ed2024"/>
<circle cx="1484.72" cy="1752.5" r="2.4" fill="#ed2024"/>
<circle cx="1485.72" cy="1752.5" r="2.4" fill="#ed2024"/>
<circle cx="1486.71" cy="1752.5" r="2.4" fill="#ed2024"/>
<circle cx="1487.71" cy="1752.5" r="2.4" fill="#ed2024"/>
<circle cx="1488.7" cy="1752.5" r="2.4" fill="#ed2024"/>
<circle cx="1489.7" cy="1752.5" r="2.4" fill="#ed2024"/>
<circle cx="1490.7" cy="1752.5" r="2.4" fill="#ed2024"/>
<circle cx="1491.69" cy="1752.5" r="2.4" fill="#ed2024"/>
<circle cx="1492.69" cy="1752.51" r="2.4" fill="#ed2024"/>
<circle cx="1493.68" cy="1752.51" r="2.4" fill="#ed2024"/>
<circle cx="1494.68" cy="1752.51" r="2.4" fill="#ed2024"/>
<circle cx="1495.67" cy="1752.51" r="2.4" fill="#ed2024"/>
<circle cx="1496.67" cy="1752.51" r="2.4" fill="#ed2024"/>
<circle cx="1497.67" cy="1752.51" r="2.4" fill="#ed2024"/>
<circle cx="1498.66" cy="1752.51" r="2.4" fill="#ed2024"/>
<circle cx="1499.66" cy="1752.51" r="2.4" fill="#ed2024"/>
<circle cx="1500.65" cy="1752.51" r="2.4" fill="#ed2024"/>
<circle cx="1501.65" cy="1752.51" r="2.4" fill="#ed2024"/>
<circle cx="1502.64" cy="1752.51" r="2.4" fill="#ed2024"/>
<circle cx="1503.64" cy="1752.51" r="2.4" fill="#ed2024"/>
<circle cx="1504.64" cy="1752.51" r="2.4" fill="#ed2024"/>
<circle cx="1505.63" cy="1752.51" r="2.4" fill="#ed2024"/>
<circle cx="1506.63" cy="1752.51" r="2.4" fill="#ed2024"/>
<circle cx="1507.62" cy="1752.51" r="2.4" fill="#ed2024"/>
<circle cx="1508.62" cy="1752.51" r="2.4" fill="#ed2024"/>
<circle cx="1509.61" cy="1752.51" r="2.4" fill="#ed2024"/>
<circle cx="1510.61" cy="1752.51" r="2.4" fill="#ed2024"/>
<circle cx="1511.61" cy="1752.51" r="2.4" fill="#ed2024"/>
<circle cx="1512.6" cy="1752.52" r="2.4" fill="#ed2024"/>
<circle cx="1513.6" cy="1752.52" r="2.4" fill="#ed2024"/>
<circle cx="1514.59" cy="1752.52" r="2.4" fill="#ed2024"/>
<circle cx="1515.59" cy="1752.52" r="2.4" fill="#ed2024"/>
<circle cx="1516.58" cy="1752.52" r="2.4" fill="#ed2024"/>
<circle cx="1517.58" cy="1752.52" r="2.4" fill="#ed2024"/>
<circle cx="1518.58" cy="1752.52" r="2.4" fill="#ed2024"/>
<circle cx="1519.57" cy="1752.52" r="2.4" fill="#ed2024"/>
<circle cx="1520.57" cy="1752.52" r="2.4" fill="#ed2024"/>
<circle cx="1521.56" cy="1752.52" r="2.4" fill="#ed2024"/>
<circle cx="1522.56" cy="1752.52" r="2.4" fill="#ed2024"/>
<circle cx="1523.55" cy="1752.52" r="2.4" fill="#ed2024"/>
<circle cx="1524.55" cy="1752.52" r="2.4" fill="#ed2024"/>
<circle cx="1525.55" cy="1752.52" r="2.4" fill="#ed2024"/>
<circle cx="1526.54" cy="1752.52" r="2.4" fill="#ed2024"/>
<circle cx="1527.54" cy="1752.52" r="2.4" fill="#ed2024"/>
<circle cx="1528.53" cy="1752.52" r="2.4" fill="#ed2024"/>
<circle cx="1529.53" cy="1752.52" r="2.4" fill="#ed2024"/>
<circle cx="1530.52" cy="1752.52" r="2.4" fill="#ed2024"/>
<circle cx="1531.52" cy="1752.52" r="2.4" fill="#ed2024"/>
<circle cx="1532.52" cy="1752.53" r="2.4" fill="#ed2024"/>
<circle cx="1533.51" cy="1752.53" r="2.4" fill="#ed2024"/>
<circle cx="1534.51" cy="1752.53" r="2.4" fill="#ed2024"/>
<circle cx="1535.5" cy="1752.53" r="2.4" fill="#ed2024"/>
<circle cx="1536.5" cy="1752.53" r="2.4" fill="#ed2024"/>
<circle cx="1537.49" cy="1752.53" r="2.4" fill="#ed2024"/>
<circle cx="1538.49" cy="1752.53" r="2.4" fill="#ed2024"/>
<circle cx="1539.49" cy="1752.53" r="2.4" fill="#ed2024"/>
<circle cx="1540.48" cy="1752.53" r="2.4" fill="#ed2024"/>
<circle cx="1541.48" cy="1752.53" r="2.4" fill="#ed2024"/>
<circle cx="1542.47" cy="1752.53" r="2.4" fill="#ed2024"/>
<circle cx="1543.47" cy="1752.53" r="2.4" fill="#ed2024"/>
<circle cx="1544.46" cy="1752.53" r="2.4" fill="#ed2024"/>
<circle cx="1545.46" cy="1752.53" r="2.4" fill="#ed2024"/>
<circle cx="1546.46" cy="1752.53" r="2.4" fill="#ed2024"/>
<circle cx="1547.45" cy="1752.53" r="2.4" fill="#ed2024"/>
<circle cx="1548.45" cy="1752.53" r="2.4" fill="#ed2024"/>
<circle cx="1549.44" cy="1752.53" r="2.4" fill="#ed2024"/>
<circle cx="1550.44" cy="1752.53" r="2.4" fill="#ed2024"/>
<circle cx="1551.43" cy="1752.53" r="2.4" fill="#ed2024"/>
<circle cx="1552.43" cy="1752.54" r="2.4" fill="#ed2024"/>
<circle cx="1553.43" cy="1752.54" r="2.4" fill="#ed2024"/>
<circle cx="1554.42" cy="1752.54" r="2.4" fill="#ed2024"/>
<circle cx="1555.42" cy="1752.54" r="2.4" fill="#ed2024"/>
<circle cx="1556.41" cy="1752.54" r="2.4" fill="#ed2024"/>
<circle cx="1557.41" cy="1752.54" r="2.4" fill="#ed2024"/>
<circle cx="1558.4" cy="1752.54" r="2.4" fill="#ed2024"/>
<circle cx="1559.4" cy="1752.54" r="2.4" fill="#ed2024"/>
<circle cx="1560.4" cy="1752.54" r="2.4" fill="#ed2024"/>
<circle cx="1561.39" cy="1752.54" r="2.4" fill="#ed2024"/>
<circle cx="1562.39" cy="1752.54" r="2.4" fill="#ed2024"/>
<circle cx="1563.38" cy="1752.54" r="2.4" fill="#ed2024"/>
<circle cx="1564.38" cy="1752.54" r="2.4" fill="#ed2024"/>
<circle cx="1565.37" cy="1752.54" r="2.4" fill="#ed2024"/>
<circle cx="1566.37" cy="1752.54" r="2.4" fill="#ed2024"/>
<circle cx="1567.37" cy="1752.54" r="2.4" fill="#ed2024"/>
<circle cx="1568.36" cy="1752.54" r="2.4" fill="#ed2024"/>
<circle cx="1569.36" cy="1752.54" r="2.4" fill="#ed2024"/>
<circle cx="1570.35" cy="1752.54" r="2.4" fill="#ed2024"/>
<circle cx="1571.35" cy="1752.54" r="2.4" fill="#ed2024"/>
<circle cx="1572.34" cy="1752.55" r="2.4" fill="#ed2024"/>
<circle cx="1573.34" cy="1752.55" r="2.4" fill="#ed2024"/>
<circle cx="1574.34" cy="1752.55" r="2.4" fill="#ed2024"/>
<circle cx="1575.33" cy="1752.55" r="2.4" fill="#ed2024"/>
<circle cx="1576.33" cy="1752.55" r="2.4" fill="#ed2024"/>
<circle cx="1577.32" cy="1752.55" r="2.4" fill="#ed2024"/>
<circle cx="1578.32" cy="1752.55" r="2.4" fill="#ed2024"/>
<circle cx="1579.31" cy="1752.55" r="2.4" fill="#ed2024"/>
<circle cx="1580.31" cy="1752.55" r="2.4" fill="#ed2024"/>
<circle cx="1581.31" cy="1752.55" r="2.4" fill="#ed2024"/>
<circle cx="1582.3" cy="1752.55" r="2.4" fill="#ed2024"/>
<circle cx="1583.3" cy="1752.55" r="2.4" fill="#ed2024"/>
<circle cx="1584.29" cy="1752.55" r="2.4" fill="#ed2024"/>
<circle cx="1585.29" cy="1752.55" r="2.4" fill="#ed2024"/>
<circle cx="1586.28" cy="1752.55" r="2.4" fill="#ed2024"/>
<circle cx="1587.28" cy="1752.55" r="2.4" fill="#ed2024"/>
<circle cx="1588.28" cy="1752.55" r="2.4" fill="#ed2024"/>
<circle cx="1589.27" cy="1752.55" r="2.4" fill="#ed2024"/>
<circle cx="1590.27" cy="1752.55" r="2.4" fill="#ed2024"/>
<circle cx="1591.26" cy="1752.55" r="2.4" fill="#ed2024"/>
<circle cx="1592.26" cy="1752.56" r="2.4" fill="#ed2024"/>
<circle cx="1593.25" cy="1752.56" r="2.4" fill="#ed2024"/>
<circle cx="1594.25" cy="1752.56" r="2.4" fill="#ed2024"/>
<circle cx="1595.25" cy="1752.56" r="2.4" fill="#ed2024"/>
<circle cx="1596.24" cy="1752.56" r="2.4" fill="#ed2024"/>
<circle cx="1597.24" cy="1752.56" r="2.4" fill="#ed2024"/>
<circle cx="1598.23" cy="1752.56" r="2.4" fill="#ed2024"/>
<circle cx="1599.23" cy="1752.56" r="2.4" fill="#ed2024"/>
<circle cx="1600.22" cy="1752.56" r="2.4" fill="#ed2024"/>
<circle cx="1601.22" cy="1752.56" r="2.4" fill="#ed2024"/>
<circle cx="1602.22" cy="1752.56" r="2.4" fill="#ed2024"/>
<circle cx="1603.21" cy="1752.56" r="2.4" fill="#ed2024"/>
<circle cx="1604.21" cy="1752.56" r="2.4" fill="#ed2024"/>
<circle cx="1605.2" cy="1752.56" r="2.4" fill="#ed2024"/>
<circle cx="1606.2" cy="1752.56" r="2.4" fill="#ed2024"/>
<circle cx="1607.2" cy="1752.56" r="2.4" fill="#ed2024"/>
<circle cx="1608.19" cy="1752.56" r="2.4" fill="#ed2024"/>
<circle cx="1609.19" cy="1752.56" r="2.4" fill="#ed2024"/>
<circle cx="1610.18" cy="1752.56" r="2.4" fill="#ed2024"/>
<circle cx="1611.18" cy="1752.56" r="2.4" fill="#ed2024"/>
<circle cx="1612.17" cy="1752.57" r="2.4" fill="#ed2024"/>
<circle cx="1613.17" cy="1752.57" r="2.4" fill="#ed2024"/>
<circle cx="1614.17" cy="1752.57" r="2.4" fill="#ed2024"/>
<circle cx="1615.16" cy="1752.57" r="2.4" fill="#ed2024"/>
<circle cx="1616.16" cy="1752.57" r="2.4" fill="#ed2024"/>
<circle cx="1617.15" cy="1752.57" r="2.4" fill="#ed2024"/>
<circle cx="1618.15" cy="1752.57" r="2.4" fill="#ed2024"/>
<circle cx="1619.14" cy="1752.57" r="2.4" fill="#ed2024"/>
<circle cx="1620.14" cy="1752.57" r="2.4" fill="#ed2024"/>
<circle cx="1621.14" cy="1752.57" r="2.4" fill="#ed2024"/>
<circle cx="1622.13" cy="1752.57" r="2.4" fill="#ed2024"/>
<circle cx="1623.13" cy="1752.57" r="2.4" fill="#ed2024"/>
<circle cx="1624.12" cy="1752.57" r="2.4" fill="#ed2024"/>
<circle cx="1625.12" cy="1752.57" r="2.4" fill="#ed2024"/>
<circle cx="1626.11" cy="1752.57" r="2.4" fill="#ed2024"/>
<circle cx="1627.11" cy="1752.57" r="2.4" fill="#ed2024"/>
<circle cx="1628.11" cy="1752.57" r="2.4" fill="#ed2024"/>
<circle cx="1629.1" cy="1752.57" r="2.4" fill="#ed2024"/>
<circle cx="1630.1" cy="1752.57" r="2.4" fill="#ed2024"/>
<circle cx="1631.09" cy="1752.57" r="2.4" fill="#ed2024"/>
<circle cx="1632.09" cy="1752.58" r="2.4" fill="#ed2024"/>
<circle cx="1633.08" cy="1752.58" r="2.4" fill="#ed2024"/>
<circle cx="1634.08" cy="1752.58" r="2.4" fill="#ed2024"/>
<circle cx="1635.08" cy="1752.58" r="2.4" fill="#ed2024"/>
<circle cx="1636.07" cy="1752.58" r="2.4" fill="#ed2024"/>
<circle cx="1637.07" cy="1752.58" r="2.4" fill="#ed2024"/>
<circle cx="1638.06" cy="1752.58" r="2.4" fill="#ed2024"/>
<circle cx="1639.06" cy="1752.58" r="2.4" fill="#ed2024"/>
<circle cx="1640.05" cy="1752.58" r="2.4" fill="#ed2024"/>
<circle cx="1641.05" cy="1752.58" r="2.4" fill="#ed2024"/>
<circle cx="1642.05" cy="1752.58" r="2.4" fill="#ed2024"/>
<circle cx="1643.04" cy="1752.58" r="2.4" fill="#ed2024"/>
<circle cx="1644.04" cy="1752.58" r="2.4" fill="#ed2024"/>
<circle cx="1645.03" cy="1752.58" r="2.4" fill="#ed2024"/>
<circle cx="1646.03" cy="1752.58" r="2.4" fill="#ed2024"/>
<circle cx="1647.02" cy="1752.58" r="2.4" fill="#ed2024"/>
<circle cx="1648.02" cy="1752.58" r="2.4" fill="#ed2024"/>
<circle cx="1649.02" cy="1752.58" r="2.4" fill="#ed2024"/>
<circle cx="1650.01" cy="1752.58" r="2.4" fill="#ed2024"/>
<circle cx="1651.01" cy="1752.58" r="2.4" fill="#ed2024"/>
<circle cx="1652" cy="1752.59" r="2.4" fill="#ed2024"/>
<circle cx="1653" cy="1752.59" r="2.4" fill="#ed2024"/>
<circle cx="1653.99" cy="1752.59" r="2.4" fill="#ed2024"/>
<circle cx="1654.99" cy="1752.59" r="2.4" fill="#ed2024"/>
<circle cx="1655.99" cy="1752.59" r="2.4" fill="#ed2024"/>
<circle cx="1656.98" cy="1752.59" r="2.4" fill="#ed2024"/>
<circle cx="1657.98" cy="1752.59" r="2.4" fill="#ed2024"/>
<circle cx="1658.97" cy="1752.59" r="2.4" fill="#ed2024"/>
<circle cx="1659.97" cy="1752.59" r="2.4" fill="#ed2024"/>
<circle cx="1660.96" cy="1752.59" r="2.4" fill="#ed2024"/>
<circle cx="1661.96" cy="1752.59" r="2.4" fill="#ed2024"/>
<circle cx="1662.96" cy="1752.59" r="2.4" fill="#ed2024"/>
<circle cx="1663.95" cy="1752.59" r="2.4" fill="#ed2024"/>
<circle cx="1664.95" cy="1752.59" r="2.4" fill="#ed2024"/>
<circle cx="1665.94" cy="1752.59" r="2.4" fill="#ed2024"/>
<circle cx="1666.94" cy="1752.59" r="2.4" fill="#ed2024"/>
<circle cx="1667.93" cy="1752.59" r="2.4" fill="#ed2024"/>
<circle cx="1668.93" cy="1752.59" r="2.4" fill="#ed2024"/>
<circle cx="1669.93" cy="1752.59" r="2.4" fill="#ed2024"/>
<circle cx="1670.92" cy="1752.59" r="2.4" fill="#ed2024"/>
<circle cx="1671.92" cy="1752.6" r="2.4" fill="#ed2024"/>
<circle cx="1672.91" cy="1752.6" r="2.4" fill="#ed2024"/>
<circle cx="1673.91" cy="1752.6" r="2.4" fill="#ed2024"/>
<circle cx="1674.9" cy="1752.6" r="2.4" fill="#ed2024"/>
<circle cx="1675.9" cy="1752.6" r="2.4" fill="#ed2024"/>
<circle cx="1676.9" cy="1752.6" r="2.4" fill="#ed2024"/>
<circle cx="1677.89" cy="1752.6" r="2.4" fill="#ed2024"/>
<circle cx="1678.89" cy="1752.6" r="2.4" fill="#ed2024"/>
<circle cx="1679.88" cy="1752.6" r="2.4" fill="#ed2024"/>
<circle cx="1680.88" cy="1752.6" r="2.4" fill="#ed2024"/>
<circle cx="1681.87" cy="1752.6" r="2.4" fill="#ed2024"/>
</g>
<g clip-path="url(#c12L)">
<polyline points="988.5,1976.38 996,1969.18 1070.3,1969.18 1076.6,1960.65 1154,1960.65 1160.3,1952.11 1235.5,1952.11 1241.8,1943.58 1319.2,1943.58 1325.5,1935.05 1400.3,1935.05 1406.6,1926.51 1482.9,1926.51 1489.2,1917.98 1566.6,1917.98 1572.9,1909.44 1649.2,1909.44 1655.5,1900.91 1665,1900.91" fill="none" stroke="#1a2430" stroke-width="6.6" stroke-linecap="round" stroke-linejoin="round"/>
<circle cx="1668.5" cy="1900.91" r="3.1" fill="#1a2430"/>
<circle cx="1671.5" cy="1900.91" r="3.1" fill="#1a2430"/>
<circle cx="1674.8" cy="1900.91" r="3.1" fill="#1a2430"/>
</g>
<line x1="271" y1="263" x2="271" y2="276.8" stroke="#19212b" stroke-width="3.4"/>
<line x1="547.5" y1="263" x2="547.5" y2="276.8" stroke="#19212b" stroke-width="3.4"/>
<line x1="824" y1="263" x2="824" y2="276.8" stroke="#19212b" stroke-width="3.4"/>
<line x1="187.77" y1="263" x2="187.77" y2="270.7" stroke="#19212b" stroke-width="2.6"/>
<line x1="209.66" y1="263" x2="209.66" y2="270.7" stroke="#19212b" stroke-width="2.6"/>
<line x1="228.17" y1="263" x2="228.17" y2="270.7" stroke="#19212b" stroke-width="2.6"/>
<line x1="244.2" y1="263" x2="244.2" y2="270.7" stroke="#19212b" stroke-width="2.6"/>
<line x1="258.35" y1="263" x2="258.35" y2="270.7" stroke="#19212b" stroke-width="2.6"/>
<line x1="354.23" y1="263" x2="354.23" y2="270.7" stroke="#19212b" stroke-width="2.6"/>
<line x1="402.92" y1="263" x2="402.92" y2="270.7" stroke="#19212b" stroke-width="2.6"/>
<line x1="437.47" y1="263" x2="437.47" y2="270.7" stroke="#19212b" stroke-width="2.6"/>
<line x1="464.27" y1="263" x2="464.27" y2="270.7" stroke="#19212b" stroke-width="2.6"/>
<line x1="486.16" y1="263" x2="486.16" y2="270.7" stroke="#19212b" stroke-width="2.6"/>
<line x1="504.67" y1="263" x2="504.67" y2="270.7" stroke="#19212b" stroke-width="2.6"/>
<line x1="520.7" y1="263" x2="520.7" y2="270.7" stroke="#19212b" stroke-width="2.6"/>
<line x1="534.85" y1="263" x2="534.85" y2="270.7" stroke="#19212b" stroke-width="2.6"/>
<line x1="630.73" y1="263" x2="630.73" y2="270.7" stroke="#19212b" stroke-width="2.6"/>
<line x1="679.42" y1="263" x2="679.42" y2="270.7" stroke="#19212b" stroke-width="2.6"/>
<line x1="713.97" y1="263" x2="713.97" y2="270.7" stroke="#19212b" stroke-width="2.6"/>
<line x1="740.77" y1="263" x2="740.77" y2="270.7" stroke="#19212b" stroke-width="2.6"/>
<line x1="762.66" y1="263" x2="762.66" y2="270.7" stroke="#19212b" stroke-width="2.6"/>
<line x1="781.17" y1="263" x2="781.17" y2="270.7" stroke="#19212b" stroke-width="2.6"/>
<line x1="797.2" y1="263" x2="797.2" y2="270.7" stroke="#19212b" stroke-width="2.6"/>
<line x1="811.35" y1="263" x2="811.35" y2="270.7" stroke="#19212b" stroke-width="2.6"/>
<line x1="907.23" y1="263" x2="907.23" y2="270.7" stroke="#19212b" stroke-width="2.6"/>
<line x1="174.4" y1="263" x2="188.2" y2="263" stroke="#19212b" stroke-width="3.4"/>
<line x1="174.4" y1="90.1" x2="188.2" y2="90.1" stroke="#19212b" stroke-width="3.4"/>
<rect x="188.2" y="85.7" width="737.1" height="177.3" fill="none" stroke="#19212b" stroke-width="3.5" stroke-linejoin="miter"/>
<line x1="271" y1="489" x2="271" y2="502.8" stroke="#19212b" stroke-width="3.4"/>
<line x1="547.5" y1="489" x2="547.5" y2="502.8" stroke="#19212b" stroke-width="3.4"/>
<line x1="824" y1="489" x2="824" y2="502.8" stroke="#19212b" stroke-width="3.4"/>
<line x1="187.77" y1="489" x2="187.77" y2="496.7" stroke="#19212b" stroke-width="2.6"/>
<line x1="209.66" y1="489" x2="209.66" y2="496.7" stroke="#19212b" stroke-width="2.6"/>
<line x1="228.17" y1="489" x2="228.17" y2="496.7" stroke="#19212b" stroke-width="2.6"/>
<line x1="244.2" y1="489" x2="244.2" y2="496.7" stroke="#19212b" stroke-width="2.6"/>
<line x1="258.35" y1="489" x2="258.35" y2="496.7" stroke="#19212b" stroke-width="2.6"/>
<line x1="354.23" y1="489" x2="354.23" y2="496.7" stroke="#19212b" stroke-width="2.6"/>
<line x1="402.92" y1="489" x2="402.92" y2="496.7" stroke="#19212b" stroke-width="2.6"/>
<line x1="437.47" y1="489" x2="437.47" y2="496.7" stroke="#19212b" stroke-width="2.6"/>
<line x1="464.27" y1="489" x2="464.27" y2="496.7" stroke="#19212b" stroke-width="2.6"/>
<line x1="486.16" y1="489" x2="486.16" y2="496.7" stroke="#19212b" stroke-width="2.6"/>
<line x1="504.67" y1="489" x2="504.67" y2="496.7" stroke="#19212b" stroke-width="2.6"/>
<line x1="520.7" y1="489" x2="520.7" y2="496.7" stroke="#19212b" stroke-width="2.6"/>
<line x1="534.85" y1="489" x2="534.85" y2="496.7" stroke="#19212b" stroke-width="2.6"/>
<line x1="630.73" y1="489" x2="630.73" y2="496.7" stroke="#19212b" stroke-width="2.6"/>
<line x1="679.42" y1="489" x2="679.42" y2="496.7" stroke="#19212b" stroke-width="2.6"/>
<line x1="713.97" y1="489" x2="713.97" y2="496.7" stroke="#19212b" stroke-width="2.6"/>
<line x1="740.77" y1="489" x2="740.77" y2="496.7" stroke="#19212b" stroke-width="2.6"/>
<line x1="762.66" y1="489" x2="762.66" y2="496.7" stroke="#19212b" stroke-width="2.6"/>
<line x1="781.17" y1="489" x2="781.17" y2="496.7" stroke="#19212b" stroke-width="2.6"/>
<line x1="797.2" y1="489" x2="797.2" y2="496.7" stroke="#19212b" stroke-width="2.6"/>
<line x1="811.35" y1="489" x2="811.35" y2="496.7" stroke="#19212b" stroke-width="2.6"/>
<line x1="907.23" y1="489" x2="907.23" y2="496.7" stroke="#19212b" stroke-width="2.6"/>
<line x1="174.4" y1="407.1" x2="188.2" y2="407.1" stroke="#19212b" stroke-width="3.4"/>
<line x1="174.4" y1="316.9" x2="188.2" y2="316.9" stroke="#19212b" stroke-width="3.4"/>
<rect x="188.2" y="312.1" width="737.1" height="176.9" fill="none" stroke="#19212b" stroke-width="3.5" stroke-linejoin="miter"/>
<line x1="271" y1="644.9" x2="271" y2="658.7" stroke="#19212b" stroke-width="3.4"/>
<line x1="547.5" y1="644.9" x2="547.5" y2="658.7" stroke="#19212b" stroke-width="3.4"/>
<line x1="824" y1="644.9" x2="824" y2="658.7" stroke="#19212b" stroke-width="3.4"/>
<line x1="187.77" y1="644.9" x2="187.77" y2="652.6" stroke="#19212b" stroke-width="2.6"/>
<line x1="209.66" y1="644.9" x2="209.66" y2="652.6" stroke="#19212b" stroke-width="2.6"/>
<line x1="228.17" y1="644.9" x2="228.17" y2="652.6" stroke="#19212b" stroke-width="2.6"/>
<line x1="244.2" y1="644.9" x2="244.2" y2="652.6" stroke="#19212b" stroke-width="2.6"/>
<line x1="258.35" y1="644.9" x2="258.35" y2="652.6" stroke="#19212b" stroke-width="2.6"/>
<line x1="354.23" y1="644.9" x2="354.23" y2="652.6" stroke="#19212b" stroke-width="2.6"/>
<line x1="402.92" y1="644.9" x2="402.92" y2="652.6" stroke="#19212b" stroke-width="2.6"/>
<line x1="437.47" y1="644.9" x2="437.47" y2="652.6" stroke="#19212b" stroke-width="2.6"/>
<line x1="464.27" y1="644.9" x2="464.27" y2="652.6" stroke="#19212b" stroke-width="2.6"/>
<line x1="486.16" y1="644.9" x2="486.16" y2="652.6" stroke="#19212b" stroke-width="2.6"/>
<line x1="504.67" y1="644.9" x2="504.67" y2="652.6" stroke="#19212b" stroke-width="2.6"/>
<line x1="520.7" y1="644.9" x2="520.7" y2="652.6" stroke="#19212b" stroke-width="2.6"/>
<line x1="534.85" y1="644.9" x2="534.85" y2="652.6" stroke="#19212b" stroke-width="2.6"/>
<line x1="630.73" y1="644.9" x2="630.73" y2="652.6" stroke="#19212b" stroke-width="2.6"/>
<line x1="679.42" y1="644.9" x2="679.42" y2="652.6" stroke="#19212b" stroke-width="2.6"/>
<line x1="713.97" y1="644.9" x2="713.97" y2="652.6" stroke="#19212b" stroke-width="2.6"/>
<line x1="740.77" y1="644.9" x2="740.77" y2="652.6" stroke="#19212b" stroke-width="2.6"/>
<line x1="762.66" y1="644.9" x2="762.66" y2="652.6" stroke="#19212b" stroke-width="2.6"/>
<line x1="781.17" y1="644.9" x2="781.17" y2="652.6" stroke="#19212b" stroke-width="2.6"/>
<line x1="797.2" y1="644.9" x2="797.2" y2="652.6" stroke="#19212b" stroke-width="2.6"/>
<line x1="811.35" y1="644.9" x2="811.35" y2="652.6" stroke="#19212b" stroke-width="2.6"/>
<line x1="907.23" y1="644.9" x2="907.23" y2="652.6" stroke="#19212b" stroke-width="2.6"/>
<line x1="174.4" y1="558.15" x2="188.2" y2="558.15" stroke="#19212b" stroke-width="3.4"/>
<line x1="174.4" y1="614.85" x2="188.2" y2="614.85" stroke="#19212b" stroke-width="3.4"/>
<rect x="188.2" y="538.4" width="737.1" height="106.5" fill="none" stroke="#19212b" stroke-width="3.5" stroke-linejoin="miter"/>
<line x1="271" y1="936" x2="271" y2="949.8" stroke="#19212b" stroke-width="3.4"/>
<line x1="547.5" y1="936" x2="547.5" y2="949.8" stroke="#19212b" stroke-width="3.4"/>
<line x1="824" y1="936" x2="824" y2="949.8" stroke="#19212b" stroke-width="3.4"/>
<line x1="187.77" y1="936" x2="187.77" y2="943.7" stroke="#19212b" stroke-width="2.6"/>
<line x1="209.66" y1="936" x2="209.66" y2="943.7" stroke="#19212b" stroke-width="2.6"/>
<line x1="228.17" y1="936" x2="228.17" y2="943.7" stroke="#19212b" stroke-width="2.6"/>
<line x1="244.2" y1="936" x2="244.2" y2="943.7" stroke="#19212b" stroke-width="2.6"/>
<line x1="258.35" y1="936" x2="258.35" y2="943.7" stroke="#19212b" stroke-width="2.6"/>
<line x1="354.23" y1="936" x2="354.23" y2="943.7" stroke="#19212b" stroke-width="2.6"/>
<line x1="402.92" y1="936" x2="402.92" y2="943.7" stroke="#19212b" stroke-width="2.6"/>
<line x1="437.47" y1="936" x2="437.47" y2="943.7" stroke="#19212b" stroke-width="2.6"/>
<line x1="464.27" y1="936" x2="464.27" y2="943.7" stroke="#19212b" stroke-width="2.6"/>
<line x1="486.16" y1="936" x2="486.16" y2="943.7" stroke="#19212b" stroke-width="2.6"/>
<line x1="504.67" y1="936" x2="504.67" y2="943.7" stroke="#19212b" stroke-width="2.6"/>
<line x1="520.7" y1="936" x2="520.7" y2="943.7" stroke="#19212b" stroke-width="2.6"/>
<line x1="534.85" y1="936" x2="534.85" y2="943.7" stroke="#19212b" stroke-width="2.6"/>
<line x1="630.73" y1="936" x2="630.73" y2="943.7" stroke="#19212b" stroke-width="2.6"/>
<line x1="679.42" y1="936" x2="679.42" y2="943.7" stroke="#19212b" stroke-width="2.6"/>
<line x1="713.97" y1="936" x2="713.97" y2="943.7" stroke="#19212b" stroke-width="2.6"/>
<line x1="740.77" y1="936" x2="740.77" y2="943.7" stroke="#19212b" stroke-width="2.6"/>
<line x1="762.66" y1="936" x2="762.66" y2="943.7" stroke="#19212b" stroke-width="2.6"/>
<line x1="781.17" y1="936" x2="781.17" y2="943.7" stroke="#19212b" stroke-width="2.6"/>
<line x1="797.2" y1="936" x2="797.2" y2="943.7" stroke="#19212b" stroke-width="2.6"/>
<line x1="811.35" y1="936" x2="811.35" y2="943.7" stroke="#19212b" stroke-width="2.6"/>
<line x1="907.23" y1="936" x2="907.23" y2="943.7" stroke="#19212b" stroke-width="2.6"/>
<line x1="174.4" y1="936" x2="188.2" y2="936" stroke="#19212b" stroke-width="3.4"/>
<line x1="174.4" y1="763.1" x2="188.2" y2="763.1" stroke="#19212b" stroke-width="3.4"/>
<rect x="188.2" y="758.7" width="737.1" height="177.3" fill="none" stroke="#19212b" stroke-width="3.5" stroke-linejoin="miter"/>
<line x1="271" y1="1162" x2="271" y2="1175.8" stroke="#19212b" stroke-width="3.4"/>
<line x1="547.5" y1="1162" x2="547.5" y2="1175.8" stroke="#19212b" stroke-width="3.4"/>
<line x1="824" y1="1162" x2="824" y2="1175.8" stroke="#19212b" stroke-width="3.4"/>
<line x1="187.77" y1="1162" x2="187.77" y2="1169.7" stroke="#19212b" stroke-width="2.6"/>
<line x1="209.66" y1="1162" x2="209.66" y2="1169.7" stroke="#19212b" stroke-width="2.6"/>
<line x1="228.17" y1="1162" x2="228.17" y2="1169.7" stroke="#19212b" stroke-width="2.6"/>
<line x1="244.2" y1="1162" x2="244.2" y2="1169.7" stroke="#19212b" stroke-width="2.6"/>
<line x1="258.35" y1="1162" x2="258.35" y2="1169.7" stroke="#19212b" stroke-width="2.6"/>
<line x1="354.23" y1="1162" x2="354.23" y2="1169.7" stroke="#19212b" stroke-width="2.6"/>
<line x1="402.92" y1="1162" x2="402.92" y2="1169.7" stroke="#19212b" stroke-width="2.6"/>
<line x1="437.47" y1="1162" x2="437.47" y2="1169.7" stroke="#19212b" stroke-width="2.6"/>
<line x1="464.27" y1="1162" x2="464.27" y2="1169.7" stroke="#19212b" stroke-width="2.6"/>
<line x1="486.16" y1="1162" x2="486.16" y2="1169.7" stroke="#19212b" stroke-width="2.6"/>
<line x1="504.67" y1="1162" x2="504.67" y2="1169.7" stroke="#19212b" stroke-width="2.6"/>
<line x1="520.7" y1="1162" x2="520.7" y2="1169.7" stroke="#19212b" stroke-width="2.6"/>
<line x1="534.85" y1="1162" x2="534.85" y2="1169.7" stroke="#19212b" stroke-width="2.6"/>
<line x1="630.73" y1="1162" x2="630.73" y2="1169.7" stroke="#19212b" stroke-width="2.6"/>
<line x1="679.42" y1="1162" x2="679.42" y2="1169.7" stroke="#19212b" stroke-width="2.6"/>
<line x1="713.97" y1="1162" x2="713.97" y2="1169.7" stroke="#19212b" stroke-width="2.6"/>
<line x1="740.77" y1="1162" x2="740.77" y2="1169.7" stroke="#19212b" stroke-width="2.6"/>
<line x1="762.66" y1="1162" x2="762.66" y2="1169.7" stroke="#19212b" stroke-width="2.6"/>
<line x1="781.17" y1="1162" x2="781.17" y2="1169.7" stroke="#19212b" stroke-width="2.6"/>
<line x1="797.2" y1="1162" x2="797.2" y2="1169.7" stroke="#19212b" stroke-width="2.6"/>
<line x1="811.35" y1="1162" x2="811.35" y2="1169.7" stroke="#19212b" stroke-width="2.6"/>
<line x1="907.23" y1="1162" x2="907.23" y2="1169.7" stroke="#19212b" stroke-width="2.6"/>
<line x1="174.4" y1="1080.1" x2="188.2" y2="1080.1" stroke="#19212b" stroke-width="3.4"/>
<line x1="174.4" y1="989.9" x2="188.2" y2="989.9" stroke="#19212b" stroke-width="3.4"/>
<rect x="188.2" y="985.1" width="737.1" height="176.9" fill="none" stroke="#19212b" stroke-width="3.5" stroke-linejoin="miter"/>
<line x1="271" y1="1317.9" x2="271" y2="1331.7" stroke="#19212b" stroke-width="3.4"/>
<line x1="547.5" y1="1317.9" x2="547.5" y2="1331.7" stroke="#19212b" stroke-width="3.4"/>
<line x1="824" y1="1317.9" x2="824" y2="1331.7" stroke="#19212b" stroke-width="3.4"/>
<line x1="187.77" y1="1317.9" x2="187.77" y2="1325.6" stroke="#19212b" stroke-width="2.6"/>
<line x1="209.66" y1="1317.9" x2="209.66" y2="1325.6" stroke="#19212b" stroke-width="2.6"/>
<line x1="228.17" y1="1317.9" x2="228.17" y2="1325.6" stroke="#19212b" stroke-width="2.6"/>
<line x1="244.2" y1="1317.9" x2="244.2" y2="1325.6" stroke="#19212b" stroke-width="2.6"/>
<line x1="258.35" y1="1317.9" x2="258.35" y2="1325.6" stroke="#19212b" stroke-width="2.6"/>
<line x1="354.23" y1="1317.9" x2="354.23" y2="1325.6" stroke="#19212b" stroke-width="2.6"/>
<line x1="402.92" y1="1317.9" x2="402.92" y2="1325.6" stroke="#19212b" stroke-width="2.6"/>
<line x1="437.47" y1="1317.9" x2="437.47" y2="1325.6" stroke="#19212b" stroke-width="2.6"/>
<line x1="464.27" y1="1317.9" x2="464.27" y2="1325.6" stroke="#19212b" stroke-width="2.6"/>
<line x1="486.16" y1="1317.9" x2="486.16" y2="1325.6" stroke="#19212b" stroke-width="2.6"/>
<line x1="504.67" y1="1317.9" x2="504.67" y2="1325.6" stroke="#19212b" stroke-width="2.6"/>
<line x1="520.7" y1="1317.9" x2="520.7" y2="1325.6" stroke="#19212b" stroke-width="2.6"/>
<line x1="534.85" y1="1317.9" x2="534.85" y2="1325.6" stroke="#19212b" stroke-width="2.6"/>
<line x1="630.73" y1="1317.9" x2="630.73" y2="1325.6" stroke="#19212b" stroke-width="2.6"/>
<line x1="679.42" y1="1317.9" x2="679.42" y2="1325.6" stroke="#19212b" stroke-width="2.6"/>
<line x1="713.97" y1="1317.9" x2="713.97" y2="1325.6" stroke="#19212b" stroke-width="2.6"/>
<line x1="740.77" y1="1317.9" x2="740.77" y2="1325.6" stroke="#19212b" stroke-width="2.6"/>
<line x1="762.66" y1="1317.9" x2="762.66" y2="1325.6" stroke="#19212b" stroke-width="2.6"/>
<line x1="781.17" y1="1317.9" x2="781.17" y2="1325.6" stroke="#19212b" stroke-width="2.6"/>
<line x1="797.2" y1="1317.9" x2="797.2" y2="1325.6" stroke="#19212b" stroke-width="2.6"/>
<line x1="811.35" y1="1317.9" x2="811.35" y2="1325.6" stroke="#19212b" stroke-width="2.6"/>
<line x1="907.23" y1="1317.9" x2="907.23" y2="1325.6" stroke="#19212b" stroke-width="2.6"/>
<line x1="174.4" y1="1231.15" x2="188.2" y2="1231.15" stroke="#19212b" stroke-width="3.4"/>
<line x1="174.4" y1="1287.85" x2="188.2" y2="1287.85" stroke="#19212b" stroke-width="3.4"/>
<rect x="188.2" y="1211.4" width="737.1" height="106.5" fill="none" stroke="#19212b" stroke-width="3.5" stroke-linejoin="miter"/>
<line x1="271" y1="1608.5" x2="271" y2="1622.3" stroke="#19212b" stroke-width="3.4"/>
<line x1="547.5" y1="1608.5" x2="547.5" y2="1622.3" stroke="#19212b" stroke-width="3.4"/>
<line x1="824" y1="1608.5" x2="824" y2="1622.3" stroke="#19212b" stroke-width="3.4"/>
<line x1="187.77" y1="1608.5" x2="187.77" y2="1616.2" stroke="#19212b" stroke-width="2.6"/>
<line x1="209.66" y1="1608.5" x2="209.66" y2="1616.2" stroke="#19212b" stroke-width="2.6"/>
<line x1="228.17" y1="1608.5" x2="228.17" y2="1616.2" stroke="#19212b" stroke-width="2.6"/>
<line x1="244.2" y1="1608.5" x2="244.2" y2="1616.2" stroke="#19212b" stroke-width="2.6"/>
<line x1="258.35" y1="1608.5" x2="258.35" y2="1616.2" stroke="#19212b" stroke-width="2.6"/>
<line x1="354.23" y1="1608.5" x2="354.23" y2="1616.2" stroke="#19212b" stroke-width="2.6"/>
<line x1="402.92" y1="1608.5" x2="402.92" y2="1616.2" stroke="#19212b" stroke-width="2.6"/>
<line x1="437.47" y1="1608.5" x2="437.47" y2="1616.2" stroke="#19212b" stroke-width="2.6"/>
<line x1="464.27" y1="1608.5" x2="464.27" y2="1616.2" stroke="#19212b" stroke-width="2.6"/>
<line x1="486.16" y1="1608.5" x2="486.16" y2="1616.2" stroke="#19212b" stroke-width="2.6"/>
<line x1="504.67" y1="1608.5" x2="504.67" y2="1616.2" stroke="#19212b" stroke-width="2.6"/>
<line x1="520.7" y1="1608.5" x2="520.7" y2="1616.2" stroke="#19212b" stroke-width="2.6"/>
<line x1="534.85" y1="1608.5" x2="534.85" y2="1616.2" stroke="#19212b" stroke-width="2.6"/>
<line x1="630.73" y1="1608.5" x2="630.73" y2="1616.2" stroke="#19212b" stroke-width="2.6"/>
<line x1="679.42" y1="1608.5" x2="679.42" y2="1616.2" stroke="#19212b" stroke-width="2.6"/>
<line x1="713.97" y1="1608.5" x2="713.97" y2="1616.2" stroke="#19212b" stroke-width="2.6"/>
<line x1="740.77" y1="1608.5" x2="740.77" y2="1616.2" stroke="#19212b" stroke-width="2.6"/>
<line x1="762.66" y1="1608.5" x2="762.66" y2="1616.2" stroke="#19212b" stroke-width="2.6"/>
<line x1="781.17" y1="1608.5" x2="781.17" y2="1616.2" stroke="#19212b" stroke-width="2.6"/>
<line x1="797.2" y1="1608.5" x2="797.2" y2="1616.2" stroke="#19212b" stroke-width="2.6"/>
<line x1="811.35" y1="1608.5" x2="811.35" y2="1616.2" stroke="#19212b" stroke-width="2.6"/>
<line x1="907.23" y1="1608.5" x2="907.23" y2="1616.2" stroke="#19212b" stroke-width="2.6"/>
<line x1="174.4" y1="1608.5" x2="188.2" y2="1608.5" stroke="#19212b" stroke-width="3.4"/>
<line x1="174.4" y1="1435.6" x2="188.2" y2="1435.6" stroke="#19212b" stroke-width="3.4"/>
<rect x="188.2" y="1431.2" width="737.1" height="177.3" fill="none" stroke="#19212b" stroke-width="3.5" stroke-linejoin="miter"/>
<line x1="271" y1="1834.5" x2="271" y2="1848.3" stroke="#19212b" stroke-width="3.4"/>
<line x1="547.5" y1="1834.5" x2="547.5" y2="1848.3" stroke="#19212b" stroke-width="3.4"/>
<line x1="824" y1="1834.5" x2="824" y2="1848.3" stroke="#19212b" stroke-width="3.4"/>
<line x1="187.77" y1="1834.5" x2="187.77" y2="1842.2" stroke="#19212b" stroke-width="2.6"/>
<line x1="209.66" y1="1834.5" x2="209.66" y2="1842.2" stroke="#19212b" stroke-width="2.6"/>
<line x1="228.17" y1="1834.5" x2="228.17" y2="1842.2" stroke="#19212b" stroke-width="2.6"/>
<line x1="244.2" y1="1834.5" x2="244.2" y2="1842.2" stroke="#19212b" stroke-width="2.6"/>
<line x1="258.35" y1="1834.5" x2="258.35" y2="1842.2" stroke="#19212b" stroke-width="2.6"/>
<line x1="354.23" y1="1834.5" x2="354.23" y2="1842.2" stroke="#19212b" stroke-width="2.6"/>
<line x1="402.92" y1="1834.5" x2="402.92" y2="1842.2" stroke="#19212b" stroke-width="2.6"/>
<line x1="437.47" y1="1834.5" x2="437.47" y2="1842.2" stroke="#19212b" stroke-width="2.6"/>
<line x1="464.27" y1="1834.5" x2="464.27" y2="1842.2" stroke="#19212b" stroke-width="2.6"/>
<line x1="486.16" y1="1834.5" x2="486.16" y2="1842.2" stroke="#19212b" stroke-width="2.6"/>
<line x1="504.67" y1="1834.5" x2="504.67" y2="1842.2" stroke="#19212b" stroke-width="2.6"/>
<line x1="520.7" y1="1834.5" x2="520.7" y2="1842.2" stroke="#19212b" stroke-width="2.6"/>
<line x1="534.85" y1="1834.5" x2="534.85" y2="1842.2" stroke="#19212b" stroke-width="2.6"/>
<line x1="630.73" y1="1834.5" x2="630.73" y2="1842.2" stroke="#19212b" stroke-width="2.6"/>
<line x1="679.42" y1="1834.5" x2="679.42" y2="1842.2" stroke="#19212b" stroke-width="2.6"/>
<line x1="713.97" y1="1834.5" x2="713.97" y2="1842.2" stroke="#19212b" stroke-width="2.6"/>
<line x1="740.77" y1="1834.5" x2="740.77" y2="1842.2" stroke="#19212b" stroke-width="2.6"/>
<line x1="762.66" y1="1834.5" x2="762.66" y2="1842.2" stroke="#19212b" stroke-width="2.6"/>
<line x1="781.17" y1="1834.5" x2="781.17" y2="1842.2" stroke="#19212b" stroke-width="2.6"/>
<line x1="797.2" y1="1834.5" x2="797.2" y2="1842.2" stroke="#19212b" stroke-width="2.6"/>
<line x1="811.35" y1="1834.5" x2="811.35" y2="1842.2" stroke="#19212b" stroke-width="2.6"/>
<line x1="907.23" y1="1834.5" x2="907.23" y2="1842.2" stroke="#19212b" stroke-width="2.6"/>
<line x1="174.4" y1="1752.6" x2="188.2" y2="1752.6" stroke="#19212b" stroke-width="3.4"/>
<line x1="174.4" y1="1662.4" x2="188.2" y2="1662.4" stroke="#19212b" stroke-width="3.4"/>
<rect x="188.2" y="1657.6" width="737.1" height="176.9" fill="none" stroke="#19212b" stroke-width="3.5" stroke-linejoin="miter"/>
<line x1="271" y1="1990.4" x2="271" y2="2004.2" stroke="#19212b" stroke-width="3.4"/>
<line x1="547.5" y1="1990.4" x2="547.5" y2="2004.2" stroke="#19212b" stroke-width="3.4"/>
<line x1="824" y1="1990.4" x2="824" y2="2004.2" stroke="#19212b" stroke-width="3.4"/>
<line x1="187.77" y1="1990.4" x2="187.77" y2="1998.1" stroke="#19212b" stroke-width="2.6"/>
<line x1="209.66" y1="1990.4" x2="209.66" y2="1998.1" stroke="#19212b" stroke-width="2.6"/>
<line x1="228.17" y1="1990.4" x2="228.17" y2="1998.1" stroke="#19212b" stroke-width="2.6"/>
<line x1="244.2" y1="1990.4" x2="244.2" y2="1998.1" stroke="#19212b" stroke-width="2.6"/>
<line x1="258.35" y1="1990.4" x2="258.35" y2="1998.1" stroke="#19212b" stroke-width="2.6"/>
<line x1="354.23" y1="1990.4" x2="354.23" y2="1998.1" stroke="#19212b" stroke-width="2.6"/>
<line x1="402.92" y1="1990.4" x2="402.92" y2="1998.1" stroke="#19212b" stroke-width="2.6"/>
<line x1="437.47" y1="1990.4" x2="437.47" y2="1998.1" stroke="#19212b" stroke-width="2.6"/>
<line x1="464.27" y1="1990.4" x2="464.27" y2="1998.1" stroke="#19212b" stroke-width="2.6"/>
<line x1="486.16" y1="1990.4" x2="486.16" y2="1998.1" stroke="#19212b" stroke-width="2.6"/>
<line x1="504.67" y1="1990.4" x2="504.67" y2="1998.1" stroke="#19212b" stroke-width="2.6"/>
<line x1="520.7" y1="1990.4" x2="520.7" y2="1998.1" stroke="#19212b" stroke-width="2.6"/>
<line x1="534.85" y1="1990.4" x2="534.85" y2="1998.1" stroke="#19212b" stroke-width="2.6"/>
<line x1="630.73" y1="1990.4" x2="630.73" y2="1998.1" stroke="#19212b" stroke-width="2.6"/>
<line x1="679.42" y1="1990.4" x2="679.42" y2="1998.1" stroke="#19212b" stroke-width="2.6"/>
<line x1="713.97" y1="1990.4" x2="713.97" y2="1998.1" stroke="#19212b" stroke-width="2.6"/>
<line x1="740.77" y1="1990.4" x2="740.77" y2="1998.1" stroke="#19212b" stroke-width="2.6"/>
<line x1="762.66" y1="1990.4" x2="762.66" y2="1998.1" stroke="#19212b" stroke-width="2.6"/>
<line x1="781.17" y1="1990.4" x2="781.17" y2="1998.1" stroke="#19212b" stroke-width="2.6"/>
<line x1="797.2" y1="1990.4" x2="797.2" y2="1998.1" stroke="#19212b" stroke-width="2.6"/>
<line x1="811.35" y1="1990.4" x2="811.35" y2="1998.1" stroke="#19212b" stroke-width="2.6"/>
<line x1="907.23" y1="1990.4" x2="907.23" y2="1998.1" stroke="#19212b" stroke-width="2.6"/>
<line x1="174.4" y1="1903.65" x2="188.2" y2="1903.65" stroke="#19212b" stroke-width="3.4"/>
<line x1="174.4" y1="1960.35" x2="188.2" y2="1960.35" stroke="#19212b" stroke-width="3.4"/>
<rect x="188.2" y="1883.9" width="737.1" height="106.5" fill="none" stroke="#19212b" stroke-width="3.5" stroke-linejoin="miter"/>
<line x1="1069.5" y1="263" x2="1069.5" y2="276.8" stroke="#19212b" stroke-width="3.4"/>
<line x1="1345.6" y1="263" x2="1345.6" y2="276.8" stroke="#19212b" stroke-width="3.4"/>
<line x1="1621.7" y1="263" x2="1621.7" y2="276.8" stroke="#19212b" stroke-width="3.4"/>
<line x1="986.39" y1="263" x2="986.39" y2="270.7" stroke="#19212b" stroke-width="2.6"/>
<line x1="1008.25" y1="263" x2="1008.25" y2="270.7" stroke="#19212b" stroke-width="2.6"/>
<line x1="1026.73" y1="263" x2="1026.73" y2="270.7" stroke="#19212b" stroke-width="2.6"/>
<line x1="1042.74" y1="263" x2="1042.74" y2="270.7" stroke="#19212b" stroke-width="2.6"/>
<line x1="1056.87" y1="263" x2="1056.87" y2="270.7" stroke="#19212b" stroke-width="2.6"/>
<line x1="1152.61" y1="263" x2="1152.61" y2="270.7" stroke="#19212b" stroke-width="2.6"/>
<line x1="1201.23" y1="263" x2="1201.23" y2="270.7" stroke="#19212b" stroke-width="2.6"/>
<line x1="1235.73" y1="263" x2="1235.73" y2="270.7" stroke="#19212b" stroke-width="2.6"/>
<line x1="1262.49" y1="263" x2="1262.49" y2="270.7" stroke="#19212b" stroke-width="2.6"/>
<line x1="1284.35" y1="263" x2="1284.35" y2="270.7" stroke="#19212b" stroke-width="2.6"/>
<line x1="1302.83" y1="263" x2="1302.83" y2="270.7" stroke="#19212b" stroke-width="2.6"/>
<line x1="1318.84" y1="263" x2="1318.84" y2="270.7" stroke="#19212b" stroke-width="2.6"/>
<line x1="1332.97" y1="263" x2="1332.97" y2="270.7" stroke="#19212b" stroke-width="2.6"/>
<line x1="1428.71" y1="263" x2="1428.71" y2="270.7" stroke="#19212b" stroke-width="2.6"/>
<line x1="1477.33" y1="263" x2="1477.33" y2="270.7" stroke="#19212b" stroke-width="2.6"/>
<line x1="1511.83" y1="263" x2="1511.83" y2="270.7" stroke="#19212b" stroke-width="2.6"/>
<line x1="1538.59" y1="263" x2="1538.59" y2="270.7" stroke="#19212b" stroke-width="2.6"/>
<line x1="1560.45" y1="263" x2="1560.45" y2="270.7" stroke="#19212b" stroke-width="2.6"/>
<line x1="1578.93" y1="263" x2="1578.93" y2="270.7" stroke="#19212b" stroke-width="2.6"/>
<line x1="1594.94" y1="263" x2="1594.94" y2="270.7" stroke="#19212b" stroke-width="2.6"/>
<line x1="1609.07" y1="263" x2="1609.07" y2="270.7" stroke="#19212b" stroke-width="2.6"/>
<line x1="1704.81" y1="263" x2="1704.81" y2="270.7" stroke="#19212b" stroke-width="2.6"/>
<line x1="972.2" y1="263" x2="986" y2="263" stroke="#19212b" stroke-width="3.4"/>
<line x1="972.2" y1="90.1" x2="986" y2="90.1" stroke="#19212b" stroke-width="3.4"/>
<rect x="986" y="85.7" width="737.2" height="177.3" fill="none" stroke="#19212b" stroke-width="3.5" stroke-linejoin="miter"/>
<line x1="1069.5" y1="489" x2="1069.5" y2="502.8" stroke="#19212b" stroke-width="3.4"/>
<line x1="1345.6" y1="489" x2="1345.6" y2="502.8" stroke="#19212b" stroke-width="3.4"/>
<line x1="1621.7" y1="489" x2="1621.7" y2="502.8" stroke="#19212b" stroke-width="3.4"/>
<line x1="986.39" y1="489" x2="986.39" y2="496.7" stroke="#19212b" stroke-width="2.6"/>
<line x1="1008.25" y1="489" x2="1008.25" y2="496.7" stroke="#19212b" stroke-width="2.6"/>
<line x1="1026.73" y1="489" x2="1026.73" y2="496.7" stroke="#19212b" stroke-width="2.6"/>
<line x1="1042.74" y1="489" x2="1042.74" y2="496.7" stroke="#19212b" stroke-width="2.6"/>
<line x1="1056.87" y1="489" x2="1056.87" y2="496.7" stroke="#19212b" stroke-width="2.6"/>
<line x1="1152.61" y1="489" x2="1152.61" y2="496.7" stroke="#19212b" stroke-width="2.6"/>
<line x1="1201.23" y1="489" x2="1201.23" y2="496.7" stroke="#19212b" stroke-width="2.6"/>
<line x1="1235.73" y1="489" x2="1235.73" y2="496.7" stroke="#19212b" stroke-width="2.6"/>
<line x1="1262.49" y1="489" x2="1262.49" y2="496.7" stroke="#19212b" stroke-width="2.6"/>
<line x1="1284.35" y1="489" x2="1284.35" y2="496.7" stroke="#19212b" stroke-width="2.6"/>
<line x1="1302.83" y1="489" x2="1302.83" y2="496.7" stroke="#19212b" stroke-width="2.6"/>
<line x1="1318.84" y1="489" x2="1318.84" y2="496.7" stroke="#19212b" stroke-width="2.6"/>
<line x1="1332.97" y1="489" x2="1332.97" y2="496.7" stroke="#19212b" stroke-width="2.6"/>
<line x1="1428.71" y1="489" x2="1428.71" y2="496.7" stroke="#19212b" stroke-width="2.6"/>
<line x1="1477.33" y1="489" x2="1477.33" y2="496.7" stroke="#19212b" stroke-width="2.6"/>
<line x1="1511.83" y1="489" x2="1511.83" y2="496.7" stroke="#19212b" stroke-width="2.6"/>
<line x1="1538.59" y1="489" x2="1538.59" y2="496.7" stroke="#19212b" stroke-width="2.6"/>
<line x1="1560.45" y1="489" x2="1560.45" y2="496.7" stroke="#19212b" stroke-width="2.6"/>
<line x1="1578.93" y1="489" x2="1578.93" y2="496.7" stroke="#19212b" stroke-width="2.6"/>
<line x1="1594.94" y1="489" x2="1594.94" y2="496.7" stroke="#19212b" stroke-width="2.6"/>
<line x1="1609.07" y1="489" x2="1609.07" y2="496.7" stroke="#19212b" stroke-width="2.6"/>
<line x1="1704.81" y1="489" x2="1704.81" y2="496.7" stroke="#19212b" stroke-width="2.6"/>
<line x1="972.2" y1="407.1" x2="986" y2="407.1" stroke="#19212b" stroke-width="3.4"/>
<line x1="972.2" y1="316.9" x2="986" y2="316.9" stroke="#19212b" stroke-width="3.4"/>
<rect x="986" y="312.1" width="737.2" height="176.9" fill="none" stroke="#19212b" stroke-width="3.5" stroke-linejoin="miter"/>
<line x1="1069.5" y1="644.9" x2="1069.5" y2="658.7" stroke="#19212b" stroke-width="3.4"/>
<line x1="1345.6" y1="644.9" x2="1345.6" y2="658.7" stroke="#19212b" stroke-width="3.4"/>
<line x1="1621.7" y1="644.9" x2="1621.7" y2="658.7" stroke="#19212b" stroke-width="3.4"/>
<line x1="986.39" y1="644.9" x2="986.39" y2="652.6" stroke="#19212b" stroke-width="2.6"/>
<line x1="1008.25" y1="644.9" x2="1008.25" y2="652.6" stroke="#19212b" stroke-width="2.6"/>
<line x1="1026.73" y1="644.9" x2="1026.73" y2="652.6" stroke="#19212b" stroke-width="2.6"/>
<line x1="1042.74" y1="644.9" x2="1042.74" y2="652.6" stroke="#19212b" stroke-width="2.6"/>
<line x1="1056.87" y1="644.9" x2="1056.87" y2="652.6" stroke="#19212b" stroke-width="2.6"/>
<line x1="1152.61" y1="644.9" x2="1152.61" y2="652.6" stroke="#19212b" stroke-width="2.6"/>
<line x1="1201.23" y1="644.9" x2="1201.23" y2="652.6" stroke="#19212b" stroke-width="2.6"/>
<line x1="1235.73" y1="644.9" x2="1235.73" y2="652.6" stroke="#19212b" stroke-width="2.6"/>
<line x1="1262.49" y1="644.9" x2="1262.49" y2="652.6" stroke="#19212b" stroke-width="2.6"/>
<line x1="1284.35" y1="644.9" x2="1284.35" y2="652.6" stroke="#19212b" stroke-width="2.6"/>
<line x1="1302.83" y1="644.9" x2="1302.83" y2="652.6" stroke="#19212b" stroke-width="2.6"/>
<line x1="1318.84" y1="644.9" x2="1318.84" y2="652.6" stroke="#19212b" stroke-width="2.6"/>
<line x1="1332.97" y1="644.9" x2="1332.97" y2="652.6" stroke="#19212b" stroke-width="2.6"/>
<line x1="1428.71" y1="644.9" x2="1428.71" y2="652.6" stroke="#19212b" stroke-width="2.6"/>
<line x1="1477.33" y1="644.9" x2="1477.33" y2="652.6" stroke="#19212b" stroke-width="2.6"/>
<line x1="1511.83" y1="644.9" x2="1511.83" y2="652.6" stroke="#19212b" stroke-width="2.6"/>
<line x1="1538.59" y1="644.9" x2="1538.59" y2="652.6" stroke="#19212b" stroke-width="2.6"/>
<line x1="1560.45" y1="644.9" x2="1560.45" y2="652.6" stroke="#19212b" stroke-width="2.6"/>
<line x1="1578.93" y1="644.9" x2="1578.93" y2="652.6" stroke="#19212b" stroke-width="2.6"/>
<line x1="1594.94" y1="644.9" x2="1594.94" y2="652.6" stroke="#19212b" stroke-width="2.6"/>
<line x1="1609.07" y1="644.9" x2="1609.07" y2="652.6" stroke="#19212b" stroke-width="2.6"/>
<line x1="1704.81" y1="644.9" x2="1704.81" y2="652.6" stroke="#19212b" stroke-width="2.6"/>
<line x1="972.2" y1="558.15" x2="986" y2="558.15" stroke="#19212b" stroke-width="3.4"/>
<line x1="972.2" y1="614.85" x2="986" y2="614.85" stroke="#19212b" stroke-width="3.4"/>
<rect x="986" y="538.4" width="737.2" height="106.5" fill="none" stroke="#19212b" stroke-width="3.5" stroke-linejoin="miter"/>
<line x1="1068.8" y1="936" x2="1068.8" y2="949.8" stroke="#19212b" stroke-width="3.4"/>
<line x1="1344.3" y1="936" x2="1344.3" y2="949.8" stroke="#19212b" stroke-width="3.4"/>
<line x1="1619.8" y1="936" x2="1619.8" y2="949.8" stroke="#19212b" stroke-width="3.4"/>
<line x1="985.87" y1="936" x2="985.87" y2="943.7" stroke="#19212b" stroke-width="2.6"/>
<line x1="1007.68" y1="936" x2="1007.68" y2="943.7" stroke="#19212b" stroke-width="2.6"/>
<line x1="1026.12" y1="936" x2="1026.12" y2="943.7" stroke="#19212b" stroke-width="2.6"/>
<line x1="1042.1" y1="936" x2="1042.1" y2="943.7" stroke="#19212b" stroke-width="2.6"/>
<line x1="1056.19" y1="936" x2="1056.19" y2="943.7" stroke="#19212b" stroke-width="2.6"/>
<line x1="1151.73" y1="936" x2="1151.73" y2="943.7" stroke="#19212b" stroke-width="2.6"/>
<line x1="1200.25" y1="936" x2="1200.25" y2="943.7" stroke="#19212b" stroke-width="2.6"/>
<line x1="1234.67" y1="936" x2="1234.67" y2="943.7" stroke="#19212b" stroke-width="2.6"/>
<line x1="1261.37" y1="936" x2="1261.37" y2="943.7" stroke="#19212b" stroke-width="2.6"/>
<line x1="1283.18" y1="936" x2="1283.18" y2="943.7" stroke="#19212b" stroke-width="2.6"/>
<line x1="1301.62" y1="936" x2="1301.62" y2="943.7" stroke="#19212b" stroke-width="2.6"/>
<line x1="1317.6" y1="936" x2="1317.6" y2="943.7" stroke="#19212b" stroke-width="2.6"/>
<line x1="1331.69" y1="936" x2="1331.69" y2="943.7" stroke="#19212b" stroke-width="2.6"/>
<line x1="1427.23" y1="936" x2="1427.23" y2="943.7" stroke="#19212b" stroke-width="2.6"/>
<line x1="1475.75" y1="936" x2="1475.75" y2="943.7" stroke="#19212b" stroke-width="2.6"/>
<line x1="1510.17" y1="936" x2="1510.17" y2="943.7" stroke="#19212b" stroke-width="2.6"/>
<line x1="1536.87" y1="936" x2="1536.87" y2="943.7" stroke="#19212b" stroke-width="2.6"/>
<line x1="1558.68" y1="936" x2="1558.68" y2="943.7" stroke="#19212b" stroke-width="2.6"/>
<line x1="1577.12" y1="936" x2="1577.12" y2="943.7" stroke="#19212b" stroke-width="2.6"/>
<line x1="1593.1" y1="936" x2="1593.1" y2="943.7" stroke="#19212b" stroke-width="2.6"/>
<line x1="1607.19" y1="936" x2="1607.19" y2="943.7" stroke="#19212b" stroke-width="2.6"/>
<line x1="1702.73" y1="936" x2="1702.73" y2="943.7" stroke="#19212b" stroke-width="2.6"/>
<line x1="972.2" y1="936" x2="986" y2="936" stroke="#19212b" stroke-width="3.4"/>
<line x1="972.2" y1="763.1" x2="986" y2="763.1" stroke="#19212b" stroke-width="3.4"/>
<rect x="986" y="758.7" width="737.2" height="177.3" fill="none" stroke="#19212b" stroke-width="3.5" stroke-linejoin="miter"/>
<line x1="1068.8" y1="1162" x2="1068.8" y2="1175.8" stroke="#19212b" stroke-width="3.4"/>
<line x1="1344.3" y1="1162" x2="1344.3" y2="1175.8" stroke="#19212b" stroke-width="3.4"/>
<line x1="1619.8" y1="1162" x2="1619.8" y2="1175.8" stroke="#19212b" stroke-width="3.4"/>
<line x1="985.87" y1="1162" x2="985.87" y2="1169.7" stroke="#19212b" stroke-width="2.6"/>
<line x1="1007.68" y1="1162" x2="1007.68" y2="1169.7" stroke="#19212b" stroke-width="2.6"/>
<line x1="1026.12" y1="1162" x2="1026.12" y2="1169.7" stroke="#19212b" stroke-width="2.6"/>
<line x1="1042.1" y1="1162" x2="1042.1" y2="1169.7" stroke="#19212b" stroke-width="2.6"/>
<line x1="1056.19" y1="1162" x2="1056.19" y2="1169.7" stroke="#19212b" stroke-width="2.6"/>
<line x1="1151.73" y1="1162" x2="1151.73" y2="1169.7" stroke="#19212b" stroke-width="2.6"/>
<line x1="1200.25" y1="1162" x2="1200.25" y2="1169.7" stroke="#19212b" stroke-width="2.6"/>
<line x1="1234.67" y1="1162" x2="1234.67" y2="1169.7" stroke="#19212b" stroke-width="2.6"/>
<line x1="1261.37" y1="1162" x2="1261.37" y2="1169.7" stroke="#19212b" stroke-width="2.6"/>
<line x1="1283.18" y1="1162" x2="1283.18" y2="1169.7" stroke="#19212b" stroke-width="2.6"/>
<line x1="1301.62" y1="1162" x2="1301.62" y2="1169.7" stroke="#19212b" stroke-width="2.6"/>
<line x1="1317.6" y1="1162" x2="1317.6" y2="1169.7" stroke="#19212b" stroke-width="2.6"/>
<line x1="1331.69" y1="1162" x2="1331.69" y2="1169.7" stroke="#19212b" stroke-width="2.6"/>
<line x1="1427.23" y1="1162" x2="1427.23" y2="1169.7" stroke="#19212b" stroke-width="2.6"/>
<line x1="1475.75" y1="1162" x2="1475.75" y2="1169.7" stroke="#19212b" stroke-width="2.6"/>
<line x1="1510.17" y1="1162" x2="1510.17" y2="1169.7" stroke="#19212b" stroke-width="2.6"/>
<line x1="1536.87" y1="1162" x2="1536.87" y2="1169.7" stroke="#19212b" stroke-width="2.6"/>
<line x1="1558.68" y1="1162" x2="1558.68" y2="1169.7" stroke="#19212b" stroke-width="2.6"/>
<line x1="1577.12" y1="1162" x2="1577.12" y2="1169.7" stroke="#19212b" stroke-width="2.6"/>
<line x1="1593.1" y1="1162" x2="1593.1" y2="1169.7" stroke="#19212b" stroke-width="2.6"/>
<line x1="1607.19" y1="1162" x2="1607.19" y2="1169.7" stroke="#19212b" stroke-width="2.6"/>
<line x1="1702.73" y1="1162" x2="1702.73" y2="1169.7" stroke="#19212b" stroke-width="2.6"/>
<line x1="972.2" y1="1080.1" x2="986" y2="1080.1" stroke="#19212b" stroke-width="3.4"/>
<line x1="972.2" y1="989.9" x2="986" y2="989.9" stroke="#19212b" stroke-width="3.4"/>
<rect x="986" y="985.1" width="737.2" height="176.9" fill="none" stroke="#19212b" stroke-width="3.5" stroke-linejoin="miter"/>
<line x1="1068.8" y1="1317.9" x2="1068.8" y2="1331.7" stroke="#19212b" stroke-width="3.4"/>
<line x1="1344.3" y1="1317.9" x2="1344.3" y2="1331.7" stroke="#19212b" stroke-width="3.4"/>
<line x1="1619.8" y1="1317.9" x2="1619.8" y2="1331.7" stroke="#19212b" stroke-width="3.4"/>
<line x1="985.87" y1="1317.9" x2="985.87" y2="1325.6" stroke="#19212b" stroke-width="2.6"/>
<line x1="1007.68" y1="1317.9" x2="1007.68" y2="1325.6" stroke="#19212b" stroke-width="2.6"/>
<line x1="1026.12" y1="1317.9" x2="1026.12" y2="1325.6" stroke="#19212b" stroke-width="2.6"/>
<line x1="1042.1" y1="1317.9" x2="1042.1" y2="1325.6" stroke="#19212b" stroke-width="2.6"/>
<line x1="1056.19" y1="1317.9" x2="1056.19" y2="1325.6" stroke="#19212b" stroke-width="2.6"/>
<line x1="1151.73" y1="1317.9" x2="1151.73" y2="1325.6" stroke="#19212b" stroke-width="2.6"/>
<line x1="1200.25" y1="1317.9" x2="1200.25" y2="1325.6" stroke="#19212b" stroke-width="2.6"/>
<line x1="1234.67" y1="1317.9" x2="1234.67" y2="1325.6" stroke="#19212b" stroke-width="2.6"/>
<line x1="1261.37" y1="1317.9" x2="1261.37" y2="1325.6" stroke="#19212b" stroke-width="2.6"/>
<line x1="1283.18" y1="1317.9" x2="1283.18" y2="1325.6" stroke="#19212b" stroke-width="2.6"/>
<line x1="1301.62" y1="1317.9" x2="1301.62" y2="1325.6" stroke="#19212b" stroke-width="2.6"/>
<line x1="1317.6" y1="1317.9" x2="1317.6" y2="1325.6" stroke="#19212b" stroke-width="2.6"/>
<line x1="1331.69" y1="1317.9" x2="1331.69" y2="1325.6" stroke="#19212b" stroke-width="2.6"/>
<line x1="1427.23" y1="1317.9" x2="1427.23" y2="1325.6" stroke="#19212b" stroke-width="2.6"/>
<line x1="1475.75" y1="1317.9" x2="1475.75" y2="1325.6" stroke="#19212b" stroke-width="2.6"/>
<line x1="1510.17" y1="1317.9" x2="1510.17" y2="1325.6" stroke="#19212b" stroke-width="2.6"/>
<line x1="1536.87" y1="1317.9" x2="1536.87" y2="1325.6" stroke="#19212b" stroke-width="2.6"/>
<line x1="1558.68" y1="1317.9" x2="1558.68" y2="1325.6" stroke="#19212b" stroke-width="2.6"/>
<line x1="1577.12" y1="1317.9" x2="1577.12" y2="1325.6" stroke="#19212b" stroke-width="2.6"/>
<line x1="1593.1" y1="1317.9" x2="1593.1" y2="1325.6" stroke="#19212b" stroke-width="2.6"/>
<line x1="1607.19" y1="1317.9" x2="1607.19" y2="1325.6" stroke="#19212b" stroke-width="2.6"/>
<line x1="1702.73" y1="1317.9" x2="1702.73" y2="1325.6" stroke="#19212b" stroke-width="2.6"/>
<line x1="972.2" y1="1231.15" x2="986" y2="1231.15" stroke="#19212b" stroke-width="3.4"/>
<line x1="972.2" y1="1287.85" x2="986" y2="1287.85" stroke="#19212b" stroke-width="3.4"/>
<rect x="986" y="1211.4" width="737.2" height="106.5" fill="none" stroke="#19212b" stroke-width="3.5" stroke-linejoin="miter"/>
<line x1="1068.3" y1="1608.5" x2="1068.3" y2="1622.3" stroke="#19212b" stroke-width="3.4"/>
<line x1="1342.15" y1="1608.5" x2="1342.15" y2="1622.3" stroke="#19212b" stroke-width="3.4"/>
<line x1="1616" y1="1608.5" x2="1616" y2="1622.3" stroke="#19212b" stroke-width="3.4"/>
<line x1="985.86" y1="1608.5" x2="985.86" y2="1616.2" stroke="#19212b" stroke-width="2.6"/>
<line x1="1007.55" y1="1608.5" x2="1007.55" y2="1616.2" stroke="#19212b" stroke-width="2.6"/>
<line x1="1025.88" y1="1608.5" x2="1025.88" y2="1616.2" stroke="#19212b" stroke-width="2.6"/>
<line x1="1041.76" y1="1608.5" x2="1041.76" y2="1616.2" stroke="#19212b" stroke-width="2.6"/>
<line x1="1055.77" y1="1608.5" x2="1055.77" y2="1616.2" stroke="#19212b" stroke-width="2.6"/>
<line x1="1150.74" y1="1608.5" x2="1150.74" y2="1616.2" stroke="#19212b" stroke-width="2.6"/>
<line x1="1198.96" y1="1608.5" x2="1198.96" y2="1616.2" stroke="#19212b" stroke-width="2.6"/>
<line x1="1233.17" y1="1608.5" x2="1233.17" y2="1616.2" stroke="#19212b" stroke-width="2.6"/>
<line x1="1259.71" y1="1608.5" x2="1259.71" y2="1616.2" stroke="#19212b" stroke-width="2.6"/>
<line x1="1281.4" y1="1608.5" x2="1281.4" y2="1616.2" stroke="#19212b" stroke-width="2.6"/>
<line x1="1299.73" y1="1608.5" x2="1299.73" y2="1616.2" stroke="#19212b" stroke-width="2.6"/>
<line x1="1315.61" y1="1608.5" x2="1315.61" y2="1616.2" stroke="#19212b" stroke-width="2.6"/>
<line x1="1329.62" y1="1608.5" x2="1329.62" y2="1616.2" stroke="#19212b" stroke-width="2.6"/>
<line x1="1424.59" y1="1608.5" x2="1424.59" y2="1616.2" stroke="#19212b" stroke-width="2.6"/>
<line x1="1472.81" y1="1608.5" x2="1472.81" y2="1616.2" stroke="#19212b" stroke-width="2.6"/>
<line x1="1507.02" y1="1608.5" x2="1507.02" y2="1616.2" stroke="#19212b" stroke-width="2.6"/>
<line x1="1533.56" y1="1608.5" x2="1533.56" y2="1616.2" stroke="#19212b" stroke-width="2.6"/>
<line x1="1555.25" y1="1608.5" x2="1555.25" y2="1616.2" stroke="#19212b" stroke-width="2.6"/>
<line x1="1573.58" y1="1608.5" x2="1573.58" y2="1616.2" stroke="#19212b" stroke-width="2.6"/>
<line x1="1589.46" y1="1608.5" x2="1589.46" y2="1616.2" stroke="#19212b" stroke-width="2.6"/>
<line x1="1603.47" y1="1608.5" x2="1603.47" y2="1616.2" stroke="#19212b" stroke-width="2.6"/>
<line x1="1698.44" y1="1608.5" x2="1698.44" y2="1616.2" stroke="#19212b" stroke-width="2.6"/>
<line x1="972.2" y1="1608.5" x2="986" y2="1608.5" stroke="#19212b" stroke-width="3.4"/>
<line x1="972.2" y1="1435.6" x2="986" y2="1435.6" stroke="#19212b" stroke-width="3.4"/>
<rect x="986" y="1431.2" width="737.2" height="177.3" fill="none" stroke="#19212b" stroke-width="3.5" stroke-linejoin="miter"/>
<line x1="1068.3" y1="1834.5" x2="1068.3" y2="1848.3" stroke="#19212b" stroke-width="3.4"/>
<line x1="1342.15" y1="1834.5" x2="1342.15" y2="1848.3" stroke="#19212b" stroke-width="3.4"/>
<line x1="1616" y1="1834.5" x2="1616" y2="1848.3" stroke="#19212b" stroke-width="3.4"/>
<line x1="985.86" y1="1834.5" x2="985.86" y2="1842.2" stroke="#19212b" stroke-width="2.6"/>
<line x1="1007.55" y1="1834.5" x2="1007.55" y2="1842.2" stroke="#19212b" stroke-width="2.6"/>
<line x1="1025.88" y1="1834.5" x2="1025.88" y2="1842.2" stroke="#19212b" stroke-width="2.6"/>
<line x1="1041.76" y1="1834.5" x2="1041.76" y2="1842.2" stroke="#19212b" stroke-width="2.6"/>
<line x1="1055.77" y1="1834.5" x2="1055.77" y2="1842.2" stroke="#19212b" stroke-width="2.6"/>
<line x1="1150.74" y1="1834.5" x2="1150.74" y2="1842.2" stroke="#19212b" stroke-width="2.6"/>
<line x1="1198.96" y1="1834.5" x2="1198.96" y2="1842.2" stroke="#19212b" stroke-width="2.6"/>
<line x1="1233.17" y1="1834.5" x2="1233.17" y2="1842.2" stroke="#19212b" stroke-width="2.6"/>
<line x1="1259.71" y1="1834.5" x2="1259.71" y2="1842.2" stroke="#19212b" stroke-width="2.6"/>
<line x1="1281.4" y1="1834.5" x2="1281.4" y2="1842.2" stroke="#19212b" stroke-width="2.6"/>
<line x1="1299.73" y1="1834.5" x2="1299.73" y2="1842.2" stroke="#19212b" stroke-width="2.6"/>
<line x1="1315.61" y1="1834.5" x2="1315.61" y2="1842.2" stroke="#19212b" stroke-width="2.6"/>
<line x1="1329.62" y1="1834.5" x2="1329.62" y2="1842.2" stroke="#19212b" stroke-width="2.6"/>
<line x1="1424.59" y1="1834.5" x2="1424.59" y2="1842.2" stroke="#19212b" stroke-width="2.6"/>
<line x1="1472.81" y1="1834.5" x2="1472.81" y2="1842.2" stroke="#19212b" stroke-width="2.6"/>
<line x1="1507.02" y1="1834.5" x2="1507.02" y2="1842.2" stroke="#19212b" stroke-width="2.6"/>
<line x1="1533.56" y1="1834.5" x2="1533.56" y2="1842.2" stroke="#19212b" stroke-width="2.6"/>
<line x1="1555.25" y1="1834.5" x2="1555.25" y2="1842.2" stroke="#19212b" stroke-width="2.6"/>
<line x1="1573.58" y1="1834.5" x2="1573.58" y2="1842.2" stroke="#19212b" stroke-width="2.6"/>
<line x1="1589.46" y1="1834.5" x2="1589.46" y2="1842.2" stroke="#19212b" stroke-width="2.6"/>
<line x1="1603.47" y1="1834.5" x2="1603.47" y2="1842.2" stroke="#19212b" stroke-width="2.6"/>
<line x1="1698.44" y1="1834.5" x2="1698.44" y2="1842.2" stroke="#19212b" stroke-width="2.6"/>
<line x1="972.2" y1="1752.6" x2="986" y2="1752.6" stroke="#19212b" stroke-width="3.4"/>
<line x1="972.2" y1="1662.4" x2="986" y2="1662.4" stroke="#19212b" stroke-width="3.4"/>
<rect x="986" y="1657.6" width="737.2" height="176.9" fill="none" stroke="#19212b" stroke-width="3.5" stroke-linejoin="miter"/>
<line x1="1068.3" y1="1990.4" x2="1068.3" y2="2004.2" stroke="#19212b" stroke-width="3.4"/>
<line x1="1342.15" y1="1990.4" x2="1342.15" y2="2004.2" stroke="#19212b" stroke-width="3.4"/>
<line x1="1616" y1="1990.4" x2="1616" y2="2004.2" stroke="#19212b" stroke-width="3.4"/>
<line x1="985.86" y1="1990.4" x2="985.86" y2="1998.1" stroke="#19212b" stroke-width="2.6"/>
<line x1="1007.55" y1="1990.4" x2="1007.55" y2="1998.1" stroke="#19212b" stroke-width="2.6"/>
<line x1="1025.88" y1="1990.4" x2="1025.88" y2="1998.1" stroke="#19212b" stroke-width="2.6"/>
<line x1="1041.76" y1="1990.4" x2="1041.76" y2="1998.1" stroke="#19212b" stroke-width="2.6"/>
<line x1="1055.77" y1="1990.4" x2="1055.77" y2="1998.1" stroke="#19212b" stroke-width="2.6"/>
<line x1="1150.74" y1="1990.4" x2="1150.74" y2="1998.1" stroke="#19212b" stroke-width="2.6"/>
<line x1="1198.96" y1="1990.4" x2="1198.96" y2="1998.1" stroke="#19212b" stroke-width="2.6"/>
<line x1="1233.17" y1="1990.4" x2="1233.17" y2="1998.1" stroke="#19212b" stroke-width="2.6"/>
<line x1="1259.71" y1="1990.4" x2="1259.71" y2="1998.1" stroke="#19212b" stroke-width="2.6"/>
<line x1="1281.4" y1="1990.4" x2="1281.4" y2="1998.1" stroke="#19212b" stroke-width="2.6"/>
<line x1="1299.73" y1="1990.4" x2="1299.73" y2="1998.1" stroke="#19212b" stroke-width="2.6"/>
<line x1="1315.61" y1="1990.4" x2="1315.61" y2="1998.1" stroke="#19212b" stroke-width="2.6"/>
<line x1="1329.62" y1="1990.4" x2="1329.62" y2="1998.1" stroke="#19212b" stroke-width="2.6"/>
<line x1="1424.59" y1="1990.4" x2="1424.59" y2="1998.1" stroke="#19212b" stroke-width="2.6"/>
<line x1="1472.81" y1="1990.4" x2="1472.81" y2="1998.1" stroke="#19212b" stroke-width="2.6"/>
<line x1="1507.02" y1="1990.4" x2="1507.02" y2="1998.1" stroke="#19212b" stroke-width="2.6"/>
<line x1="1533.56" y1="1990.4" x2="1533.56" y2="1998.1" stroke="#19212b" stroke-width="2.6"/>
<line x1="1555.25" y1="1990.4" x2="1555.25" y2="1998.1" stroke="#19212b" stroke-width="2.6"/>
<line x1="1573.58" y1="1990.4" x2="1573.58" y2="1998.1" stroke="#19212b" stroke-width="2.6"/>
<line x1="1589.46" y1="1990.4" x2="1589.46" y2="1998.1" stroke="#19212b" stroke-width="2.6"/>
<line x1="1603.47" y1="1990.4" x2="1603.47" y2="1998.1" stroke="#19212b" stroke-width="2.6"/>
<line x1="1698.44" y1="1990.4" x2="1698.44" y2="1998.1" stroke="#19212b" stroke-width="2.6"/>
<line x1="972.2" y1="1903.65" x2="986" y2="1903.65" stroke="#19212b" stroke-width="3.4"/>
<line x1="972.2" y1="1960.35" x2="986" y2="1960.35" stroke="#19212b" stroke-width="3.4"/>
<rect x="986" y="1883.9" width="737.2" height="106.5" fill="none" stroke="#19212b" stroke-width="3.5" stroke-linejoin="miter"/>
<text x="165.7" y="103.9" font-size="32" text-anchor="end" font-family="'Liberation Sans', Arial, Helvetica, sans-serif" >2</text>
<text x="165.7" y="262" font-size="32" text-anchor="end" font-family="'Liberation Sans', Arial, Helvetica, sans-serif" >0</text>
<text x="165.7" y="330.1" font-size="32" text-anchor="end" font-family="'Liberation Sans', Arial, Helvetica, sans-serif" >1</text>
<text x="165.7" y="421.5" font-size="32" text-anchor="end" font-family="'Liberation Sans', Arial, Helvetica, sans-serif" >0</text>
<text x="165.7" y="570.9" font-size="28.5" text-anchor="end" font-family="'Liberation Sans', Arial, Helvetica, sans-serif" >10</text>
<text x="165.7" y="624.6" font-size="28.5" text-anchor="end" font-family="'Liberation Sans', Arial, Helvetica, sans-serif" >0.1</text>
<text x="165.7" y="776.9" font-size="32" text-anchor="end" font-family="'Liberation Sans', Arial, Helvetica, sans-serif" >2</text>
<text x="165.7" y="935" font-size="32" text-anchor="end" font-family="'Liberation Sans', Arial, Helvetica, sans-serif" >0</text>
<text x="165.7" y="1003.1" font-size="32" text-anchor="end" font-family="'Liberation Sans', Arial, Helvetica, sans-serif" >1</text>
<text x="165.7" y="1094.5" font-size="32" text-anchor="end" font-family="'Liberation Sans', Arial, Helvetica, sans-serif" >0</text>
<text x="165.7" y="1243.9" font-size="28.5" text-anchor="end" font-family="'Liberation Sans', Arial, Helvetica, sans-serif" >10</text>
<text x="165.7" y="1297.6" font-size="28.5" text-anchor="end" font-family="'Liberation Sans', Arial, Helvetica, sans-serif" >0.1</text>
<text x="165.7" y="1449.4" font-size="32" text-anchor="end" font-family="'Liberation Sans', Arial, Helvetica, sans-serif" >2</text>
<text x="165.7" y="1607.5" font-size="32" text-anchor="end" font-family="'Liberation Sans', Arial, Helvetica, sans-serif" >0</text>
<text x="165.7" y="1675.6" font-size="32" text-anchor="end" font-family="'Liberation Sans', Arial, Helvetica, sans-serif" >1</text>
<text x="165.7" y="1767" font-size="32" text-anchor="end" font-family="'Liberation Sans', Arial, Helvetica, sans-serif" >0</text>
<text x="165.7" y="1916.4" font-size="28.5" text-anchor="end" font-family="'Liberation Sans', Arial, Helvetica, sans-serif" >10</text>
<text x="165.7" y="1970.1" font-size="28.5" text-anchor="end" font-family="'Liberation Sans', Arial, Helvetica, sans-serif" >0.1</text>
<text x="266.5" y="2043.7" font-size="32" text-anchor="middle" font-family="'Liberation Sans', Arial, Helvetica, sans-serif" >1</text>
<text x="547.3" y="2043.7" font-size="32" text-anchor="middle" font-family="'Liberation Sans', Arial, Helvetica, sans-serif" >10</text>
<text x="821.9" y="2043.7" font-size="32" text-anchor="middle" font-family="'Liberation Sans', Arial, Helvetica, sans-serif" >100</text>
<text x="1066.5" y="2043.7" font-size="32" text-anchor="middle" font-family="'Liberation Sans', Arial, Helvetica, sans-serif" >1</text>
<text x="1347.3" y="2043.7" font-size="32" text-anchor="middle" font-family="'Liberation Sans', Arial, Helvetica, sans-serif" >10</text>
<text x="1621.9" y="2043.7" font-size="32" text-anchor="middle" font-family="'Liberation Sans', Arial, Helvetica, sans-serif" >100</text>
<g transform="translate(100.2,176.3) rotate(-90)">
<text x="-105.12" y="0" font-size="43" font-family="'Liberation Sans', Arial, Helvetica, sans-serif">Voltage (V)</text>
</g>
<g transform="translate(100.2,396) rotate(-90)">
<text x="-84.75" y="0" font-size="44" font-family="'Liberation Sans', Arial, Helvetica, sans-serif">Error (V)</text>
</g>
<g transform="translate(100.2,852.5) rotate(-90)">
<text x="-105.12" y="0" font-size="43" font-family="'Liberation Sans', Arial, Helvetica, sans-serif">Voltage (V)</text>
</g>
<g transform="translate(100.2,1071.5) rotate(-90)">
<text x="-84.75" y="0" font-size="44" font-family="'Liberation Sans', Arial, Helvetica, sans-serif">Error (V)</text>
</g>
<g transform="translate(100.2,1521.4) rotate(-90)">
<text x="-105.12" y="0" font-size="43" font-family="'Liberation Sans', Arial, Helvetica, sans-serif">Voltage (V)</text>
</g>
<g transform="translate(100.2,1740.1) rotate(-90)">
<text x="-84.75" y="0" font-size="44" font-family="'Liberation Sans', Arial, Helvetica, sans-serif">Error (V)</text>
</g>
<g transform="translate(92.7,658) rotate(-90)">
<text x="-4.78" y="0" font-size="44" font-family="'Liberation Serif', 'DejaVu Serif', serif" transform="skewX(-13)">ℓ</text>
<text font-size="44" font-family="'Liberation Sans', Arial, Helvetica, sans-serif"><tspan x="18.68" y="14.7" font-size="28" font-family="'Liberation Serif', 'DejaVu Serif', serif">0</tspan><tspan x="27.83" y="0"> (</tspan><tspan x="55.41" font-family="'Liberation Serif', 'DejaVu Serif', serif">μ</tspan><tspan x="79.62">m</tspan><tspan x="117.22">)</tspan></text>
</g>
<g transform="translate(92.7,1333) rotate(-90)">
<text x="-4.78" y="0" font-size="44" font-family="'Liberation Serif', 'DejaVu Serif', serif" transform="skewX(-13)">ℓ</text>
<text font-size="44" font-family="'Liberation Sans', Arial, Helvetica, sans-serif"><tspan x="18.68" y="14.7" font-size="28" font-family="'Liberation Serif', 'DejaVu Serif', serif">0</tspan><tspan x="27.83" y="0"> (</tspan><tspan x="55.41" font-family="'Liberation Serif', 'DejaVu Serif', serif">μ</tspan><tspan x="79.62">m</tspan><tspan x="117.22">)</tspan></text>
</g>
<g transform="translate(92.7,2002.2) rotate(-90)">
<text x="-4.78" y="0" font-size="44" font-family="'Liberation Serif', 'DejaVu Serif', serif" transform="skewX(-13)">ℓ</text>
<text font-size="44" font-family="'Liberation Sans', Arial, Helvetica, sans-serif"><tspan x="18.68" y="14.7" font-size="28" font-family="'Liberation Serif', 'DejaVu Serif', serif">0</tspan><tspan x="27.83" y="0"> (</tspan><tspan x="55.41" font-family="'Liberation Serif', 'DejaVu Serif', serif">μ</tspan><tspan x="79.62">m</tspan><tspan x="117.22">)</tspan></text>
</g>
<text x="440.05" y="40.3" font-size="55.5" font-family="'Liberation Sans', Arial, Helvetica, sans-serif">Uniform</text>
<text x="1263.58" y="40.3" font-size="55.5" font-family="'Liberation Sans', Arial, Helvetica, sans-serif">Octree</text>
<text x="-4.77" y="40.3" font-size="55.5" font-family="'Liberation Sans', Arial, Helvetica, sans-serif">a</text>
<text x="-2.42" y="730.7" font-size="55.5" font-family="'Liberation Sans', Arial, Helvetica, sans-serif">b</text>
<text x="-1.18" y="1401.5" font-size="55.5" font-family="'Liberation Sans', Arial, Helvetica, sans-serif">c</text>
<line x1="1409.9" y1="132.2" x2="1487" y2="132.2" stroke="#1a2430" stroke-width="7"/>
<line x1="1409.9" y1="184.2" x2="1487" y2="184.2" stroke="#1ebfcf" stroke-width="6.6"/>
<text x="1508.08" y="140" font-size="39.6" font-family="'Liberation Sans', Arial, Helvetica, sans-serif">Analytical</text>
<text x="1507.72" y="197" font-size="39.6" font-family="'Liberation Sans', Arial, Helvetica, sans-serif">Simulated</text>
<text x="699.4" y="2108.7" font-size="43.5" font-family="'Liberation Sans', Arial, Helvetica, sans-serif">Distance from Source (<tspan font-family="'Liberation Serif', 'DejaVu Serif', serif">μ</tspan>m)</text></svg>
</body></html>
